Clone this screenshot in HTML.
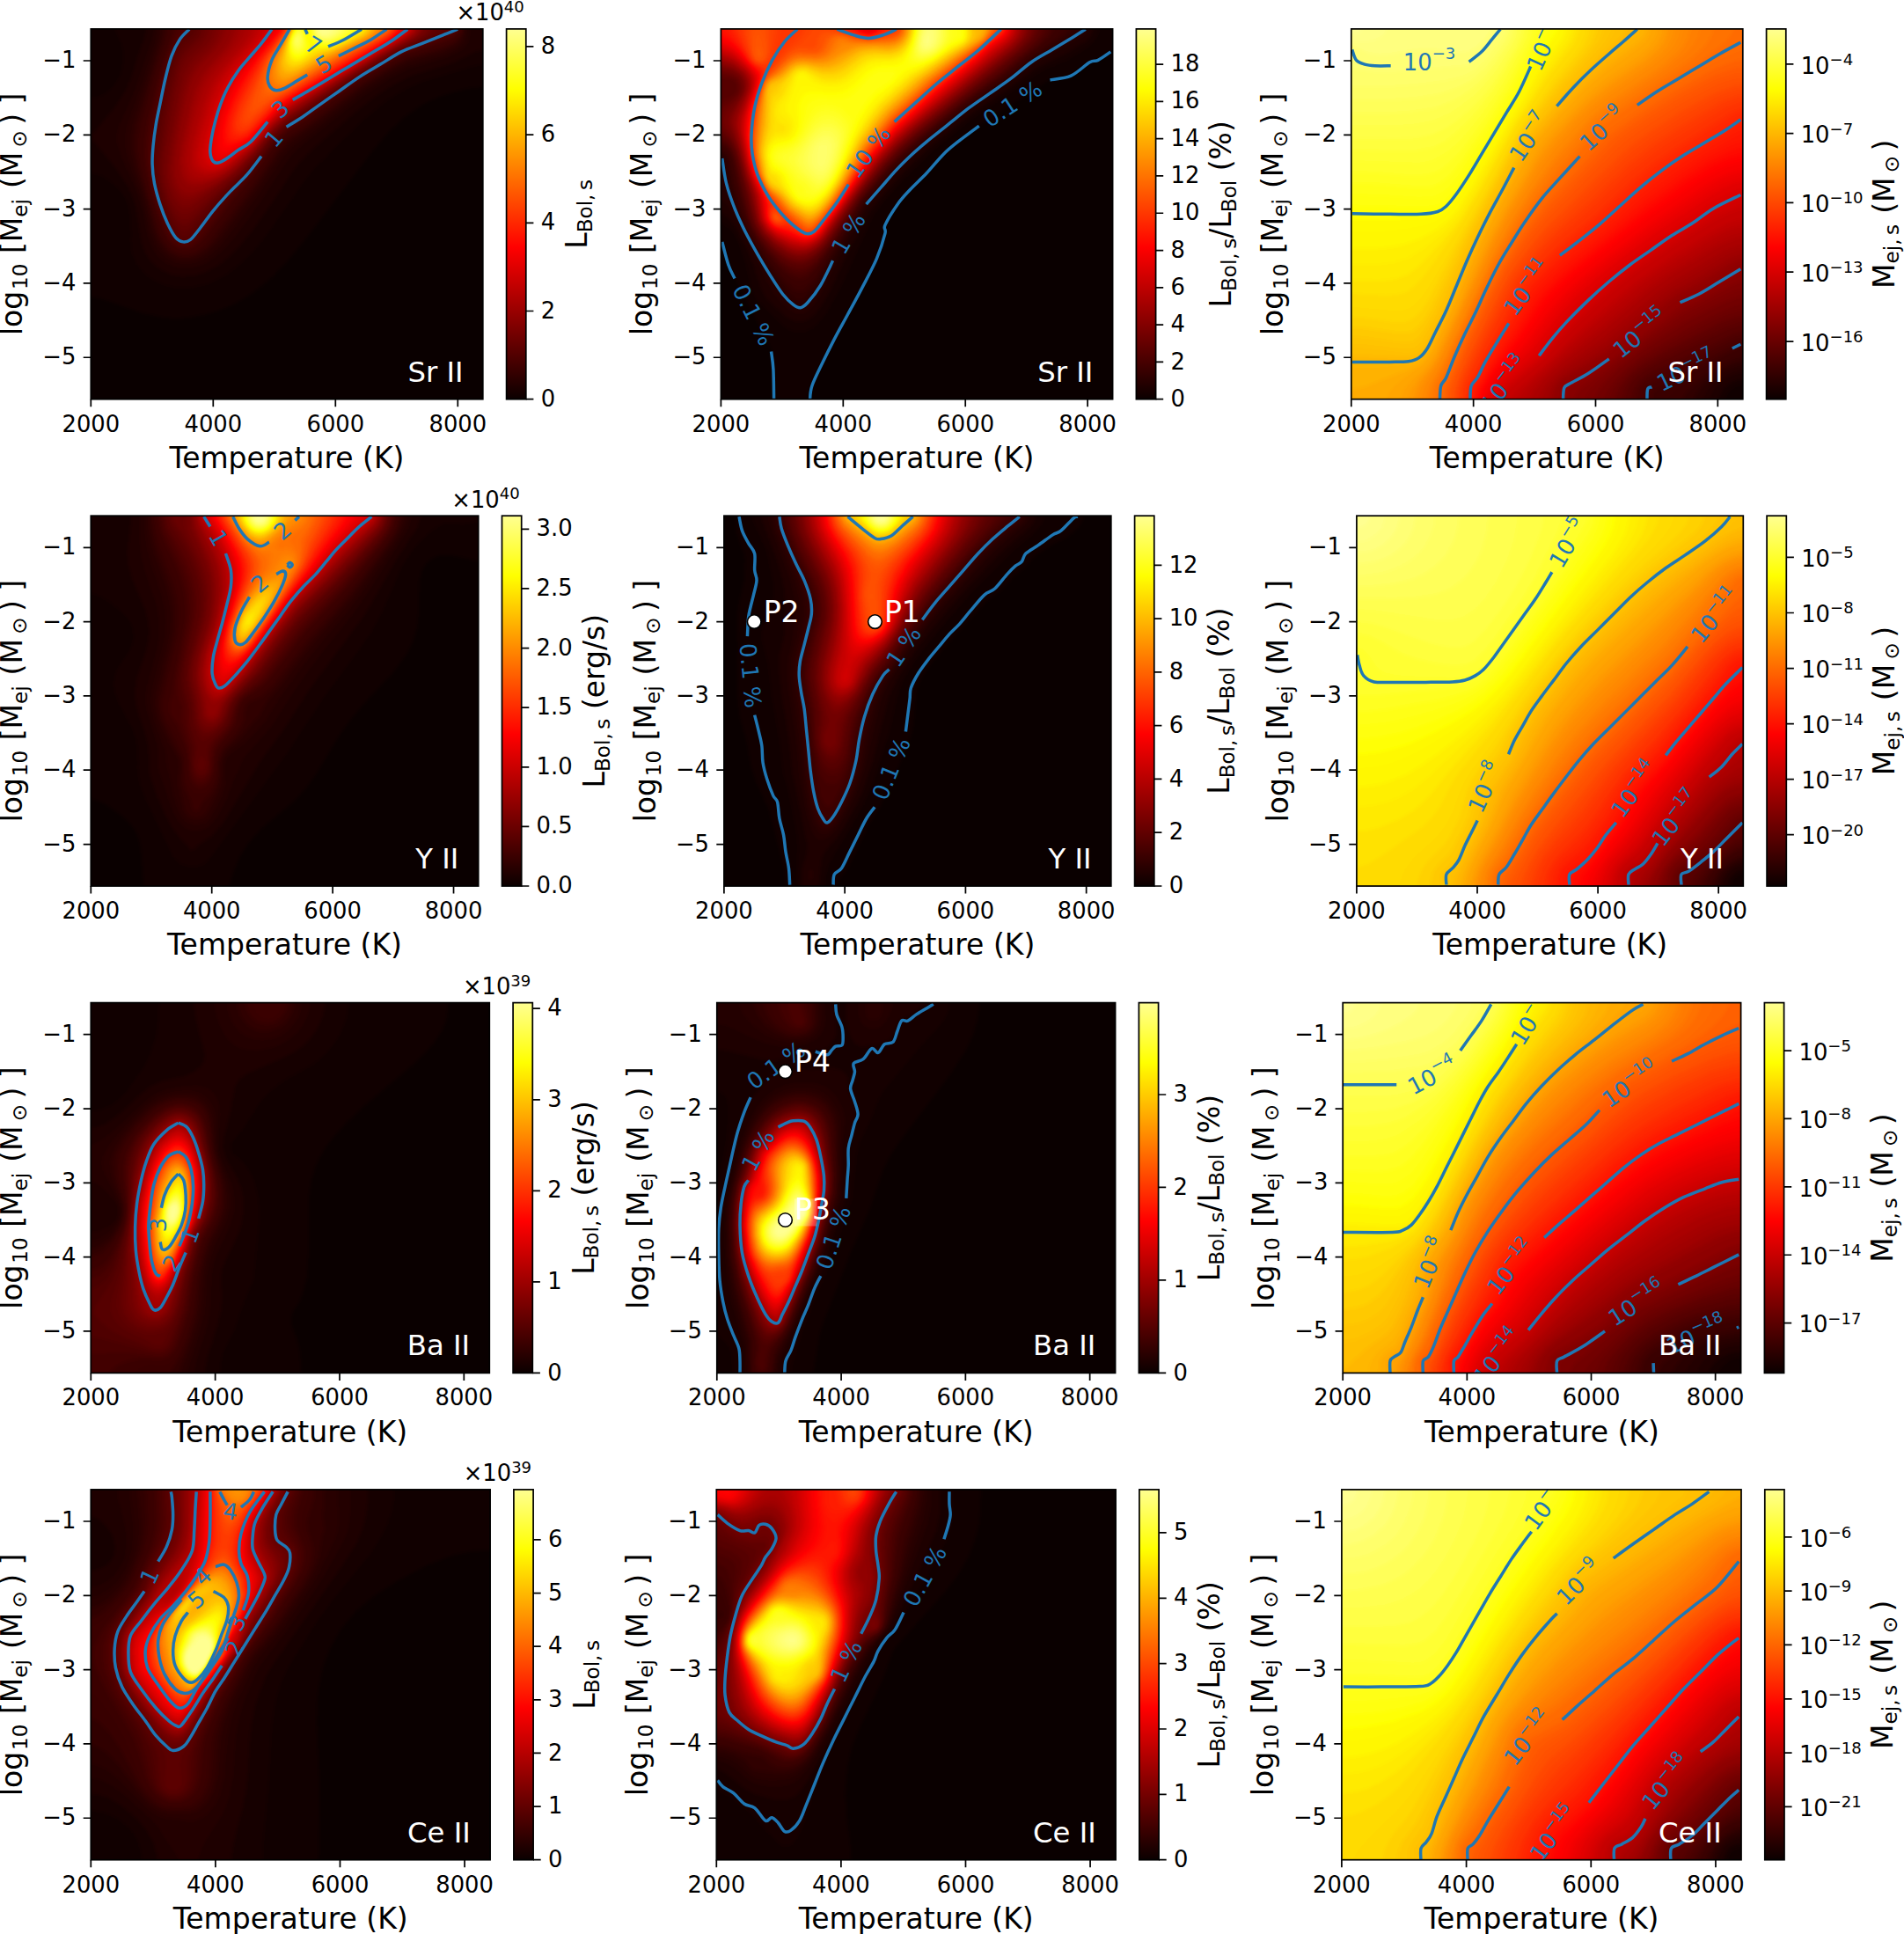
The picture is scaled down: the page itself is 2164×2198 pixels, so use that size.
<!DOCTYPE html>
<html><head><meta charset="utf-8"><title>figure</title>
<style>html,body{margin:0;padding:0;background:#fff;overflow:hidden}svg{display:block}text{font-family:'DejaVu Sans', 'Liberation Sans', sans-serif}</style></head>
<body><svg xmlns="http://www.w3.org/2000/svg" width="2164" height="2198" viewBox="0 0 2164 2198" font-family="DejaVu Sans, Liberation Sans, sans-serif"><defs><filter id="cm" x="-5%" y="-5%" width="110%" height="110%" color-interpolation-filters="sRGB"><feGaussianBlur stdDeviation="2"/><feComponentTransfer><feFuncR type="table" tableValues="0.04 0.05 0.06 0.07 0.08 0.09 0.1 0.11 0.12 0.12 0.13 0.14 0.15 0.16 0.17 0.18 0.19 0.2 0.21 0.22 0.23 0.23 0.24 0.25 0.26 0.27 0.28 0.29 0.3 0.31 0.32 0.33 0.34 0.34 0.35 0.36 0.37 0.38 0.39 0.4 0.41 0.42 0.43 0.44 0.45 0.45 0.46 0.47 0.48 0.49 0.5 0.51 0.52 0.53 0.54 0.55 0.56 0.56 0.57 0.58 0.59 0.6 0.61 0.62 0.63 0.64 0.65 0.66 0.67 0.67 0.68 0.69 0.7 0.71 0.72 0.73 0.74 0.75 0.76 0.77 0.78 0.78 0.79 0.8 0.81 0.82 0.83 0.84 0.85 0.86 0.87 0.88 0.89 0.89 0.9 0.91 0.92 0.93 0.94 0.95 0.96 0.97 0.98 0.98 0.99 1 1 1 1 1 1 1 1 1 1 1 1 1 1 1 1 1 1 1 1 1 1 1 1 1 1 1 1 1 1 1 1 1 1 1 1 1 1 1 1 1 1 1 1 1 1 1 1 1 1 1 1 1 1 1 1 1 1 1 1 1 1 1 1 1 1 1 1 1 1 1 1 1 1 1 1 1 1 1 1 1 1 1 1 1 1 1 1 1 1 1 1 1 1 1 1 1 1 1 1 1 1 1 1 1 1 1 1 1 1 1 1 1 1 1 1 1 1 1 1 1 1 1 1 1 1 1 1 1 1 1 1 1 1 1 1 1 1 1 1 1 1 1 1 1 1 1 1 1 1 1"/><feFuncG type="table" tableValues="0 0 0 0 0 0 0 0 0 0 0 0 0 0 0 0 0 0 0 0 0 0 0 0 0 0 0 0 0 0 0 0 0 0 0 0 0 0 0 0 0 0 0 0 0 0 0 0 0 0 0 0 0 0 0 0 0 0 0 0 0 0 0 0 0 0 0 0 0 0 0 0 0 0 0 0 0 0 0 0 0 0 0 0 0 0 0 0 0 0 0 0 0 0 0 0 0 0 0 0 0 0 0 0 0 0 0.01 0.02 0.03 0.04 0.05 0.06 0.07 0.08 0.09 0.1 0.1 0.11 0.12 0.13 0.14 0.15 0.16 0.17 0.18 0.19 0.2 0.2 0.21 0.22 0.23 0.24 0.25 0.26 0.27 0.28 0.29 0.3 0.31 0.32 0.32 0.33 0.34 0.35 0.36 0.37 0.38 0.39 0.4 0.41 0.42 0.42 0.43 0.44 0.45 0.46 0.47 0.48 0.49 0.5 0.51 0.52 0.53 0.54 0.54 0.55 0.56 0.57 0.58 0.59 0.6 0.61 0.62 0.63 0.64 0.65 0.65 0.66 0.67 0.68 0.69 0.7 0.71 0.72 0.73 0.74 0.75 0.76 0.76 0.77 0.78 0.79 0.8 0.81 0.82 0.83 0.84 0.85 0.86 0.86 0.87 0.88 0.89 0.9 0.91 0.92 0.93 0.94 0.95 0.96 0.97 0.97 0.98 0.99 1 1 1 1 1 1 1 1 1 1 1 1 1 1 1 1 1 1 1 1 1 1 1 1 1 1 1 1 1 1 1 1 1 1 1 1 1 1 1 1 1 1"/><feFuncB type="table" tableValues="0 0 0 0 0 0 0 0 0 0 0 0 0 0 0 0 0 0 0 0 0 0 0 0 0 0 0 0 0 0 0 0 0 0 0 0 0 0 0 0 0 0 0 0 0 0 0 0 0 0 0 0 0 0 0 0 0 0 0 0 0 0 0 0 0 0 0 0 0 0 0 0 0 0 0 0 0 0 0 0 0 0 0 0 0 0 0 0 0 0 0 0 0 0 0 0 0 0 0 0 0 0 0 0 0 0 0 0 0 0 0 0 0 0 0 0 0 0 0 0 0 0 0 0 0 0 0 0 0 0 0 0 0 0 0 0 0 0 0 0 0 0 0 0 0 0 0 0 0 0 0 0 0 0 0 0 0 0 0 0 0 0 0 0 0 0 0 0 0 0 0 0 0 0 0 0 0 0 0 0 0 0 0 0 0 0 0 0 0 0 0 0 0 0 0 0 0 0 0 0 0 0 0 0 0 0 0 0 0 0 0 0 0 0 0 0.02 0.03 0.04 0.06 0.07 0.09 0.1 0.11 0.13 0.14 0.15 0.17 0.18 0.2 0.21 0.22 0.24 0.25 0.27 0.28 0.29 0.31 0.32 0.33 0.35 0.36 0.37 0.39 0.4 0.42 0.43 0.44 0.46 0.47 0.48 0.5 0.51 0.53 0.54 0.55 0.57"/></feComponentTransfer></filter><linearGradient id="cbg" x1="0" y1="1" x2="0" y2="0"><stop offset="0" stop-color="#0b0000"/><stop offset=".41" stop-color="#ff0000"/><stop offset=".838" stop-color="#ffff00"/><stop offset="1" stop-color="#ffff91"/></linearGradient><clipPath id="c00"><rect x="103.3" y="32.9" width="445.5" height="420.8"/></clipPath><clipPath id="c01"><rect x="819.4" y="32.9" width="445.2" height="420.8"/></clipPath><clipPath id="c02"><rect x="1535.8" y="32.9" width="445" height="420.8"/></clipPath><clipPath id="c10"><rect x="103.3" y="586.2" width="440.4" height="420.8"/></clipPath><clipPath id="c11"><rect x="822.9" y="586.2" width="439.9" height="420.8"/></clipPath><clipPath id="c12"><rect x="1541.9" y="586.2" width="439.4" height="420.8"/></clipPath><clipPath id="c20"><rect x="103.3" y="1139.6" width="453" height="420.8"/></clipPath><clipPath id="c21"><rect x="814.8" y="1139.6" width="452.8" height="420.8"/></clipPath><clipPath id="c22"><rect x="1526.2" y="1139.6" width="452.4" height="420.8"/></clipPath><clipPath id="c30"><rect x="103.3" y="1692.9" width="453.8" height="420.8"/></clipPath><clipPath id="c31"><rect x="814.3" y="1692.9" width="453.8" height="420.8"/></clipPath><clipPath id="c32"><rect x="1524.9" y="1692.9" width="454.1" height="420.8"/></clipPath></defs><rect width="2164" height="2198" fill="#fff"/><g clip-path="url(#c00)"><g filter="url(#cm)"><rect x="93.3" y="22.9" width="465" height="440" fill="#000000"/><g transform="scale(.5)" fill-rule="evenodd"><path fill="#030303" d="M187 46l930 0 0 152-26 1-26 3-28 6-32 10-24 10-24 12-42 30-31 30-36 42-149 196-39 48-43 46-42 34-24 15-26 14-30 12-28 8-28 6-26 3-24 0-26-3-42-10-88-31-22-4-24 0z"/><path fill="#050505" d="M261 46l856 0 0 101-20 0-22 4-110 33-42 18-42 26-28 22-30 26-103 102-29 36-85 122-30 36-29 28-34 26-38 19-38 9-36 1-28-7-26-12-21-16-16-20-8-18-5-20-1-64-3-23-8-22-14-21-20-19-22-14-18-5-24-1 0-169 30-2 14-5 12-8 12-11 10-14 8-15 5-17 2-20-1-18-3-12-14-30z"/><path fill="#080808" d="M332 46l785 0 0 68-20 0-12 2-56 27-94 29-40 20-43 28-36 28-102 88-29 28-22 29-49 75-37 52-29 36-25 26-26 21-28 15-30 9-28 1-22-4-20-9-16-11-15-16-8-14-7-18-14-84-8-24-10-23-30-45-54-66-20 0 0-6 20 0 52-62 26-40 14-32 15-50 14-38 4-18z"/><path fill="#0b0b0b" d="M347 46l722 0 1 32-1 12-4 10-8 10-12 9-30 14-84 25-50 26-54 36-137 110-18 16-15 18-91 136-30 40-23 26-23 20-23 15-24 8-26 3-22-4-20-9-18-15-12-18-11-28-11-56-9-30-11-31-30-65-9-32 0-20 5-20 38-85 35-105 5-22z"/><path fill="#0d0d0d" d="M359 46l702 0 0 22-3 16-3 10-6 8-10 9-28 13-82 24-51 26-52 34-97 77-56 41-15 14-13 15-57 87-58 80-27 34-22 20-20 13-20 8-22 2-20-3-20-10-16-14-11-18-10-26-19-78-31-86-7-32 0-24 4-24 32-87 32-101 5-24z"/><path fill="#101010" d="M368 46l688 0 0 20-2 12-5 12-7 8-9 7-26 12-78 22-45 23-60 38-105 81-56 39-25 26-50 76-75 102-22 28-18 17-18 12-18 7-18 2-18-3-18-10-14-13-11-18-10-26-17-67-23-73-8-42-1-26 5-28 59-192 5-22z"/><path fill="#131313" d="M376 46l677 0 0 20-2 10-6 10-14 13-26 11-75 22-37 18-68 42-112 84-54 37-15 13-11 14-50 74-102 134-16 16-14 9-16 7-16 2-18-4-15-8-13-14-11-18-10-30-30-106-7-30-4-28 0-30 5-32 34-122 23-72 3-18z"/><path fill="#151515" d="M384 46l666 0 0 20-2 8-5 8-16 13-22 9-85 26-80 46-30 20-105 78-50 34-24 23-51 75-41 51-68 89-12 13-14 9-12 5-14 1-16-3-14-8-12-13-10-18-11-30-24-84-9-40-3-28 0-34 6-36 30-116 26-82 2-14z"/><path fill="#181818" d="M392 46l656 0 0 20-7 13-16 11-20 8-86 28-56 32-43 26-119 87-46 30-27 25-53 77-44 51-68 90-21 18-11 4-12 2-14-3-14-9-11-12-10-20-18-52-13-48-8-40-3-24 0-38 6-44 28-112 29-90z"/><path fill="#1b1b1b" d="M401 46l644 0 0 20-6 10-18 10-82 28-32 14-87 52-123 88-42 27-29 27-56 78-45 50-72 94-16 13-10 4-10 1-12-4-12-8-9-12-13-26-16-46-12-44-8-56 1-40 7-52 21-94 12-44 25-66z"/><path fill="#1d1d1d" d="M413 46l630 0 0 20-6 7-20 9-108 41-92 55-124 88-40 26-29 26-58 80-40 42-32 38-51 66-10 8-16 4-10-3-12-9-21-38-14-40-12-44-7-52 1-40 6-44 22-104 16-58 16-36 11-20z"/><path fill="#202020" d="M431 46l609 0 0 20-5 4-14 4-112 46-94 56-124 87-40 26-28 26-60 80-41 41-35 40-52 66-6 4-12 3-6-2-12-9-20-36-15-38-12-44-5-50 2-40 6-46 22-108 16-54 16-32 22-23z"/><path fill="#232323" d="M442 46l579 0 0 20-114 52-93 56-125 87-40 26-28 26-30 41-32 40-75 76-51 62-8 6-8 1-12-6-16-24-20-45-13-46-4-48 3-38 7-50 19-100 12-42 5-14 15-26 22-21 5-7 2-6z"/><path fill="#252525" d="M451 46l546 0 0 20-8 8-16 10-64 30-93 56-169 115-29 27-29 40-34 41-74 71-48 55-8 6-8 1-10-5-12-15-22-44-12-46-3-50 10-84 18-94 11-40 6-18 12-19 8-9 18-16 7-10 3-10z"/><path fill="#282828" d="M460 46l525 0 0 20-8 10-14 10-54 26-96 58-166 112-30 28-30 41-36 41-74 68-40 42-10 7-8 3-10-4-10-10-12-20-10-22-12-44-2-32 1-20 11-80 16-86 10-38 7-20 9-14 10-12 21-20 8-10 4-12z"/><path fill="#2a2a2a" d="M469 46l508 0 0 20-7 10-13 10-50 25-92 55-168 113-30 29-32 41-40 45-106 94-10 7-10 3-10-4-10-10-12-19-8-20-7-23-3-20-1-26 3-28 22-134 13-54 7-18 9-14 32-32 9-12 6-16z"/><path fill="#2d2d2d" d="M478 46l492 0 0 20-6 10-12 10-47 24-92 56-164 109-32 30-34 43-44 47-98 80-12 7-10 2-10-3-12-13-10-16-7-22-5-20-1-22 3-48 23-128 11-46 8-18 8-14 34-34 10-14 6-16z"/><path fill="#303030" d="M487 46l479 0 0 20-6 10-12 10-43 22-93 56-163 109-32 29-36 45-46 48-88 66-14 8-12 3-10-3-11-9-9-16-7-20-4-18-1-22 5-50 22-122 11-42 8-17 8-13 35-36 12-16 6-18z"/><path fill="#323232" d="M495 46l466 0 0 20-5 10-12 10-39 20-92 56-162 107-32 29-40 49-48 48-32 24-46 30-18 9-12 2-10-2-10-9-8-14-7-19-3-18 0-22 6-52 21-110 12-40 15-28 36-38 13-18 7-20z"/><path fill="#353535" d="M504 46l454 0 0 20-6 10-12 10-37 20-93 56-155 102-34 29-42 51-34 35-18 16-28 20-38 22-22 10-14 3-10-3-10-10-8-15-5-18-2-20 1-20 10-62 18-88 11-36 16-28 37-40 13-18 8-20z"/><path fill="#383838" d="M514 46l441 0 0 20-6 10-10 9-36 19-92 56-162 106-32 29-34 42-32 33-36 31-24 15-28 14-20 8-14 2-12-4-11-12-7-18-3-22 4-46 19-96 12-45 12-29 14-20 36-38 14-22 6-18z"/><path fill="#3a3a3a" d="M523 46l429 0 0 20-6 10-9 8-33 18-96 58-157 102-34 31-44 52-34 33-22 18-20 13-26 12-20 7-16 3-12-4-11-9-7-16-3-22 1-20 3-26 20-92 11-42 13-28 14-20 38-42 14-22 6-18z"/><path fill="#3d3d3d" d="M532 46l417 0 0 20-5 10-10 8-29 16-96 58-126 80-32 22-34 31-42 50-38 36-20 16-18 11-22 10-20 7-16 1-14-3-10-9-6-15-3-19 1-20 3-24 20-88 11-40 14-29 15-21 39-44 15-24 6-18z"/><path fill="#404040" d="M542 46l405 0 0 20-4 8-10 9-127 75-127 80-28 20-34 31-42 49-38 36-20 16-18 11-18 8-18 5-16 1-14-3-10-8-6-14-3-18 0-18 4-24 20-86 13-40 13-28 15-20 42-48 14-22 6-18z"/><path fill="#424242" d="M551 46l394 0 0 20-5 8-9 8-124 74-128 80-28 20-34 31-42 49-40 37-18 15-16 9-16 7-18 4-14 1-14-3-10-8-6-13-3-17 4-40 20-82 13-40 14-28 16-22 43-50 14-20 7-18z"/><path fill="#454545" d="M560 46l382 0 0 20-4 8-9 8-124 74-129 80-25 18-34 31-42 49-58 51-28 14-16 4-14 0-12-2-11-7-7-12-3-16 1-18 3-20 20-80 13-38 15-30 19-26 45-52 12-18 6-16z"/><path fill="#484848" d="M568 46l372 0 0 20-4 8-7 6-249 152-29 20-35 32-41 48-58 50-26 13-26 4-14-4-10-7-6-11-3-15 4-36 20-76 14-40 15-30 18-24 45-52 14-20 6-16z"/><path fill="#4a4a4a" d="M576 46l363 0-1 22-4 6-7 6-250 152-23 16-38 34-41 48-60 51-14 7-14 5-14 1-14-2-10-6-7-8-3-12-1-16 7-38 23-80 13-32 15-26 22-28 40-46 11-16 7-16z"/><path fill="#4d4d4d" d="M584 46l353 0-1 22-9 10-266 163-20 15-24 23-42 49-60 50-12 7-14 4-12 1-12-2-10-5-7-9-4-12 0-14 7-38 22-76 14-34 16-26 19-26 41-46 13-18 7-16z"/><path fill="#505050" d="M590 46l345 0-1 22-7 8-38 24-226 138-22 16-24 23-42 50-60 48-12 7-12 4-12 1-10-2-9-5-6-8-4-12 0-14 8-40 22-74 14-34 16-26 18-24 41-46 14-18 7-16z"/><path fill="#525252" d="M597 46l336 0 0 22-6 6-38 25-226 137-22 16-25 24-42 50-61 48-20 8-10 1-10-2-9-5-5-8-3-10 0-14 8-40 21-72 16-36 19-30 15-20 43-48 11-16 8-16z"/><path fill="#555555" d="M603 46l329 0 0 20-5 7-40 26-224 135-24 18-24 24-42 49-60 46-18 8-10 1-8-2-7-4-5-8-3-10 0-14 8-40 20-70 17-38 21-32 55-64 13-18 7-14z"/><path fill="#585858" d="M609 46l321 0 0 20-5 6-38 25-221 133-27 20-22 22-48 54-62 46-14 4-12-1-7-5-3-6-3-12 0-12 4-28 9-34 14-46 16-36 22-34 56-65 17-25 3-6z"/><path fill="#5a5a5a" d="M614 46l314 0 0 20-3 4-38 26-222 133-32 25-24 24-40 47-64 45-10 3-10-2-5-3-3-6-3-14 0-8 3-28 8-34 14-44 17-38 22-34 54-64 21-30z"/><path fill="#5d5d5d" d="M619 46l307 0 0 20-41 30-221 132-31 24-26 26-38 45-64 43-8 2-8-1-5-5-5-16 3-30 8-40 14-42 15-34 23-38 52-62 24-32z"/><path fill="#606060" d="M623 46l301 0 0 20-39 29-222 132-32 25-24 24-39 46-49 32-16 8-8 0-5-4-5-12 1-30 8-40 13-40 15-34 23-38 76-94 2-4z"/><path fill="#626262" d="M627 46l294 0 0 20-36 28-223 132-31 24-24 25-40 46-48 29-14 5-6 0-5-5-3-8 0-28 7-38 14-42 14-32 22-36 77-96 2-4z"/><path fill="#656565" d="M630 46l287 0 0 20-32 27-224 132-32 25-64 70-46 25-10 3-6-1-4-4-3-7 0-28 7-34 13-40 14-32 22-36 76-96 2-4z"/><path fill="#686868" d="M633 46l281 0 0 20-30 26-227 134-28 22-66 71-40 20-8 2-6 0-4-3-4-8 0-24 5-32 13-40 14-30 23-38 32-44 43-52 2-4z"/><path fill="#6a6a6a" d="M636 46l276 0 0 20-12 12-17 13-226 134-30 23-64 69-34 16-10 2-6-1-5-4-2-8-1-24 6-30 13-36 14-30 23-38 30-42 43-52 2-4z"/><path fill="#6d6d6d" d="M638 46l271 0 0 20-11 12-15 12-230 136-28 22-52 57-12 11-26 11-16 1-5-2-3-7-2-21 6-30 12-34 15-32 24-40 28-40 42-52 2-4z"/><path fill="#707070" d="M640 46l267 0 0 20-10 12-14 11-218 127-23 16-19 16-50 55-12 10-22 9-10 2-6-1-5-3-3-6-2-20 6-28 11-32 18-36 26-44 24-34 40-50 2-4z"/><path fill="#727272" d="M642 46l263 0 0 20-8 10-15 12-217 127-26 17-19 16-45 50-14 13-18 7-10 1-6-1-6-4-2-6-1-18 4-24 11-30 22-44 29-48 18-26 38-48 2-4z"/><path fill="#757575" d="M644 46l259 0 0 20-8 10-14 11-216 126-28 19-19 16-43 47-14 13-16 6-14 0-5-4-3-6-1-16 4-24 10-28 25-50 29-48 52-68 2-4z"/><path fill="#787878" d="M645 46l256 0-1 22-9 10-10 8-216 126-28 18-20 16-42 46-14 13-14 5-12-1-7-7-2-16 4-22 9-26 26-52 29-50 51-68z"/><path fill="#7a7a7a" d="M647 46l252 0-1 22-8 10-11 8-106 61-133 79-25 20-50 52-14 8-12-1-7-7-2-14 3-20 9-24 29-60 25-44 50-68z"/><path fill="#7d7d7d" d="M649 46l248 0-1 22-6 8-11 9-106 60-136 81-23 18-47 49-12 7-12 1-7-7-2-14 4-18 7-22 35-70 19-36 49-66z"/><path fill="#808080" d="M650 46l245 0 0 22-7 8-10 8-105 59-142 85-20 16-44 45-10 6-10 0-6-6-2-11 3-16 7-20 52-108 48-66z"/><path fill="#828282" d="M651 46l243 0-1 22-6 8-10 7-104 58-145 87-20 16-39 39-10 6-8 0-6-5-1-10 3-15 6-19 50-106 47-66z"/><path fill="#858585" d="M652 46l240 0-1 22-6 8-8 6-104 57-149 89-18 14-35 34-10 6-6 0-4-6-1-8 9-30 46-104 46-66z"/><path fill="#878787" d="M653 46l237 0 0 22-5 6-10 8-102 56-153 90-16 12-31 28-6 4-6 0-4-8 3-16 32-80 17-38 43-62z"/><path fill="#8a8a8a" d="M654 46l235 0 0 20-4 7-8 6-104 57-120 72-36 19-36 27-10 4-3-4 1-12 26-76 16-36 42-62z"/><path fill="#8d8d8d" d="M655 46l232 0 0 20-8 10-34 20-72 38-122 73-66 33-4-3 0-9 16-60 15-36 42-64z"/><path fill="#8f8f8f" d="M656 46l230 0 0 20-9 10-36 21-71 37-119 72-22 10-32 10-4-2-2-8 9-48 14-36 41-64z"/><path fill="#929292" d="M656 46l228 0 0 20-5 7-35 21-74 38-119 72-22 9-22 4-6-3-3-6 4-38 12-36 42-66z"/><path fill="#959595" d="M657 46l225 0 0 20-5 6-34 21-76 39-116 70-20 8-14 1-8-3-4-6-2-22 2-10 11-36 40-66z"/><path fill="#979797" d="M657 46l223 0 0 20-3 4-35 22-75 38-116 70-24 7-10-3-6-6-4-18 0-8 10-36 40-68z"/><path fill="#9a9a9a" d="M658 46l220 0 0 20-37 25-77 39-113 68-22 6-8-4-6-6-5-14 0-10 9-34 38-68z"/><path fill="#9d9d9d" d="M659 46l216 0 0 20-36 25-74 37-114 68-8 3-12 1-8-4-5-6-4-12 0-10 7-32 37-68z"/><path fill="#9f9f9f" d="M659 46l213 0 0 20-35 25-75 37-109 64-8 4-10 1-10-5-7-12-1-10 2-16 4-18 35-68z"/><path fill="#a2a2a2" d="M660 46l208 0 0 20-31 23-98 50-78 46-14 7-10 1-8-3-8-12-1-10 2-22 4-12 33-66z"/><path fill="#a5a5a5" d="M660 46l204 0 0 20-16 14-13 9-98 49-74 44-14 6-10 2-8-4-7-10-1-12 2-20 4-14 31-62z"/><path fill="#a7a7a7" d="M661 46l199 0 0 20-12 12-14 10-97 48-70 42-16 7-10 1-8-4-6-8-2-12 2-18 10-28 23-48z"/><path fill="#aaaaaa" d="M661 46l196 0 0 20-11 12-14 10-97 47-64 39-18 7-10 1-8-4-5-8-2-12 1-14 10-30 22-48z"/><path fill="#adadad" d="M662 46l192 0 0 20-10 12-13 9-98 47-58 35-16 7-12 3-8-3-5-6-3-12 0-14 11-34 20-44z"/><path fill="#afafaf" d="M662 46l190 0 0 20-9 11-14 10-98 47-54 32-16 7-12 2-8-3-5-6-3-10 0-14 13-38 16-38z"/><path fill="#b2b2b2" d="M663 46l186 0 0 20-7 10-14 10-98 46-53 32-16 6-10 1-8-3-4-5-3-9 0-12 10-36 17-40z"/><path fill="#b5b5b5" d="M663 46l184 0 0 20-7 10-15 10-96 45-50 30-14 5-12 2-6-2-6-6-2-8-1-12 9-36 16-38z"/><path fill="#b7b7b7" d="M664 46l181 0 0 20-7 10-13 9-68 32-30 13-46 28-14 5-12 1-7-2-5-6-3-18 10-38 14-34z"/><path fill="#bababa" d="M664 46l179 0 0 20-7 10-13 8-68 33-29 11-45 27-14 5-10 1-6-2-5-5-3-8 0-10 7-36 14-34z"/><path fill="#bdbdbd" d="M665 46l176 0 0 20-8 10-12 8-66 31-30 11-42 26-14 5-10 1-6-3-5-5-3-8 0-10 7-34 13-32z"/><path fill="#bfbfbf" d="M666 46l173 0 0 20-6 9-12 8-66 31-32 11-40 25-12 4-10 1-6-3-5-4-3-8 0-10 6-34 13-30z"/><path fill="#c2c2c2" d="M666 46l171 0 0 20-4 6-7 6-41 21-32 15-30 9-40 25-10 3-10 1-6-3-5-5-3-8 0-10 5-30 12-30z"/><path fill="#c5c5c5" d="M667 46l168 0 0 20-4 6-6 5-42 22-32 14-30 9-38 23-10 4-8 0-6-2-5-5-3-8-1-10 5-30 12-28z"/><path fill="#c7c7c7" d="M667 46l166 0 0 20-4 6-6 5-42 21-30 14-30 7-34 22-10 4-10 1-6-2-5-4-3-8-1-10 4-28 11-28z"/><path fill="#cacaca" d="M668 46l163 0 0 20-8 9-44 23-28 12-30 7-34 22-10 4-8 0-6-1-6-6-4-18 4-26 11-26z"/><path fill="#cdcdcd" d="M669 46l160 0 0 20-6 8-46 24-28 12-30 5-32 22-10 3-8 0-6-2-5-6-3-18 3-24 11-24z"/><path fill="#cfcfcf" d="M670 46l158 0 0 20-7 7-44 23-28 12-32 4-28 21-10 4-8 1-6-2-6-6-3-18 3-22 4-12 7-12z"/><path fill="#d2d2d2" d="M670 46l156 0 0 20-6 6-45 24-28 11-33 3-25 20-10 5-8 0-6-3-4-5-4-19 4-22 9-20z"/><path fill="#d4d4d4" d="M671 46l152 0 0 20-4 5-38 21-30 13-8 2-32-1-20 21-10 5-8 0-6-2-5-4-3-8-1-12 1-10 4-14 8-16z"/><path fill="#d7d7d7" d="M672 46l21 0 0 22 10 36-2 8-6 8-8 6-10 4-6-1-6-4-4-8-2-11 0-10 4-13 9-17zM702 46l119 0 0 20-40 24-30 13-10 2-20-2-8-5-8-16-3-16z"/><path fill="#dadada" d="M673 46l18 0 0 20 9 38-2 8-5 7-8 6-8 2-6-1-6-5-4-7-1-12 5-22 8-14zM704 46l113 0 0 20-38 24-28 12-8 1-16-1-10-5-9-13-4-18z"/><path fill="#dcdcdc" d="M674 46l15 0 0 20 8 36-1 8-5 7-6 5-8 2-6-1-6-5-4-18 4-18 9-16zM706 46l106 0 0 20-33 22-26 12-10 2-14-2-10-4-9-12-4-18z"/><path fill="#dfdfdf" d="M676 46l11 0 0 20 8 34-1 8-4 6-5 5-8 3-6-2-4-3-6-17 5-20 10-14zM707 46l100 0 0 20-18 14-18 10-24 10-16-1-10-4-9-11-5-18z"/><path fill="#e2e2e2" d="M678 46l7 0 0 20 4 10 4 24-4 12-6 5-6 2-6-2-4-4-5-15 5-18 11-14zM709 46l94 0 0 20-14 12-18 11-24 9-14-1-12-4-8-9-4-16z"/><path fill="#e4e4e4" d="M710 46l88 0 0 20-12 12-17 10-22 8-14 0-12-5-7-9-4-16zM680 68l5 2 2 4 4 26-5 12-5 3-6 1-8-7-3-7 0-8 6-16z"/><path fill="#e7e7e7" d="M711 46l83 0 0 20-12 12-17 10-18 7-14-1-12-5-6-7-4-16zM677 72l4-2 4 4 4 22-3 12-9 5-8-4-5-13 5-14z"/><path fill="#eaeaea" d="M712 46l79 0 0 20-12 12-18 10-14 5-14 0-10-4-7-7-4-16zM677 74l5 0 3 4 2 18-2 9-8 5-4-1-4-4-3-9 3-12z"/><path fill="#ececec" d="M714 46l73 0 0 20-12 12-18 10-12 4-14-2-10-4-4-6-3-14zM675 78l4-2 3 2 3 14-2 10-6 5-6-3-4-8 2-8z"/><path fill="#efefef" d="M715 46l68 0 0 20-9 10-19 11-12 3-12-1-10-5-4-6-2-12zM675 82l4-2 2 1 2 9-1 8-5 5-4-1-4-6 2-8z"/><path fill="#f2f2f2" d="M716 46l63 0 0 20-9 10-17 10-10 3-12-2-8-4-4-6-3-11zM676 86l3 0 1 6-3 5-5-3 1-4z"/><path fill="#f4f4f4" d="M717 46l58 0 0 20-7 8-16 10-11 3-10-2-8-4-4-9z"/><path fill="#f7f7f7" d="M719 46l51 0 0 20-7 8-12 8-10 3-10-2-7-3-4-8z"/><path fill="#fafafa" d="M720 46l45 0 0 20-7 8-11 7-8 2-8-2-6-4-4-9z"/><path fill="#fcfcfc" d="M723 46l35 0-1 22-6 6-8 5-6 1-7-2-4-4-3-8z"/><path fill="#ffffff" d="M726 46l21 0 0 20-7 8-7 0-6-6z"/></g></g><g fill="none" stroke="#1f77b4" stroke-width="3.5" stroke-linejoin="round"><path d="M215.14,33.22C213.36,35.12 207.82,39.55 204.45,44.62C201.09,49.68 197.73,56.09 194.96,63.61C192.19,71.13 190.01,80.62 187.84,89.72C185.66,98.82 183.68,109.51 181.9,118.21C180.12,126.91 178.46,134.04 177.15,141.95C175.85,149.86 174.74,158.17 174.07,165.69C173.39,173.21 172.88,179.93 173.12,187.05C173.35,194.18 174.03,200.9 175.49,208.42C176.96,215.94 179.45,224.64 181.9,232.16C184.35,239.68 187.24,247.19 190.21,253.52C193.18,259.86 196.74,266.58 199.71,270.14C202.67,273.7 205.24,274.49 208.01,274.89C210.78,275.29 212.96,275.29 216.32,272.52C219.69,269.75 223.84,263.81 228.19,258.27C232.55,252.73 236.9,246.01 242.44,239.28C247.98,232.55 255.1,224.64 261.43,217.92C267.76,211.19 274.48,205.65 280.42,198.92C286.35,192.2 294.27,181.12 297.04,177.56"/><path d="M325.52,144.32C328.69,142.34 338.58,136.41 344.52,132.45C350.45,128.5 354.41,125.33 361.13,120.58C367.86,115.84 376.96,109.51 384.87,103.97C392.79,98.43 400.7,92.49 408.61,87.35C416.53,82.21 424.44,77.85 432.35,73.1C440.27,68.36 448.18,62.82 456.09,58.86C464,54.9 471.92,52.53 479.83,49.37C487.74,46.2 496.84,42.56 503.57,39.87C510.3,37.18 517.42,34.33 520.19,33.22"/><path d="M308.91,33.22C306.93,35.91 301.39,43.91 297.04,49.37C292.69,54.83 287.15,60.84 282.79,65.98C278.44,71.13 274.88,74.69 270.92,80.23C266.97,85.77 262.42,92.89 259.05,99.22C255.69,105.55 253.12,111.88 250.75,118.21C248.37,124.54 246.51,130.87 244.81,137.2C243.11,143.53 241.53,150.26 240.54,156.19C239.55,162.13 238.56,168.26 238.88,172.81C239.19,177.36 240.66,181.52 242.44,183.49C244.22,185.47 246.39,185.67 249.56,184.68C252.72,183.69 257.87,179.93 261.43,177.56C264.99,175.18 266.97,173.21 270.92,170.44C274.88,167.67 279.63,166.28 285.17,160.94C290.71,155.6 300.99,142.15 304.16,138.39"/><path d="M332.65,113.46C335.42,111.88 342.54,107.92 349.26,103.97C355.99,100.01 365.09,94.47 373,89.72C380.92,84.97 388.83,80.23 396.74,75.48C404.66,70.73 412.57,65.98 420.48,61.24C428.4,56.49 437.1,51.66 444.22,46.99C451.34,42.32 460.05,35.52 463.21,33.22"/><path d="M329.09,33.22C327.31,36.31 321.77,45.88 318.4,51.74C315.04,57.6 311.28,62.42 308.91,68.36C306.53,74.29 304.55,82.4 304.16,87.35C303.76,92.29 304.95,95.46 306.53,98.03C308.12,100.6 310.89,102.38 313.65,102.78C316.42,103.17 319.19,102.19 323.15,100.41C327.11,98.62 333.04,94.67 337.39,92.1C341.75,89.52 347.29,86.16 349.26,84.97"/><path d="M384.87,63.61C388.04,62.03 397.93,57.08 403.86,54.11C409.8,51.15 414.55,49.29 420.48,45.8C426.42,42.32 436.31,35.32 439.47,33.22"/><path d="M346.89,33.22L349.26,38.68"/><path d="M373,52.93C375.77,51.74 383.29,49.09 389.62,45.8C395.95,42.52 407.43,35.32 410.99,33.22"/></g><g fill="#1f77b4" font-size="25.8" text-anchor="middle" dominant-baseline="central"><text transform="translate(311.28,157.38) rotate(-49.4)">1</text><text transform="translate(318.4,124.14) rotate(-41.19)">3</text><text transform="translate(368.26,73.1) rotate(-30.96)">5</text><text transform="translate(356.39,51.74) rotate(30.96)">7</text></g><text x="526.5" y="433.6" fill="#fff" font-size="32.3" text-anchor="end">Sr II</text></g><rect x="103.3" y="32.9" width="445.5" height="420.8" fill="none" stroke="#000" stroke-width="1.72"/><rect x="575.6" y="32.9" width="22.2" height="420.8" fill="url(#cbg)" stroke="#000" stroke-width="1.72"/><path d="M103.3,453.7v8.6M242.3,453.7v8.6M381.3,453.7v8.6M520.3,453.7v8.6M103.3,69.01h-8.6M103.3,153.32h-8.6M103.3,237.62h-8.6M103.3,321.93h-8.6M103.3,406.24h-8.6M597.8,453.7h8.6M597.8,353.51h8.6M597.8,253.32h8.6M597.8,153.13h8.6M597.8,52.94h8.6" stroke="#000" stroke-width="1.72" fill="none"/><g font-size="25.8"><text x="103.3" y="490.5" text-anchor="middle">2000</text><text x="242.3" y="490.5" text-anchor="middle">4000</text><text x="381.3" y="490.5" text-anchor="middle">6000</text><text x="520.3" y="490.5" text-anchor="middle">8000</text><text x="86.4" y="77.11" text-anchor="end">−1</text><text x="86.4" y="161.42" text-anchor="end">−2</text><text x="86.4" y="245.72" text-anchor="end">−3</text><text x="86.4" y="330.03" text-anchor="end">−4</text><text x="86.4" y="414.34" text-anchor="end">−5</text><text x="614.7" y="461.8">0</text><text x="614.7" y="361.61">2</text><text x="614.7" y="261.42">4</text><text x="614.7" y="161.23">6</text><text x="614.7" y="61.04">8</text></g><text x="595.8" y="23.2" font-size="25.8" text-anchor="end">×10<tspan font-size="18.06" dy="-9.3">40</tspan></text><text transform="translate(667.2,243.3) rotate(-90)" font-size="33" text-anchor="middle"><tspan dy="0">L</tspan><tspan font-size="23.1" dy="5.4">Bol,</tspan><tspan font-size="23.1" dy="0" dx="4.6">s</tspan></text><text x="326.05" y="531.9" font-size="33" text-anchor="middle">Temperature (K)</text><text transform="translate(25.3,243.3) rotate(-90)" font-size="33" text-anchor="middle"><tspan dy="0">log</tspan><tspan font-size="23.1" dy="6" dx="1.8">10</tspan><tspan dy="-6" dx="1"> [M</tspan><tspan font-size="23.1" dy="5.4">ej</tspan><tspan dy="-5.4" dx="1.5"> (M</tspan><tspan font-size="23.1" dy="5" dx="5.3">⊙</tspan><tspan dy="-5" dx="6.3">) ]</tspan></text><g clip-path="url(#c01)"><g filter="url(#cm)"><rect x="809.4" y="22.9" width="465" height="440" fill="#000000"/><g transform="scale(.5)" fill-rule="evenodd"><path fill="#030303" d="M1619 46l930 0 0 69-24 1-28 19-22 7-42 29-42 9-8 3-158 103-48 36-34 29-36 41-38 38-26 30-30 47-3 7-1 20-19 56-32 64-63 116-52 102-7 34 0 20-73 0-2-84-6-44-42-84-21-38-22-46-13-30-12-49-6-6-20 0z"/><path fill="#050505" d="M1619 46l880 0 0 20-2 12-4 10-16 17-52 32-44 18-17 9-149 102-83 66-72 70-45 50-29 38-76 168-31 54-14 18-16 15-16 8-16 3-18-4-18-10-62-61-12-23-6-34-6-24-14-42-11-22-11-16-12-9-8-3-20 0z"/><path fill="#080808" d="M1619 46l867 0 0 20-6 16-13 13-44 26-68 34-54 40-94 65-86 68-64 60-52 58-28 35-52 99-37 80-22 38-11 14-12 10-12 7-14 2-14-2-17-9-17-16-28-28-14-28-14-44-16-39-26-50-14-18-12-10-6-2-20 0z"/><path fill="#0b0b0b" d="M1619 46l859 0 0 20-5 10-10 9-112 63-52 39-93 65-91 72-44 40-32 32-64 74-56 97-41 85-13 23-13 19-11 12-12 8-12 2-12-3-14-8-20-19-15-18-14-26-63-130-26-42-8-9-6-4-20 0z"/><path fill="#0d0d0d" d="M1619 46l852 0 0 20-8 8-120 71-47 37-97 68-90 72-40 36-34 34-65 74-73 124-30 62-28 39-12 10-8 2-8-1-12-8-21-20-8-12-48-80-32-60-23-50-19-50-9-34-20 0z"/><path fill="#101010" d="M1619 46l834 0 0 20-31 22-79 50-50 40-92 65-96 77-41 36-32 32-65 75-76 125-32 58-26 31-8 6-8 2-12-5-20-19-30-40-31-47-28-50-21-50-16-56-10-58-4-6-6-4-20 0z"/><path fill="#131313" d="M1619 46l809 0 0 20-7 10-17 14-64 44-49 40-95 68-95 76-41 36-32 32-65 76-110 176-20 20-8 5-8 1-14-5-18-16-32-38-31-43-23-40-17-46-16-60-9-50-3-10-6-8-7-5-22-1z"/><path fill="#151515" d="M1619 46l792 0 0 20-9 14-20 18-47 34-50 41-90 65-97 78-41 36-32 32-63 74-68 108-41 59-18 17-10 5-8 1-8-1-10-5-22-19-30-34-25-35-20-34-12-34-19-70-10-52-4-12-6-9-8-6-24-2z"/><path fill="#181818" d="M1619 46l778 0 0 20-9 16-23 22-82 66-93 68-97 78-41 36-29 30-62 73-68 105-34 47-22 22-10 5-10 2-18-6-24-18-30-33-23-31-16-28-12-32-20-78-9-47-5-13-7-12-10-7-24-1z"/><path fill="#1b1b1b" d="M1619 46l768 0 0 20-3 8-7 10-22 22-74 61-94 69-97 78-40 36-31 32-60 71-65 101-31 41-24 23-12 6-10 2-18-5-24-17-28-28-23-30-15-26-11-28-21-84-9-44-5-16-8-13-10-9-6-2-20 0z"/><path fill="#1d1d1d" d="M1619 46l759 0 0 20-4 10-6 10-22 22-67 56-94 70-99 80-38 34-31 32-58 70-67 102-25 33-14 14-14 12-12 5-12 2-20-6-22-16-26-26-24-30-12-22-9-24-31-130-7-20-9-15-10-8-6-2-20 0z"/><path fill="#202020" d="M1619 46l751 0 0 20-3 10-6 10-25 26-59 49-96 73-97 78-38 34-31 33-58 70-65 99-23 29-14 15-14 11-12 6-14 2-20-6-22-14-26-25-22-29-11-19-10-24-31-132-8-22-9-14-11-10-6-3-20 0z"/><path fill="#232323" d="M1619 46l745 0 0 20-4 12-8 12-28 28-51 42-94 72-99 80-35 32-32 33-56 69-65 98-21 27-16 16-14 11-12 5-14 2-20-5-22-14-26-24-22-28-10-18-8-20-32-135-8-24-10-16-12-11-6-2-20 0 0-84 22 0 18-6 11-8 3-12-2-10-8-5-12-2-32 0z"/><path fill="#252525" d="M1619 46l739 0 0 20-4 12-7 12-28 28-46 38-88 68-96 78-46 40-32 34-56 69-63 95-19 25-16 16-14 11-14 7-14 1-20-5-22-13-26-24-21-26-10-18-6-18-33-136-9-26-11-18-12-12-6-2-20 0 0-66 22 0 16-8 17-14 3-6 1-10-3-14-10-7-16-3-30-1z"/><path fill="#282828" d="M1619 46l734 0 0 20-4 12-7 12-28 28-229 184-43 38-33 36-54 67-64 95-18 24-16 16-14 10-14 6-14 2-20-5-22-13-26-24-20-24-9-16-6-18-11-50-24-92-8-23-12-21-12-12-6-4-20 0 0-47 20 0 16-9 22-22 4-8 1-10-3-14-12-10-20-6-28-1z"/><path fill="#2a2a2a" d="M1619 46l729 0 0 20-3 12-8 12-26 27-227 183-43 38-34 37-52 65-65 96-17 23-16 15-14 10-14 6-14 2-20-5-24-15-24-21-19-23-9-16-5-16-13-58-12-38-12-52-8-22-14-25-14-16-22-2 0-22 20 0 8-7 31-34 6-12 1-12-4-15-14-12-20-6-28 0z"/><path fill="#2d2d2d" d="M1619 46l725 0 0 20-4 12-7 12-24 26-228 184-40 36-34 36-52 65-65 97-17 22-16 15-14 10-14 6-14 1-12-2-14-5-30-21-26-28-15-28-14-60-13-44-14-59-8-21-18-34-3-10 1-8 4-10 24-31 7-13 4-12-1-12-7-14-15-11-20-6-26 0z"/><path fill="#303030" d="M1619 46l721 0 0 20-3 10-6 12-24 26-227 184-41 37-34 37-50 63-67 99-15 19-14 14-14 10-14 6-14 2-12-2-14-5-30-20-26-26-15-28-14-60-14-46-13-56-21-52-3-12 1-10 3-10 28-45 3-13 0-12-4-8-5-8-16-11-20-6-26 0z"/><path fill="#323232" d="M1619 46l717 0 0 20-2 10-7 12-22 24-228 186-40 36-34 37-48 62-68 99-14 19-14 14-14 9-14 6-14 2-12-2-14-5-30-20-24-24-9-13-7-14-13-60-14-46-13-54-17-48-4-16 0-10 4-12 26-46 2-12 0-12-3-9-6-8-18-13-20-6-26-1z"/><path fill="#353535" d="M1619 46l714 0 0 20-3 10-6 12-20 22-227 186-40 36-34 37-46 59-84 121-14 13-14 10-14 5-14 2-12-2-14-5-30-19-23-23-15-26-14-64-13-40-15-60-14-42-3-16 0-12 4-12 24-48 3-12-1-12-9-16-20-15-20-6-26-1z"/><path fill="#383838" d="M1619 46l710 0 0 20-2 10-5 10-19 22-227 186-39 36-36 39-44 57-86 122-12 12-14 9-14 6-14 1-12-1-14-6-30-19-23-22-13-24-14-62-15-46-29-112 0-12 3-12 24-50 3-12-1-12-3-8-6-9-20-16-22-7-26-1z"/><path fill="#3a3a3a" d="M1619 46l707 0 0 20-2 10-5 10-18 20-228 188-36 33-32 34-30 39-30 40-57 84-17 22-12 12-14 9-14 5-14 2-12-2-14-5-30-19-22-22-13-22-13-60-16-48-27-110 0-12 3-14 24-52 1-12 0-10-3-9-7-9-21-17-22-8-26-1z"/><path fill="#3d3d3d" d="M1619 46l705 0 0 20-3 10-5 10-17 19-226 187-38 35-30 32-24 30-36 49-74 106-12 12-14 9-14 5-12 1-12-1-14-5-30-18-22-20-14-23-12-60-17-52-25-104 0-14 3-14 23-54 1-12-1-10-4-10-6-9-22-17-22-8-26-1z"/><path fill="#404040" d="M1619 46l702 0 0 20-6 18-18 20-224 186-38 35-28 30-22 27-40 54-74 106-12 12-14 9-12 5-14 1-12-1-14-5-30-18-21-19-13-22-5-16-7-43-19-55-23-100 0-14 3-14 22-56 2-12-1-10-4-10-6-9-24-19-22-9-26 0z"/><path fill="#424242" d="M1619 46l699 0 0 20-6 18-16 18-225 187-36 34-28 29-22 27-40 55-74 107-12 11-14 9-12 5-14 1-24-6-32-18-20-18-13-21-4-14-9-48-20-60-20-92 0-14 3-14 22-56 2-12-1-12-5-10-7-10-24-19-22-8-26-1z"/><path fill="#454545" d="M1619 46l697 0 0 20-7 18-14 16-224 187-36 33-30 32-20 25-115 163-11 10-14 9-12 5-14 1-24-6-32-18-19-17-13-20-4-14-8-48-15-40-6-22-19-88 0-16 3-14 22-58 1-12-1-10-4-10-8-10-25-21-22-9-26-1z"/><path fill="#484848" d="M1619 46l695 0 0 20-7 18-14 16-223 186-35 32-30 32-20 25-115 163-11 11-12 8-12 4-14 2-12-2-14-4-32-18-20-17-11-20-11-58-17-44-6-24-17-82 2-28 21-58 3-14-1-12-4-10-7-10-14-13-14-11-22-9-26-1z"/><path fill="#4a4a4a" d="M1619 46l692 0 0 20-5 16-13 15-224 188-34 31-30 32-20 25-116 165-10 9-12 8-12 5-14 1-24-6-34-18-18-16-12-19-11-58-16-44-8-28-15-76 1-28 22-62 2-14-1-12-4-10-8-10-28-24-22-9-26-1z"/><path fill="#4d4d4d" d="M1619 46l690 0 0 20-6 16-12 14-30 24-41 36-151 127-34 31-30 32-20 25-116 165-10 10-12 7-12 5-12 1-24-5-34-17-18-15-13-20-11-58-16-44-8-26-14-78 2-30 20-60 3-14-1-12-4-10-8-10-30-27-22-9-26-1z"/><path fill="#505050" d="M1619 46l688 0 0 20-5 14-11 14-31 24-41 37-68 56-90 77-26 24-32 34-18 23-116 165-10 10-12 8-12 4-12 1-24-5-34-17-18-15-11-18-11-57-17-45-9-30-13-72 2-30 21-64 2-14-1-12-5-10-8-11-18-17-14-10-20-9-26-1z"/><path fill="#525252" d="M1619 46l686 0 0 20-5 14-11 13-32 25-38 34-156 132-26 24-32 34-20 25-117 167-11 10-10 6-12 5-12 1-22-5-36-18-18-15-10-16-11-56-17-46-9-32-12-68 2-34 20-62 3-14-1-12-5-10-8-10-20-20-14-11-20-8-26-1z"/><path fill="#555555" d="M1619 46l684 0 0 20-5 14-10 12-31 23-38 35-156 132-28 26-50 56-118 169-10 10-10 6-12 4-10 1-22-5-38-17-16-13-11-17-4-12-6-44-19-46-8-30-12-68 0-18 2-18 20-62 3-14-1-12-4-10-8-10-22-22-14-11-20-9-26-1z"/><path fill="#585858" d="M1619 46l683 0 0 20-5 12-10 12-31 24-35 32-75 62-109 96-52 58-118 170-10 9-10 7-12 4-10 0-22-5-38-17-16-13-10-15-4-12-2-26-4-18-19-46-8-32-11-64 0-20 2-18 20-64 2-14 0-12-4-8-8-10-24-25-14-11-20-9-26-1z"/><path fill="#5a5a5a" d="M1619 46l681 0 0 20-5 12-10 12-30 22-34 32-77 64-107 94-52 58-76 112-44 60-8 8-10 6-12 4-10 1-20-5-40-17-16-13-9-14-3-12-3-26-3-16-20-48-9-34-10-62 2-38 5-20 16-46 2-14-1-10-10-16-27-29-14-12-20-9-26-1z"/><path fill="#5d5d5d" d="M1619 46l679 0 0 20-5 12-8 10-30 22-34 32-78 65-106 93-53 60-75 110-43 60-17 14-12 4-10 1-20-4-42-18-14-11-10-14-3-12-3-26-3-14-6-18-14-32-9-32-10-62 0-20 3-20 4-20 16-48 2-14-1-10-9-14-29-31-14-12-20-10-26-1z"/><path fill="#606060" d="M1619 46l349 0 0 20 7 1 5-1 0-20 316 0 0 20-3 10-9 10-31 24-32 30-80 66-104 92-54 61-73 109-45 62-8 7-10 7-10 3-10 1-18-4-44-19-14-10-9-13-3-12-2-24-3-14-7-20-14-32-9-34-9-60 0-20 3-22 4-20 15-46 3-14-1-10-9-14-31-34-14-12-20-10-26-1z"/><path fill="#626262" d="M1619 46l342 0 0 20 6 4 8 1 6-1 5-4 0-20 309 0 0 20-4 10-8 9-30 22-32 31-80 66-104 93-54 60-74 110-44 61-16 13-10 4-10 1-18-3-46-19-14-10-8-13-3-11-2-24-2-12-7-20-15-34-9-32-9-60 0-22 3-24 20-66 2-22-7-12-35-39-14-12-20-10-26-1z"/><path fill="#656565" d="M1619 46l338 0 0 20 8 6 10 2 8-2 7-6 0-20 303 0 0 20-4 10-7 8-29 21-32 31-80 66-104 93-54 60-74 111-45 62-15 12-10 4-10 1-16-3-48-19-12-9-10-14-3-12-2-32-8-22-15-34-10-34-8-58 0-22 3-24 5-18 15-50 3-14-1-8-6-10-39-43-14-13-20-9-24-1z"/><path fill="#686868" d="M1619 46l334 0 0 20 2 2 8 5 12 3 12-4 6-6 0-20 298 0 0 20-3 8-7 9-29 21-29 28-84 70-102 91-55 61-74 112-46 62-7 7-8 5-18 4-14-4-50-19-12-9-9-12-2-12-3-30-8-24-16-34-9-36-8-56 1-24 3-26 19-62 3-16 0-8-6-10-18-18-23-28-14-13-20-10-24-1z"/><path fill="#6a6a6a" d="M1619 46l331 0 0 20 1 2 10 6 14 3 11-3 8-6 1-22 295 0 0 20-4 8-7 8-28 21-28 27-84 70-102 91-56 63-73 110-47 64-12 10-18 4-13-2-27-12-26-8-12-9-8-11-2-12-2-28-8-25-19-41-10-42-5-42 1-26 4-30 19-61 3-15-1-8-5-8-17-17-24-30-16-16-20-10-24-1z"/><path fill="#6d6d6d" d="M1619 46l327 0 0 20 2 2 13 7 14 4 14-5 8-6 1-22 290 0 0 20-3 8-6 6-28 21-32 30-80 67-102 91-56 63-74 112-45 62-13 10-18 5-10-2-28-12-28-9-12-8-7-10-2-12-1-26-9-26-19-42-10-42-5-42 1-26 5-32 18-58 3-16 0-8-4-8-20-18-26-35-16-16-20-10-22-1z"/><path fill="#707070" d="M1619 46l323 0 0 20 2 2 15 8 16 4 14-4 11-8 1-22 286 0 0 20-3 6-7 8-26 20-30 28-84 69-100 90-58 65-72 111-47 63-11 9-18 5-12-3-28-13-26-7-10-7-7-10-3-12 0-26-10-26-19-42-10-42-5-42 2-26 4-34 18-57 4-17-1-8-5-8-20-18-26-37-18-18-18-11-22-1z"/><path fill="#727272" d="M1646 46l291 0 0 20 2 2 20 10 16 3 17-5 11-8 1-22 281 0 0 20-3 6-5 6-26 20-30 28-85 70-99 89-58 66-72 111-48 64-12 9-16 3-10-2-30-15-28-6-9-7-6-10-2-12 0-24-29-68-11-42-4-42 6-60 22-72 0-10-4-8-21-18-28-41-30-33z"/><path fill="#757575" d="M1657 46l275 0 0 20 2 2 25 11 16 4 16-5 14-8 3-4 0-20 276 0 0 20-7 10-142 119-99 89-58 66-72 112-47 62-12 10-16 3-10-3-30-15-18-2-10-4-8-6-6-9-2-12 1-24-30-66-11-44-4-42 7-62 22-72 0-10-3-6-24-20-24-38-21-28-3-8z"/><path fill="#787878" d="M1664 46l263 0 0 20 2 2 12 6 34 10 19-6 15-8 3-4 0-20 270 0 0 20-7 10-26 20-26 25-89 73-99 89-58 66-71 111-47 63-10 9-18 4-8-3-32-17-18-1-10-3-8-6-5-8-2-12 2-22-31-68-11-44-4-40 7-64 22-72 1-12-4-6-17-12-8-8-35-58-6-14z"/><path fill="#7a7a7a" d="M1670 46l251 0 0 20 2 2 18 8 34 8 28-8 10-6 4-4 0-20 263 0 0 20-3 6-50 44-94 77-98 88-59 67-71 112-47 62-9 8-18 4-7-2-33-19-18 0-10-2-8-7-5-8-1-12 4-20-33-68-11-44-4-42 7-64 23-72 1-12-5-6-19-12-10-12-30-58-2-8z"/><path fill="#7d7d7d" d="M1676 46l237 0 0 20 26 11 34 8 32-8 18-11 0-20 256 0 0 20-4 6-50 44-94 76-97 88-59 68-69 110-31 41-22 27-8 5-12 2-8-2-34-23-16 4-12-3-7-5-5-8-1-12 5-20-12-20-23-48-11-44-3-42 7-64 17-56 7-18 2-12-2-4-23-12-10-12-26-58-2-8z"/><path fill="#808080" d="M1681 46l225 0 0 20 3 1 32 12 32 7 34-8 26-11 1-1 0-20 243 0 0 20-52 49-94 75-98 89-58 67-69 110-31 42-23 28-7 3-12 2-8-2-34-25-4-1-8 6-8 1-8-2-8-6-3-8-1-8 7-20-13-21-24-49-11-46-3-46 8-60 16-56 12-32-2-3-24-9-10-10-24-58-2-10z"/><path fill="#828282" d="M1687 46l87 0-1 26-3 18-14 38-11 18-8 2-12-2-10-5-6-7-20-56-2-12zM1817 46l84 0 0 20 2 2 38 12 34 7 33-7 27-10 4-4 0-20 236 0 0 20-3 4-49 45-94 75-98 89-57 67-69 110-31 42-23 27-6 3-12 2-6-2-23-16-23-24-1 2 4 8-3 6-4 3-12 0-10-8-3-9 3-12 4-5 8 3 0-2-22-30-23-46-11-46-3-40 7-66 18-60 14-27 33-49 35-40 2-4z"/><path fill="#858585" d="M1692 46l69 0 0 32-5 30-8 26-8 10-7 2-10-2-8-5-6-7-6-18-9-34zM1829 46l67 0 0 20 3 2 43 14 33 6 34-6 28-10 4-6 0-20 232 0 0 20-30 30-114 92-98 89-58 68-68 110-32 43-22 25-6 3-12 2-6-2-24-18-30-31-28-35-23-48-11-44-2-40 7-64 18-60 13-23 34-43 32-29 11-13 5-12zM1758 478l3-1 4 2 14 15 2 6-4 5-10 1-11-6-2-12z"/><path fill="#878787" d="M1698 46l54 0-3 70-6 20-6 6-8 1-10-3-5-4-4-8-11-48zM1846 46l43 0 0 20 6 4 30 7 18 6 30 6 36-6 28-9 6-8 0-20 227 0 0 20-29 30-114 92-96 87-59 69-68 110-31 42-22 26-6 3-12 1-24-16-34-34-26-31-11-17-15-32-9-38-4-50 7-62 19-62 11-18 38-44 14-12 22-13 19-21 6-10zM1757 482l2-2 4 1 12 11 3 6-1 4-8 3-10-4-4-9z"/><path fill="#8a8a8a" d="M1706 46l36 0 3 72-4 16-3 4-5 2-8 0-6-2-4-5-4-9-4-28zM2045 46l223 0 0 20-27 29-114 91-97 88-59 70-66 108-32 43-24 27-8 2-10 0-24-18-30-30-26-30-13-20-15-32-10-44-2-42 7-62 17-60 14-20 36-39 12-10 12-6 12-3 24 1 7-1 3-6 3-16 6-8 7-5 10-2 24 3 20 4 18 7 30 4 36-4 22-6 10-5 4-8zM1759 484l6 1 9 9 2 4-2 4-7 1-8-4-3-7z"/><path fill="#8d8d8d" d="M1722 46l1 20 12 25 5 23-3 18-3 4-5 2-6-1-5-3-4-8-2-10 2-28 8-22zM2047 46l218 0 0 20-24 28-116 92-96 87-60 71-65 108-31 41-24 27-8 3-10-1-19-14-28-26-33-38-12-18-15-32-10-44-2-42 8-62 16-60 13-18 44-44 12-7 10-3 32 2 10-2 6-6 8-22 9-8 11-2 16 0 18 3 18 7 30 4 40-4 20-5 10-7 4-8zM1759 488l4-1 6 4 4 5 0 4-6 1-6-2-3-5z"/><path fill="#8f8f8f" d="M2048 46l215 0 0 20-23 28-115 90-97 88-59 71-66 109-30 39-26 28-8 2-8-2-16-11-28-26-20-24-16-15-12-17-14-32-10-44-1-42 7-62 16-60 12-16 46-44 10-6 10-2 32 2 12-2 8-8 10-22 10-8 12-2 16 1 10 2 16 6 32 4 50-5 14-5 8-7 3-8zM1722 106l5 0 6 12 0 10-6 5-6-3-3-6 0-10zM1761 492l4 0 4 6-6 0z"/><path fill="#929292" d="M2050 46l211 0-1 22-21 26-114 88-97 88-60 72-63 105-32 43-26 27-8 2-8-2-43-35-21-25-16-16-11-15-14-32-10-44-1-42 7-62 10-44 6-16 9-12 38-36 16-13 16-4 34 2 14-5 7-8 10-20 10-8 9-3 14 1 10 2 16 7 32 3 52-5 14-5 8-8 3-8z"/><path fill="#959595" d="M2051 46l208 0-1 22-19 25-117 89-95 87-60 73-48 82-20 31-22 28-30 32-8 2-8-2-42-34-21-25-17-16-10-14-15-32-9-44-1-40 7-64 15-58 11-14 40-37 12-9 16-5 34 2 16-4 9-9 11-22 10-7 8-2 13 1 23 8 32 3 54-4 14-6 8-9 2-8z"/><path fill="#979797" d="M2053 46l204 0-1 22-17 24-118 89-95 87-59 72-49 84-20 30-19 25-30 33-8 3-10-2-40-32-22-26-18-17-10-13-14-31-10-44 0-40 7-64 9-40 5-18 9-11 21-17 21-21 12-8 18-5 38 1 14-5 10-10 10-20 10-8 18 0 20 7 34 3 44-2 18-4 10-7 6-9 2-6z"/><path fill="#9a9a9a" d="M2054 46l201 0 0 20-2 4-15 22-118 88-95 87-60 73-48 84-20 30-18 24-16 19-14 13-8 3-10-2-40-31-22-26-18-17-10-13-13-30-10-44 0-38 7-66 8-40 6-18 8-10 21-16 23-22 12-8 18-4 36 2 16-6 9-8 12-22 9-8 16 0 22 8 32 2 44-2 18-4 11-8 7-10z"/><path fill="#9d9d9d" d="M2056 46l197 0 0 20-1 4-15 22-62 44-56 43-94 86-60 73-47 82-35 51-18 22-16 15-8 3-10-2-40-31-20-24-24-23-6-9-12-28-10-44 0-36 8-70 7-38 6-18 5-7 25-19 21-20 14-8 16-4 38 2 17-6 13-12 12-22 6-4 12 0 20 7 34 2 46-1 18-5 10-7 6-10 3-8z"/><path fill="#9f9f9f" d="M2057 46l195 0 0 20-3 6-12 19-61 43-58 44-93 84-61 76-47 82-34 50-18 21-14 13-10 5-10-3-38-28-22-26-24-22-6-9-12-27-9-44 0-36 8-70 7-38 6-18 6-8 23-16 23-21 12-7 16-4 40 2 18-6 14-12 11-20 5-4 8 0 22 6 34 0 46-1 18-4 10-7 8-12 2-8z"/><path fill="#a2a2a2" d="M2058 46l192 0 0 20-2 6-11 18-64 44-58 44-92 84-60 75-46 81-32 48-20 24-14 12-10 5-10-3-38-28-22-26-24-21-6-9-10-24-10-46 0-32 8-74 6-38 6-18 6-7 22-14 24-22 10-6 18-5 36 2 16-2 17-10 25-25 20 1 54-2 26 1 22-4 10-7 8-12 3-10z"/><path fill="#a5a5a5" d="M2059 46l189 0 0 20-4 10-9 14-64 44-63 48-85 78-61 76-45 81-32 47-20 24-14 12-10 4-10-2-38-28-21-24-25-22-10-18-6-14-9-44 0-32 13-110 7-22 7-7 24-15 24-22 14-7 14-1 34 2 14-2 15-6 25-19 28-8 18-2 60 0 18-4 12-9 8-12 2-10z"/><path fill="#a7a7a7" d="M2061 46l186 0 0 20-5 12-9 12-61 42-64 48-85 77-61 77-46 82-31 47-20 23-14 12-10 4-10-2-37-26-22-26-25-21-10-17-5-14-9-44 0-26 13-116 7-22 6-6 24-14 24-22 14-7 14-2 32 3 14 0 16-6 30-19 28-11 42-3 32 2 18-5 12-8 8-12 4-12z"/><path fill="#aaaaaa" d="M2062 46l183 0 0 20-4 12-8 11-64 43-64 48-82 75-62 78-45 81-31 47-18 22-14 12-12 5-10-2-36-25-22-26-24-19-10-16-6-16-8-42-1-24 13-120 6-20 6-7 24-13 24-22 14-7 14-2 32 3 16 0 16-5 30-19 30-12 36-3 34 1 18-4 12-8 9-12 4-12z"/><path fill="#adadad" d="M2063 46l181 0 0 20-5 13-7 9-63 43-66 49-80 72-17 20-46 60-45 82-30 46-20 23-14 12-10 3-12-3-34-24-22-25-24-19-8-13-7-16-8-44-1-20 7-54 6-70 6-20 6-6 25-14 24-22 12-6 16-1 32 4 16-1 18-6 39-22 19-8 34-3 34 1 18-4 12-8 10-14 4-12z"/><path fill="#afafaf" d="M2064 46l178 0 0 20-5 14-7 8-63 42-67 50-79 72-17 20-45 59-44 82-30 45-20 23-14 12-10 3-12-3-32-22-24-27-24-18-8-13-6-15-8-43-1-19 8-56 5-70 6-19 6-6 22-12 24-21 14-8 16-2 34 5 18-1 18-6 42-25 16-6 30-3 34 2 18-4 12-8 11-14 4-14z"/><path fill="#b2b2b2" d="M2065 46l175 0 0 20-4 12-9 10-60 41-70 51-76 69-18 21-44 58-44 83-30 45-18 21-14 13-12 4-12-4-31-20-23-26-25-18-7-11-6-15-9-44-1-18 8-58 5-70 5-17 6-7 26-13 24-22 12-6 14-1 36 5 18 0 19-7 43-26 14-5 28-3 36 2 18-5 13-9 9-14 4-14z"/><path fill="#b5b5b5" d="M2066 46l171 0 0 20-2 10-8 10-62 42-72 53-72 66-20 22-44 59-44 84-30 45-18 21-14 11-12 3-12-5-28-18-24-27-25-18-7-11-6-15-8-42-1-18 9-58 4-70 6-18 6-6 22-10 24-22 14-7 16-2 36 7 18-1 21-7 41-26 14-5 26-3 36 2 18-5 14-10 9-15 4-14z"/><path fill="#b7b7b7" d="M2068 46l166 0 0 20-3 10-7 8-27 22-32 21-76 55-70 64-20 23-42 57-44 84-30 45-18 21-14 11-12 3-12-5-27-17-25-28-24-16-8-13-5-11-8-42-1-18 10-60 3-72 5-13 6-7 24-11 22-21 14-8 16-1 36 7 20 0 23-8 37-24 14-7 24-3 38 2 18-5 14-10 10-15 4-16z"/><path fill="#bababa" d="M2069 46l148 0 0 20 4 8-1 6-7 10-15 14-33 21-80 58-68 62-20 23-41 56-43 84-30 46-18 20-14 11-12 2-14-5-24-15-26-29-24-16-8-12-4-12-7-40-1-16 2-20 7-38 4-74 3-12 7-8 23-11 24-23 12-6 16-2 38 9 20 0 24-9 36-24 14-7 22-3 38 2 18-5 14-10 10-15 6-18z"/><path fill="#bdbdbd" d="M2070 46l142 0 2 32-3 10-16 16-30 19-80 57-66 60-22 25-40 55-46 89-18 29-14 19-16 17-14 10-12 1-16-7-22-15-24-27-22-14-8-11-4-11-8-42-1-16 2-20 9-38 3-74 3-11 6-6 24-12 22-23 12-7 16-1 38 10 22 0 24-9 36-25 14-7 20-3 38 2 18-4 14-10 12-18 5-18z"/><path fill="#bfbfbf" d="M2071 46l139 0 1 34-3 10-15 14-28 17-83 59-74 68-51 69-52 100-20 30-20 23-12 10-10 3-10-1-16-8-18-13-24-27-22-14-8-12-4-12-7-38-1-16 3-18 9-38 3-68 5-18 26-17 22-23 12-7 18-1 38 11 22 0 24-9 37-26 13-6 20-3 38 1 18-5 14-11 11-18 5-18z"/><path fill="#c2c2c2" d="M2072 46l136 0 0 34-3 10-12 13-28 16-86 60-72 67-20 24-30 43-12 21-40 81-20 30-20 23-12 10-12 3-12-3-16-8-14-11-22-25-24-17-6-8-5-13-7-38 0-16 3-18 9-36 2-50 4-22 14-18 18-17 16-19 12-7 18-2 38 13 24 0 24-9 36-26 14-7 18-3 38 1 18-5 14-11 11-18 6-18z"/><path fill="#c5c5c5" d="M2073 46l132 0 1 34-3 10-11 12-27 15-88 61-72 66-24 30-29 44-36 74-17 31-16 23-18 20-12 9-12 4-12-3-16-8-13-10-23-27-24-18-6-9-4-12-6-34-1-16 3-16 11-36 2-50 4-18 13-12 6-14 27-32 11-8 18-1 38 14 24 1 14-3 12-6 36-27 14-7 16-3 38 1 20-6 14-12 11-19 5-18z"/><path fill="#c7c7c7" d="M2074 46l130 0 0 34-4 12-9 9-26 15-36 26-54 34-72 66-22 28-29 44-37 78-16 29-16 23-18 20-12 9-12 4-12-3-16-8-12-9-20-25-26-22-8-12-3-10-6-28 0-18 4-18 11-32 2-50 4-16 14-13 8-17 21-30 11-8 18-1 38 16 12 2 14-1 14-4 12-6 36-27 13-7 17-3 38 0 18-6 14-12 11-19 6-20z"/><path fill="#cacaca" d="M2076 46l126 0 0 34-4 12-8 8-25 14-38 27-54 34-72 65-23 30-27 42-36 77-16 29-16 23-16 19-12 10-12 4-12-1-19-9-14-12-28-34-7-13-14-10-6-19-3-20 0-16 5-18 13-28 0-48 5-15 15-17 8-18 17-28 10-8 8-2 10 1 38 18 14 2 14-1 14-3 12-7 36-28 12-7 16-3 38 0 20-7 14-13 11-20 5-20z"/><path fill="#cdcdcd" d="M2077 46l123 0 0 34-4 12-7 7-26 14-38 27-54 32-72 66-23 30-25 39-36 79-16 30-16 23-16 18-12 10-12 5-12-2-18-8-12-10-25-32-9-19-14-7-4-4-5-16-3-22 3-20 9-18 12-11 16-1 5-6 1-6-2-6-14-6-3-4-4-14 0-14 3-10 17-22 21-44 8-8 14-2 10 3 18 12 12 6 16 3 16-1 14-4 12-6 36-29 12-7 16-4 36 0 16-4 16-13 12-21 7-23z"/><path fill="#cfcfcf" d="M2078 46l120 0 0 34-3 11-6 6-26 14-40 29-56 31-71 65-20 26-25 40-36 81-14 27-16 24-18 21-14 11-12 3-14-2-16-8-10-9-20-28-10-23-20-13-6-16-2-18 3-20 9-14 10-7 22-3 5-4 3-6 2-10-2-8-4-7-16-13-3-12 3-10 15-22 18-46 9-7 12 0 6 3 18 14 12 6 16 3 18 0 14-4 14-7 36-30 12-7 16-4 34-1 16-4 8-5 8-8 12-20 8-27z"/><path fill="#d2d2d2" d="M2079 46l117 0 0 34-2 10-7 6-24 12-42 31-56 29-72 65-18 23-23 38-15 30-22 55-14 28-16 25-18 20-14 11-12 4-14-3-16-8-12-12-15-24-10-22-5-5-12-6-5-5-5-14-2-16 4-18 8-12 8-5 25-5 7-6 4-8 3-10-1-10-4-10-11-16-2-8 13-32 12-40 8-6 8 0 7 4 13 14 14 7 20 5 20-1 14-4 14-7 36-31 12-8 14-4 38-2 14-4 8-5 8-9 12-23 7-26z"/><path fill="#d4d4d4" d="M2080 46l114 0 0 34-3 10-4 4-22 10-46 34-56 26-32 30-32 27-21 23-23 36-15 32-31 76-14 26-14 20-18 19-16 10-16 0-20-9-10-12-23-44-7-8-14-7-4-5-4-12-2-14 3-14 7-11 8-5 20-3 8-4 8-6 5-9 3-10 1-12-8-30 0-10 7-24 8-17 4-4 10-2 46 11 16 1 16-2 12-4 12-8 34-31 13-8 15-4 36-2 14-5 14-13 13-26 8-28z"/><path fill="#d7d7d7" d="M2082 46l109 0 1 34-2 8-5 4-20 9-31 25-17 11-18 9-42 15-28 29-36 28-19 22-21 34-44 110-12 24-14 21-20 21-16 10-16 0-18-8-10-10-21-46-27-21-4-11-1-12 3-12 6-9 8-4 27-7 9-7 7-9 5-12 2-12-1-42 7-17 8-8 12-4 50 3 24-3 20-12 34-33 12-8 16-5 38-3 12-4 12-15 14-34 6-25z"/><path fill="#dadada" d="M2083 46l105 0 0 38-5 5-18 9-31 26-19 12-26 10-14 2-9 0-3-2-1-6 19-64zM2006 158l27 1 4 3-1 8-11 16-34 23-15 15-12 16-17 32-36 104-20 38-20 25-20 15-16 3-21-7-8-10-20-44-9-10-16-10-5-6-3-16 4-14 10-8 28-8 15-12 6-10 5-14 9-44 5-9 6-6 8-4 12-3 48 2 16-3 16-11 40-42 12-7z"/><path fill="#dcdcdc" d="M2084 46l89 0 0 20 6 6 2 5-1 5-13 9-31 29-17 12-24 10-12 1-8-1-5-4-1-8 14-58zM1863 236l12-2 16 1 14 4 10 5 21 22 2 8-1 12-6 26-14 44-12 29-12 23-16 22-16 14-14 7-14 1-12-3-8-5-20-46-10-13-21-15-4-8 0-10 3-8 4-4 30-11 15-11 13-20 18-46 10-11z"/><path fill="#dfdfdf" d="M2085 46l77 0 1 38-6 12-17 18-17 14-18 8-16 4-12-4-4-10 12-56zM1868 248l13-2 12 2 10 4 10 7 15 17 3 10-1 12-5 24-11 34-10 26-11 22-12 18-14 14-14 8-12 1-13-5-2-12-13-9-24-35-22-17-4-7 0-6 3-6 5-4 24-9 16-11 13-18 23-43 10-10z"/><path fill="#e2e2e2" d="M2087 46l70 0 0 38-5 14-12 14-15 12-16 8-14 4-13-2-4-4-1-6 1-16 8-38zM1880 258l19 4 10 6 9 8 6 14 0 22-15 52-18 40-10 14-12 12-10 6-10 1-5-3-11-14-20-14-19-24-18-18-3-8 5-6 23-12 14-12 11-14 19-32 10-12 12-8z"/><path fill="#e4e4e4" d="M2088 46l65 0 0 38-5 14-10 12-13 12-14 7-12 4-8 0-6-3-4-4-2-6 1-16 8-36zM1870 270l11-2 10 1 18 10 9 13 1 20-10 44-16 40-10 15-10 11-10 7-8 1-6-3-12-12-22-18-21-27-4-10 3-6 28-28 30-42 10-9z"/><path fill="#e7e7e7" d="M2090 46l59 0 0 36-5 16-9 12-10 9-12 7-12 4-8-1-6-2-5-11 0-14 8-34zM1876 278l17 1 14 9 7 14 0 20-9 40-14 32-16 22-8 6-8 2-8-4-32-29-13-19-2-12 5-10 42-57 12-10z"/><path fill="#eaeaea" d="M2091 46l54 0 0 36-4 16-7 10-9 9-10 6-12 3-12-1-4-4-3-7 1-14 6-32zM1872 288l15-1 14 7 8 13 1 19-7 32-12 31-16 22-8 5-6 1-10-4-24-23-11-16-2-12 6-16 25-37 14-14z"/><path fill="#ececec" d="M2093 46l49 0 0 36-4 16-13 16-10 6-10 3-12-1-4-4-3-8 1-14 6-28zM1873 296l14 0 12 7 5 13 1 17-7 29-11 27-14 18-6 3-6 0-12-7-17-17-7-14-2-12 6-16 16-27 14-14z"/><path fill="#efefef" d="M2095 46l43 0 0 36-4 16-11 14-8 5-10 3-6 0-6-2-5-10 1-14 6-28zM1876 304l11 1 8 7 5 12-1 16-6 26-8 19-10 13-6 4-6 1-11-5-12-14-7-14-1-12 6-18 11-19 14-12z"/><path fill="#f2f2f2" d="M2097 46l37 0 0 36-3 14-4 8-6 7-16 6-10-2-5-9 2-20 5-20zM1871 314l10 0 8 4 4 10 1 12-5 22-6 17-8 11-10 4-8-3-9-9-6-12-1-12 4-16 6-14 10-9z"/><path fill="#f4f4f4" d="M2100 46l30 0 0 36-3 14-8 13-14 5-8-2-3-4-1-6 2-18 5-16zM1868 326l9-1 4 3 3 6 1 8-6 28-6 9-6 3-6-2-4-4-4-16 4-24 4-6z"/><path fill="#f7f7f7" d="M2104 46l20 0 1 38-2 12-6 10-12 4-6-2-3-8 1-14 7-18z"/><path fill="#fafafa" d="M2113 70l2 1 2 7 0 16-4 8-8 1-4-3 0-10 4-9z"/></g></g><g fill="none" stroke="#1f77b4" stroke-width="3.5" stroke-linejoin="round"><path d="M906.21,33.22C903.84,35.52 896.71,41.14 891.97,46.99C887.22,52.85 882.07,60.44 877.72,68.36C873.37,76.27 869.22,85.37 865.85,94.47C862.49,103.57 859.52,113.07 857.54,122.96C855.57,132.85 854.38,145.11 853.98,153.82C853.59,162.52 853.98,167.67 855.17,175.18C856.36,182.7 858.14,191.01 861.1,198.92C864.07,206.84 868.62,215.54 872.97,222.66C877.33,229.79 882.47,236.12 887.22,241.65C891.97,247.19 896.71,251.94 901.46,255.9C906.21,259.86 911.75,264.21 915.71,265.39C919.66,266.58 921.64,265.79 925.2,263.02C928.76,260.25 932.72,254.32 937.07,248.78C941.42,243.24 946.76,236.31 951.31,229.79C955.86,223.26 962.2,212.97 964.37,209.61"/><path d="M1016.6,138.39C1020.75,134.63 1033.41,123.16 1041.52,115.84C1049.64,108.52 1057.35,101.2 1065.26,94.47C1073.18,87.74 1081.09,81.81 1089,75.48C1096.92,69.15 1104.63,63.53 1112.74,56.49C1120.85,49.44 1133.51,37.1 1137.67,33.22"/><path d="M951.31,33.22C954.48,34.33 964.37,38.17 970.31,39.87C976.24,41.57 981.38,43.43 986.92,43.43C992.46,43.43 998.2,41.57 1003.54,39.87C1008.88,38.17 1016.4,34.33 1018.97,33.22"/><path d="M820.75,179.93C821.54,184.68 823.12,198.92 825.5,208.42C827.87,217.92 831.43,227.81 834.99,236.91C838.55,246.01 842.51,254.32 846.86,263.02C851.21,271.72 856.36,280.82 861.1,289.13C865.85,297.44 870.6,305.36 875.35,312.87C880.1,320.39 885.24,328.7 889.59,334.24C893.94,339.78 898.1,343.54 901.46,346.11C904.83,348.68 907,350.07 909.77,349.67C912.54,349.27 914.32,347.89 918.08,343.73C921.84,339.58 927.58,332.66 932.32,324.74C937.07,316.83 944.19,301 946.57,296.26"/><path d="M984.55,232.16C987.32,228.99 995.63,219.5 1001.17,213.17C1006.71,206.84 1012.25,200.11 1017.79,194.18C1023.32,188.24 1028.47,183.1 1034.4,177.56C1040.34,172.02 1046.27,166.88 1053.39,160.94C1060.52,155.01 1069.22,148.28 1077.13,141.95C1085.05,135.62 1092.96,128.89 1100.87,122.96C1108.79,117.02 1116.7,111.88 1124.61,106.34C1132.53,100.8 1140.44,95.66 1148.35,89.72C1156.27,83.79 1164.18,76.27 1172.09,70.73C1180,65.19 1187.92,61.24 1195.83,56.49C1203.74,51.74 1213.24,46.12 1219.57,42.24C1225.9,38.37 1231.44,34.73 1233.81,33.22"/><path d="M820.75,274.89C821.93,279.24 825.5,294.08 827.87,301C830.24,307.93 833.8,313.86 834.99,316.43"/><path d="M876.54,399.52C876.93,402.89 878.4,410.4 878.91,419.7C879.42,429 879.5,449.37 879.62,455.31"/><path d="M920.45,455.31C920.85,452.54 920.45,445.81 922.83,438.69C925.2,431.57 930.34,421.68 934.7,412.58C939.05,403.48 944.19,393.19 948.94,384.09C953.69,374.99 958.04,367.47 963.18,357.98C968.33,348.48 974.26,337.8 979.8,327.12C985.34,316.43 992.07,304.17 996.42,293.88C1000.77,283.59 1004.33,271.72 1005.92,265.39C1007.5,259.06 1003.54,261.44 1005.92,255.9C1008.29,250.36 1015.41,238.89 1020.16,232.16C1024.91,225.43 1028.86,221.48 1034.4,215.54C1039.94,209.61 1047.06,203.28 1053.39,196.55C1059.72,189.82 1066.45,181.12 1072.39,175.18C1078.32,169.25 1082.28,166.28 1089,160.94C1095.73,155.6 1108.79,146.1 1112.74,143.14"/><path d="M1193.46,90.91C1197.41,90.12 1209.68,89.52 1217.2,86.16C1224.71,82.8 1233.42,73.7 1238.56,70.73C1243.71,67.76 1244.1,70.34 1248.06,68.36C1252.01,66.38 1259.93,60.44 1262.3,58.86"/></g><g fill="#1f77b4" font-size="25.8" text-anchor="middle" dominant-baseline="central"><text transform="translate(986.92,172.81) rotate(-53.75)">10 %</text><text transform="translate(964.37,265.39) rotate(-59.35)">1 %</text><text transform="translate(856.36,357.98) rotate(63.43)">0.1 %</text><text transform="translate(1150.73,118.21) rotate(-32.91)">0.1 %</text></g><text x="1242.3" y="433.6" fill="#fff" font-size="32.3" text-anchor="end">Sr II</text></g><rect x="819.4" y="32.9" width="445.2" height="420.8" fill="none" stroke="#000" stroke-width="1.72"/><rect x="1291.4" y="32.9" width="22.2" height="420.8" fill="url(#cbg)" stroke="#000" stroke-width="1.72"/><path d="M819.4,453.7v8.6M958.31,453.7v8.6M1097.22,453.7v8.6M1236.12,453.7v8.6M819.4,69.01h-8.6M819.4,153.32h-8.6M819.4,237.62h-8.6M819.4,321.93h-8.6M819.4,406.24h-8.6M1313.6,453.7h8.6M1313.6,411.41h8.6M1313.6,369.12h8.6M1313.6,326.83h8.6M1313.6,284.53h8.6M1313.6,242.24h8.6M1313.6,199.95h8.6M1313.6,157.66h8.6M1313.6,115.37h8.6M1313.6,73.08h8.6" stroke="#000" stroke-width="1.72" fill="none"/><g font-size="25.8"><text x="819.4" y="490.5" text-anchor="middle">2000</text><text x="958.31" y="490.5" text-anchor="middle">4000</text><text x="1097.22" y="490.5" text-anchor="middle">6000</text><text x="1236.12" y="490.5" text-anchor="middle">8000</text><text x="802.5" y="77.11" text-anchor="end">−1</text><text x="802.5" y="161.42" text-anchor="end">−2</text><text x="802.5" y="245.72" text-anchor="end">−3</text><text x="802.5" y="330.03" text-anchor="end">−4</text><text x="802.5" y="414.34" text-anchor="end">−5</text><text x="1330.5" y="461.8">0</text><text x="1330.5" y="419.51">2</text><text x="1330.5" y="377.22">4</text><text x="1330.5" y="334.93">6</text><text x="1330.5" y="292.63">8</text><text x="1330.5" y="250.34">10</text><text x="1330.5" y="208.05">12</text><text x="1330.5" y="165.76">14</text><text x="1330.5" y="123.47">16</text><text x="1330.5" y="81.18">18</text></g><text transform="translate(1399.1,243.3) rotate(-90)" font-size="33" text-anchor="middle"><tspan dy="0">L</tspan><tspan font-size="23.1" dy="5.4">Bol,</tspan><tspan font-size="23.1" dy="0" dx="4.6">s</tspan><tspan dy="-5.4">/L</tspan><tspan font-size="23.1" dy="5.4">Bol</tspan><tspan dy="-5.4"> (%)</tspan></text><text x="1042" y="531.9" font-size="33" text-anchor="middle">Temperature (K)</text><text transform="translate(741.4,243.3) rotate(-90)" font-size="33" text-anchor="middle"><tspan dy="0">log</tspan><tspan font-size="23.1" dy="6" dx="1.8">10</tspan><tspan dy="-6" dx="1"> [M</tspan><tspan font-size="23.1" dy="5.4">ej</tspan><tspan dy="-5.4" dx="1.5"> (M</tspan><tspan font-size="23.1" dy="5" dx="5.3">⊙</tspan><tspan dy="-5" dx="6.3">) ]</tspan></text><g clip-path="url(#c02)"><g filter="url(#cm)"><rect x="1525.8" y="22.9" width="465" height="440" fill="#030303"/><g transform="scale(.5)" fill-rule="evenodd"><path fill="#050505" d="M3052 46l930 0 0 828-26 1-12 4-8 6-8 9-5 10-1 22-870 0z"/><path fill="#080808" d="M3052 46l930 0 0 815-20 0-12 2-14 6-12 8-10 11-7 14-2 24-853 0z"/><path fill="#0b0b0b" d="M3052 46l930 0 0 803-20 0-14 3-18 7-16 11-14 14-8 14-3 8 0 20-837 0z"/><path fill="#0d0d0d" d="M3052 46l930 0 0 791-20 0-18 5-22 10-20 13-15 15-11 16-4 10 0 20-820 0z"/><path fill="#101010" d="M3052 46l930 0 0 780-20 0-20 5-26 12-26 17-20 18-14 18-4 10 0 20-800 0z"/><path fill="#131313" d="M3052 46l930 0 0 768-20 0-22 7-34 16-33 21-25 20-17 18-5 10 0 20-774 0z"/><path fill="#151515" d="M3052 46l930 0 0 755-20 0-30 12-49 25-52 32-26 18-12 12-4 6 0 20-737 0z"/><path fill="#181818" d="M3052 46l930 0 0 741-20 0-8 3-189 96-5 4-4 6-1 30-703 0z"/><path fill="#1b1b1b" d="M3052 46l930 0 0 729-20 0-10 3-116 58-90 39-6 5-4 10-1 36-683 0z"/><path fill="#1d1d1d" d="M3052 46l930 0 0 718-20 0-16 4-84 42-118 53-12 11-8 12-4 20 0 20-668 0z"/><path fill="#202020" d="M3052 46l930 0 0 706-22 1-22 6-72 36-100 45-24 13-16 13-12 18-6 22 0 20-656 0z"/><path fill="#232323" d="M3052 46l930 0 0 695-26 1-26 8-164 79-28 16-20 16-14 19-8 24 0 22-644 0z"/><path fill="#252525" d="M3052 46l930 0 0 683-28 1-32 11-148 73-38 22-24 19-18 23-9 24-1 24-632 0z"/><path fill="#282828" d="M3052 46l930 0 0 671-32 2-36 12-128 66-54 31-27 22-21 26-12 26 0 24-620 0z"/><path fill="#2a2a2a" d="M3052 46l930 0 0 658-20 0-14 2-40 14-78 40-100 59-33 27-24 28-8 14-6 14-1 24-606 0z"/><path fill="#2d2d2d" d="M3052 46l930 0 0 644-20 0-16 2-46 19-70 36-102 63-38 31-30 33-9 14-7 14-1 24-591 0z"/><path fill="#303030" d="M3052 46l930 0 0 628-20 0-14 3-22 8-28 13-68 35-100 65-48 38-39 40-10 14-7 14 0 22-574 0z"/><path fill="#323232" d="M3052 46l930 0 0 611-20 0-20 6-96 47-28 16-76 53-59 45-63 58-10 12-5 10-1 22-552 0z"/><path fill="#353535" d="M3052 46l930 0 0 593-20 0-16 5-112 58-20 12-100 74-121 96-7 8-4 8-2 26-528 0z"/><path fill="#383838" d="M3052 46l930 0 0 572-20 0-4 2-92 53-48 23-160 125-44 32-47 29-5 10-1 34-509 0z"/><path fill="#3a3a3a" d="M3052 46l930 0 0 556-20 0-11 4-89 55-46 21-162 130-46 31-48 27-9 8-3 8-3 40-493 0z"/><path fill="#3d3d3d" d="M3052 46l930 0 0 543-20 0-20 7-82 51-50 26-158 128-44 29-52 31-12 11-8 14-5 20 0 20-479 0z"/><path fill="#404040" d="M3052 46l930 0 0 531-24 1-26 9-76 47-46 25-20 14-139 115-39 27-52 33-16 12-12 14-9 16-4 16 0 20-467 0z"/><path fill="#424242" d="M3052 46l930 0 0 519-28 1-30 11-118 71-26 18-132 110-90 63-21 17-16 18-10 18-5 14 0 20-454 0z"/><path fill="#454545" d="M3052 46l930 0 0 507-20 0-12 2-32 12-114 68-36 25-123 104-89 66-26 22-18 20-14 22-4 12 0 20-442 0z"/><path fill="#484848" d="M3052 46l930 0 0 494-20 0-14 2-36 14-112 68-44 31-116 99-86 67-35 31-21 24-14 20-4 10 0 20-428 0z"/><path fill="#4a4a4a" d="M3052 46l930 0 0 480-20 0-14 3-18 5-20 10-110 66-56 40-188 159-51 47-23 24-12 18-4 8 0 20-414 0z"/><path fill="#4d4d4d" d="M3052 46l930 0 0 467-20 0-14 2-20 7-20 9-106 64-70 49-41 34-125 110-89 84-15 16-9 14-2 4 0 20-399 0z"/><path fill="#505050" d="M3052 46l930 0 0 452-20 0-14 3-20 6-22 11-104 63-82 58-45 37-87 79-72 71-63 56-10 12-7 12 0 20-384 0z"/><path fill="#525252" d="M3052 46l930 0 0 436-20 0-10 2-22 8-24 12-104 64-94 66-46 38-76 71-78 81-68 58-9 10-8 14 0 20-371 0z"/><path fill="#555555" d="M3052 46l930 0 0 420-20 0-6 1-54 24-106 67-75 52-36 28-57 50-52 50-34 36-36 42-76 63-18 27 0 20-360 0z"/><path fill="#585858" d="M3052 46l930 0 0 403-24 1-60 29-48 33-52 31-88 62-47 37-49 44-47 46-34 38-33 42-76 62-21 32 0 20-351 0z"/><path fill="#5a5a5a" d="M3052 46l930 0 0 389-20 0-10 3-60 30-48 34-55 34-87 62-46 36-50 45-46 47-33 38-33 43-76 64-23 35 0 20-343 0z"/><path fill="#5d5d5d" d="M3052 46l930 0 0 377-20 0-14 3-60 31-111 75-79 56-52 42-47 42-43 43-30 36-39 51-73 64-24 39-1 21-337 0z"/><path fill="#606060" d="M3052 46l930 0 0 365-20 0-20 5-24 11-34 20-120 81-76 56-60 48-40 36-39 40-69 89-70 66-25 39-1 24-332 0z"/><path fill="#626262" d="M3052 46l930 0 0 354-22 0-22 6-26 11-34 20-124 86-82 61-64 53-32 29-30 31-24 29-46 63-70 70-14 21-10 19-3 7 0 20-327 0z"/><path fill="#656565" d="M3052 46l930 0 0 342-24 1-24 6-28 12-36 22-120 84-100 77-58 48-32 30-26 28-20 25-44 61-68 74-16 24-8 16-3 10 0 20-323 0z"/><path fill="#686868" d="M3052 46l930 0 0 330-26 1-26 7-30 14-37 22-113 80-120 94-51 42-31 30-24 26-60 84-66 77-16 25-8 16-4 12 0 20-318 0z"/><path fill="#6a6a6a" d="M3052 46l930 0 0 317-26 1-28 8-34 16-40 24-104 75-143 113-40 34-31 30-22 25-56 81-62 77-26 43-4 16 0 20-314 0z"/><path fill="#6d6d6d" d="M3052 46l930 0 0 304-26 1-30 9-38 18-44 27-92 67-162 130-34 29-32 31-19 22-52 80-61 80-26 44-4 18 0 20-310 0z"/><path fill="#707070" d="M3052 46l930 0 0 289-26 1-30 10-44 22-48 30-84 62-95 78-79 63-30 26-33 33-17 20-48 76-58 81-28 49-4 20 0 20-306 0z"/><path fill="#727272" d="M3052 46l930 0 0 272-22 1-30 11-56 30-54 34-76 57-96 81-84 66-34 32-29 28-13 16-44 74-58 86-29 50-4 22 0 20-301 0z"/><path fill="#757575" d="M3052 46l930 0 0 253-20 0-18 8-94 53-57 38-55 43-98 85-84 66-57 54-20 24-39 70-52 80-34 58-5 20 0 28-297 0z"/><path fill="#787878" d="M3052 46l930 0 0 232-20 0-4 2-37 24-93 55-48 34-50 39-94 84-87 68-69 68-7 10-41 76-51 82-20 38-13 19-4 29 0 20-292 0z"/><path fill="#7a7a7a" d="M3052 46l930 0 0 217-20 0-13 5-41 28-88 54-48 33-48 39-95 86-86 68-69 70-8 11-41 77-49 83-20 39-13 18-2 10-2 42-287 0z"/><path fill="#7d7d7d" d="M3052 46l930 0 0 205-22 0-22 9-124 79-48 33-50 41-95 87-83 68-60 61-20 25-38 74-48 84-19 38-14 22-4 14-1 40-282 0z"/><path fill="#808080" d="M3052 46l930 0 0 193-26 1-26 10-118 75-42 28-56 45-92 86-82 69-26 25-44 48-16 20-84 156-37 72-3 16-1 36-277 0z"/><path fill="#828282" d="M3052 46l930 0 0 182-30 2-32 12-104 64-50 34-60 48-89 84-79 69-26 26-46 51-18 24-76 144-44 86-3 20-1 34-272 0z"/><path fill="#858585" d="M3052 46l930 0 0 171-20 0-14 2-36 14-90 54-62 41-62 50-81 78-79 71-28 28-44 51-23 30-74 142-46 94-4 22-1 32-266 0z"/><path fill="#878787" d="M3052 46l930 0 0 160-20 0-16 2-20 6-20 8-78 45-72 48-36 27-30 25-178 172-60 72-16 23-14 26-64 126-37 78-7 26-1 36-261 0z"/><path fill="#8a8a8a" d="M3052 46l930 0 0 148-20 0-20 3-42 15-76 42-73 48-38 28-29 25-170 167-30 35-36 47-18 26-16 30-62 124-36 78-8 28-1 36-255 0z"/><path fill="#8d8d8d" d="M3052 46l930 0 0 135-20 0-20 3-22 6-24 10-76 41-72 47-44 32-28 24-160 161-30 36-40 53-19 28-19 36-60 121-36 81-9 30-2 36-249 0z"/><path fill="#8f8f8f" d="M3052 46l930 0 0 122-20 0-20 3-22 6-24 9-78 41-70 45-51 36-27 23-148 153-32 37-38 52-27 39-21 40-62 126-34 76-11 32-2 40-243 0z"/><path fill="#929292" d="M3052 46l930 0 0 107-20 0-20 3-46 16-82 43-68 43-60 42-24 20-65 70-75 78-36 44-36 51-30 46-24 45-62 128-39 92-5 18-1 34-237 0z"/><path fill="#959595" d="M3052 46l930 0 0 89-20 0-18 4-22 7-26 11-102 55-64 42-76 55-58 65-77 82-41 52-34 50-30 48-26 51-56 116-46 105-3 20 0 28-231 0z"/><path fill="#979797" d="M3052 46l930 0 0 65-20 0-12 4-34 14-30 16-116 67-119 82-140 156-40 54-33 51-30 49-26 52-72 152-20 51-11 19-3 48-224 0z"/><path fill="#9a9a9a" d="M3052 46l888 0 0 20-1 6-7 12-13 14-50 38-108 68-121 84-139 160-37 52-34 54-28 48-26 53-71 151-19 48-14 22-3 30 0 20-217 0z"/><path fill="#9d9d9d" d="M3052 46l842 0 0 22-3 12-9 16-15 18-20 18-27 20-105 70-81 58-92 105-50 61-34 50-32 53-28 49-26 53-52 111-37 84-17 28-4 22 0 30-210 0z"/><path fill="#9f9f9f" d="M3052 46l813 0 0 22-4 16-10 18-15 18-40 34-120 82-50 38-84 94-56 73-44 68-56 101-105 226-21 38-6 24 0 28-202 0z"/><path fill="#a2a2a2" d="M3052 46l790 0 0 22-4 18-10 18-14 18-34 30-114 78-48 38-79 88-57 77-42 66-48 87-112 241-26 45-8 26-1 28-193 0z"/><path fill="#a5a5a5" d="M3052 46l771 0 0 24-4 16-9 18-14 18-30 27-104 71-50 41-77 83-49 69-48 76-44 80-116 250-32 53-9 26-1 28-184 0z"/><path fill="#a7a7a7" d="M3052 46l755 0 0 24-4 16-9 18-13 16-27 24-92 64-50 40-28 27-46 51-38 50-66 107-50 94-108 235-42 68-8 24 0 22-174 0z"/><path fill="#aaaaaa" d="M3052 46l741 0 0 22-4 16-8 16-12 16-25 22-84 58-48 39-30 29-46 50-34 43-70 116-40 75-122 264-12 20-26 34-9 16-8 24 0 20-163 0z"/><path fill="#adadad" d="M3052 46l728 0-1 22-3 14-8 16-11 14-25 22-82 57-40 33-30 29-46 49-20 23-14 19-76 130-36 68-28 58-48 112-46 96-14 23-31 35-13 20-7 20 0 20-149 0z"/><path fill="#afafaf" d="M3052 46l715 0 0 20-2 12-7 14-10 13-22 19-76 54-40 33-62 63-37 40-15 20-82 145-32 61-28 60-47 110-43 90-20 31-37 35-15 18-9 22 0 20-131 0z"/><path fill="#b2b2b2" d="M3052 46l703 0-2 28-5 12-9 12-19 16-72 52-38 32-54 55-64 72-88 159-28 54-27 60-48 112-43 90-12 18-12 13-49 35-19 18-7 10-5 12 0 20-102 0z"/><path fill="#b5b5b5" d="M3052 46l691 0-1 24-4 10-6 8-14 12-70 52-38 33-56 57-69 78-89 166-25 50-28 60-49 117-39 81-13 18-14 14-24 13-104 41-28 6-20 0z"/><path fill="#b7b7b7" d="M3052 46l677 0 0 20-6 10-109 91-38 38-96 109-118 226-25 54-47 114-42 84-20 24-28 11-78 7-70 1z"/><path fill="#bababa" d="M3052 46l646 0 0 20-11 16-113 112-101 118-118 226-24 54-47 113-38 74-8 13-14 14-18 6-12 1-90-4-52-1z"/><path fill="#bdbdbd" d="M3052 46l615 0-1 26-6 12-9 14-21 24-68 72-95 116-119 228-25 54-45 107-16 31-30 52-12 10-12 5-22 0-86-10-48-1z"/><path fill="#bfbfbf" d="M3052 46l594 0 0 20-2 10-6 14-9 14-17 22-62 69-89 113-124 236-77 170-18 31-14 19-12 11-12 4-22 0-82-12-48-2z"/><path fill="#c2c2c2" d="M3052 46l577 0-1 28-11 26-19 26-58 67-82 109-141 264-65 138-14 22-14 17-12 10-12 4-24 0-78-12-46-1z"/><path fill="#c5c5c5" d="M3052 46l562 0-1 28-10 26-17 24-53 64-81 113-68 128-84 149-56 110-12 17-12 13-12 9-14 5-22 1-70-10-50-2z"/><path fill="#c7c7c7" d="M3052 46l550 0-2 30-11 26-14 20-47 58-79 114-103 189-102 171-14 20-14 14-14 10-14 5-24 1-68-7-44-1z"/><path fill="#cacaca" d="M3052 46l538 0-1 28-10 26-57 73-76 115-78 143-46 77-74 105-20 25-24 22-12 6-14 4-26 2-100-4z"/><path fill="#cdcdcd" d="M3052 46l527 0-1 26-9 24-53 70-38 62-37 56-79 144-42 69-36 45-58 62-28 21-28 10-32 3-86-1z"/><path fill="#cfcfcf" d="M3052 46l517 0-1 26-8 20-56 76-30 54-48 76-76 136-34 54-32 37-46 38-36 23-34 11-38 5-78 0z"/><path fill="#d2d2d2" d="M3052 46l507 0-1 24-6 17-53 73-32 60-46 74-69 122-38 60-22 26-26 20-38 21-36 13-24 5-28 4-88 1z"/><path fill="#d4d4d4" d="M3052 46l497 0 0 20-5 14-52 74-31 62-117 198-24 38-20 27-16 15-20 12-36 12-44 8-50 4-82 0z"/><path fill="#d7d7d7" d="M3052 46l487 0 0 20-2 6-54 80-28 60-111 186-29 44-20 26-7 7-16 11-26 6-24 4-66 2-104 0z"/><path fill="#dadada" d="M3052 46l472 0 0 20-1 4-47 78-30 64-112 184-30 42-18 20-12 8-14 5-30 2-178-4z"/><path fill="#dcdcdc" d="M3052 46l457 0 0 20-9 24-32 57-31 63-53 88-64 97-26 32-20 16-20 7-28 1-96-6-78-2z"/><path fill="#dfdfdf" d="M3052 46l445 0 0 20-3 14-7 16-27 50-31 62-49 78-58 83-26 31-22 17-22 9-30 1-96-8-74-1z"/><path fill="#e2e2e2" d="M3052 46l435 0 0 20-4 16-7 18-55 104-47 72-50 66-28 30-26 19-26 8-34 2-90-7-68-1z"/><path fill="#e4e4e4" d="M3052 46l425 0 0 20-3 18-10 22-42 78-22 35-30 42-32 40-28 30-24 20-28 15-32 7-174-6z"/><path fill="#e7e7e7" d="M3052 46l416 0 0 20-3 18-10 22-37 66-22 34-28 37-28 32-28 27-24 19-32 16-36 7-32 1-136-3z"/><path fill="#eaeaea" d="M3052 46l408 0 0 20-5 20-9 22-34 56-22 32-24 29-26 26-26 23-24 16-36 17-38 8-40 1-124-1z"/><path fill="#ececec" d="M3052 46l399 0 0 20-3 18-10 21-30 48-22 30-20 22-22 21-24 18-24 16-40 17-42 8-46 3-116-1z"/><path fill="#efefef" d="M3052 46l391 0 0 20-3 16-10 20-26 39-22 29-18 19-18 15-22 15-22 12-42 16-46 8-54 4-108 0z"/><path fill="#f2f2f2" d="M3052 46l383 0 0 20-4 14-8 16-25 36-20 25-28 25-36 19-46 15-52 9-60 4-104 0z"/><path fill="#f4f4f4" d="M3052 46l374 0 0 20-3 10-7 13-40 51-24 22-24 12-50 12-66 8-66 4-94-1z"/><path fill="#f7f7f7" d="M3052 46l364 0 0 20-6 11-37 45-23 21-10 6-20 3-146 11-54 0-46-5-22 0z"/><path fill="#fafafa" d="M3052 46l341 0 0 20-12 16-19 22-14 10-12 5-18 1-56-7-22-1-26 3-54 10-28 1-22-4-32-16-26-2z"/><path fill="#fcfcfc" d="M3052 46l101 0 0 22-4 8-8 8-19 9-20 3-50-3z"/><path fill="#ffffff" d="M3052 46l45 0 0 22-5 6-6 3-34 2z"/></g></g><g fill="none" stroke="#1f77b4" stroke-width="3.5" stroke-linejoin="round"><path d="M1536.75,56.49C1537.54,58.47 1539.12,65.59 1541.5,68.36C1543.87,71.13 1547.43,72.04 1550.99,73.1C1554.55,74.17 1557.92,74.49 1562.86,74.77C1567.81,75.04 1577.7,74.77 1580.67,74.77"/><path d="M1669.69,70.26C1672.06,68.36 1679.58,63.13 1683.93,58.86C1688.28,54.59 1692.24,48.89 1695.8,44.62C1699.36,40.34 1703.72,35.12 1705.3,33.22"/><path d="M1536.75,242.84C1543.87,242.92 1566.42,243.24 1579.48,243.32C1592.54,243.4 1605.99,243.79 1615.09,243.32C1624.19,242.84 1629.33,241.93 1634.08,240.47C1638.83,239 1640.01,237.9 1643.58,234.53C1647.14,231.17 1651.09,226.22 1655.45,220.29C1659.8,214.35 1664.94,206.44 1669.69,198.92C1674.44,191.41 1679.18,183.1 1683.93,175.18C1688.68,167.27 1693.43,159.36 1698.18,151.45C1702.92,143.53 1707.67,135.62 1712.42,127.71C1717.17,119.79 1722.11,112.67 1726.66,103.97C1731.21,95.26 1737.54,80.23 1739.72,75.48"/><path d="M1536.75,411.39C1543.87,411.39 1568.8,411.51 1579.48,411.39C1590.16,411.27 1595.31,411.47 1600.84,410.68C1606.38,409.89 1609.15,409.1 1612.71,406.64C1616.27,404.19 1619.04,400.91 1622.21,395.96C1625.38,391.02 1628.14,384.09 1631.71,376.97C1635.27,369.85 1639.62,361.93 1643.58,353.23C1647.53,344.53 1651.49,334.24 1655.45,324.74C1659.4,315.25 1663.36,305.36 1667.31,296.26C1671.27,287.16 1674.83,279.24 1679.18,270.14C1683.54,261.04 1688.68,250.76 1693.43,241.65C1698.18,232.55 1703.12,224.05 1707.67,215.54C1712.22,207.03 1718.55,194.77 1720.73,190.62"/><path d="M1769.39,120.58C1772.56,117.02 1782.06,105.94 1788.39,99.22C1794.72,92.49 1800.65,86.56 1807.38,80.23C1814.1,73.9 1822.41,66.77 1828.74,61.24C1835.07,55.7 1840.02,51.66 1845.36,46.99C1850.7,42.32 1858.22,35.52 1860.79,33.22"/><path d="M1636.45,455.31C1636.65,452.54 1636.45,443.04 1637.64,438.69C1638.83,434.34 1641,434.74 1643.58,429.2C1646.15,423.66 1649.51,413.77 1653.07,405.46C1656.63,397.15 1660.98,387.65 1664.94,379.34C1668.9,371.03 1672.85,363.91 1676.81,355.6C1680.77,347.3 1684.33,338.59 1688.68,329.49C1693.03,320.39 1698.18,309.71 1702.92,301C1707.67,292.3 1712.02,285.57 1717.17,277.26C1722.31,268.96 1727.85,259.86 1733.79,251.15C1739.72,242.45 1746.45,232.95 1752.78,225.04C1759.11,217.12 1764.65,211.58 1771.77,203.67C1778.89,195.76 1791.55,181.91 1795.51,177.56"/><path d="M1860.79,119.4C1864.55,116.83 1875.63,108.91 1883.34,103.97C1891.06,99.02 1899.17,94.47 1907.08,89.72C1915,84.97 1922.91,80.23 1930.82,75.48C1938.74,70.73 1946.65,65.79 1954.56,61.24C1962.48,56.69 1974.34,50.35 1978.3,48.18"/><path d="M1670.88,455.31C1671.07,452.54 1670.68,443.04 1672.06,438.69C1673.45,434.34 1676.41,433.94 1679.18,429.2C1681.95,424.45 1684.72,417.33 1688.68,410.2C1692.64,403.08 1698.57,393.59 1702.92,386.47C1707.28,379.34 1712.82,370.64 1714.79,367.47"/><path d="M1772.96,290.32C1776.32,287.75 1785.81,280.63 1793.13,274.89C1800.45,269.15 1808.96,262.62 1816.87,255.9C1824.79,249.17 1832.7,241.65 1840.61,234.53C1848.53,227.41 1856.44,219.89 1864.35,213.17C1872.27,206.44 1880.18,200.11 1888.09,194.18C1896,188.24 1903.92,182.7 1911.83,177.56C1919.74,172.41 1927.66,168.06 1935.57,163.31C1943.48,158.57 1952.19,153.62 1959.31,149.07C1966.43,144.52 1975.14,138.19 1978.3,136.01"/><path d="M1749.22,404.27C1751.79,400.91 1759.31,390.62 1764.65,384.09C1769.99,377.56 1774.54,372.22 1781.26,365.1C1787.99,357.98 1797.09,348.88 1805,341.36C1812.92,333.84 1820.83,326.72 1828.74,320C1836.66,313.27 1844.57,306.94 1852.48,301C1860.4,295.07 1868.31,289.93 1876.22,284.39C1884.13,278.85 1892.05,272.91 1899.96,267.77C1907.87,262.62 1915.79,258.67 1923.7,253.52C1931.61,248.38 1938.34,242.25 1947.44,236.91C1956.54,231.57 1973.16,224.05 1978.3,221.48"/><path d="M1776.52,455.31C1776.71,452.94 1776.52,444.23 1777.7,441.07C1778.89,437.9 1779.09,439.09 1783.64,436.32C1788.19,433.55 1797.49,429.2 1805,424.45C1812.52,419.7 1824.79,410.6 1828.74,407.83"/><path d="M1909.46,343.73C1913.02,342.15 1923.31,338.2 1930.82,334.24C1938.34,330.28 1946.65,324.74 1954.56,320C1962.48,315.25 1974.34,308.13 1978.3,305.75"/><path d="M1871.95,455.31C1872.07,453.13 1871.75,444.82 1872.66,442.25C1873.57,439.68 1876.62,440.27 1877.41,439.88"/><path d="M1968.81,395.96L1978.3,391.21"/></g><g fill="#1f77b4" font-size="25.8" text-anchor="middle" dominant-baseline="central"><text transform="translate(1624.58,70.73) rotate(0)">10<tspan font-size="18.06" dy="-10.4">−3</tspan></text><text transform="translate(1755.15,51.74) rotate(-65.38)">10<tspan font-size="18.06" dy="-10.4">−5</tspan></text><text transform="translate(1738.53,156.19) rotate(-55.2)">10<tspan font-size="18.06" dy="-10.4">−7</tspan></text><text transform="translate(1821.62,146.7) rotate(-41.7)">10<tspan font-size="18.06" dy="-10.4">−9</tspan></text><text transform="translate(1736.16,327.12) rotate(-52.99)">10<tspan font-size="18.06" dy="-10.4">−11</tspan></text><text transform="translate(1710.05,436.32) rotate(-52.59)">10<tspan font-size="18.06" dy="-10.4">−13</tspan></text><text transform="translate(1864.35,379.34) rotate(-38.45)">10<tspan font-size="18.06" dy="-10.4">−15</tspan></text><text transform="translate(1916.58,422.07) rotate(-25.67)">10<tspan font-size="18.06" dy="-10.4">−17</tspan></text></g><text x="1958.5" y="433.6" fill="#fff" font-size="32.3" text-anchor="end">Sr II</text></g><rect x="1535.8" y="32.9" width="445" height="420.8" fill="none" stroke="#000" stroke-width="1.72"/><rect x="2007.6" y="32.9" width="22.2" height="420.8" fill="url(#cbg)" stroke="#000" stroke-width="1.72"/><path d="M1535.8,453.7v8.6M1674.65,453.7v8.6M1813.49,453.7v8.6M1952.34,453.7v8.6M1535.8,69.01h-8.6M1535.8,153.32h-8.6M1535.8,237.62h-8.6M1535.8,321.93h-8.6M1535.8,406.24h-8.6M2029.8,388.03h8.6M2029.8,309.23h8.6M2029.8,230.43h8.6M2029.8,151.63h8.6M2029.8,72.83h8.6" stroke="#000" stroke-width="1.72" fill="none"/><g font-size="25.8"><text x="1535.8" y="490.5" text-anchor="middle">2000</text><text x="1674.65" y="490.5" text-anchor="middle">4000</text><text x="1813.49" y="490.5" text-anchor="middle">6000</text><text x="1952.34" y="490.5" text-anchor="middle">8000</text><text x="1518.9" y="77.11" text-anchor="end">−1</text><text x="1518.9" y="161.42" text-anchor="end">−2</text><text x="1518.9" y="245.72" text-anchor="end">−3</text><text x="1518.9" y="330.03" text-anchor="end">−4</text><text x="1518.9" y="414.34" text-anchor="end">−5</text><text x="2046.7" y="398.73">10<tspan font-size="18.06" dy="-9.7">−16</tspan></text><text x="2046.7" y="319.93">10<tspan font-size="18.06" dy="-9.7">−13</tspan></text><text x="2046.7" y="241.13">10<tspan font-size="18.06" dy="-9.7">−10</tspan></text><text x="2046.7" y="162.33">10<tspan font-size="18.06" dy="-9.7">−7</tspan></text><text x="2046.7" y="83.53">10<tspan font-size="18.06" dy="-9.7">−4</tspan></text></g><text transform="translate(2152.8,243.3) rotate(-90)" font-size="33" text-anchor="middle"><tspan dy="0">M</tspan><tspan font-size="23.1" dy="5.4">ej,</tspan><tspan font-size="23.1" dy="0" dx="4.6">s</tspan><tspan dy="-5.4" dx="1.5"> (M</tspan><tspan font-size="23.1" dy="5" dx="5.3">⊙</tspan><tspan dy="-5" dx="5.3">)</tspan></text><text x="1758.3" y="531.9" font-size="33" text-anchor="middle">Temperature (K)</text><text transform="translate(1457.8,243.3) rotate(-90)" font-size="33" text-anchor="middle"><tspan dy="0">log</tspan><tspan font-size="23.1" dy="6" dx="1.8">10</tspan><tspan dy="-6" dx="1"> [M</tspan><tspan font-size="23.1" dy="5.4">ej</tspan><tspan dy="-5.4" dx="1.5"> (M</tspan><tspan font-size="23.1" dy="5" dx="5.3">⊙</tspan><tspan dy="-5" dx="6.3">) ]</tspan></text><g clip-path="url(#c10)"><g filter="url(#cm)"><rect x="93.3" y="576.2" width="460" height="440" fill="#000000"/><g transform="scale(.5)" fill-rule="evenodd"><path fill="#030303" d="M187 1152l920 0 0 123-26 0-52-12-20-1-12 1-12 5-17 14-9 17-5 21-2 76-4 32-9 30-14 28-29 40-69 74-30 36-27 38-50 84-26 36-33 34-68 57-28 31-18 29-16 37-8 28 0 22-197 0-1-32-5-70-5-24-10-21-10-13-14-14-40-29-26-11-28-1z"/><path fill="#050505" d="M187 1152l920 0 0 34-20 0-34 6-32-3-14 3-14 7-14 10-32 31-18 24-16 27-43 99-26 48-26 38-81 109-85 129-173 236-10 10-10 7-12 3-12 1-14-3-12-5-9-7-8-10-63-132-11-30-5-26-1-52-3-25-10-26-32-61-7-20-2-16 1-18 6-18 28-43 7-15 3-16-1-16-5-14-10-15-16-16-24-19-16-10-14-6-10-3-20 0z"/><path fill="#080808" d="M297 1152l660 0-1 26-8 22-51 79-48 85-23 38-123 166-59 92-53 72-83 138-27 31-32 21-12 12-5-2-8-12-17-17-17-23-16-30-21-50-8-24-5-20-2-52-4-22-20-62-5-22-2-24 2-22 5-20 20-60 4-20 1-20-2-20-5-20-32-76-9-34-1-30 7-64z"/><path fill="#0b0b0b" d="M315 1152l623 0-1 28-10 28-93 146-33 47-66 82-34 45-38 55-45 71-64 72-9 25-9 15-18 50-22 42-10 12-11 11-10 6-12 3-20 0-16-8-14-15-12-21-31-90-3-14 0-32-2-18-24-80-2-24 2-24 25-94 4-26 0-24-2-22-5-24-26-76-8-34-4-38z"/><path fill="#0d0d0d" d="M328 1152l598 0-2 32-11 28-17 28-75 110-28 37-62 73-32 40-64 88-34 56-42 43-36 27-8 8-5 18 2 42-8 28-14 30-10 16-13 13-14 5-14 0-14-5-12-11-8-16-11-36-9-44-6-18-1-24-3-14-24-68-5-22-2-20 1-22 27-108 4-30 1-28-2-24-6-26-27-82-8-34-5-40z"/><path fill="#101010" d="M337 1152l580 0 0 24-6 22-12 24-22 32-76 104-77 88-29 36-52 70-37 46-16 30-17 18-25 30-29 27-8 10-7 17-2 44-7 24-25 50-9 9-10 4-10 0-10-4-8-7-5-10-12-54-1-14 4-30-2-16-20-34-18-38-8-20-4-18-2-18 2-18 28-120 5-32 1-30-3-26-6-28-30-86-9-32-5-34z"/><path fill="#131313" d="M345 1152l565 0-1 30-4 14-7 16-20 30-62 82-33 41-80 89-83 108-25 23-27 11-7 6-3 10-2 26-7 16-12 18-27 28-9 16-4 16-2 36-6 20-10 17-19 21-6 14-5 4-6 0-6-4-3-16-13-28-5-20 0-40-3-18-39-78-8-24-1-16 2-16 32-140 3-30 0-26-3-28-7-28-33-88-8-28-5-30z"/><path fill="#151515" d="M353 1152l552 0-1 26-6 20-12 24-22 30-75 94-92 100-79 104-23 22-32 17-8 7-5 12-5 28-5 16-11 16-24 28-8 14-4 16-4 36-5 16-11 17-8 5-8 3-8 0-8-3-6-6-7-10-4-16-3-42-4-20-16-37-21-37-5-16 1-24 33-158 4-28 0-24-4-30-8-32-35-86-8-24-5-26z"/><path fill="#181818" d="M359 1152l541 0-1 24-5 20-10 20-19 26-80 98-92 98-81 106-18 18-33 22-11 10-6 12-6 30-6 16-10 14-22 26-8 14-3 14-3 34-5 16-10 14-12 6-8 0-8-4-6-6-5-8-3-14-3-40-5-22-18-46-15-24-4-10 1-16 6-24 9-60 19-92 3-26 0-24-4-32-9-32-12-30-25-52-8-22-4-24z"/><path fill="#1b1b1b" d="M365 1152l530 0 0 22-4 18-9 20-16 22-85 101-90 95-84 110-18 18-32 23-11 11-7 14-7 30-6 14-9 14-22 24-8 14-3 14-2 34-4 12-7 12-12 6-8-1-8-5-5-6-4-10-4-56-17-58-2-12 2-24-8-20-2-14 0-26 3-28 24-114 1-28-2-28-6-28-10-28-43-90-5-24z"/><path fill="#1d1d1d" d="M370 1152l522 0-1 22-3 16-8 18-14 20-88 102-89 93-26 32-61 83-17 17-30 23-12 12-7 14-8 30-7 14-8 13-24 25-6 10-4 14 0 30-3 14-7 12-10 5-8-1-6-4-7-14-1-54-14-48-1-46-9-30-3-16 1-22 3-26 23-106 2-28-2-28-6-29-11-31-45-88-4-22z"/><path fill="#202020" d="M375 1152l513 0 0 22-3 14-8 18-13 18-91 104-86 88-30 38-60 82-16 16-29 24-11 13-8 14-10 31-6 14-10 13-24 23-8 12-3 12 2 26-1 14-4 10-10 6-11-4-6-12-1-16 4-36-14-46-2-46-10-36-2-18 0-22 4-24 23-102 2-28-2-28-6-32-12-32-13-28-26-43-7-15-4-18z"/><path fill="#232323" d="M381 1152l504 0 0 22-3 14-8 16-11 16-93 104-63 63-24 27-32 40-55 76-57 56-11 18-10 32-9 16-20 19-26 17-6-2-6-7-12-27-3-16-3-36-8-34-3-20 1-20 3-24 25-102 2-32-3-30-7-32-12-32-16-32-24-37-6-12-4-17zM456 1716l3-1 4 3 4 7 2 10-2 14-8 6-8-3-4-10 2-15z"/><path fill="#252525" d="M386 1152l496 0 0 22-3 12-6 14-11 16-94 104-65 65-28 31-28 36-54 76-58 58-9 16-12 34-9 14-18 16-18 7-8-1-6-4-11-20-3-14-3-36-8-34-3-20 1-22 4-24 19-72 6-28 2-32-3-32-7-32-14-36-20-38-25-38-4-16z"/><path fill="#282828" d="M392 1152l487 0 0 20-2 12-6 14-9 14-99 109-82 82-34 43-59 82-56 58-9 14-10 30-8 14-14 13-16 7-8 0-8-4-6-7-4-9-4-14-3-34-8-34-2-20 0-22 4-24 21-73 5-27 3-34-3-32-8-32-14-36-25-49-19-25-3-14z"/><path fill="#2a2a2a" d="M420 1152l457 0-2 30-6 14-9 14-101 109-57 55-23 25-36 46-57 81-57 60-10 16-9 26-7 12-12 12-14 5-8 0-6-3-6-6-5-10-6-44-9-44-1-20 2-22 6-26 21-76 4-28 1-28-3-28-8-30-10-26-24-50-6-18-2-12 3-14z"/><path fill="#2d2d2d" d="M428 1152l446 0 0 20-1 10-5 12-9 14-104 110-76 76-38 49-59 83-43 45-15 17-8 14-8 24-6 10-11 11-12 4-8 0-6-3-10-14-5-40-10-46 0-20 2-22 6-26 22-74 4-30 1-28-3-28-7-28-36-86-1-12z"/><path fill="#303030" d="M433 1152l439 0-1 28-5 12-8 12-107 114-51 48-23 26-38 49-59 83-59 64-8 14-9 24-5 8-8 8-12 4-12-4-8-12-5-36-9-38-2-22 2-22 4-22 20-64 6-28 4-34 0-32-4-24-8-26-32-76-2-18z"/><path fill="#323232" d="M436 1152l434 0-1 26-5 12-7 12-109 114-71 71-40 52-61 85-61 68-7 12-10 26-7 7-10 4-6-1-6-3-7-11-4-30-10-42-1-22 5-42 21-64 6-28 4-36 0-32-4-24-7-26-32-76-4-22z"/><path fill="#353535" d="M439 1152l429 0-1 26-4 11-8 11-59 60-52 56-67 67-40 51-64 90-63 70-6 10-9 24-6 5-8 2-10-3-5-8-3-26-11-44-2-24 6-40 20-66 7-26 5-38-1-32-3-24-8-26-33-76-3-22z"/><path fill="#383838" d="M442 1152l424 0-1 24-3 10-7 11-63 63-52 56-65 65-40 52-62 87-70 78-5 8-6 18-9 5-8-2-4-6-3-21-12-44-3-28 6-40 20-62 7-30 5-38 1-32-5-26-8-28-33-74-4-20z"/><path fill="#3a3a3a" d="M444 1152l420 0-1 24-4 10-6 10-57 56-58 62-61 61-38 49-75 104-49 54-30 27-4-3-6-8-12-26-5-22-2-24 6-38 21-64 6-26 6-42 0-32-4-26-8-28-35-76-3-18z"/><path fill="#3d3d3d" d="M447 1152l415 0-1 24-10 18-59 58-56 60-58 58-39 51-79 109-47 51-14 11-10 3-6-1-6-4-10-16-6-22-2-26 6-38 20-62 8-31 6-45 0-30-4-26-10-30-35-74-3-16z"/><path fill="#404040" d="M449 1152l411 0-1 24-8 16-63 60-55 60-56 56-30 38-92 126-42 46-12 8-10 4-6-1-6-4-9-13-6-22-2-24 6-38 21-65 7-35 7-44-1-26-3-24-10-32-37-74-3-14z"/><path fill="#424242" d="M451 1152l407 0 0 22-7 15-67 63-53 58-56 57-30 39-90 124-40 43-12 9-10 3-6-1-6-3-8-11-6-20-2-24 5-36 23-73 8-37 5-42 0-24-5-24-10-33-10-22-20-33-7-16-3-14z"/><path fill="#454545" d="M453 1152l403 0 0 22-7 14-68 64-53 58-53 54-28 36-95 130-37 41-10 7-10 3-6-1-6-3-8-11-6-20-1-22 5-36 22-70 8-40 7-42-1-26-4-22-12-35-10-21-20-32-7-16-3-12z"/><path fill="#484848" d="M455 1152l400 0 0 20-6 13-72 67-50 56-54 56-122 164-34 38-10 8-10 3-6 0-6-3-8-10-5-20-1-20 4-34 23-76 9-40 6-40-2-30-8-32-10-28-36-62-2-10z"/><path fill="#4a4a4a" d="M457 1152l396 0 0 20-5 10-31 28-42 40-51 58-37 38-24 27-95 131-21 26-32 35-10 7-8 2-10-3-7-9-6-22-1-16 5-34 22-78 10-44 6-36-1-30-10-37-12-28-34-57-2-8z"/><path fill="#4d4d4d" d="M458 1152l393 0 0 20-4 9-30 25-44 43-52 59-32 33-26 29-112 153-36 39-8 6-8 3-10-2-6-9-7-24 0-12 4-34 23-79 14-67 2-14-1-30-11-38-13-30-34-54z"/><path fill="#505050" d="M460 1152l389 0 0 20-3 6-29 24-47 46-50 58-31 32-28 32-102 141-43 47-7 7-10 3-8-2-6-8-6-24 0-10 3-34 23-80 15-72 1-39-11-39-15-32-33-50-2-6z"/><path fill="#525252" d="M462 1152l385 0 0 20-3 4-27 22-48 48-50 58-30 31-28 33-100 138-46 51-8 6-8 2-6-2-4-5-7-24 2-38 39-158 1-40-11-38-15-32-34-52z"/><path fill="#555555" d="M465 1152l379 0-1 22-28 22-52 53-45 53-29 31-27 31-101 139-46 51-6 4-8 3-4-1-4-4-8-24 1-36 39-158 2-40-12-40-15-32-35-52z"/><path fill="#585858" d="M467 1152l372 0 0 20-26 22-52 53-44 54-30 31-26 32-100 137-32 36-18 16-6 3-4-1-5-3-8-20 1-38 39-158 1-40-11-38-15-32-35-52z"/><path fill="#5a5a5a" d="M470 1152l363 0 0 20-22 20-52 54-44 54-29 30-26 32-70 98-29 39-32 34-22 17-4 0-4-3-7-15-1-38 8-42 31-116 2-40-11-37-15-31-35-54z"/><path fill="#5d5d5d" d="M474 1152l351 0 0 20-2 2-65 68-44 56-51 59-76 105-28 37-34 34-12 9-6 2-6-3-6-11-1-38 7-42 31-114 2-40-5-22-12-30-14-26-29-44z"/><path fill="#606060" d="M477 1152l340 0 0 20-2 4-60 66-43 56-51 59-74 103-22 29-36 37-18 12-4-1-4-2-4-8-3-37 8-44 30-110 3-40-5-20-12-30-14-28-29-44z"/><path fill="#626262" d="M480 1152l331 0 0 20-5 8-54 62-41 54-52 62-82 115-20 24-18 17-16 13-10 4-6-1-6-10-3-20 1-18 10-52 27-96 3-40-5-20-11-28-15-28-27-42z"/><path fill="#656565" d="M483 1152l321 0 0 20-6 12-49 58-41 54-49 60-82 114-32 36-18 14-12 5-7-3-5-12-2-18 1-20 9-46 27-92 3-24 1-16-5-20-11-26-15-29-27-43z"/><path fill="#686868" d="M485 1152l314 0 0 20-9 16-43 52-39 54-51 63-78 109-30 34-18 14-12 5-8-2-6-11-2-16 1-22 9-44 27-90 4-24 0-16-4-18-10-26-17-32-26-40-2-6z"/><path fill="#6a6a6a" d="M488 1152l305 0 0 22-9 16-39 49-40 55-48 61-77 109-15 18-16 16-16 12-12 4-8-3-6-11-2-14 1-22 8-40 28-92 4-24 0-16-4-18-10-24-16-30-26-42-2-6z"/><path fill="#6d6d6d" d="M491 1152l297 0-1 22-9 18-39 50-37 54-47 60-74 104-14 19-16 15-16 11-12 5-8-3-6-11-2-16 1-20 8-38 29-92 3-22 1-16-4-18-9-22-44-74-1-6z"/><path fill="#707070" d="M493 1152l289 0 0 22-6 14-41 55-34 51-46 60-82 116-24 24-12 8-10 3-6 0-4-2-6-9-2-14 0-20 8-40 30-92 4-22 0-16-4-18-9-20-42-72-3-8z"/><path fill="#727272" d="M496 1152l281 0 0 22-6 14-39 54-33 52-44 58-82 117-22 22-12 7-10 4-10-3-6-9-3-14 1-20 8-38 30-92 4-20 1-16-4-16-9-20-43-74-2-8z"/><path fill="#757575" d="M498 1152l274 0 0 22-5 14-38 54-32 52-42 56-82 117-22 22-10 6-10 4-10-3-6-8-3-14 1-20 7-36 32-94 3-18 1-16-3-16-8-18-45-76-2-8z"/><path fill="#787878" d="M500 1152l267 0 0 22-5 14-37 54-30 52-40 55-42 61-41 56-21 21-10 6-10 3-8-2-7-10-3-14 1-18 7-34 33-96 4-18 0-16-3-14-8-18-44-74-3-10z"/><path fill="#7a7a7a" d="M502 1152l260 0 0 22-5 14-34 53-30 53-38 53-43 63-39 55-22 21-10 5-8 2-10-3-6-8-2-14 1-18 7-34 34-96 4-18 0-14-3-14-7-16-46-76-3-10z"/><path fill="#7d7d7d" d="M504 1152l253 0 0 22-4 14-33 52-29 54-118 169-20 20-10 6-8 2-10-3-6-8-3-14 1-18 7-32 35-98 4-16 1-14-3-14-7-14-47-78-3-10z"/><path fill="#808080" d="M506 1152l247 0-1 22-4 14-31 50-28 56-117 168-17 18-10 6-8 3-10-2-7-9-3-14 1-18 7-32 37-98 4-16 0-14-3-12-6-14-48-78-3-10z"/><path fill="#828282" d="M508 1152l240 0 0 22-5 14-29 50-27 56-77 114-39 54-16 17-10 5-8 3-10-3-7-10-2-16 3-22 3-16 12-32 29-74 4-16 0-12-3-12-6-14-49-78-3-10z"/><path fill="#858585" d="M510 1152l233 0 0 22-4 14-28 48-24 56-76 114-39 54-17 17-16 7-10-2-7-10-2-16 3-24 15-48 29-70 4-16 1-12-3-12-5-12-51-80-3-10z"/><path fill="#878787" d="M512 1152l226 0 0 20-3 14-28 50-14 40-8 16-75 114-39 54-16 16-16 7-10-3-6-10-2-16 3-24 16-48 30-70 4-14 1-12-3-12-5-12-36-52-16-28-3-10z"/><path fill="#8a8a8a" d="M513 1152l220 0 0 20-3 14-26 48-13 42-8 16-73 112-39 55-16 16-16 6-10-4-6-11-1-14 3-24 17-48 31-70 4-12 1-12-3-12-5-12-25-34-28-44-4-12z"/><path fill="#8d8d8d" d="M515 1152l214 0 0 20-3 12-25 48-13 44-7 16-72 112-39 54-13 14-16 7-10-2-7-11-1-14 3-24 18-50 34-72 3-12 0-10-2-10-6-12-26-34-28-44-4-12z"/><path fill="#8f8f8f" d="M517 1152l207 0 0 20-2 10-25 48-10 44-8 18-71 112-37 52-14 15-16 7-10-4-6-10-1-14 3-24 19-50 35-72 3-10 1-10-2-10-5-10-29-36-28-44-4-12z"/><path fill="#929292" d="M518 1152l201 0-2 28-5 14-20 34-7 44-6 18-54 86-44 64-20 26-10 7-8 3-10-3-6-9-2-12 3-26 21-53 36-71 4-18-2-10-5-10-31-36-29-44-4-12z"/><path fill="#959595" d="M520 1152l194 0 0 20-3 12-26 44-2 42-6 20-51 84-44 64-21 27-10 7-8 3-10-4-5-9-1-12 3-26 13-36 12-25 35-63 4-10 0-8-2-8-4-8-34-36-29-44-5-14z"/><path fill="#979797" d="M521 1152l188 0 0 20-3 12-7 13-18 21-4 8-1 8 4 34-2 12-3 10-50 84-43 62-21 28-10 7-8 2-9-3-5-10-1-10 3-26 13-36 15-30 37-60 3-10 1-8-6-14-37-35-19-27-16-28z"/><path fill="#9a9a9a" d="M523 1152l181 0 0 22-5 14-10 12-23 18-6 8 1 6 12 17 3 11 1 16-4 14-46 80-28 42-36 49-10 7-10 4-9-4-5-10 1-26 2-10 13-33 14-28 24-39 18-24 5-10 1-10-2-8-4-6-16-11-26-23-19-24-16-30z"/><path fill="#9d9d9d" d="M524 1152l175 0 0 22-7 14-11 11-38 23-10 10-5 10 0 4 3 2 24-2 12 7 5 7 2 10 0 10-3 8-13 22-32 58-27 42-37 50-9 7-10 3-8-4-5-10 1-26 2-10 13-32 19-35 20-30 18-19 7-10 5-14 2-18-2-5-20-3-8-3-30-25-16-22-15-26-2-6z"/><path fill="#9f9f9f" d="M526 1152l168 0 0 20-4 10-9 9-37 23-33 30-8 4-10 1-8-3-24-18-18-23-17-31zM650 1256l11 1 7 7 3 14-2 11-12 17-32 63-46 67-20 26-12 6-8-1-5-5-3-8 1-26 19-47 14-26 21-31 29-26 20-34 8-5z"/><path fill="#a2a2a2" d="M527 1152l161 0 0 20-7 12-38 26-28 25-16 9-8 1-28-18-19-23-16-30zM648 1266l9-1 6 2 4 7 1 10-13 20-10 25-19 35-26 42-39 52-10 7-10 1-5-4-3-8 0-26 18-45 16-28 20-28 38-29 14-24z"/><path fill="#a5a5a5" d="M529 1152l153 0 0 20-4 6-63 52-18 10-6 1-28-16-18-22-16-29zM656 1274l7 2 2 9-13 15-9 28-20 41-24 38-38 51-10 6-10 0-4-4-3-8 0-26 13-34 18-32 26-34 46-28 13-20z"/><path fill="#a7a7a7" d="M530 1152l144 0 0 20-19 20-38 33-12 8-14 5-26-13-20-23-14-28zM632 1308l7-1 4 1 0 14-22 48-23 36-37 50-10 6-10 0-6-10 0-26 13-34 17-29 28-35z"/><path fill="#aaaaaa" d="M532 1152l133 0 0 20-15 20-31 29-16 10-14 4-24-12-18-21-15-28zM630 1314l5 0 3 2 1 10-20 44-22 36-36 49-8 5-11 0-5-8-1-24 15-39 18-31 22-25 16-10z"/><path fill="#adadad" d="M533 1152l127 0 0 20-11 18-24 24-18 13-12 5-6 0-23-10-19-22-13-26zM623 1320l10 0 2 6-4 16-12 27-22 36-36 48-8 6-10-1-5-8-1-22 12-36 22-33 20-23 12-8z"/><path fill="#afafaf" d="M535 1152l121 0 0 20-10 18-23 23-20 14-10 3-6-1-20-8-18-21-14-26zM615 1326l12-1 2 1 2 4-2 12-10 24-22 36-24 35-16 18-6 2-6 0-5-7-2-20 11-36 22-32 18-21 10-8z"/><path fill="#b2b2b2" d="M537 1152l115 0 0 20-9 18-20 21-20 14-8 2-8 0-20-8-18-21-12-24zM613 1330l10 0 4 4-3 14-7 19-20 34-24 34-16 18-6 2-6-1-4-6-2-20 11-34 23-33 14-15 12-10z"/><path fill="#b5b5b5" d="M538 1152l111 0 0 20-8 18-20 20-18 13-16 3-20-9-17-19-11-24zM610 1334l9 0 4 6-3 14-6 14-17 31-24 34-16 18-4 2-6-1-5-6-2-18 11-33 32-42 14-13z"/><path fill="#b7b7b7" d="M540 1152l107 0-1 22-9 18-18 19-18 11-8 2-8 0-18-9-17-19-10-22zM609 1338l8 1 2 5-1 12-7 16-16 28-20 29-16 18-6 3-4 0-5-6-2-16 9-32 32-41 14-12z"/><path fill="#bababa" d="M541 1152l103 0 0 22-9 18-18 19-18 10-16 1-16-8-17-20-9-20zM601 1344l10-1 4 3 0 10-6 16-14 26-20 30-16 17-6 3-4-1-4-6-2-13 9-32 29-36z"/><path fill="#bdbdbd" d="M542 1152l100 0 0 22-9 18-16 17-18 10-16 1-16-8-15-18-9-20zM600 1348l9 0 3 4-1 10-6 14-30 50-16 17-8 2-4-5-3-12 9-30 28-35 10-9z"/><path fill="#bfbfbf" d="M544 1152l96 0 0 22-9 18-16 17-16 9-16 1-16-8-14-17-9-20zM602 1352l5 2 1 8-15 34-16 26-8 9-10 9-4 2-4-1-4-7-1-8 9-29 28-33 10-8z"/><path fill="#c2c2c2" d="M545 1152l93 0 0 24-10 18-15 15-16 8-16 0-14-8-14-17-8-18zM598 1358l5 2 0 6-12 30-18 29-12 11-8 3-4-5-2-10 8-25 28-31z"/><path fill="#c5c5c5" d="M546 1152l91 0-1 24-8 16-15 16-16 8-16-1-14-7-14-18-6-16zM590 1366l7-1 1 5-9 25-16 28-12 11-4 2-4-1-3-5-1-8 7-22 23-25z"/><path fill="#c7c7c7" d="M548 1152l87 0-1 24-8 16-15 16-16 7-14-1-14-8-13-16-6-16zM586 1374l6 0-1 8-16 34-12 14-8 2-3-4-1-6 6-20 8-10z"/><path fill="#cacaca" d="M549 1152l84 0-1 26-9 16-13 12-15 7-14 0-14-8-12-16-6-17zM580 1384l5 0 0 4-12 28-10 11-7 1-3-4 0-6 6-15 6-8z"/><path fill="#cdcdcd" d="M550 1152l82 0-1 26-9 16-13 12-14 6-14-1-14-8-11-15-6-16zM568 1396l5-1 3 1-1 10-6 12-6 5-4 1-3-4 1-8 6-10z"/><path fill="#cfcfcf" d="M552 1152l78 0 0 20-2 8-8 14-13 12-14 5-14-2-14-9-9-14-4-14zM565 1406l4-1 0 3-2 5-4 2-1-5z"/><path fill="#d2d2d2" d="M553 1152l76 0 0 20-2 8-8 14-12 11-14 5-14-2-12-8-10-14-4-14z"/><path fill="#d4d4d4" d="M554 1152l74 0 0 20-3 10-8 13-12 10-14 4-12-2-12-8-9-13-4-14z"/><path fill="#d7d7d7" d="M555 1152l71 0 0 20-3 12-9 12-11 9-14 3-12-3-11-9-7-12-4-12z"/><path fill="#dadada" d="M557 1152l68 0-1 22-4 12-7 10-12 8-12 2-12-3-10-8-8-13-2-10z"/><path fill="#dcdcdc" d="M558 1152l65 0 0 22-4 12-8 10-10 7-12 2-12-3-10-8-7-12-2-10z"/><path fill="#dfdfdf" d="M559 1152l63 0 0 22-6 14-7 9-12 6-12 1-10-4-8-8-6-12-2-8z"/><path fill="#e2e2e2" d="M560 1152l61 0-1 22-5 14-8 9-10 5-12 1-10-5-8-8-5-10-2-8z"/><path fill="#e4e4e4" d="M561 1152l58 0 0 22-7 16-7 7-10 4-10 0-10-4-7-7-5-12z"/><path fill="#e7e7e7" d="M563 1152l55 0 0 22-7 16-8 7-10 3-10 0-8-4-7-8-4-10z"/><path fill="#eaeaea" d="M564 1152l53 0-1 22-7 16-6 6-10 3-10-1-8-4-6-7-4-11z"/><path fill="#ececec" d="M565 1152l50 0 0 24-7 14-7 6-10 2-8-1-8-4-5-7-4-10z"/><path fill="#efefef" d="M567 1152l47 0-1 24-6 14-8 5-8 2-8-1-8-5-8-15z"/><path fill="#f2f2f2" d="M568 1152l44 0 0 24-3 8-4 6-6 4-8 2-8-1-7-5-7-14z"/><path fill="#f4f4f4" d="M570 1152l41 0 0 22-6 15-6 4-8 1-8-1-6-3-7-14z"/><path fill="#f7f7f7" d="M571 1152l38 0 0 24-6 13-6 3-8 1-6-1-6-5-5-13z"/><path fill="#fafafa" d="M573 1152l35 0-1 24-7 12-11 3-6-1-5-4-5-12z"/><path fill="#fcfcfc" d="M575 1152l31 0-1 24-2 7-4 4-12 3-8-6-4-12z"/><path fill="#ffffff" d="M577 1152l26 0 0 24-6 10-10 1-7-5-3-10z"/></g></g><g fill="none" stroke="#1f77b4" stroke-width="3.5" stroke-linejoin="round"><path d="M231.76,587.18L238.82,598.47"/><path d="M256.47,629.06C257.45,632.2 261.37,641.61 262.35,647.88C263.33,654.16 263.14,660.04 262.35,666.71C261.57,673.37 259.22,681.22 257.65,687.88C256.08,694.55 254.71,700.04 252.94,706.71C251.18,713.37 248.82,721.22 247.06,727.88C245.29,734.55 243.33,740.43 242.35,746.71C241.37,752.98 240.78,760.43 241.18,765.53C241.57,770.63 243.53,774.55 244.71,777.29C245.88,780.04 246.47,781.61 248.24,782C250,782.39 252.16,782 255.29,779.65C258.43,777.29 262.75,772.59 267.06,767.88C271.37,763.18 276.47,757.29 281.18,751.41C285.88,745.53 290.98,738.47 295.29,732.59C299.61,726.71 303.14,721.61 307.06,716.12C310.98,710.63 314.9,705.14 318.82,699.65C322.75,694.16 326.27,688.67 330.59,683.18C334.9,677.69 340,671.8 344.71,666.71C349.41,661.61 354.51,657.29 358.82,652.59C363.14,647.88 366.67,643.18 370.59,638.47C374.51,633.76 378.04,629.06 382.35,624.35C386.67,619.65 392.16,614.55 396.47,610.24C400.78,605.92 403.92,602.31 408.24,598.47C412.55,594.63 420,589.06 422.35,587.18"/><path d="M264.71,587.18C265.88,589.45 269.02,596.59 271.76,600.82C274.51,605.06 277.25,609.25 281.18,612.59C285.1,615.92 291.18,620.24 295.29,620.82C299.41,621.41 304.12,616.9 305.88,616.12"/><path d="M335.29,591.41L340,587.18"/><path d="M326.59,642C327.06,641.53 328.47,639.18 329.41,639.18C330.35,639.18 332.24,641.06 332.24,642C332.24,642.94 330.35,644.82 329.41,644.82C328.47,644.82 327.06,642.47 326.59,642"/><path d="M283.53,678.47C281.96,681.22 276.86,689.06 274.12,694.94C271.37,700.82 268.24,708.27 267.06,713.76C265.88,719.25 266.27,724.75 267.06,727.88C267.84,731.02 269.8,732.2 271.76,732.59C273.73,732.98 276.08,732.59 278.82,730.24C281.57,727.88 284.71,723.18 288.24,718.47C291.76,713.76 296.08,707.88 300,702C303.92,696.12 308.24,689.45 311.76,683.18C315.29,676.9 319.02,669.45 321.18,664.35C323.33,659.25 324.71,655.14 324.71,652.59C324.71,650.04 322.94,649.06 321.18,649.06C319.41,649.06 315.29,652 314.12,652.59"/></g><g fill="#1f77b4" font-size="25.8" text-anchor="middle" dominant-baseline="central"><text transform="translate(248.24,611.41) rotate(60.02)">1</text><text transform="translate(321.18,603.18) rotate(-40.03)">2</text><text transform="translate(295.29,663.18) rotate(-40.24)">2</text></g><text x="521.4" y="986.9" fill="#fff" font-size="32.3" text-anchor="end">Y II</text></g><rect x="103.3" y="586.2" width="440.4" height="420.8" fill="none" stroke="#000" stroke-width="1.72"/><rect x="570.5" y="586.2" width="22.2" height="420.8" fill="url(#cbg)" stroke="#000" stroke-width="1.72"/><path d="M103.3,1007v8.6M240.71,1007v8.6M378.12,1007v8.6M515.53,1007v8.6M103.3,622.31h-8.6M103.3,706.62h-8.6M103.3,790.92h-8.6M103.3,875.23h-8.6M103.3,959.54h-8.6M592.7,1007h8.6M592.7,939.39h8.6M592.7,871.78h8.6M592.7,804.17h8.6M592.7,736.56h8.6M592.7,668.95h8.6M592.7,601.34h8.6" stroke="#000" stroke-width="1.72" fill="none"/><g font-size="25.8"><text x="103.3" y="1043.8" text-anchor="middle">2000</text><text x="240.71" y="1043.8" text-anchor="middle">4000</text><text x="378.12" y="1043.8" text-anchor="middle">6000</text><text x="515.53" y="1043.8" text-anchor="middle">8000</text><text x="86.4" y="630.41" text-anchor="end">−1</text><text x="86.4" y="714.72" text-anchor="end">−2</text><text x="86.4" y="799.02" text-anchor="end">−3</text><text x="86.4" y="883.33" text-anchor="end">−4</text><text x="86.4" y="967.64" text-anchor="end">−5</text><text x="609.6" y="1015.1">0.0</text><text x="609.6" y="947.49">0.5</text><text x="609.6" y="879.88">1.0</text><text x="609.6" y="812.27">1.5</text><text x="609.6" y="744.66">2.0</text><text x="609.6" y="677.05">2.5</text><text x="609.6" y="609.44">3.0</text></g><text x="590.7" y="576.5" font-size="25.8" text-anchor="end">×10<tspan font-size="18.06" dy="-9.3">40</tspan></text><text transform="translate(687.2,796.6) rotate(-90)" font-size="33" text-anchor="middle"><tspan dy="0">L</tspan><tspan font-size="23.1" dy="5.4">Bol,</tspan><tspan font-size="23.1" dy="0" dx="4.6">s</tspan><tspan dy="-5.4"> (erg/s)</tspan></text><text x="323.5" y="1085.2" font-size="33" text-anchor="middle">Temperature (K)</text><text transform="translate(25.3,796.6) rotate(-90)" font-size="33" text-anchor="middle"><tspan dy="0">log</tspan><tspan font-size="23.1" dy="6" dx="1.8">10</tspan><tspan dy="-6" dx="1"> [M</tspan><tspan font-size="23.1" dy="5.4">ej</tspan><tspan dy="-5.4" dx="1.5"> (M</tspan><tspan font-size="23.1" dy="5" dx="5.3">⊙</tspan><tspan dy="-5" dx="6.3">) ]</tspan></text><g clip-path="url(#c11)"><g filter="url(#cm)"><rect x="812.9" y="576.2" width="459" height="440" fill="#000000"/><g transform="scale(.5)" fill-rule="evenodd"><path fill="#030303" d="M1671 1152l794 0-2 26-5 12-8 11-24 20-38 19-34 23-22 25-26 22-32 34-32 24-84 91-36 43-22 31-10 19-6 16-9 88-8 28-28 68-38 82-27 43-45 95-19 24-4 16 0 20-120 0 0-26-3-30-35-134-29-64-12-34-9-54-17-62-5-44-1-44 2-70-2-72 4-26 12-52 2-48-2-14-12-30-5-16z"/><path fill="#050505" d="M1710 1152l666 0-1 26-4 10-9 12-14 15-37 29-101 102-72 83-32 39-26 35-20 32-10 19-7 18-21 92-37 116-20 46-37 66-32 52-12 23-7 23-2 42-63 0-1-52 2-54-2-26-14-78-18-70-8-72-16-90-10-84-14-56 2-22 16-34 6-22 3-24-1-26-15-70-23-50-7-18-2-12z"/><path fill="#080808" d="M1731 1152l624 0-1 24-3 10-7 10-69 60-89 94-58 68-38 48-24 35-30 49-10 20-8 23-35 141-22 66-12 26-31 56-14 21-26 29-8 14-3 14-6 52 0 20-36 0-3-54 12-40 1-18-33-160-9-82-17-104-4-44 0-42 11-46 2-66-1-26-5-32-13-45-32-85-3-14z"/><path fill="#0b0b0b" d="M1745 1152l598 0 0 24-9 16-48 40-30 28-58 62-50 57-36 43-34 46-53 80-13 26-9 24-34 144-11 36-10 26-28 56-14 24-18 18-10 6-10 4-8-1-6-4-6-8-7-15-9-32-16-82-9-92-17-110-3-38 2-34 10-42 4-24 3-38-2-26-4-25-7-25-45-122-3-18zM1841 1972l7 1 3 9-1 16-6 8-6-4-4-12 2-12z"/><path fill="#0d0d0d" d="M1754 1152l581 0 0 22-7 13-53 43-29 29-106 117-64 83-60 89-16 32-10 29-16 64-13 65-18 58-16 36-23 40-14 16-14 7-8-1-8-4-11-16-10-34-12-64-9-98-17-114-3-32 2-34 12-48 6-38 2-22-1-20-11-46-48-122-5-26z"/><path fill="#101010" d="M1762 1152l566 0 0 20-5 10-56 46-31 30-102 114-50 67-26 37-30 47-17 21-20 38-15 46-13 54-8 50-16 56-16 36-22 40-11 14-12 6-6-1-6-3-9-12-9-28-9-40-7-44-5-70-8-68-12-76 2-42 15-62 7-40-1-32-12-42-50-120-6-28z"/><path fill="#131313" d="M1769 1152l552 0 0 20-3 6-56 46-33 32-101 114-68 95-36 56-17 19-22 40-17 50-12 52-8 48-14 54-17 38-18 32-11 16-8 4-9-4-7-12-9-22-9-38-7-46-13-138-12-76 2-38 25-104-2-32-14-44-34-74-16-42-6-30z"/><path fill="#151515" d="M1775 1152l537 0 0 21-56 48-32 32-98 113-34 45-70 106-18 19-23 42-19 50-12 52-8 48-15 52-25 54-11 16-9 6-4-1-4-3-10-16-11-38-12-92-9-94-12-74 3-38 25-102-2-36-14-44-36-74-15-40-6-30z"/><path fill="#181818" d="M1781 1152l516 0 0 20-3 4-76 76-96 111-32 44-70 105-21 24-21 39-22 53-11 46-9 52-14 46-26 50-6 8-6 4-6-1-6-7-8-14-2-9-4-29-13-74-7-86-11-76 2-38 25-100-1-38-15-46-35-70-16-40-6-30z"/><path fill="#1b1b1b" d="M1786 1152l497 0 0 20-6 10-63 67-96 112-28 39-70 106-25 30-21 38-23 54-10 36-10 58-9 28-12 23-6 6-8 3-14 0-8-5-8-14-8-24-10-45-4-78-12-72 0-18 3-24 24-102 1-18-2-22-15-44-35-70-15-38-6-30z"/><path fill="#1d1d1d" d="M1791 1152l480 0 0 20-7 14-56 63-94 111-92 138-30 37-22 39-25 54-8 30-10 56-6 20-13 23-6 5-8 2-12-2-10-10-8-16-8-26-5-30-2-64-12-72 0-20 3-22 24-100 1-20-2-22-5-19-10-27-35-68-14-36-7-28z"/><path fill="#202020" d="M1796 1152l465 0-1 22-8 16-140 167-84 127-39 50-21 38-28 58-8 26-8 50-6 19-12 18-12 7-10-2-10-9-9-17-7-20-4-24 0-58-12-76 0-20 3-22 23-98 1-20-2-24-5-22-9-24-35-68-14-34-7-28z"/><path fill="#232323" d="M1801 1152l450 0 0 22-9 18-134 164-75 116-47 61-52 97-7 24-7 46-6 18-10 14-10 5-10-2-8-6-10-16-6-17-2-22 1-52-13-80 0-20 3-20 23-96 1-22-2-24-5-22-8-24-36-70-13-32-7-28z"/><path fill="#252525" d="M1805 1152l438 0-1 24-11 22-125 155-69 109-54 70-55 100-6 22-6 40-6 16-6 10-10 6-10-1-8-6-8-12-5-13-2-20 3-50-11-58-3-24 3-38 23-98 1-24-2-24-5-22-10-26-34-66-13-32-7-28z"/><path fill="#282828" d="M1809 1152l426 0-1 26-13 24-117 148-66 106-57 74-26 48-32 52-6 20-8 48-7 13-10 6-8-1-8-6-6-9-4-11-1-18 5-30 0-16-13-60-3-26 3-36 22-96 1-24-2-26-5-24-9-26-35-68-13-30-6-28z"/><path fill="#2a2a2a" d="M1813 1152l415 0-1 26-13 26-37 50-77 96-59 98-23 33-36 43-30 55-33 47-9 22-6 46-6 10-8 4-6-1-6-4-8-13-1-20 7-26 1-14-16-62-4-30 4-34 21-92 2-28-2-26-5-24-9-25-35-69-13-30-6-28z"/><path fill="#2d2d2d" d="M1817 1152l404 0-1 28-6 14-10 16-34 46-70 89-18 28-45 77-21 30-34 40-34 61-45 55-5 12 0 40-4 7-6 3-8-3-5-9 1-16 9-20 2-12-21-66-5-36 3-32 21-90 2-26-2-28-5-26-9-26-36-72-12-28-5-26z"/><path fill="#303030" d="M1820 1152l395 0 0 20-2 10-7 16-11 18-27 38-72 92-57 98-21 30-39 46-34 60-25 29-12 9-8 3-6-1-4-4-12-20-10-28-4-26 3-34 16-66 5-32 2-30-3-30-5-22-9-24-34-68-12-28-6-26z"/><path fill="#323232" d="M1824 1152l385 0 0 20-2 12-7 16-12 20-94 123-16 26-40 73-20 29-40 47-32 57-22 24-12 9-8 2-6 0-6-3-10-14-10-23-4-26 2-34 16-66 5-34 2-32-4-30-5-24-8-22-35-68-10-26-6-26z"/><path fill="#353535" d="M1827 1152l377 0 0 20-3 14-7 16-12 20-88 116-18 30-40 74-20 28-40 46-30 56-20 21-18 10-12-2-12-13-9-20-4-24 2-32 15-64 6-36 1-34-3-33-6-25-8-22-33-64-11-26-6-26z"/><path fill="#383838" d="M1830 1152l369 0 0 20-3 14-8 18-12 20-84 112-18 30-38 74-20 28-42 46-28 54-18 19-18 10-12-2-11-11-9-18-4-22 2-30 15-64 6-38 1-34-4-34-5-24-9-24-32-62-11-26-6-26z"/><path fill="#3a3a3a" d="M1834 1152l360 0-2 30-11 28-24 36-70 92-15 27-27 55-12 22-19 25-41 45-9 14-13 30-9 14-14 13-16 8-12-1-10-8-9-18-4-20 2-28 14-62 6-40 2-36-4-36-6-24-8-22-32-64-11-26-6-26z"/><path fill="#3d3d3d" d="M1837 1152l352 0-1 30-11 28-22 34-51 66-19 26-15 28-26 54-12 22-18 25-43 45-29 57-14 13-14 6-12 0-10-8-8-16-4-20 2-24 14-62 6-41 1-37-4-38-5-24-8-22-33-64-10-24-6-26z"/><path fill="#404040" d="M1839 1152l346 0-1 30-11 28-21 32-50 66-19 26-15 28-26 56-10 20-18 24-46 48-8 14-13 30-7 12-12 11-14 5-12-1-10-9-6-14-3-16 2-24 13-56 6-44 1-40-3-38-6-25-8-23-32-62-10-24-6-26z"/><path fill="#424242" d="M1842 1152l339 0-2 30-10 28-20 32-49 64-20 28-14 27-23 53-12 22-19 26-45 46-8 12-12 30-7 13-12 10-12 5-10 0-10-7-7-13-3-16 1-22 13-56 7-46 1-40-4-40-6-26-8-22-32-62-10-24-5-24z"/><path fill="#454545" d="M1845 1152l332 0-1 30-11 28-19 30-48 64-20 28-14 28-23 54-12 22-19 26-45 44-8 14-12 30-7 12-10 8-12 5-10-1-9-8-6-12-2-14 2-20 13-58 5-42 1-42-4-42-5-24-8-22-32-62-10-24-5-24z"/><path fill="#484848" d="M1848 1152l325 0-1 30-10 28-19 30-47 62-19 28-15 29-23 55-10 20-19 26-38 34-10 12-8 14-10 28-6 11-10 8-10 4-10-1-8-5-6-11-2-14 2-19 12-53 5-46 1-44-4-44-5-24-8-22-32-62-9-22-6-24z"/><path fill="#4a4a4a" d="M1850 1152l320 0-2 30-10 28-17 28-47 62-19 28-15 30-22 54-11 22-19 26-47 42-9 16-14 37-8 8-12 5-8-1-8-6-5-9-2-12 2-18 11-48 5-48 1-48-4-46-5-24-8-22-31-60-9-22-6-24z"/><path fill="#4d4d4d" d="M1853 1152l313 0-1 30-10 28-16 26-46 60-20 30-15 30-21 56-11 22-20 25-37 31-11 12-10 16-11 34-7 8-10 4-8 0-8-6-4-8-1-10 1-16 11-44 4-46 2-54-5-50-5-24-8-22-31-60-10-22-5-24z"/><path fill="#505050" d="M1855 1152l308 0-1 30-9 26-16 26-47 62-20 30-14 30-21 56-9 20-20 25-51 43-10 16-10 34-5 7-10 4-6-1-7-4-3-6-2-10 2-14 9-36 4-32 2-72-5-58-5-24-8-22-31-58-9-22-5-24z"/><path fill="#525252" d="M1858 1152l302 0-2 30-9 26-15 26-46 60-20 30-14 30-20 56-10 22-20 25-44 33-12 12-8 14-7 32-5 6-8 2-6 0-4-3-3-13 1-12 9-30 2-22 2-90-5-60-5-22-7-22-32-60-9-20-5-22z"/><path fill="#555555" d="M1860 1152l297 0-1 28-9 26-15 26-46 60-19 30-14 30-20 58-10 22-11 14-12 13-45 31-16 14-6 12-3 27-4 5-4 2-7-2-2-6 1-10 9-24 1-12-1-114-5-58-5-22-7-22-31-58-10-22-5-22z"/><path fill="#585858" d="M1862 1152l292 0-1 28-9 26-15 26-45 58-19 30-13 28-21 64-11 22-12 15-16 14-32 20-20 9-4 0-4-4-5-22-3-98-7-60-11-34-29-52-9-20-5-24z"/><path fill="#5a5a5a" d="M1864 1152l287 0-1 28-9 26-14 24-45 58-20 32-13 30-19 60-10 22-12 16-16 13-22 13-20 9-8 0-5-3-4-8-3-12-4-106-4-32-4-22-11-30-27-48-9-20-6-24z"/><path fill="#5d5d5d" d="M1867 1152l281 0-1 28-8 24-14 24-45 58-20 32-13 30-19 62-8 20-10 14-14 12-18 11-20 9-10 1-6-2-4-5-4-9-4-25-3-90-5-40-12-34-29-52-9-20-5-22z"/><path fill="#606060" d="M1869 1152l276 0-1 28-7 24-15 24-44 57-20 32-14 31-16 60-9 20-9 14-12 11-16 10-18 7-10 2-8-2-6-6-4-9-4-23-4-94-4-34-12-34-28-50-10-20-5-22z"/><path fill="#626262" d="M1871 1152l272 0-1 26-7 24-14 24-46 58-20 32-13 32-16 60-8 20-8 12-10 9-14 10-16 7-12 2-8-1-7-7-5-10-3-22-5-98-5-30-11-32-28-48-9-20-6-22z"/><path fill="#656565" d="M1873 1152l267 0-1 26-7 24-13 22-46 58-19 32-14 34-15 58-7 20-8 12-10 10-12 8-14 6-12 2-10-1-7-7-5-10-3-22-5-98-4-28-12-32-28-47-9-19-6-22z"/><path fill="#686868" d="M1875 1152l262 0-1 30-9 26-15 22-45 56-20 36-10 28-13 56-8 20-6 10-10 10-24 13-12 2-10-2-6-5-5-10-4-20-5-98-4-30-12-32-28-46-10-20-5-20z"/><path fill="#6a6a6a" d="M1877 1152l258 0-1 28-9 26-14 22-46 56-20 36-10 28-13 58-7 20-13 16-22 13-12 3-11-2-7-5-6-11-3-18-5-100-4-26-12-32-29-48-9-18-5-20z"/><path fill="#6d6d6d" d="M1878 1152l255 0-2 30-9 24-14 22-44 54-21 36-11 30-11 58-6 18-13 17-20 11-12 3-10-1-8-6-5-10-4-18-5-102-4-24-12-32-29-46-9-18-5-20z"/><path fill="#707070" d="M1880 1152l250 0-1 28-9 26-14 20-46 56-20 36-10 30-10 56-7 20-11 15-20 11-12 2-10-2-7-6-5-10-3-20-5-100-3-22-13-32-28-44-10-18-5-20z"/><path fill="#727272" d="M1882 1152l246 0-1 28-9 24-13 20-47 56-21 36-9 30-10 60-6 18-10 13-18 10-12 3-10-3-6-5-5-10-4-20-5-100-3-22-12-30-29-44-10-18-5-20z"/><path fill="#757575" d="M1884 1152l242 0-1 26-6 20-12 20-46 54-20 30-8 18-7 22-10 62-4 16-9 14-17 11-10 2-10-1-8-6-5-10-3-17-4-59-1-42-3-22-13-32-30-44-9-18-6-20z"/><path fill="#787878" d="M1886 1152l238 0-1 28-10 24-13 20-46 52-20 32-11 36-8 58-4 16-9 16-16 9-10 1-10-2-6-4-5-10-7-66 0-50-3-22-5-16-8-16-31-44-9-18-6-20z"/><path fill="#7a7a7a" d="M1887 1152l235 0-1 28-9 23-14 19-47 54-20 32-7 18-5 20-6 56-3 16-8 14-14 8-10 2-8-1-7-5-5-8-3-12-5-54 1-52-4-22-5-16-8-16-32-44-9-16-5-20z"/><path fill="#7d7d7d" d="M1889 1152l231 0-2 28-8 22-13 18-48 54-13 18-9 16-10 36-8 72-7 14-14 8-10 2-8-2-6-5-4-8-7-65 1-50-3-22-6-16-8-16-32-44-10-16-6-20z"/><path fill="#808080" d="M1891 1152l227 0-2 28-9 22-11 16-51 56-13 18-9 16-6 18-4 20-5 69-6 12-12 8-8 2-8-1-6-4-5-8-8-66 2-48-3-22-6-16-9-18-32-42-10-16-6-20z"/><path fill="#828282" d="M1892 1152l224 0-1 26-9 23-12 16-53 57-13 18-9 16-6 18-3 20-4 68-5 12-11 7-8 2-8-2-6-5-3-6-8-64 3-48-2-22-6-16-10-18-34-44-10-16-5-18z"/><path fill="#858585" d="M1894 1152l220 0-1 26-9 22-12 16-57 60-12 16-9 16-5 18-4 22 0 64-5 12-9 6-9 2-6-2-5-4-3-8-8-60 0-16 4-34-4-24-16-32-34-42-10-16-6-18z"/><path fill="#878787" d="M1896 1152l216 0-1 26-10 22-11 15-61 63-13 16-7 14-6 18-2 22 1 64-4 10-6 5-8 2-6-2-4-3-3-8-2-24-6-34 0-18 6-30-4-24-7-16-10-18-36-43-10-15-6-18z"/><path fill="#8a8a8a" d="M1897 1152l213 0-1 26-10 22-11 14-68 68-13 16-7 12-4 14-1 28 4 58-3 10-6 4-8 0-5-6-2-26-7-30 0-20 8-30-3-20-8-18-14-22-37-43-10-15-6-18z"/><path fill="#8d8d8d" d="M1899 1152l209 0 0 22-6 18-14 19-84 81-8 6-6 2-8-6-33-50-42-48-8-20zM1978 1350l2-1 2 3 0 9-2 1-2-6z"/><path fill="#8f8f8f" d="M1900 1152l206 0 0 22-6 18-16 20-66 61-16 11-10 2-6-2-6-5-33-41-37-41-9-19z"/><path fill="#929292" d="M1902 1152l202 0 0 20-7 20-15 19-60 53-16 11-12 3-8-3-10-8-29-33-34-36-10-20z"/><path fill="#959595" d="M1903 1152l199 0 0 20-2 10-5 10-17 20-56 48-16 9-12 2-8-3-10-7-62-64-9-19z"/><path fill="#979797" d="M1905 1152l196 0 0 20-5 14-8 12-46 43-28 19-10 4-10 1-8-3-10-6-60-59-6-9-4-11z"/><path fill="#9a9a9a" d="M1907 1152l192 0 0 20-4 12-8 12-45 41-26 18-10 4-10 1-10-3-10-6-58-54-7-11-4-10z"/><path fill="#9d9d9d" d="M1908 1152l189 0 0 20-4 12-7 11-46 41-24 15-10 4-10 0-10-2-10-7-58-52-9-18z"/><path fill="#9f9f9f" d="M1910 1152l185 0 0 20-4 12-7 11-46 39-22 14-10 3-10 0-10-2-10-7-56-49-10-17z"/><path fill="#a2a2a2" d="M1911 1152l182 0 0 20-3 11-8 11-46 39-22 12-18 3-8-2-10-6-57-48-9-16z"/><path fill="#a5a5a5" d="M1913 1152l179 0 0 20-4 10-6 9-46 39-22 12-18 2-10-2-8-5-56-47-9-16z"/><path fill="#a7a7a7" d="M1914 1152l176 0 0 20-4 10-6 8-46 38-22 11-16 2-8-2-10-6-56-45-7-14z"/><path fill="#aaaaaa" d="M1916 1152l172 0 0 20-3 8-6 8-47 39-20 9-16 2-16-6-56-45-8-13z"/><path fill="#adadad" d="M1917 1152l169 0 0 20-2 7-6 8-46 38-22 9-14 2-16-7-56-44-7-13z"/><path fill="#afafaf" d="M1919 1152l165 0 0 20-7 12-47 40-20 8-14 1-14-5-56-44-7-12z"/><path fill="#b2b2b2" d="M1921 1152l162 0 0 20-7 11-46 38-22 9-12 1-14-6-56-43-5-10z"/><path fill="#b5b5b5" d="M1922 1152l159 0 0 20-5 8-48 40-20 8-12 0-12-4-58-45-4-7z"/><path fill="#b7b7b7" d="M1924 1152l154 0 0 20-4 7-46 39-20 7-12 1-12-5-56-43-4-6z"/><path fill="#bababa" d="M1927 1152l149 0 0 20-50 45-20 7-10 0-12-5-55-43-2-4z"/><path fill="#bdbdbd" d="M1930 1152l143 0 0 20-47 43-18 6-12 1-12-5-53-43-1-2z"/><path fill="#bfbfbf" d="M1934 1152l135 0 0 20-43 41-18 7-12 0-8-2-18-13-35-31-1-2z"/><path fill="#c2c2c2" d="M1938 1152l126 0 0 20-16 18-22 21-16 6-14 1-8-2-18-13-31-29-1-2z"/><path fill="#c5c5c5" d="M1942 1152l118 0 0 20-12 16-22 21-16 7-14 1-8-3-17-12-26-26-3-4z"/><path fill="#c7c7c7" d="M1946 1152l111 0 0 20-13 18-19 18-15 6-14 1-8-3-14-9-23-23-5-8z"/><path fill="#cacaca" d="M1949 1152l105 0 0 20-12 18-18 17-14 6-14 0-8-2-12-8-21-21-6-10z"/><path fill="#cdcdcd" d="M1952 1152l100 0 0 20-10 16-18 18-14 6-14 0-8-3-12-8-19-19-5-10z"/><path fill="#cfcfcf" d="M1954 1152l95 0 0 20-9 16-16 16-14 6-14 1-18-10-19-19-5-10z"/><path fill="#d2d2d2" d="M1957 1152l90 0 0 20-9 16-14 15-14 6-14 0-18-9-17-18-4-10z"/><path fill="#d4d4d4" d="M1959 1152l86 0-1 22-9 16-13 13-14 5-14-1-16-9-15-16-4-10z"/><path fill="#d7d7d7" d="M1961 1152l82 0-1 22-7 14-13 13-14 6-14-1-16-9-13-15-4-10z"/><path fill="#dadada" d="M1963 1152l78 0 0 22-8 14-12 12-13 5-14 0-15-9-12-14-4-10z"/><path fill="#dcdcdc" d="M1965 1152l74 0-1 24-8 14-10 9-12 5-14-1-15-9-11-14-3-8z"/><path fill="#dfdfdf" d="M1967 1152l70 0-1 24-8 14-10 9-12 4-14-2-13-9-9-12-3-8z"/><path fill="#e2e2e2" d="M1968 1152l68 0 0 20-2 6-7 12-11 9-12 3-12-2-12-8-9-12-3-8z"/><path fill="#e4e4e4" d="M1970 1152l64 0 0 20-3 8-7 12-10 7-12 2-12-3-10-8-8-12-2-6z"/><path fill="#e7e7e7" d="M1972 1152l60 0 0 20-3 10-8 10-9 6-12 1-10-2-10-9-6-10-2-6z"/><path fill="#eaeaea" d="M1974 1152l57 0 0 20-6 14-7 8-10 4-10 0-10-4-8-8-5-10z"/><path fill="#ececec" d="M1975 1152l54 0 0 20-6 14-7 8-8 2-10 1-11-5-5-6-6-10z"/><path fill="#efefef" d="M1977 1152l50 0 0 22-7 14-6 5-10 3-10-2-7-4-5-6-5-10z"/><path fill="#f2f2f2" d="M1979 1152l47 0-1 22-7 14-6 5-8 1-10-1-6-3-6-8-3-8z"/><path fill="#f4f4f4" d="M1981 1152l43 0-1 22-7 14-6 4-8 1-8-2-6-3-7-14z"/><path fill="#f7f7f7" d="M1983 1152l39 0 0 22-6 13-6 3-8 1-8-1-5-4-6-12z"/><path fill="#fafafa" d="M1985 1152l35 0 0 22-6 12-12 4-7-2-5-3-5-13z"/><path fill="#fcfcfc" d="M1987 1152l31 0-1 22-5 11-12 3-6-2-4-4-3-10z"/><path fill="#ffffff" d="M1990 1152l25 0 0 22-5 9-10 2-8-5-2-8z"/></g></g><g fill="none" stroke="#1f77b4" stroke-width="3.5" stroke-linejoin="round"><path d="M963.53,587.18C966.27,589.45 974.9,596.78 980,600.82C985.1,604.86 990.59,609.45 994.12,611.41C997.65,613.37 998.04,612.98 1001.18,612.59C1004.31,612.2 1009.02,611.41 1012.94,609.06C1016.86,606.71 1020.59,602.12 1024.71,598.47C1028.82,594.82 1035.49,589.06 1037.65,587.18"/><path d="M885.88,587.18C886.27,589.45 886.67,595.41 888.24,600.82C889.8,606.24 892.55,612.98 895.29,619.65C898.04,626.31 901.57,634.16 904.71,640.82C907.84,647.49 911.37,652.98 914.12,659.65C916.86,666.31 919.8,674.55 921.18,680.82C922.55,687.1 922.75,691.8 922.35,697.29C921.96,702.78 920.2,707.88 918.82,713.76C917.45,719.65 915.69,726.31 914.12,732.59C912.55,738.86 910.39,745.53 909.41,751.41C908.43,757.29 908.04,762 908.24,767.88C908.43,773.76 909.61,780.43 910.59,786.71C911.57,792.98 913.14,798.47 914.12,805.53C915.1,812.59 915.69,821.22 916.47,829.06C917.25,836.9 918.04,844.75 918.82,852.59C919.61,860.43 920.2,868.27 921.18,876.12C922.16,883.96 923.33,892.59 924.71,899.65C926.08,906.71 927.65,913.37 929.41,918.47C931.18,923.57 933.53,927.49 935.29,930.24C937.06,932.98 938.04,935.33 940,934.94C941.96,934.55 944.31,931.8 947.06,927.88C949.8,923.96 953.33,917.69 956.47,911.41C959.61,905.14 963.14,898.08 965.88,890.24C968.63,882.39 971.18,872.59 972.94,864.35C974.71,856.12 974.9,849.06 976.47,840.82C978.04,832.59 979.8,823.57 982.35,814.94C984.9,806.31 988.24,796.9 991.76,789.06C995.29,781.22 1000.39,772.59 1003.53,767.88C1006.67,763.18 1009.41,762 1010.59,760.82"/><path d="M1048.24,704.35C1050.59,701.22 1057.25,691.8 1062.35,685.53C1067.45,679.25 1073.33,672.98 1078.82,666.71C1084.31,660.43 1089.8,654.16 1095.29,647.88C1100.78,641.61 1106.27,634.94 1111.76,629.06C1117.25,623.18 1122.75,617.69 1128.24,612.59C1133.73,607.49 1139.61,602.71 1144.71,598.47C1149.8,594.24 1156.47,589.06 1158.82,587.18"/><path d="M840,587.18C840.59,589.84 841.76,598.16 843.53,603.18C845.29,608.2 848.24,612.98 850.59,617.29C852.94,621.61 856.47,623.96 857.65,629.06C858.82,634.16 857.25,642.78 857.65,647.88C858.04,652.98 860.2,654.94 860,659.65C859.8,664.35 857.65,671.02 856.47,676.12C855.29,681.22 853.92,685.92 852.94,690.24C851.96,694.55 851.18,696.51 850.59,702C850,707.49 849.61,719.65 849.41,723.18"/><path d="M857.65,812.59C858.43,815.73 860.98,825.53 862.35,831.41C863.73,837.29 865.1,842 865.88,847.88C866.67,853.76 866.08,860.43 867.06,866.71C868.04,872.98 869.8,879.25 871.76,885.53C873.73,891.8 876.86,900.04 878.82,904.35C880.78,908.67 882.35,907.1 883.53,911.41C884.71,915.73 884.71,923.96 885.88,930.24C887.06,936.51 889.41,942.78 890.59,949.06C891.76,955.33 891.96,961.61 892.94,967.88C893.92,974.16 895.69,980.43 896.47,986.71C897.25,992.98 897.45,1002.39 897.65,1005.53"/><path d="M947.06,1005.53C947.25,1003.57 946.67,996.9 948.24,993.76C949.8,990.63 953.53,991.02 956.47,986.71C959.41,982.39 962.75,974.16 965.88,967.88C969.02,961.61 972.16,955.33 975.29,949.06C978.43,942.78 981.57,935.53 984.71,930.24C987.84,924.94 992.55,919.45 994.12,917.29"/><path d="M1029.41,831.41C1029.8,828.27 1030.98,818.86 1031.76,812.59C1032.55,806.31 1033.53,798.86 1034.12,793.76C1034.71,788.67 1033.73,786.71 1035.29,782C1036.86,777.29 1040.2,771.02 1043.53,765.53C1046.86,760.04 1051.37,754.16 1055.29,749.06C1059.22,743.96 1063.14,739.65 1067.06,734.94C1070.98,730.24 1074.9,725.14 1078.82,720.82C1082.75,716.51 1086.67,713.37 1090.59,709.06C1094.51,704.75 1097.65,700.43 1102.35,694.94C1107.06,689.45 1114.12,680.43 1118.82,676.12C1123.53,671.8 1126.27,672.98 1130.59,669.06C1134.9,665.14 1140.78,656.9 1144.71,652.59C1148.63,648.27 1151.37,645.53 1154.12,643.18C1156.86,640.82 1159.22,640.82 1161.18,638.47C1163.14,636.12 1162.75,632.2 1165.88,629.06C1169.02,625.92 1174.9,623.18 1180,619.65C1185.1,616.12 1192.16,610.63 1196.47,607.88C1200.78,605.14 1201.96,606.31 1205.88,603.18C1209.8,600.04 1216.86,591.73 1220,589.06C1223.14,586.39 1223.92,587.49 1224.71,587.18"/></g><g fill="#1f77b4" font-size="25.8" text-anchor="middle" dominant-baseline="central"><text transform="translate(1027.06,734.94) rotate(-56.31)">1 %</text><text transform="translate(852.94,767.88) rotate(84.74)">0.1 %</text><text transform="translate(1012.94,873.76) rotate(-67.66)">0.1 %</text></g><circle cx="994.47" cy="706.62" r="7.8" fill="#fff" stroke="#000" stroke-width="1.6"/><text x="1004.97" y="706.62" fill="#fff" font-size="33">P1</text><circle cx="857.21" cy="706.62" r="7.8" fill="#fff" stroke="#000" stroke-width="1.6"/><text x="867.71" y="706.62" fill="#fff" font-size="33">P2</text><text x="1240.5" y="986.9" fill="#fff" font-size="32.3" text-anchor="end">Y II</text></g><rect x="822.9" y="586.2" width="439.9" height="420.8" fill="none" stroke="#000" stroke-width="1.72"/><rect x="1289.6" y="586.2" width="22.2" height="420.8" fill="url(#cbg)" stroke="#000" stroke-width="1.72"/><path d="M822.9,1007v8.6M960.15,1007v8.6M1097.41,1007v8.6M1234.66,1007v8.6M822.9,622.31h-8.6M822.9,706.62h-8.6M822.9,790.92h-8.6M822.9,875.23h-8.6M822.9,959.54h-8.6M1311.8,1007h8.6M1311.8,946.23h8.6M1311.8,885.47h8.6M1311.8,824.7h8.6M1311.8,763.94h8.6M1311.8,703.17h8.6M1311.8,642.41h8.6" stroke="#000" stroke-width="1.72" fill="none"/><g font-size="25.8"><text x="822.9" y="1043.8" text-anchor="middle">2000</text><text x="960.15" y="1043.8" text-anchor="middle">4000</text><text x="1097.41" y="1043.8" text-anchor="middle">6000</text><text x="1234.66" y="1043.8" text-anchor="middle">8000</text><text x="806" y="630.41" text-anchor="end">−1</text><text x="806" y="714.72" text-anchor="end">−2</text><text x="806" y="799.02" text-anchor="end">−3</text><text x="806" y="883.33" text-anchor="end">−4</text><text x="806" y="967.64" text-anchor="end">−5</text><text x="1328.7" y="1015.1">0</text><text x="1328.7" y="954.33">2</text><text x="1328.7" y="893.57">4</text><text x="1328.7" y="832.8">6</text><text x="1328.7" y="772.04">8</text><text x="1328.7" y="711.27">10</text><text x="1328.7" y="650.51">12</text></g><text transform="translate(1397.3,796.6) rotate(-90)" font-size="33" text-anchor="middle"><tspan dy="0">L</tspan><tspan font-size="23.1" dy="5.4">Bol,</tspan><tspan font-size="23.1" dy="0" dx="4.6">s</tspan><tspan dy="-5.4">/L</tspan><tspan font-size="23.1" dy="5.4">Bol</tspan><tspan dy="-5.4"> (%)</tspan></text><text x="1042.85" y="1085.2" font-size="33" text-anchor="middle">Temperature (K)</text><text transform="translate(744.9,796.6) rotate(-90)" font-size="33" text-anchor="middle"><tspan dy="0">log</tspan><tspan font-size="23.1" dy="6" dx="1.8">10</tspan><tspan dy="-6" dx="1"> [M</tspan><tspan font-size="23.1" dy="5.4">ej</tspan><tspan dy="-5.4" dx="1.5"> (M</tspan><tspan font-size="23.1" dy="5" dx="5.3">⊙</tspan><tspan dy="-5" dx="6.3">) ]</tspan></text><g clip-path="url(#c12)"><g filter="url(#cm)"><rect x="1531.9" y="576.2" width="459" height="440" fill="#030303"/><g transform="scale(.5)" fill-rule="evenodd"><path fill="#050505" d="M3064 1152l918 0 0 833-22 1-14 7-5 7-3 10 0 22-874 0z"/><path fill="#080808" d="M3064 1152l918 0 0 824-24 1-10 3-8 7-8 9-4 12-1 24-863 0z"/><path fill="#0b0b0b" d="M3064 1152l918 0 0 816-26 1-12 5-10 8-8 10-7 14-1 26-854 0z"/><path fill="#0d0d0d" d="M3064 1152l918 0 0 809-20 0-10 2-12 6-12 9-9 12-7 14-2 8 0 20-846 0z"/><path fill="#101010" d="M3064 1152l918 0 0 802-20 0-10 2-14 7-14 11-12 14-7 14-3 10 0 20-838 0z"/><path fill="#131313" d="M3064 1152l918 0 0 795-20 0-12 3-16 8-14 11-15 17-8 16-4 10 0 20-829 0z"/><path fill="#151515" d="M3064 1152l918 0 0 787-20 0-14 4-16 9-18 14-15 18-10 16-4 12 0 20-821 0z"/><path fill="#181818" d="M3064 1152l918 0 0 779-20 0-14 4-18 11-20 16-18 20-12 18-4 12 0 20-812 0z"/><path fill="#1b1b1b" d="M3064 1152l918 0 0 771-20 0-16 5-20 13-22 19-21 22-12 18-5 12 0 20-802 0z"/><path fill="#1d1d1d" d="M3064 1152l918 0 0 761-20 0-16 6-22 15-30 26-21 22-13 18-5 12 0 20-791 0z"/><path fill="#202020" d="M3064 1152l918 0 0 749-20 0-16 8-24 18-46 41-20 20-9 12-4 12 0 20-779 0z"/><path fill="#232323" d="M3064 1152l918 0 0 733-20 0-8 6-118 101-4 12-1 28-767 0z"/><path fill="#252525" d="M3064 1152l918 0 0 715-20 0-4 2-66 68-50 39-20 10-3 6 1 40-756 0z"/><path fill="#282828" d="M3064 1152l918 0 0 705-20 0-12 5-62 68-30 24-40 25-4 5-3 8-1 40-746 0z"/><path fill="#2a2a2a" d="M3064 1152l918 0 0 695-22 1-16 8-62 69-24 19-44 30-7 10-4 10-1 38-738 0z"/><path fill="#2d2d2d" d="M3064 1152l918 0 0 687-24 0-20 10-13 13-31 38-17 18-19 17-47 33-9 12-5 12-3 20 0 20-730 0z"/><path fill="#303030" d="M3064 1152l918 0 0 678-26 1-12 5-11 6-15 14-47 56-63 51-10 13-7 16-4 20 0 20-723 0z"/><path fill="#323232" d="M3064 1152l918 0 0 669-28 2-14 5-12 8-16 15-47 55-59 51-14 17-8 18-4 20 0 20-716 0z"/><path fill="#353535" d="M3064 1152l918 0 0 660-20 0-10 2-14 5-14 9-19 18-45 54-56 51-15 19-11 20-6 22 0 20-708 0z"/><path fill="#383838" d="M3064 1152l918 0 0 650-22 1-18 5-19 10-19 18-46 54-52 50-18 22-11 18-9 20-3 12 0 20-701 0z"/><path fill="#3a3a3a" d="M3064 1152l918 0 0 640-22 1-20 5-22 14-20 18-46 54-50 52-18 22-14 22-9 20-3 12 0 20-694 0z"/><path fill="#3d3d3d" d="M3064 1152l918 0 0 630-24 0-20 7-22 13-22 20-51 60-47 52-17 22-17 26-9 18-3 12 0 20-686 0z"/><path fill="#404040" d="M3064 1152l918 0 0 618-22 0-22 7-26 17-22 21-96 112-18 24-31 49-4 12 0 20-677 0z"/><path fill="#424242" d="M3064 1152l918 0 0 604-22 0-18 7-30 19-24 23-100 119-47 66-8 20-1 22-668 0z"/><path fill="#454545" d="M3064 1152l918 0 0 588-20 0-14 5-42 30-20 20-100 121-35 50-22 26-6 16 0 24-659 0z"/><path fill="#484848" d="M3064 1152l918 0 0 567-20 0-8 4-58 49-12 12-105 130-35 52-27 24-3 12-1 30-649 0z"/><path fill="#4a4a4a" d="M3064 1152l918 0 0 542-20 0-2 2-22 22-22 25-30 26-76 94-39 51-16 26-15 20-34 26-3 6 1 40-640 0z"/><path fill="#4d4d4d" d="M3064 1152l918 0 0 529-20 0-8 4-9 7-37 45-31 29-73 93-64 90-10 11-20 12-12 10-3 10 0 40-631 0z"/><path fill="#505050" d="M3064 1152l918 0 0 520-22 0-16 9-14 14-30 37-30 30-72 93-59 83-11 13-26 18-9 9-6 16-1 38-622 0z"/><path fill="#525252" d="M3064 1152l918 0 0 511-24 1-20 11-14 13-30 36-30 34-70 90-59 84-13 13-25 19-9 11-5 9-4 12-1 36-614 0z"/><path fill="#555555" d="M3064 1152l918 0 0 503-26 1-12 5-12 7-16 17-56 66-70 89-59 84-13 14-26 23-10 11-6 12-4 12-2 36-606 0z"/><path fill="#585858" d="M3064 1152l918 0 0 494-28 2-12 5-12 7-21 20-52 62-70 90-59 85-12 13-28 26-10 12-8 14-5 14-2 16 0 20-599 0z"/><path fill="#5a5a5a" d="M3064 1152l918 0 0 486-24 0-20 8-20 14-24 26-108 134-63 90-50 54-9 16-6 16-3 16 0 20-591 0z"/><path fill="#5d5d5d" d="M3064 1152l918 0 0 476-24 1-22 8-24 19-26 28-108 134-60 88-51 56-9 16-7 18-3 16 0 20-584 0z"/><path fill="#606060" d="M3064 1152l918 0 0 467-26 1-24 10-24 19-30 33-107 132-58 86-52 60-10 18-8 20-3 14 0 20-576 0z"/><path fill="#626262" d="M3064 1152l918 0 0 456-26 1-12 4-14 8-28 23-34 38-102 126-56 84-55 66-12 20-8 20-4 14 0 20-567 0z"/><path fill="#656565" d="M3064 1152l918 0 0 445-28 2-12 4-14 9-32 28-41 46-99 122-51 78-58 72-13 22-8 18-4 14 0 20-558 0z"/><path fill="#686868" d="M3064 1152l918 0 0 432-20 0-14 4-18 11-22 18-41 43-110 134-20 26-38 62-43 54-28 40-9 16-5 14-1 26-549 0z"/><path fill="#6a6a6a" d="M3064 1152l918 0 0 417-20 0-12 4-18 11-22 20-45 48-121 144-14 20-38 62-34 44-46 64-9 22-1 24-538 0z"/><path fill="#6d6d6d" d="M3064 1152l918 0 0 399-20 0-6 3-18 11-20 18-51 55-74 90-60 68-11 16-38 64-87 114-7 18-1 24-525 0z"/><path fill="#707070" d="M3064 1152l918 0 0 377-20 0-36 32-107 121-31 41-66 73-46 78-21 26-20 28-21 28-35 34-3 12 0 30-512 0z"/><path fill="#727272" d="M3064 1152l918 0 0 359-20 0-11 7-33 36-109 128-26 34-68 74-44 76-24 30-19 29-24 28-40 32-3 7 1 40-498 0z"/><path fill="#757575" d="M3064 1152l918 0 0 350-24 1-10 5-10 8-161 194-67 73-47 79-43 58-22 24-33 24-9 10-4 8-3 10-1 36-484 0z"/><path fill="#787878" d="M3064 1152l918 0 0 341-20 0-8 2-12 6-12 11-74 91-84 100-68 73-14 20-35 60-41 55-18 20-36 29-13 14-9 22-2 36-472 0z"/><path fill="#7a7a7a" d="M3064 1152l918 0 0 332-20 0-10 3-14 7-14 12-92 113-70 82-63 67-17 24-37 60-35 47-20 22-38 32-13 15-7 14-4 14-3 16 0 20-461 0z"/><path fill="#7d7d7d" d="M3064 1152l918 0 0 324-20 0-14 3-14 8-16 13-94 116-68 78-64 68-19 26-39 60-28 38-22 24-38 36-14 17-9 15-6 18-2 16 0 20-451 0z"/><path fill="#808080" d="M3064 1152l918 0 0 315-20 0-16 4-16 9-16 13-19 21-77 96-66 75-67 71-83 117-22 25-40 40-16 20-10 18-7 18-3 18 0 20-440 0z"/><path fill="#828282" d="M3064 1152l918 0 0 306-20 0-16 4-18 9-18 15-21 22-79 99-132 144-82 111-22 26-40 42-18 22-11 20-8 22-4 18 0 20-429 0z"/><path fill="#858585" d="M3064 1152l918 0 0 296-22 1-16 4-18 10-20 16-22 23-78 96-137 148-79 106-61 68-20 26-12 22-10 24-4 20 0 20-419 0z"/><path fill="#878787" d="M3064 1152l918 0 0 286-20 0-18 5-20 11-21 16-23 25-80 97-141 150-76 100-59 69-22 29-14 26-11 26-5 20 0 20-408 0z"/><path fill="#8a8a8a" d="M3064 1152l918 0 0 275-22 0-18 6-20 11-22 18-25 26-77 93-150 159-77 98-53 65-21 29-19 32-13 30-5 18 0 20-396 0z"/><path fill="#8d8d8d" d="M3064 1152l918 0 0 262-20 0-18 6-20 11-24 20-30 31-74 88-159 166-121 153-24 34-22 37-17 36-5 16 0 20-384 0z"/><path fill="#8f8f8f" d="M3064 1152l918 0 0 247-20 0-16 5-20 13-26 23-34 34-68 81-173 179-113 144-22 32-49 86-5 16 0 20-372 0z"/><path fill="#929292" d="M3064 1152l918 0 0 228-20 0-12 5-18 13-26 23-44 46-58 68-162 165-30 34-68 86-56 76-59 100-4 16 0 20-361 0z"/><path fill="#959595" d="M3064 1152l918 0 0 201-20 0-24 20-80 85-54 64-171 172-35 40-108 142-56 95-16 19-3 18-1 24-350 0z"/><path fill="#979797" d="M3064 1152l918 0 0 171-20 0-5 3-57 72-100 114-176 176-36 41-58 76-47 65-56 96-19 20-2 8-1 38-341 0z"/><path fill="#9a9a9a" d="M3064 1152l918 0 0 161-22 0-15 9-57 74-94 108-172 171-40 45-58 77-42 60-54 92-26 34-4 13-1 36-333 0z"/><path fill="#9d9d9d" d="M3064 1152l918 0 0 152-26 2-10 4-12 10-63 80-81 92-158 157-54 60-44 58-46 66-22 34-41 71-28 40-6 20-2 34-325 0z"/><path fill="#9f9f9f" d="M3064 1152l918 0 0 144-20 0-10 3-14 7-13 10-69 85-71 79-139 138-40 42-28 32-40 53-52 75-25 40-38 68-31 46-8 24-2 34-318 0z"/><path fill="#a2a2a2" d="M3064 1152l918 0 0 137-20 0-14 3-16 8-15 12-75 89-60 66-134 131-71 78-37 49-60 89-24 39-37 67-31 49-7 13-3 14-3 36-311 0z"/><path fill="#a5a5a5" d="M3064 1152l918 0 0 129-22 0-16 5-17 8-17 14-130 144-132 129-72 79-38 50-64 97-24 39-36 68-31 50-7 16-5 16-2 16 0 20-305 0z"/><path fill="#a7a7a7" d="M3064 1152l918 0 0 122-22 0-18 4-20 10-20 16-136 144-128 125-64 71-40 54-69 106-21 36-33 66-33 54-8 18-5 18-3 16 0 20-298 0z"/><path fill="#aaaaaa" d="M3064 1152l918 0 0 114-24 0-20 6-21 10-23 18-140 142-110 106-70 78-48 66-84 136-34 68-42 76-9 30-1 30-292 0z"/><path fill="#adadad" d="M3064 1152l918 0 0 106-26 0-22 7-25 13-27 22-246 238-50 55-42 53-28 42-72 118-43 88-34 60-9 22-7 20-2 16 0 20-285 0z"/><path fill="#afafaf" d="M3064 1152l918 0 0 97-26 1-24 7-25 13-29 22-77 70-152 144-37 38-38 45-30 38-24 35-90 150-33 74-33 60-12 26-9 32-1 28-278 0z"/><path fill="#b2b2b2" d="M3064 1152l918 0 0 88-28 1-24 7-28 16-33 24-97 84-117 110-42 42-37 43-36 45-24 36-93 158-32 74-32 62-15 34-9 30-1 26-270 0z"/><path fill="#b5b5b5" d="M3064 1152l918 0 0 77-28 1-26 9-30 17-44 32-64 52-59 52-105 101-48 53-42 54-26 37-54 97-41 66-31 78-32 62-19 44-7 24 0 24-262 0z"/><path fill="#b7b7b7" d="M3064 1152l918 0 0 65-20 0-12 2-30 12-42 28-72 53-47 38-41 37-100 97-42 46-47 60-27 38-29 50-25 50-42 68-29 78-29 58-26 58-5 20-1 22-252 0z"/><path fill="#bababa" d="M3064 1152l918 0 0 50-28 1-28 12-24 15-113 80-38 30-39 35-104 101-37 42-78 104-33 58-20 43-45 69-6 16-20 64-59 120-4 18 0 22-242 0z"/><path fill="#bdbdbd" d="M3064 1152l887 0 0 20-5 6-69 56-91 63-38 30-41 35-113 113-31 35-53 70-29 42-34 60-16 36-49 72-21 78-42 88-25 34-1 42-229 0z"/><path fill="#bfbfbf" d="M3064 1152l843 0 0 20-2 8-7 12-12 14-24 22-92 65-34 27-38 34-116 118-30 36-72 98-41 68-18 38-51 74-22 82-38 81-10 12-18 17-5 8-2 10 0 36-211 0z"/><path fill="#c2c2c2" d="M3064 1152l811 0-2 28-5 12-10 14-25 22-89 69-60 55-118 124-25 30-68 92-40 64-24 46-51 72-6 18-14 58-14 32-26 49-30 30-10 15-5 20-1 30-188 0z"/><path fill="#c5c5c5" d="M3064 1152l775 0-1 28-5 12-10 14-19 20-62 54-46 43-110 116-47 55-76 102-66 106-39 52-12 18-10 24-18 62-22 45-14 19-33 32-15 20-11 28-1 30-158 0z"/><path fill="#c7c7c7" d="M3064 1152l739 0 0 20-3 12-6 14-11 16-23 26-96 99-114 127-88 116-76 112-44 56-19 32-25 66-16 30-20 25-50 45-21 28-11 28-2 28-114 0z"/><path fill="#cacaca" d="M3064 1152l707 0 0 22-4 16-8 18-13 20-28 34-146 164-44 52-144 195-65 79-17 26-28 54-18 25-14 15-18 15-86 60-30 18-24 7-20 0z"/><path fill="#cdcdcd" d="M3064 1152l681 0-1 26-5 20-11 24-18 26-170 201-150 196-86 95-56 70-32 30-40 24-48 19-22 5-20 1-22 1z"/><path fill="#cfcfcf" d="M3064 1152l659 0 0 26-5 22-11 24-17 26-160 197-104 137-48 56-32 32-96 91-40 32-28 16-30 12-32 8-32 4-24 0z"/><path fill="#d2d2d2" d="M3064 1152l640 0 0 20-3 20-7 22-12 22-17 26-145 183-88 117-30 35-30 31-40 36-64 50-38 27-32 19-32 14-32 10-34 5-36 1z"/><path fill="#d4d4d4" d="M3064 1152l623 0 0 20-3 20-7 22-11 22-18 26-141 184-75 100-26 32-28 28-34 29-42 29-56 35-44 23-34 14-34 9-34 4-36 1z"/><path fill="#d7d7d7" d="M3064 1152l607 0 0 20-3 20-7 22-12 22-18 28-199 268-26 31-26 26-30 24-38 24-54 29-50 23-36 12-36 9-34 4-38 1z"/><path fill="#dadada" d="M3064 1152l592 0 0 20-3 20-8 22-13 24-20 30-67 94-116 158-27 32-24 24-28 21-34 19-48 22-54 20-40 12-36 7-36 4-38 1z"/><path fill="#dcdcdc" d="M3064 1152l577 0 0 20-4 22-11 26-63 96-141 197-24 29-22 21-26 19-28 14-38 14-54 16-48 12-40 8-38 4-40 0z"/><path fill="#dfdfdf" d="M3064 1152l563 0 0 20-4 20-12 24-83 130-116 162-22 26-18 18-18 12-22 11-24 8-32 8-126 23-40 4-46 0z"/><path fill="#e2e2e2" d="M3064 1152l548 0 0 20-4 14-14 26-56 94-37 58-99 138-21 24-17 16-30 16-36 8-160 16-74 0z"/><path fill="#e4e4e4" d="M3064 1152l527 0 0 20-66 122-37 63-92 129-24 30-20 15-24 9-28 3-60-1-64-4-32-7-15-11-20-30-11-11-12-5-22-1z"/><path fill="#e7e7e7" d="M3064 1152l490 0 0 20-4 18-11 26-49 99-28 46-62 88-28 35-20 19-22 10-26 2-44-6-45-11-33-13-46-27-21-10-23-5-28-1z"/><path fill="#eaeaea" d="M3064 1152l446 0-1 22-2 18-5 20-22 56-28 56-30 48-40 54-28 30-12 8-12 6-12 3-14 0-24-3-32-8-92-33-28-9-30-5-34-1z"/><path fill="#ececec" d="M3064 1152l389 0-1 32-8 44-17 48-22 44-27 41-26 27-24 16-26 7-34 1-136-21-32-3-36 0z"/><path fill="#efefef" d="M3064 1152l321 0-1 30-2 24-12 44-10 22-11 18-12 16-13 14-16 12-16 10-34 12-42 6-46 2-106-1z"/><path fill="#f2f2f2" d="M3064 1152l254 0 0 26-3 22-10 32-16 30-23 24-28 20-32 13-40 10-46 5-56 1z"/><path fill="#f4f4f4" d="M3064 1152l199 0 0 24-3 20-9 26-14 24-19 20-23 16-27 13-32 9-34 5-38 0z"/><path fill="#f7f7f7" d="M3064 1152l156 0-1 26-4 20-8 20-11 17-15 15-19 14-20 9-24 7-24 3-30 1z"/><path fill="#fafafa" d="M3064 1152l119 0 0 28-7 22-8 14-10 12-12 11-14 8-16 7-16 3-36 2z"/><path fill="#fcfcfc" d="M3064 1152l87 0-1 26-8 22-14 16-18 12-20 5-26 0z"/><path fill="#ffffff" d="M3064 1152l52 0-1 24-3 10-5 6-7 6-10 3-26 1z"/></g></g><g fill="none" stroke="#1f77b4" stroke-width="3.5" stroke-linejoin="round"><path d="M1542.71,744.35C1543.1,746.31 1543.88,752.2 1545.06,756.12C1546.24,760.04 1547.02,764.75 1549.76,767.88C1552.51,771.02 1555.65,773.69 1561.53,774.94C1567.41,776.2 1575.25,775.33 1585.06,775.41C1594.86,775.49 1609.37,775.49 1620.35,775.41C1631.33,775.33 1643.49,775.33 1650.94,774.94C1658.39,774.55 1660.75,774.24 1665.06,773.06C1669.37,771.88 1673.29,769.92 1676.82,767.88C1680.35,765.84 1682.71,764.35 1686.24,760.82C1689.76,757.29 1694.08,751.8 1698,746.71C1701.92,741.61 1705.84,735.73 1709.76,730.24C1713.69,724.75 1717.61,719.25 1721.53,713.76C1725.45,708.27 1729.37,702.78 1733.29,697.29C1737.22,691.8 1741.14,686.71 1745.06,680.82C1748.98,674.94 1753.69,667.1 1756.82,662C1759.96,656.9 1762.71,652.2 1763.88,650.24"/><path d="M1643.88,1005.53C1643.88,1003.57 1642.71,996.9 1643.88,993.76C1645.06,990.63 1648.59,989.45 1650.94,986.71C1653.29,983.96 1655.65,981.61 1658,977.29C1660.35,972.98 1662.71,965.92 1665.06,960.82C1667.41,955.73 1669.76,951.41 1672.12,946.71C1674.47,942 1678,934.94 1679.18,932.59"/><path d="M1714.47,857.29C1715.65,854.55 1718.78,846.31 1721.53,840.82C1724.27,835.33 1727.8,829.84 1730.94,824.35C1734.08,818.86 1736.82,813.37 1740.35,807.88C1743.88,802.39 1747.8,797.29 1752.12,791.41C1756.43,785.53 1761.53,778.86 1766.24,772.59C1770.94,766.31 1775.25,760.04 1780.35,753.76C1785.45,747.49 1790.94,741.22 1796.82,734.94C1802.71,728.67 1809.37,722.39 1815.65,716.12C1821.92,709.84 1828.2,703.57 1834.47,697.29C1840.75,691.02 1847.02,684.35 1853.29,678.47C1859.57,672.59 1865.45,667.49 1872.12,662C1878.78,656.51 1886.24,650.63 1893.29,645.53C1900.35,640.43 1907.02,636.51 1914.47,631.41C1921.92,626.31 1930.94,620.43 1938,614.94C1945.06,609.45 1952.12,603.1 1956.82,598.47C1961.53,593.84 1964.67,589.06 1966.24,587.18"/><path d="M1702.71,1005.53C1702.9,1003.57 1702.31,997.1 1703.88,993.76C1705.45,990.43 1709.18,989.45 1712.12,985.53C1715.06,981.61 1718.39,975.53 1721.53,970.24C1724.67,964.94 1727.8,959.25 1730.94,953.76C1734.08,948.27 1736.82,942.78 1740.35,937.29C1743.88,931.8 1748.2,926.31 1752.12,920.82C1756.04,915.33 1759.57,910.24 1763.88,904.35C1768.2,898.47 1772.9,892.2 1778,885.53C1783.1,878.86 1788.98,871.02 1794.47,864.35C1799.96,857.69 1805.06,851.8 1810.94,845.53C1816.82,839.25 1823.49,832.98 1829.76,826.71C1836.04,820.43 1842.31,814.16 1848.59,807.88C1854.86,801.61 1861.53,794.94 1867.41,789.06C1873.29,783.18 1878.39,778.08 1883.88,772.59C1889.37,767.1 1894.67,762.39 1900.35,756.12C1906.04,749.84 1915.06,738.47 1918,734.94"/><path d="M1783.88,1005.53C1783.88,1003.57 1782.51,996.71 1783.88,993.76C1785.25,990.82 1788.78,990.63 1792.12,987.88C1795.45,985.14 1799.96,981.41 1803.88,977.29C1807.8,973.18 1812.12,967.88 1815.65,963.18C1819.18,958.47 1821.53,953.76 1825.06,949.06C1828.59,944.35 1834.86,937.29 1836.82,934.94"/><path d="M1893.29,858.47C1895.25,855.92 1900.75,848.47 1905.06,843.18C1909.37,837.88 1914.47,832.2 1919.18,826.71C1923.88,821.22 1928.59,815.73 1933.29,810.24C1938,804.75 1942.71,799.25 1947.41,793.76C1952.12,788.27 1956.04,783.18 1961.53,777.29C1967.02,771.41 1977.22,761.61 1980.35,758.47"/><path d="M1850.94,1005.53C1850.94,1003.57 1849.76,996.71 1850.94,993.76C1852.12,990.82 1855.25,989.84 1858,987.88C1860.75,985.92 1864.27,984.94 1867.41,982C1870.55,979.06 1874.08,974.16 1876.82,970.24C1879.57,966.31 1882.71,960.43 1883.88,958.47"/><path d="M1942.71,883.18C1945.06,881.22 1952.51,875.73 1956.82,871.41C1961.14,867.1 1964.67,861.61 1968.59,857.29C1972.51,852.98 1978.39,847.49 1980.35,845.53"/><path d="M1910.94,1005.53C1910.94,1003.57 1909.57,996.31 1910.94,993.76C1912.31,991.22 1915.45,992.59 1919.18,990.24C1922.9,987.88 1928.59,983.37 1933.29,979.65C1938,975.92 1942.71,972.2 1947.41,967.88C1952.12,963.57 1957.22,958.08 1961.53,953.76C1965.84,949.45 1970.16,945.14 1973.29,942C1976.43,938.86 1979.18,936.12 1980.35,934.94"/></g><g fill="#1f77b4" font-size="25.8" text-anchor="middle" dominant-baseline="central"><text transform="translate(1782.71,617.29) rotate(-59.04)">10<tspan font-size="18.06" dy="-10.4">−5</tspan></text><text transform="translate(1688.59,894.94) rotate(-64.89)">10<tspan font-size="18.06" dy="-10.4">−8</tspan></text><text transform="translate(1949.76,699.65) rotate(-50.19)">10<tspan font-size="18.06" dy="-10.4">−11</tspan></text><text transform="translate(1858,897.29) rotate(-53.56)">10<tspan font-size="18.06" dy="-10.4">−14</tspan></text><text transform="translate(1905.06,930.24) rotate(-52)">10<tspan font-size="18.06" dy="-10.4">−17</tspan></text></g><text x="1959" y="986.9" fill="#fff" font-size="32.3" text-anchor="end">Y II</text></g><rect x="1541.9" y="586.2" width="439.4" height="420.8" fill="none" stroke="#000" stroke-width="1.72"/><rect x="2008.1" y="586.2" width="22.2" height="420.8" fill="url(#cbg)" stroke="#000" stroke-width="1.72"/><path d="M1541.9,1007v8.6M1679,1007v8.6M1816.1,1007v8.6M1953.19,1007v8.6M1541.9,622.31h-8.6M1541.9,706.62h-8.6M1541.9,790.92h-8.6M1541.9,875.23h-8.6M1541.9,959.54h-8.6M2030.3,948.6h8.6M2030.3,885.57h8.6M2030.3,822.55h8.6M2030.3,759.52h8.6M2030.3,696.49h8.6M2030.3,633.47h8.6" stroke="#000" stroke-width="1.72" fill="none"/><g font-size="25.8"><text x="1541.9" y="1043.8" text-anchor="middle">2000</text><text x="1679" y="1043.8" text-anchor="middle">4000</text><text x="1816.1" y="1043.8" text-anchor="middle">6000</text><text x="1953.19" y="1043.8" text-anchor="middle">8000</text><text x="1525" y="630.41" text-anchor="end">−1</text><text x="1525" y="714.72" text-anchor="end">−2</text><text x="1525" y="799.02" text-anchor="end">−3</text><text x="1525" y="883.33" text-anchor="end">−4</text><text x="1525" y="967.64" text-anchor="end">−5</text><text x="2047.2" y="959.3">10<tspan font-size="18.06" dy="-9.7">−20</tspan></text><text x="2047.2" y="896.27">10<tspan font-size="18.06" dy="-9.7">−17</tspan></text><text x="2047.2" y="833.25">10<tspan font-size="18.06" dy="-9.7">−14</tspan></text><text x="2047.2" y="770.22">10<tspan font-size="18.06" dy="-9.7">−11</tspan></text><text x="2047.2" y="707.19">10<tspan font-size="18.06" dy="-9.7">−8</tspan></text><text x="2047.2" y="644.17">10<tspan font-size="18.06" dy="-9.7">−5</tspan></text></g><text transform="translate(2153.3,796.6) rotate(-90)" font-size="33" text-anchor="middle"><tspan dy="0">M</tspan><tspan font-size="23.1" dy="5.4">ej,</tspan><tspan font-size="23.1" dy="0" dx="4.6">s</tspan><tspan dy="-5.4" dx="1.5"> (M</tspan><tspan font-size="23.1" dy="5" dx="5.3">⊙</tspan><tspan dy="-5" dx="5.3">)</tspan></text><text x="1761.6" y="1085.2" font-size="33" text-anchor="middle">Temperature (K)</text><text transform="translate(1463.9,796.6) rotate(-90)" font-size="33" text-anchor="middle"><tspan dy="0">log</tspan><tspan font-size="23.1" dy="6" dx="1.8">10</tspan><tspan dy="-6" dx="1"> [M</tspan><tspan font-size="23.1" dy="5.4">ej</tspan><tspan dy="-5.4" dx="1.5"> (M</tspan><tspan font-size="23.1" dy="5" dx="5.3">⊙</tspan><tspan dy="-5" dx="6.3">) ]</tspan></text><g clip-path="url(#c20)"><g filter="url(#cm)"><rect x="93.3" y="1129.6" width="473" height="440" fill="#000000"/><g transform="scale(.5)" fill-rule="evenodd"><path fill="#030303" d="M187 2259l833 0-1 34-5 28-9 22-16 24-22 26-31 30-109 92-40 38-26 28-20 26-14 24-10 22-9 30-5 36-1 132-4 52-11 42-7 16-14 20-4 16 1 14 12 32 6 24 4 36 1 36-499 0z"/><path fill="#050505" d="M361 2259l432 0-1 26-2 20-6 22-9 22-12 20-16 20-16 16-18 14-68 38-30 23-21 23-40 62-27 34-1 12 3 11 20 15 10 11 11 17 9 20 10 40 2 44-14 140-22 52-22 64-27 54-4 24-1 36-314 0 0-614 22 0 18-3 19-7 17-10 24-24 39-56 15-30 14-44 5-38z"/><path fill="#080808" d="M442 2259l296 0 0 28-4 22-8 20-10 18-13 17-16 15-18 12-20 11-90 40-16 13-9 16-12 64-13 50-2 22 6 24 24 42 11 26 5 28 0 30-4 24-7 24-31 64-6 17-3 19 3 46-3 28-7 32-24 76-5 28 0 24-279 0 0-574 28-1 24-9 34-24 50-47 22-16 24-11 39-8 17-5 17-9 15-12 7-12 1-16-20-78-3-26z"/><path fill="#0b0b0b" d="M486 2259l222 0-1 30-6 22-10 20-14 18-18 15-22 13-24 8-26 5-24-1-18-4-14-8-14-12-11-16-10-20-7-22-3-22zM419 2467l30-1 20 4 15 9 11 16 5 16 2 18-4 62 1 24 6 20 23 54 5 20 2 20-1 24-7 26-7 20-23 47-11 33-4 26-1 52-2 28-7 32-25 82-3 20 0 20-257 0 0-339 30-2 26-10 12-8 7-9 3-6 1-12-1-11-6-11-30-32-18-11-24-1 0-87 24-1 22-11 32-27 60-56 26-20 28-11z"/><path fill="#0d0d0d" d="M516 2259l171 0-2 32-4 16-9 16-11 14-14 11-16 9-18 5-18 2-16-2-14-4-14-7-12-11-10-13-6-14-5-16zM404 2481l27-1 22 5 17 10 12 16 5 14 3 16 1 54 2 22 6 20 18 52 6 34-1 24-6 24-8 20-22 44-11 36-6 30-2 58-4 30-10 40-24 78-3 12 0 20-239 0 0-318 28-1 12-4 12-7 14-12 10-12 7-14 3-12 0-14-4-15-27-53-8-18-2-16 2-14 10-20 18-24 35-38 32-31 18-14 18-10 20-7z"/><path fill="#101010" d="M538 2259l132 0 0 22-3 14-5 12-7 12-10 10-10 7-24 8-14 1-12-2-12-5-10-7-15-18-9-24zM397 2491l26-1 22 4 17 11 12 16 8 26 7 70 20 70 5 34-1 24-6 22-8 20-21 40-11 36-7 36-5 64-5 34-17 58-23 60-1 24-222 0 0-300 26-1 12-5 10-6 12-10 12-14 10-16 5-14 3-18-1-18-19-58-4-20-1-18 4-16 8-20 15-22 23-28 25-26 18-15 16-10 18-8z"/><path fill="#131313" d="M558 2259l97 0-1 24-4 16-11 16-14 10-18 4-20-4-14-10-10-14-5-18zM407 2497l22 2 18 6 14 11 9 15 7 24 8 62 18 66 4 32-1 24-5 24-8 20-22 42-10 34-9 40-8 84-18 64-14 34-24 38 0 20-201 0 0-285 26-1 12-4 10-7 22-24 18-35 5-20 1-22-15-66-2-26 5-28 14-28 29-38 35-34 14-9 16-8 14-4z"/><path fill="#151515" d="M577 2259l63 0-1 26-3 10-5 8-8 7-12 4-12-2-9-5-7-8-5-10zM408 2503l19 2 16 6 14 11 9 15 7 22 10 65 15 59 4 32-2 24-5 24-9 20-19 36-8 25-12 52-11 87-17 60-13 30-15 19-8 6-10 4-36-1-16 4-9 6-7 8 0 20-118 0 0-269 28-1 12-6 10-7 20-26 20-40 6-22 1-23-10-68-1-28 6-28 14-30 27-36 31-29 28-17 14-4z"/><path fill="#181818" d="M398 2509l21 0 18 5 14 10 10 15 8 24 10 56 15 62 3 28-1 26-6 26-8 20-19 34-7 20-15 62-11 82-12 42-17 44-9 12-11 9-16 4-50-1-33 8-19 10-11 10-1 2 0 20-64 0 0-252 26-1 12-5 10-7 10-11 10-15 20-43 8-28 4-24-1-22-6-54 0-28 6-26 12-28 22-32 29-29 24-16z"/><path fill="#1b1b1b" d="M403 2513l18 1 16 6 13 11 9 14 7 20 10 56 13 52 4 40-1 24-6 24-9 20-18 32-6 16-16 67-13 85-23 66-6 14-8 10-8 7-12 4-16 0-60-7-104 1 0-170 26-1 12-5 10-8 18-24 18-41 12-36 5-28 1-24-4-74 2-24 7-24 9-20 11-18 31-35 28-21 16-7z"/><path fill="#1d1d1d" d="M403 2517l18 1 16 7 12 11 9 15 6 20 21 98 4 24 1 22-3 24-6 24-8 18-16 28-6 16-18 71-15 85-25 68-6 12-8 8-10 5-12 1-18-3-116-31-36-2 0-110 20 0 10-3 14-9 12-13 10-16 8-17 22-70 6-26 2-22-2-68 1-26 4-24 7-22 19-34 29-34 28-20 14-5z"/><path fill="#202020" d="M400 2521l19 1 16 6 12 11 9 16 6 20 21 96 3 26 0 28-3 20-7 22-23 42-5 12-18 72-13 72-9 32-27 61-10 8-16 2-14-4-54-22-30-15-19-14-15-14-9-12-1-8 4-10 36-56 10-24 8-27 20-91 2-24 1-82 4-26 8-26 17-32 28-32 24-18 12-6z"/><path fill="#232323" d="M397 2525l18 0 16 5 13 11 9 15 7 21 19 86 4 30 0 30-3 20-7 24-22 40-5 12-7 32-12 41-14 69-8 28-8 20-16 26-7 18-7 6-10 1-10-3-18-11-34-15-22-14-11-12-8-12-4-12-1-14 4-18 18-58 21-114 3-26 1-78 4-26 6-22 15-34 23-30 27-24 12-7z"/><path fill="#252525" d="M405 2527l16 2 14 8 11 12 7 16 25 102 3 32-1 32-11 38-24 47-9 37-13 42-15 72-10 28-13 21-14 12-20 4-20 0-24-8-22-15-13-18-6-22 1-20 10-50 6-58 12-74 3-78 3-26 5-24 7-22 10-22 12-18 20-22 18-15 16-9z"/><path fill="#282828" d="M397 2531l16-1 16 6 12 11 9 16 7 24 18 76 4 32-2 34-10 40-24 47-9 35-13 42-17 74-9 24-11 16-13 11-16 4-22 1-20-7-18-13-12-18-5-20 0-18 5-44 4-60 10-82 5-86 11-48 9-22 10-18 16-20 18-18 16-12z"/><path fill="#2a2a2a" d="M401 2533l16 1 14 7 11 12 8 16 23 92 4 34-2 34-11 42-23 44-8 34-15 44-17 70-8 22-10 16-12 10-14 4-20 1-18-6-16-12-11-17-5-20 3-118 9-80 6-84 10-48 10-26 9-16 18-22 18-18 17-11z"/><path fill="#2d2d2d" d="M396 2537l15-1 16 6 12 11 8 15 13 45 11 46 4 34-2 34-11 44-22 42-9 36-13 38-19 72-8 22-9 14-11 10-14 5-16 0-18-6-14-11-9-16-5-18-2-118 13-154 10-50 18-42 11-16 20-22 16-12z"/><path fill="#303030" d="M398 2539l15 0 14 6 12 12 8 18 12 40 11 44 3 34-2 34-11 44-21 40-9 38-14 36-27 92-8 13-10 9-12 5-14 1-16-5-13-9-9-14-5-20-7-116 11-136 4-28 8-36 18-44 11-15 20-23 18-13z"/><path fill="#323232" d="M400 2541l15 1 14 7 9 12 9 20 11 36 10 42 3 34-2 36-10 40-22 42-9 38-13 35-29 91-7 12-10 8-10 5-12 0-14-4-12-10-8-13-5-20-10-112 2-50 6-68 5-42 9-36 18-46 9-14 22-24 18-14z"/><path fill="#353535" d="M402 2543l13 1 14 9 8 10 10 22 10 34 10 40 2 34-2 36-9 38-22 42-9 40-14 34-29 88-7 12-8 8-10 4-12 1-14-6-10-11-6-14-5-26-12-98 1-50 6-62 6-48 9-34 17-46 8-12 24-26 18-14z"/><path fill="#383838" d="M403 2545l12 2 14 9 7 11 10 22 10 30 9 40 3 34-2 36-10 40-21 40-10 40-44 120-6 10-6 7-10 5-10 1-14-7-10-14-9-34-8-46-6-54 1-48 5-58 7-50 10-38 17-42 7-10 24-26 20-15z"/><path fill="#3a3a3a" d="M404 2547l7 1 7 3 12 10 13 24 10 30 11 48 2 30-2 36-10 40-19 38-11 42-41 107-13 23-9 7-10 1-12-5-9-13-11-36-8-42-7-54 0-48 5-56 8-52 10-38 17-42 31-35 20-15z"/><path fill="#3d3d3d" d="M400 2551l9-1 16 9 6 8 12 24 10 30 9 38 3 34-2 36-10 40-19 38-11 40-29 76-25 52-8 6-10 2-10-6-8-14-11-34-9-40-7-52 0-48 4-54 9-52 10-40 17-40 5-7 24-27z"/><path fill="#404040" d="M402 2553l8 0 17 11 13 23 11 30 11 46 1 30-2 36-10 40-18 38-11 40-28 72-27 52-6 4-10 3-7-7-17-38-12-46-6-46-2-46 4-60 10-52 10-40 17-40 29-32z"/><path fill="#424242" d="M401 2557l8-1 16 10 13 21 11 30 11 46 2 30-2 36-10 40-18 38-11 40-28 70-14 26-12 18-6 7-8 2-9-11-15-28-12-44-7-46-2-48 4-58 10-52 11-38 17-40 29-33z"/><path fill="#454545" d="M401 2561l8-1 10 4 5 5 13 20 11 30 11 44 2 30-3 36-9 40-18 38-11 40-28 68-21 34-8 8-8 2-10-9-13-21-13-42-7-46-2-48 3-56 13-60 10-36 15-34 5-8 23-24z"/><path fill="#484848" d="M407 2563l14 6 10 13 6 11 11 30 10 40 1 30-2 36-9 40-17 37-12 41-28 66-18 29-8 7-8 2-10-5-12-17-7-18-7-24-7-46-3-48 4-56 12-60 11-36 15-32 6-10 24-24 16-9z"/><path fill="#4a4a4a" d="M403 2567l10 1 10 7 12 18 11 28 10 42 2 30-2 36-9 40-17 36-12 42-27 63-8 14-10 13-8 6-8 2-10-5-10-13-8-18-6-22-7-46-4-48 4-56 13-60 11-36 14-30 7-10 20-21z"/><path fill="#4d4d4d" d="M400 2571l11-1 12 9 10 14 12 28 10 42 2 30-2 34-10 42-16 38-12 40-26 60-8 14-10 12-8 6-8 1-10-5-10-12-8-18-5-20-7-44-3-50 3-52 13-60 11-36 13-28 7-12 18-18 10-8z"/><path fill="#505050" d="M404 2573l13 4 10 10 8 13 10 24 9 39 2 32-3 34-9 42-15 35-13 41-25 57-8 13-8 11-10 7-8 1-10-5-9-10-7-16-5-22-7-42-4-50 4-54 13-60 11-34 13-28 9-14 18-17 12-8z"/><path fill="#525252" d="M400 2577l11 0 12 8 10 15 10 23 10 40 2 32-3 34-9 40-15 36-13 42-15 34-13 28-8 12-12 10-10 2-10-5-8-10-7-17-5-18-6-42-4-50 3-52 12-58 12-36 10-22 8-14 11-13 14-12z"/><path fill="#555555" d="M405 2579l10 3 10 9 9 14 9 22 9 38 2 30-3 34-9 42-14 34-13 40-13 30-23 43-12 11-10 1-10-5-8-11-7-17-5-20-5-38-4-50 3-52 13-58 11-34 12-24 10-15 14-15 12-8z"/><path fill="#585858" d="M398 2583l13 0 10 6 10 14 10 21 10 39 1 32-2 34-9 42-14 34-13 40-12 28-23 43-10 9-10 3-10-5-8-9-7-15-4-18-7-40-4-50 3-50 12-56 16-48 11-20 8-12 16-14z"/><path fill="#5a5a5a" d="M401 2585l12 2 10 7 10 16 7 17 10 38 1 30-2 34-10 44-26 72-11 26-23 43-10 9-10 2-10-4-8-10-6-14-5-22-6-38-3-48 3-48 11-56 18-49 10-19 10-13 16-13z"/><path fill="#5d5d5d" d="M396 2589l13-1 10 5 10 12 9 20 10 38 2 32-2 34-10 46-37 96-24 42-8 7-10 3-10-5-8-9-5-14-5-20-5-38-4-48 3-46 11-56 15-44 20-34 14-13z"/><path fill="#606060" d="M398 2591l11 0 10 5 10 12 9 19 9 38 2 32-2 32-10 46-36 94-24 43-8 6-10 3-9-4-8-10-5-12-5-24-9-82 3-46 11-56 16-44 20-33 12-11z"/><path fill="#626262" d="M400 2593l11 1 10 7 10 14 7 16 8 34 2 32-2 34-10 44-37 96-22 39-8 7-10 2-8-4-8-10-5-12-5-24-8-80 3-48 10-54 16-44 11-20 10-13 12-10z"/><path fill="#656565" d="M402 2595l11 2 10 9 9 15 7 17 6 21 2 32-2 42-9 42-36 94-25 40-8 7-8 1-8-4-8-10-9-36-8-80 3-48 11-52 16-44 11-20 10-12 14-12z"/><path fill="#686868" d="M396 2599l11-1 10 4 10 12 8 17 9 34 2 32-2 36-10 44-35 92-24 39-8 6-8 1-8-4-7-10-9-34-8-80 3-44 10-52 14-42 21-33 10-10z"/><path fill="#6a6a6a" d="M397 2601l10-1 10 5 10 11 8 17 8 32 3 32-3 36-9 44-36 92-23 37-8 6-8 1-8-4-6-9-9-35-8-78 4-46 9-50 15-42 19-32 12-10z"/><path fill="#6d6d6d" d="M398 2603l9-1 10 5 10 12 7 16 7 24 3 32-2 42-9 44-36 92-23 36-7 5-6 2-8-4-6-7-10-34-7-80 3-46 9-50 14-40 21-33 10-9z"/><path fill="#707070" d="M399 2605l12 1 11 9 8 14 9 23 5 43-3 40-9 44-35 90-24 35-6 5-6 1-8-4-6-7-9-34-7-78 4-48 8-48 15-40 20-32 11-9z"/><path fill="#727272" d="M400 2607l11 1 12 11 6 10 9 24 5 42-3 40-9 44-34 88-25 36-5 4-6 1-8-4-6-7-8-34-7-78 4-48 9-46 14-39 20-31 12-9z"/><path fill="#757575" d="M401 2609l10 1 12 11 6 10 8 24 5 40-2 40-10 44-34 88-25 36-4 3-6 1-7-4-5-7-9-33-7-78 5-50 8-44 13-38 22-32 12-8z"/><path fill="#787878" d="M403 2611l8 2 13 12 12 30 5 40-2 40-9 44-35 88-24 34-4 3-6 1-6-3-5-7-9-32-6-78 4-50 8-44 14-38 20-29 12-9z"/><path fill="#7a7a7a" d="M398 2615l7-2 4 1 14 12 12 29 5 40-2 40-9 44-9 28-25 60-25 32-5 4-4 0-6-3-4-5-9-34-6-76 4-48 8-44 13-38 20-29z"/><path fill="#7d7d7d" d="M400 2617l9 0 14 12 12 28 5 40-3 38-9 46-9 26-25 58-5 10-20 23-8 3-8-7-8-23-5-40-3-48 5-48 7-42 14-38 19-28z"/><path fill="#808080" d="M402 2619l7 1 12 9 13 28 5 40-3 40-9 44-9 26-25 60-24 29-4 3-4 0-7-6-8-24-5-40-3-46 5-50 7-40 14-38 19-26z"/><path fill="#828282" d="M399 2623l8-1 14 9 11 26 6 40-2 40-7 38-8 25-28 66-5 7-19 20-4 3-4 1-6-6-8-22-5-40-3-46 5-48 7-42 14-36 18-26z"/><path fill="#858585" d="M400 2625l7-1 12 8 13 27 5 38-2 40-7 38-8 24-27 65-8 11-18 17-4 2-6-5-8-20-6-38-3-48 6-48 7-42 13-36 19-25z"/><path fill="#878787" d="M401 2627l8 1 10 6 12 25 5 38-2 40-7 38-8 26-27 62-7 11-16 14-6 3-6-6-8-18-5-38-3-46 6-50 6-38 14-38 18-22 6-4z"/><path fill="#8a8a8a" d="M401 2629l8 1 8 5 13 26 6 36-3 42-6 36-8 26-28 63-5 7-9 9-10 7-4 0-6-6-7-16-6-42-2-40 9-66 4-24 14-36 18-22z"/><path fill="#8d8d8d" d="M402 2631l7 1 8 5 12 24 6 36-2 42-7 36-7 24-28 64-10 12-10 7-6 2-6-4-8-15-6-40-2-42 9-64 5-26 14-36 16-19 7-5z"/><path fill="#8f8f8f" d="M394 2635l11-2 8 3 8 9 7 14 6 36-2 42-6 38-8 24-27 62-10 13-10 6-6 1-8-7-6-17-5-32-1-46 9-66 5-24 14-32 12-15z"/><path fill="#929292" d="M395 2637l10-2 8 4 6 6 8 14 6 36-1 42-7 38-10 32-28 59-10 9-10 4-4-1-4-4-7-17-5-32-1-46 9-66 6-24 13-32 11-13z"/><path fill="#959595" d="M395 2639l10-2 8 4 8 9 5 11 6 34-1 42-7 38-10 32-27 57-10 10-10 3-8-6-6-16-5-30-1-46 10-67 5-23 14-32 10-12z"/><path fill="#979797" d="M395 2641l8-2 8 3 8 7 6 12 7 34-2 44-7 38-10 30-27 56-9 9-10 3-4-2-5-6-5-17-4-27-1-44 10-66 5-22 14-32 9-12z"/><path fill="#9a9a9a" d="M395 2643l8-2 8 3 8 8 6 11 6 32-1 44-7 38-10 30-27 54-7 8-10 4-4-1-5-5-6-16-4-28-2-42 11-68 5-22 14-32 9-10z"/><path fill="#9d9d9d" d="M395 2645l8-2 8 3 8 8 5 11 6 32-1 44-7 36-9 29-28 55-8 8-8 2-8-6-7-18-3-26-2-42 11-66 6-22 13-30 8-10z"/><path fill="#9f9f9f" d="M395 2647l8-2 8 3 8 8 5 11 6 32-2 48-8 34-9 26-26 52-8 8-8 2-8-7-6-17-3-24-2-40 11-66 6-22 13-32 7-8z"/><path fill="#a2a2a2" d="M402 2647l9 3 6 5 5 10 4 14 3 32-3 40-7 35-16 37-20 37-6 5-8 1-8-7-6-18-4-50 1-14 11-64 8-27 14-28 8-8z"/><path fill="#a5a5a5" d="M401 2649l8 1 7 7 9 22 3 32-2 40-7 32-9 24-25 48-6 7-8 3-8-6-6-16-3-24-2-40 11-64 8-25 14-29 8-8z"/><path fill="#a7a7a7" d="M400 2651l9 1 6 5 5 8 5 14 3 34-3 38-7 32-9 24-24 46-6 7-8 2-8-6-6-15-2-22-2-40 12-64 7-24 14-30 7-6z"/><path fill="#aaaaaa" d="M400 2653l7 0 8 6 9 22 3 34-2 36-7 32-10 24-23 44-6 7-8 2-7-5-6-14-3-22-1-40 11-62 8-23 14-30 6-7z"/><path fill="#adadad" d="M400 2655l7 0 6 4 6 9 4 13 3 34-2 36-7 33-10 25-24 42-6 6-6 1-6-5-6-14-5-58 13-64 6-19 15-33 5-6z"/><path fill="#afafaf" d="M400 2657l7 0 6 4 10 21 3 33-2 36-8 34-13 30-20 34-6 5-6 1-6-5-5-11-5-58 16-73 18-41 4-6z"/><path fill="#b2b2b2" d="M400 2659l7 0 6 4 9 20 3 32-2 36-8 34-10 24-20 35-6 7-6 2-6-3-6-11-5-58 15-72 19-40z"/><path fill="#b5b5b5" d="M400 2661l7 0 4 2 11 22 3 32-2 34-8 34-10 22-20 34-6 7-6 2-6-3-4-8-6-58 15-70 19-40z"/><path fill="#b7b7b7" d="M401 2663l6 0 4 2 10 20 3 32-2 34-8 34-11 25-16 27-8 8-6 3-6-4-3-7-6-56 15-68 12-27 10-17z"/><path fill="#bababa" d="M402 2665l5 0 4 3 9 19 3 30-1 34-9 34-14 30-16 24-6 5-6 0-5-5-4-16-3-44 14-64 13-28 12-18z"/><path fill="#bdbdbd" d="M401 2669l4-2 4 2 10 18 3 30-1 36-8 32-14 28-14 22-8 5-6 1-4-4-4-16-3-42 14-64 13-26z"/><path fill="#bfbfbf" d="M404 2671l3 0 4 3 7 15 4 30-2 34-8 32-13 26-14 21-6 5-6 1-4-4-4-13-5-32 1-10 7-36 7-28 14-26z"/><path fill="#c2c2c2" d="M403 2677l4-2 2 1 8 11 4 30-1 34-8 32-13 27-14 20-4 3-6 1-4-2-5-11-5-32 1-10 6-36 8-26 15-27z"/><path fill="#c5c5c5" d="M402 2681l5-2 4 2 5 8 4 28 0 34-9 32-10 21-16 23-8 4-6-4-4-8-5-30 0-10 7-36 8-25 14-25z"/><path fill="#c7c7c7" d="M404 2683l7 1 4 7 4 28 0 34-8 30-12 23-14 19-4 3-4 0-5-3-3-6-6-32 6-40 11-34 14-22z"/><path fill="#cacaca" d="M402 2687l7-1 5 7 5 26-1 34-8 30-11 21-14 18-4 3-4 0-4-3-3-5-6-30 5-38 11-32 13-21z"/><path fill="#cdcdcd" d="M405 2689l6 2 6 20 1 42-11 35-16 25-6 6-6 3-4-2-4-7-6-26 6-40 11-32 13-18z"/><path fill="#cfcfcf" d="M403 2693l4 0 2 2 6 16 2 14 0 28-10 34-16 24-6 6-6 2-4-3-3-5-6-24 5-40 12-31 12-16z"/><path fill="#d2d2d2" d="M402 2697l3-1 4 2 6 14 2 25 0 16-12 34-16 24-6 4-4 1-6-7-6-22 5-40 11-28 10-14z"/><path fill="#d4d4d4" d="M400 2701l7 0 6 9 3 15 0 26-10 34-15 22-10 6-7-6-6-20 4-36 3-12 8-18 8-12z"/><path fill="#d7d7d7" d="M402 2703l7 3 4 9 3 22-1 16-10 33-14 19-6 4-4 1-7-7-5-18 4-38 12-27 10-12z"/><path fill="#dadada" d="M398 2707l5-1 4 1 4 8 4 20 0 18-11 32-13 17-6 5-4 0-6-7-5-15 4-36 10-26 7-9z"/><path fill="#dcdcdc" d="M400 2709l7 2 4 8 4 20-1 14-10 30-11 15-10 6-6-4-6-15 3-36 3-10 8-15 8-10z"/><path fill="#dfdfdf" d="M396 2713l7-2 6 6 4 16 1 18-5 18-6 14-12 15-8 3-6-4-5-12 2-32 3-12 6-12 6-9z"/><path fill="#e2e2e2" d="M397 2715l6-1 6 6 4 17 0 16-4 16-6 14-12 13-8 3-6-6-4-10 2-32 3-10 7-13z"/><path fill="#e4e4e4" d="M397 2717l7 0 5 6 3 16 0 14-4 16-7 14-10 11-8 2-6-5-3-10 2-32 3-8 6-11 6-8z"/><path fill="#e7e7e7" d="M398 2719l7 1 4 7 3 14 0 12-4 14-6 14-9 10-8 3-6-4-4-9 0-14 2-18 8-18 6-7z"/><path fill="#eaeaea" d="M398 2721l7 2 4 7 2 13 0 12-4 14-6 12-8 8-8 3-6-5-3-8 0-14 2-18 9-17 6-6z"/><path fill="#ececec" d="M394 2725l7-2 6 6 3 12 1 11-4 15-6 12-8 8-8 2-4-2-4-8 0-24 5-16z"/><path fill="#efefef" d="M394 2727l7-1 4 2 4 11 1 12-3 15-4 8-8 10-8 4-5-3-3-6-1-22 4-16z"/><path fill="#f2f2f2" d="M394 2729l7-1 4 3 4 10 0 10-2 13-4 9-8 9-8 3-4-2-3-6-1-20 3-16z"/><path fill="#f4f4f4" d="M393 2731l6-1 6 4 3 7 0 10-3 14-4 9-8 8-6 1-4-3-3-7 0-18 3-12z"/><path fill="#f7f7f7" d="M393 2733l6-1 5 3 3 6 1 10-5 18-8 10-6 2-4-2-3-4-2-16 4-16z"/><path fill="#fafafa" d="M393 2735l6-1 4 2 3 7 1 8-5 18-7 8-6 2-6-6-2-14 4-16z"/><path fill="#fcfcfc" d="M393 2737l6-1 4 3 3 12-5 18-6 6-6 1-4-3-2-4-1-12 3-12z"/><path fill="#ffffff" d="M393 2739l4-1 4 1 2 4 2 8-4 15-5 5-5 3-6-4-1-11 2-14z"/></g></g><g fill="none" stroke="#1f77b4" stroke-width="3.5" stroke-linejoin="round"><path d="M202.68,1276.13C204.29,1276.94 209.53,1278.14 212.35,1280.96C215.16,1283.78 217.38,1288.21 219.59,1293.04C221.81,1297.87 223.82,1303.91 225.63,1309.96C227.45,1316 229.46,1323.24 230.47,1329.28C231.47,1335.32 231.67,1340.16 231.67,1346.2C231.67,1352.24 231.47,1359.08 230.47,1365.52C229.46,1371.97 226.44,1381.63 225.63,1384.85"/><path d="M211.14,1423.51C209.93,1426.33 206.31,1434.38 203.89,1440.42C201.47,1446.46 199.06,1454.11 196.64,1459.75C194.23,1465.39 191.81,1469.82 189.39,1474.25C186.98,1478.68 184.56,1483.91 182.15,1486.33C179.73,1488.74 176.91,1489.55 174.9,1488.74C172.88,1487.94 172.08,1485.52 170.07,1481.49C168.05,1477.47 164.83,1470.62 162.82,1464.58C160.8,1458.54 159.39,1452.5 157.99,1445.25C156.58,1438.01 155.09,1429.55 154.36,1421.09C153.64,1412.64 153.43,1403.38 153.64,1394.52C153.84,1385.66 154.44,1376.8 155.57,1367.94C156.7,1359.08 158.59,1349.42 160.4,1341.36C162.21,1333.31 164.03,1326.46 166.44,1319.62C168.86,1312.77 171.07,1306.13 174.9,1300.29C178.72,1294.45 184.76,1288.61 189.39,1284.59C194.02,1280.56 200.47,1277.54 202.68,1276.13"/><path d="M202.68,1308.75C204.09,1309.75 208.72,1311.36 211.14,1314.79C213.55,1318.21 215.77,1323.65 217.18,1329.28C218.59,1334.92 219.39,1342.17 219.59,1348.61C219.8,1355.05 219.19,1361.5 218.39,1367.94C217.58,1374.38 216.17,1381.63 214.76,1387.27C213.35,1392.91 211.74,1396.93 209.93,1401.76C208.12,1406.6 204.9,1413.84 203.89,1416.26"/><path d="M182.15,1450.09C181.34,1449.68 178.92,1450.49 177.31,1447.67C175.7,1444.85 173.69,1438.81 172.48,1433.17C171.27,1427.54 170.67,1420.69 170.07,1413.84C169.46,1407 168.66,1399.75 168.86,1392.1C169.06,1384.45 170.27,1375.59 171.27,1367.94C172.28,1360.29 173.09,1353.04 174.9,1346.2C176.71,1339.35 179.33,1332.3 182.15,1326.87C184.96,1321.43 188.39,1316.6 191.81,1313.58C195.23,1310.56 200.87,1309.55 202.68,1308.75"/><path d="M202.68,1334.12C203.69,1335.32 207.31,1337.34 208.72,1341.36C210.13,1345.39 210.82,1352.64 211.14,1358.28C211.46,1363.91 211.46,1369.55 210.65,1375.19C209.85,1380.83 208.24,1386.87 206.31,1392.1C204.37,1397.34 201.47,1402.37 199.06,1406.6C196.64,1410.82 194.23,1415.25 191.81,1417.47C189.39,1419.68 186.17,1420.89 184.56,1419.88C182.95,1418.88 182.55,1412.84 182.15,1411.43"/><path d="M183.35,1372.77C183.96,1370.36 185.17,1363.11 186.98,1358.28C188.79,1353.44 191.61,1347.81 194.23,1343.78C196.84,1339.75 201.27,1335.73 202.68,1334.12"/></g><g fill="#1f77b4" font-size="25.8" text-anchor="middle" dominant-baseline="central"><text transform="translate(215.97,1404.18) rotate(-69.44)">1</text><text transform="translate(195.43,1435.59) rotate(-57.26)">2</text><text transform="translate(179.73,1392.1) rotate(-88.21)">3</text></g><text x="534" y="1540.3" fill="#fff" font-size="32.3" text-anchor="end">Ba II</text></g><rect x="103.3" y="1139.6" width="453" height="420.8" fill="none" stroke="#000" stroke-width="1.72"/><rect x="583.1" y="1139.6" width="22.2" height="420.8" fill="url(#cbg)" stroke="#000" stroke-width="1.72"/><path d="M103.3,1560.4v8.6M244.64,1560.4v8.6M385.98,1560.4v8.6M527.32,1560.4v8.6M103.3,1175.71h-8.6M103.3,1260.02h-8.6M103.3,1344.32h-8.6M103.3,1428.63h-8.6M103.3,1512.94h-8.6M605.3,1560.4h8.6M605.3,1456.86h8.6M605.3,1353.31h8.6M605.3,1249.77h8.6M605.3,1146.23h8.6" stroke="#000" stroke-width="1.72" fill="none"/><g font-size="25.8"><text x="103.3" y="1597.2" text-anchor="middle">2000</text><text x="244.64" y="1597.2" text-anchor="middle">4000</text><text x="385.98" y="1597.2" text-anchor="middle">6000</text><text x="527.32" y="1597.2" text-anchor="middle">8000</text><text x="86.4" y="1183.81" text-anchor="end">−1</text><text x="86.4" y="1268.12" text-anchor="end">−2</text><text x="86.4" y="1352.42" text-anchor="end">−3</text><text x="86.4" y="1436.73" text-anchor="end">−4</text><text x="86.4" y="1521.04" text-anchor="end">−5</text><text x="622.2" y="1568.5">0</text><text x="622.2" y="1464.96">1</text><text x="622.2" y="1361.41">2</text><text x="622.2" y="1257.87">3</text><text x="622.2" y="1154.33">4</text></g><text x="603.3" y="1129.9" font-size="25.8" text-anchor="end">×10<tspan font-size="18.06" dy="-9.3">39</tspan></text><text transform="translate(674.7,1350) rotate(-90)" font-size="33" text-anchor="middle"><tspan dy="0">L</tspan><tspan font-size="23.1" dy="5.4">Bol,</tspan><tspan font-size="23.1" dy="0" dx="4.6">s</tspan><tspan dy="-5.4"> (erg/s)</tspan></text><text x="329.8" y="1638.6" font-size="33" text-anchor="middle">Temperature (K)</text><text transform="translate(25.3,1350) rotate(-90)" font-size="33" text-anchor="middle"><tspan dy="0">log</tspan><tspan font-size="23.1" dy="6" dx="1.8">10</tspan><tspan dy="-6" dx="1"> [M</tspan><tspan font-size="23.1" dy="5.4">ej</tspan><tspan dy="-5.4" dx="1.5"> (M</tspan><tspan font-size="23.1" dy="5" dx="5.3">⊙</tspan><tspan dy="-5" dx="6.3">) ]</tspan></text><g clip-path="url(#c21)"><g filter="url(#cm)"><rect x="804.8" y="1129.6" width="472" height="440" fill="#000000"/><g transform="scale(.5)" fill-rule="evenodd"><path fill="#030303" d="M1610 2259l617 0-1 34-5 30-10 32-15 32-35 54-119 158-20 31-14 28-31 91-41 93-64 163-9 30-7 43-5 35 0 26-241 0z"/><path fill="#050505" d="M1610 2259l550 0-1 30-4 14-7 14-14 18-43 46-80 96-13 22-17 44-25 52-8 28-10 94-3 16-58 166-17 37-34 87-24 76-3 20 0 20-133 0-2-48-3-16-5-12-12-16-10-9-4-2-20 0 0-350 20 0 4-9 16-76 7-70-3-26-8-16-6-5-8-3-22 0z"/><path fill="#080808" d="M1610 2259l285 0 1 30 6 44-1 14-2 12-9 14-14 12-24 3-48 15-44 8-26-2-78-20-20-3-26 0zM1922 2259l187 0 0 20-45 31-18 7-16 36-6 9-28 13-38 4-8-3-10-7-6-10-5-12-6-30zM1864 2429l20-2 14 1 14 5 10 7 5 11 2 28 10 24 7 26 0 6-19 74 0 42-6 76-55 168-16 36-53 138-12 24-2 46-100 0 0-44-2-28-25-68-9-38-8-48-3-62 0-56 3-46 31-146 18-60 19-44 21-26 22-24 14-9 16-5z"/><path fill="#0b0b0b" d="M1610 2259l266 0 2 60-3 20-6 12-9 10-14 9-20 7-20 3-22 1-22-2-20-5-26-10-64-30-18-4-24 0zM1948 2259l84 0-1 22-3 16-11 24-11 13-12 6-14 1-12-4-9-8-6-10-4-14zM1810 2459l40 1 16 4 12 5 12 8 9 10 10 14 8 16 4 16 2 16-6 60 0 52-3 60-27 92-27 80-16 36-52 126-15 32-3 20-1 32-81 0-2-78-28-96-8-44-4-32-3-44-1-56 2-40 6-38 30-122 17-42 15-28 18-23 24-20 24-11z"/><path fill="#0d0d0d" d="M1679 2259l186 0 1 56-4 22-6 10-8 9-12 6-14 5-16 2-16-1-18-3-16-6-18-9-16-11-16-14-13-14-7-12-5-12zM1967 2259l41 0-2 42-5 12-7 6-14 0-6-3-4-5-3-14zM1810 2473l32 1 14 4 14 6 20 17 14 24 5 16 2 22-2 48 2 64-3 44-25 92-26 78-54 130-31 64-5 20-1 36-68 0-1-82-30-112-7-36-6-46-2-84 1-30 5-36 29-112 14-34 17-34 19-24 23-19 24-11z"/><path fill="#101010" d="M1714 2259l142 0 2 58-2 12-5 10-6 8-9 7-22 6-26-2-26-11-23-18-16-22-9-22zM1808 2483l30 1 14 4 12 5 20 18 13 22 4 16 3 22 2 100-3 48-25 94-25 76-54 130-33 62-5 26-1 32-56 0-2-88-31-114-7-34-6-44-3-76 2-34 4-30 5-28 25-86 12-30 17-32 18-23 20-18 24-12z"/><path fill="#131313" d="M1736 2259l112 0 2 58-2 12-5 10-13 10-20 4-20-4-19-10-17-16-12-20-6-20zM1805 2491l27 0 24 8 20 15 13 21 6 18 3 24 4 92-2 46-25 100-25 72-53 128-30 50-5 13-6 35-1 26-46 0-2-90-32-116-13-74-4-76 5-60 6-30 24-84 10-24 17-32 18-24 20-19 22-12z"/><path fill="#151515" d="M1753 2259l87 0 4 58-3 12-5 9-12 7-16 1-16-5-14-10-12-14-8-18-4-16zM1807 2497l27 1 22 8 17 15 12 20 6 20 3 24 5 84-2 46-24 98-26 76-53 126-10 19-20 27-7 14-7 44 0 20-37 0-2-44 2-32-1-14-34-118-7-34-7-42-3-72 4-58 6-30 24-82 10-24 18-32 17-24 20-17 22-12z"/><path fill="#181818" d="M1770 2259l62 0 0 24 5 34-2 12-5 7-10 4-14-1-10-5-9-9-9-14-6-16-2-14zM1802 2503l26 0 22 7 18 13 12 20 7 20 3 24 6 82-1 42-24 102-27 76-51 124-11 19-24 29-6 12-8 46 0 20-25 0 0-20-4-22 4-34-1-14-37-122-14-72-4-70 3-54 7-36 23-78 8-20 12-22 20-30 18-19 22-14z"/><path fill="#1b1b1b" d="M1790 2259l28 0 1 26 10 32-1 9-6 5-8 1-6-2-8-9-9-30zM1806 2507l24 1 20 7 16 13 11 19 6 18 4 26 7 78-1 40-24 104-27 76-52 126-10 15-27 29-7 10-3 10-3 27-4 8-4 4-6-5-5-14 1-14 4-18-2-14-38-116-8-32-7-40-6-76 3-56 7-38 23-76 7-18 11-20 22-32 18-19 24-15z"/><path fill="#1d1d1d" d="M1807 2511l23 1 18 7 16 14 11 18 7 30 8 70 2 28-1 30-17 74-11 42-23 64-48 116-8 16-12 14-20 17-12 6-4-1-4-5-16-35-23-68-14-50-8-42-2-22-2-52 2-48 7-40 25-76 6-16 10-18 23-34 18-18 24-15z"/><path fill="#202020" d="M1805 2515l21 0 18 6 15 12 12 18 8 30 7 54 4 38-1 36-16 74-11 40-23 66-48 116-9 16-12 13-16 11-12 3-10-8-13-25-23-64-15-52-10-62-3-54 3-48 8-42 25-78 11-22 25-38 16-17 24-15z"/><path fill="#232323" d="M1801 2519l23-1 18 6 14 11 12 18 9 28 6 46 5 44-1 36-14 70-12 46-24 66-47 112-8 16-10 12-14 9-12 3-6-1-6-6-12-19-23-64-15-48-11-62-3-58 2-48 7-40 11-27 16-53 9-18 26-38 15-17 22-15z"/><path fill="#252525" d="M1810 2521l18 1 16 7 13 12 10 18 9 32 9 68 1 22-1 30-25 108-24 68-48 116-8 14-10 11-12 6-12 2-6-2-6-6-11-19-23-60-15-52-11-58-3-56 3-50 7-38 11-27 16-53 9-18 28-40 15-15 24-14z"/><path fill="#282828" d="M1802 2525l20-1 16 5 15 12 10 16 9 28 7 44 6 42-1 36-23 106-29 80-50 118-14 15-10 5-8 1-6-1-6-4-12-18-22-56-17-54-11-56-4-58 3-48 7-42 10-24 17-54 6-14 30-42 13-14 20-13z"/><path fill="#2a2a2a" d="M1807 2527l19 1 14 5 13 12 9 16 9 28 7 44 5 40-1 36-23 108-25 68-31 76-24 52-13 12-8 3-8 0-6-2-6-4-12-19-21-54-17-52-11-56-4-58 3-48 7-38 11-26 16-54 7-14 31-42 13-14 23-13z"/><path fill="#2d2d2d" d="M1799 2531l19-2 16 4 14 10 11 16 9 28 8 42 6 42-1 36-22 106-29 78-50 118-12 12-8 4-8 0-12-6-11-16-21-52-18-52-12-56-3-58 2-48 7-40 10-22 17-56 6-12 43-56 18-12z"/><path fill="#303030" d="M1801 2533l19-1 14 4 12 9 11 16 10 28 7 40 6 42 0 36-23 106-27 76-50 119-12 11-14 3-12-5-12-19-21-49-18-52-11-54-4-58 2-48 7-40 10-22 22-66 44-56 19-12z"/><path fill="#323232" d="M1803 2535l19 0 12 3 13 11 9 16 9 24 8 42 6 40 0 36-23 106-26 72-51 122-9 9-14 4-12-5-12-18-21-48-18-52-12-54-4-58 2-48 7-40 10-20 18-58 5-10 43-54 22-13z"/><path fill="#353535" d="M1806 2537l18 0 10 4 13 12 8 14 9 24 8 40 6 42 0 34-13 68-10 38-27 74-51 120-9 8-12 2-6-2-6-4-12-19-19-43-19-52-12-52-4-60 2-48 7-40 10-20 22-66 45-55 24-14z"/><path fill="#383838" d="M1797 2541l19-2 14 2 12 10 9 12 11 28 8 38 7 42-1 36-12 66-10 40-26 72-51 120-7 8-12 2-12-6-13-20-18-40-20-54-12-50-4-60 2-46 7-40 11-22 21-64 44-55 14-9z"/><path fill="#3a3a3a" d="M1798 2543l20-1 12 2 12 10 7 11 11 26 9 38 6 42 0 36-12 68-9 36-25 70-54 124-5 6-10 2-12-6-14-20-18-38-19-52-13-52-4-60 2-46 7-40 11-21 21-65 44-54 15-8z"/><path fill="#3d3d3d" d="M1798 2545l12-1 18 1 12 10 8 12 11 24 8 38 7 42 0 34-12 68-11 46-28 74-49 110-4 6-8 2-12-6-14-18-18-38-20-52-13-52-4-60 2-46 7-40 10-20 22-66 44-52 12-7z"/><path fill="#404040" d="M1799 2547l23-1 8 3 13 14 12 24 11 42 7 40 0 38-12 68-11 42-27 72-29 70-22 46-4 3-6 0-11-5-13-18-18-37-21-53-13-50-5-60 3-46 7-40 11-20 20-64 46-53z"/><path fill="#424242" d="M1800 2549l22 0 8 3 12 12 12 25 11 40 7 40 0 38-11 66-12 44-27 72-29 68-22 44-3 4-4 1-11-5-14-18-18-36-21-52-13-52-5-58 2-46 8-40 11-20 21-64 45-52z"/><path fill="#454545" d="M1801 2551l21 0 8 4 10 10 13 24 11 40 7 40 0 38-11 66-11 44-29 74-28 66-22 43-6 3-10-5-14-17-17-34-22-54-13-50-5-58 2-46 8-40 11-20 21-64 45-50 18-9z"/><path fill="#484848" d="M1802 2553l18 0 10 5 9 9 13 24 11 38 7 40 0 38-11 66-11 42-29 76-27 64-20 37-4 6-4 2-8-4-14-16-18-34-22-55-13-48-5-58 2-46 8-40 11-18 22-66 45-49 18-9z"/><path fill="#4a4a4a" d="M1803 2555l17 1 10 5 8 8 12 22 12 38 7 40 1 38-12 66-11 44-30 78-27 62-18 32-6 6-4 0-6-3-10-10-19-33-21-50-14-46-7-68 2-46 7-38 12-20 22-65 44-48 18-9z"/><path fill="#4d4d4d" d="M1803 2557l17 1 10 6 8 9 11 20 12 38 7 38 0 40-10 62-12 46-33 84-23 54-18 30-6 6-4 1-8-5-8-8-18-32-22-50-13-44-7-68 2-46 7-38 12-20 22-64 44-48 17-8z"/><path fill="#505050" d="M1805 2559l15 2 10 5 8 10 11 19 11 36 7 38 1 40-11 64-12 44-37 96-19 40-17 29-6 5-4 1-6-3-8-8-18-30-22-50-14-44-7-68 2-46 7-38 12-20 22-64 44-46 16-8z"/><path fill="#525252" d="M1795 2563l15-2 14 4 10 9 12 19 11 32 5 22 5 26 0 34-10 64-13 46-37 96-19 40-16 25-6 6-4 0-6-2-7-7-18-28-22-50-14-44-8-68 3-42 7-42 13-22 21-60 43-46z"/><path fill="#555555" d="M1795 2565l15-2 14 4 10 10 11 18 11 30 5 22 5 26 0 34-9 62-13 46-38 98-18 38-16 24-6 5-4 1-6-3-6-5-18-28-22-50-14-42-8-66 3-42 7-42 13-24 21-59 40-43 10-7z"/><path fill="#585858" d="M1794 2567l14-2 14 4 10 8 12 18 11 30 6 24 4 26 0 34-9 60-13 48-38 96-9 19-20 36-8 8-6 1-6-2-6-6-16-25-23-49-14-42-3-14-5-52 2-40 8-44 14-24 19-58 40-42 10-7z"/><path fill="#5a5a5a" d="M1794 2569l14-2 14 4 11 10 11 17 11 29 5 24 4 24 0 34-8 58-13 48-41 104-24 43-8 9-8 3-6-2-6-6-14-21-23-50-15-42-3-14-5-52 2-34 8-50 14-24 20-57 38-40 10-8z"/><path fill="#5d5d5d" d="M1794 2571l14-2 14 5 10 8 11 17 11 28 5 22 4 26 0 34-8 58-13 48-42 104-22 41-8 8-8 3-6-2-6-6-13-20-23-49-14-39-4-16-5-48 1-30 3-24 7-34 14-24 18-56 10-12 28-27 10-8z"/><path fill="#606060" d="M1793 2573l15-2 12 4 12 10 10 15 11 27 5 22 4 26 1 34-8 58-14 48-41 104-22 38-8 8-8 3-10-6-13-19-23-48-14-37-5-15-3-28-2-30 0-18 3-28 7-34 3-8 12-18 18-54 9-12 26-26 12-9z"/><path fill="#626262" d="M1793 2575l15-2 12 4 12 10 10 15 10 27 6 24 4 24 0 34-7 52-11 42-42 106-24 43-8 8-8 3-10-7-12-17-24-49-14-35-4-14-3-28-3-28 1-18 3-28 8-36 4-9 10-15 18-54 8-12 26-26 12-9z"/><path fill="#656565" d="M1792 2577l16-2 12 4 12 11 10 15 9 24 6 24 4 24 0 34-5 42-7 32-9 28-38 98-24 40-8 8-8 2-10-6-10-14-25-50-14-34-4-14-2-20-4-34 1-18 3-30 9-37 4-9 10-14 17-54 8-12 23-22 12-10z"/><path fill="#686868" d="M1792 2579l16-2 12 4 12 11 10 16 9 23 6 26 3 22 0 34-5 42-6 28-9 30-30 70-9 28-25 40-8 6-6 1-10-6-10-15-24-47-14-33-6-30-4-38 1-16 3-32 10-38 13-20 10-38 7-17 9-13 21-20 12-10z"/><path fill="#6a6a6a" d="M1801 2579l15 2 12 9 11 15 11 24 5 20 4 26 1 30-3 32-5 32-11 38-32 76-9 29-24 36-8 6-6 1-8-4-10-14-26-50-14-34-4-16-5-42 1-32 4-23 10-37 13-18 9-38 8-20 10-14 24-22 14-8z"/><path fill="#6d6d6d" d="M1799 2581l15 2 12 7 12 15 10 22 6 20 4 28 1 30-2 30-5 32-12 40-32 76-9 28-23 34-6 5-6 2-8-3-10-13-26-48-14-33-5-16-3-28-2-24 1-18 5-34 12-34 10-14 9-38 8-22 11-14 22-20 12-8z"/><path fill="#707070" d="M1798 2583l14 1 14 8 11 15 10 20 6 20 4 26 1 32-2 30-5 34-11 36-33 78-9 28-22 31-6 5-6 2-8-4-9-10-27-50-13-30-4-14-4-24-2-28 0-18 4-26 5-15 10-19 9-10 8-46 9-26 10-14 20-18 14-10z"/><path fill="#727272" d="M1797 2585l15 1 12 7 12 14 11 22 6 20 4 26 1 30-2 30-5 32-12 38-33 78-8 26-22 30-6 5-6 2-8-4-8-11-28-49-12-27-5-14-3-20-3-30 1-18 4-26 6-17 6-9 16-5 2-5 1-10-2-16 1-16 4-22 7-18 11-14 18-17 12-8z"/><path fill="#757575" d="M1795 2587l15 0 14 8 12 14 10 20 6 20 4 26 1 30-2 32-4 30-12 38-34 78-9 28-20 25-6 5-6 1-7-3-7-9-28-47-13-28-5-14-3-20-3-30 1-18 4-28 7-15 6-6 16-5 3-6 2-12-4-18 0-14 4-20 6-18 11-14 16-15 14-10z"/><path fill="#787878" d="M1794 2589l16 0 14 7 12 15 10 19 5 19 4 26 1 32-2 32-4 28-12 38-35 80-8 24-19 24-6 4-6 1-6-3-6-7-30-48-12-25-5-14-3-20-3-30 0-16 5-27 6-15 6-6 18-7 4-7 1-12-4-20 0-14 4-20 6-16 9-12 16-16 12-8z"/><path fill="#7a7a7a" d="M1793 2591l15-1 14 7 12 13 10 19 6 18 4 26 1 32-1 32-4 30-12 38-37 80-7 24-18 21-10 4-6-2-6-6-30-46-12-23-8-30-4-32 0-18 4-24 6-16 7-8 19-8 4-8 1-12-4-20 0-14 3-18 5-16 8-12 15-14 14-11z"/><path fill="#7d7d7d" d="M1792 2593l16-1 14 7 12 13 10 19 6 18 3 24 2 34-2 32-4 30-12 36-38 82-7 22-16 17-10 4-8-5-30-41-16-29-8-30-3-30 0-18 3-22 6-16 8-8 18-8 6-10 1-12-4-22 0-14 3-17 5-15 8-12 13-12 14-11z"/><path fill="#808080" d="M1791 2595l15-1 14 5 12 12 11 20 6 18 4 24 0 64-4 30-13 38-16 38-23 44-6 20-11 12-12 6-7-4-10-14-19-21-18-30-9-29-3-48 3-24 7-15 6-6 20-10 6-11 1-14-4-22-1-12 3-16 5-14 7-12 12-12 13-10z"/><path fill="#828282" d="M1799 2595l13 2 12 7 12 14 9 19 4 16 3 24 1 32-1 34-6 32-12 35-12 27-28 52-6 18-8 7-10 3-4-1-32-30-18-28-6-15-4-16-3-30 0-20 3-20 6-14 7-8 19-10 8-12 1-14-5-24 0-12 3-16 5-14 10-13 14-13 14-9z"/><path fill="#858585" d="M1797 2597l15 1 12 8 12 14 9 19 4 18 3 24 1 36-2 34-5 22-14 38-16 36-16 29-14 18-12 0-16 4-12-5-12-10-10-13-10-19-5-16-4-22-2-24 1-16 4-18 6-13 6-5 18-10 9-12 2-16-5-36 2-16 6-13 8-13 14-12 12-8z"/><path fill="#878787" d="M1795 2599l15 0 12 7 12 13 10 20 4 18 3 24 1 42-2 30-4 20-15 40-17 37-16 27-10 9-34 7-10-4-12-10-10-14-8-16-5-16-3-22-2-22 1-16 3-16 6-12 6-6 20-11 8-13 2-16-4-26-1-12 3-14 4-12 8-12 12-11 12-8z"/><path fill="#8a8a8a" d="M1793 2601l15 0 14 6 12 14 9 18 4 16 3 24 2 46-2 28-5 20-14 38-17 37-14 23-12 12-36 6-10-4-10-9-10-14-8-15-4-15-4-23-1-20 1-16 4-17 5-11 27-17 8-13 2-16-5-38 2-14 5-12 7-10 11-11 12-9z"/><path fill="#8d8d8d" d="M1792 2603l14-1 14 6 13 13 9 18 5 16 2 24 2 48-2 26-4 20-15 40-16 33-14 23-12 11-36 6-10-4-10-8-10-13-7-14-5-16-3-22-1-20 1-16 3-14 6-12 6-5 20-13 9-14 3-16-5-38 1-12 5-12 7-11 10-10 10-8z"/><path fill="#8f8f8f" d="M1791 2605l15-1 14 5 12 12 10 18 4 16 3 22 1 50-1 26-5 20-14 38-16 33-14 23-8 8-6 4-34 4-10-3-8-6-10-13-8-14-4-15-4-21-2-20 1-16 4-16 5-10 6-6 22-14 9-14 2-16-5-38 2-12 4-12 16-19z"/><path fill="#929292" d="M1798 2605l14 2 12 7 11 13 7 16 5 24 2 38 1 30-2 22-5 18-15 39-16 32-12 19-8 8-6 3-26 5-10-1-10-4-8-7-9-12-7-14-8-38 1-32 3-14 6-9 26-19 6-8 4-8 3-18-5-38 6-22 8-11 10-10 12-8z"/><path fill="#959595" d="M1796 2607l14 1 12 6 12 13 8 16 4 22 3 40 0 30-1 20-5 18-15 39-16 32-12 19-8 8-6 3-34 4-10-3-8-6-9-10-7-14-5-16-4-20 0-34 4-14 5-10 27-20 10-14 3-18-4-40 2-12 4-10 6-10 10-9 10-7z"/><path fill="#979797" d="M1794 2609l14 0 12 5 12 12 9 17 4 22 3 42 1 28-2 20-4 18-16 38-15 32-12 18-8 8-8 4-32 3-10-3-8-6-9-10-7-14-8-34 0-32 3-14 5-10 8-7 20-13 10-16 4-18-5-40 2-12 4-10 15-17z"/><path fill="#9a9a9a" d="M1793 2611l13-1 14 6 12 11 8 15 5 33 4 56-2 24-5 18-15 38-15 30-12 18-8 8-8 4-20 3-12 0-10-3-8-6-8-10-7-12-8-32 0-34 3-14 6-10 26-19 10-13 5-20-4-38 3-18 4-10 8-10 10-8z"/><path fill="#9d9d9d" d="M1792 2613l14-2 12 5 12 10 9 17 5 22 3 46 1 26-1 18-5 18-16 39-14 27-12 18-8 8-8 4-18 3-14 0-10-3-8-6-8-10-6-11-8-33 0-31 3-13 5-10 28-21 9-13 5-20-3-38 2-18 5-10 8-9z"/><path fill="#9f9f9f" d="M1798 2613l12 1 12 6 10 10 7 15 4 22 4 56-1 34-4 16-17 38-13 27-12 17-8 8-10 5-18 3-12 0-10-4-8-6-14-20-7-32 0-32 3-12 6-9 28-22 11-17 3-20-3-40 5-18 14-17 10-6z"/><path fill="#a2a2a2" d="M1796 2615l12 0 12 5 12 12 7 13 3 20 5 60-1 32-5 16-17 40-12 23-12 18-8 8-10 5-16 2-14 0-10-4-8-6-13-20-8-32 1-29 3-13 5-8 28-21 10-14 5-21-3-38 3-18 5-10 8-9 8-7z"/><path fill="#a5a5a5" d="M1795 2617l13-1 12 6 10 9 8 14 4 20 4 62-1 30-4 16-17 39-12 22-12 18-8 8-10 5-16 3-14-1-10-4-8-6-12-18-8-30 0-30 4-12 6-10 26-20 11-14 6-22-3-38 2-16 5-10 7-9 8-6z"/><path fill="#a7a7a7" d="M1794 2619l12-1 12 4 12 10 7 13 4 18 5 66-1 28-5 16-16 37-12 23-12 17-8 8-10 5-14 3-14 0-10-3-8-6-13-18-7-28-1-30 3-12 6-10 27-22 11-14 6-22-2-38 2-16 10-17 8-7z"/><path fill="#aaaaaa" d="M1804 2619l10 2 10 6 8 9 5 11 3 16 6 68-2 28-4 14-18 40-12 21-12 17-8 7-10 4-16 3-12-1-8-3-8-6-13-18-7-30 0-28 4-10 5-10 29-22 11-18 5-22-2-40 5-18 7-8 8-7 8-4z"/><path fill="#adadad" d="M1799 2621l13 1 10 5 9 10 5 10 9 84-1 26-4 15-18 39-22 36-8 8-10 5-14 3-14-1-16-7-8-8-6-10-7-28 0-28 4-12 5-8 28-23 11-15 6-22-2-40 3-14 5-10 7-8 8-5z"/><path fill="#afafaf" d="M1798 2623l12 0 10 4 10 9 6 11 9 84-1 26-4 14-18 38-22 36-8 8-10 6-14 2-14 0-16-8-8-8-5-10-7-28 0-26 4-11 5-9 27-22 12-16 6-22-1-40 3-14 10-15z"/><path fill="#b2b2b2" d="M1797 2625l11-1 10 4 10 8 7 11 9 84-1 26-4 14-17 37-22 36-8 8-10 5-14 3-14-1-16-8-12-17-7-27 0-26 3-10 6-8 28-24 11-16 7-24-1-38 2-12 9-15z"/><path fill="#b5b5b5" d="M1797 2627l11-1 10 3 10 8 6 10 10 86-1 24-4 14-19 39-20 32-8 8-10 6-12 2-14 0-16-7-13-16-7-26 0-26 4-12 5-8 28-24 12-16 6-24 0-38 2-12 8-14z"/><path fill="#b7b7b7" d="M1797 2629l11-1 10 3 10 7 5 9 11 86-1 24-5 16-18 36-20 32-8 8-10 5-12 3-14 0-16-8-12-16-7-24 0-26 3-10 6-9 28-23 12-17 7-25 0-38 2-12 7-12z"/><path fill="#bababa" d="M1806 2629l8 1 8 5 8 7 3 7 4 42 6 44-1 25-4 12-20 39-20 30-8 7-10 5-14 3-12-1-8-3-8-6-10-15-7-26 2-24 7-16 28-23 11-15 9-26 1-42 3-12 10-13z"/><path fill="#bdbdbd" d="M1804 2631l8 1 8 3 8 6 4 8 4 44 7 42-2 24-4 12-19 39-20 30-8 7-10 5-12 2-12-1-16-7-11-15-6-24 0-24 9-17 26-23 13-16 8-26 5-52 8-12z"/><path fill="#bfbfbf" d="M1803 2633l9 0 8 3 8 7 3 6 4 42 7 44-1 24-4 12-21 41-18 26-8 7-10 6-12 2-12-1-8-3-8-5-10-14-6-23 0-22 3-10 5-8 28-24 12-16 9-26 5-50 6-12z"/><path fill="#c2c2c2" d="M1804 2635l8 0 8 3 6 5 4 6 4 42 8 44-1 24-5 14-20 37-18 27-8 7-10 5-12 2-12-1-14-6-11-15-6-22 0-22 4-10 5-8 28-24 11-16 9-28 6-48 6-10z"/><path fill="#c5c5c5" d="M1805 2637l7 0 8 3 7 5 3 6 3 38 8 46-1 24-4 13-20 37-18 26-8 7-10 6-12 2-12-1-14-7-10-14-6-21 0-22 8-16 29-26 12-16 9-28 7-48 5-8z"/><path fill="#c7c7c7" d="M1806 2639l8 0 6 2 6 5 2 5 4 38 9 46-1 24-4 12-22 40-18 25-8 6-10 5-12 1-10-1-14-7-10-15-6-20 2-20 8-16 27-24 12-16 10-28 9-50 5-8z"/><path fill="#cacaca" d="M1809 2641l13 4 6 8 2 36 11 46-2 24-3 11-22 39-18 25-8 7-10 4-12 2-10-1-14-8-9-13-5-20 1-20 8-16 28-24 11-16 11-28 10-50 5-7z"/><path fill="#cdcdcd" d="M1806 2645l6-1 6 1 6 4 2 4 3 34 11 48-1 24-4 10-21 38-18 26-8 6-10 5-10 1-10 0-14-7-10-13-5-18 1-20 7-16 29-25 12-17 10-26 9-32 3-18z"/><path fill="#cfcfcf" d="M1810 2647l10 2 4 6 3 30 13 50 0 14-2 12-26 48-16 22-8 7-10 4-12 2-10-2-13-7-9-14-4-18 1-18 8-14 27-24 12-16 24-62 3-16z"/><path fill="#d2d2d2" d="M1812 2653l6 0 2 4 5 26 13 46 2 16-2 16-28 50-16 20-8 6-10 4-10 1-10-1-12-7-9-13-4-18 2-18 8-14 27-24 10-14 20-47 10-17z"/><path fill="#d4d4d4" d="M1811 2675l5-1 4 4 16 45 3 18-2 20-27 48-16 21-8 6-10 4-10 1-10-2-12-7-8-13-4-18 2-16 9-14 23-20 10-12 8-14 16-37 6-9z"/><path fill="#d7d7d7" d="M1811 2681l5 0 4 4 16 40 3 20-3 18-28 48-14 17-8 6-10 4-10 1-10-1-12-9-8-12-3-16 3-16 8-13 23-21 10-12 23-46 6-8z"/><path fill="#dadada" d="M1809 2687l5-1 6 4 14 31 4 20-2 22-28 46-14 18-8 6-10 4-10 1-10-2-11-7-7-12-3-16 2-16 8-12 33-32 22-44z"/><path fill="#dcdcdc" d="M1809 2691l7 0 4 4 14 28 4 18-2 21-28 45-14 18-8 6-10 4-10 1-8-1-10-6-9-12-3-16 2-14 8-14 24-21 9-11 21-39z"/><path fill="#dfdfdf" d="M1809 2695l5 0 6 3 12 22 5 21-2 20-27 45-14 17-8 7-10 4-10 1-8-2-10-6-8-12-3-14 2-14 9-13 31-31 21-37z"/><path fill="#e2e2e2" d="M1809 2699l5-1 6 4 12 21 5 18-2 20-29 46-14 16-16 9-10 1-8-2-10-6-6-10-3-14 2-14 9-13 30-29 20-36z"/><path fill="#e4e4e4" d="M1808 2703l6-1 6 3 12 20 5 18-3 20-30 45-12 14-16 9-10 0-8-2-9-6-6-10-3-14 3-12 7-12 31-30 19-32z"/><path fill="#e7e7e7" d="M1811 2705l5 0 6 5 12 21 2 16-2 15-30 44-12 14-16 9-10 0-8-2-9-6-5-10-2-12 2-12 9-12 29-28 20-34z"/><path fill="#eaeaea" d="M1809 2709l5-1 6 3 12 17 4 17-3 16-29 43-12 14-16 9-8 1-8-2-8-5-7-10-1-12 2-12 9-12 29-28 18-30z"/><path fill="#ececec" d="M1812 2711l4 0 6 4 11 18 2 16-3 14-30 42-12 13-14 7-8 1-8-2-8-6-5-9-2-12 3-10 9-12 27-26 20-32z"/><path fill="#efefef" d="M1809 2715l5-1 6 2 12 16 3 15-3 15-30 41-12 13-8 5-8 3-14-2-8-7-4-8-1-10 3-10 8-10 28-28 17-28z"/><path fill="#f2f2f2" d="M1811 2717l5 0 6 3 9 13 3 14-3 14-31 43-10 10-14 8-14-2-7-5-5-8-1-10 3-10 8-10 27-26 17-27z"/><path fill="#f4f4f4" d="M1809 2721l5-2 6 2 10 11 3 15-2 14-31 41-10 10-14 7-8 1-6-2-6-5-4-8-1-8 3-8 8-12 27-26z"/><path fill="#f7f7f7" d="M1811 2723l9 0 10 11 3 13-3 14-40 49-14 7-12-1-7-5-3-8 0-8 3-8 7-10 27-26 15-22z"/><path fill="#fafafa" d="M1813 2725l9 2 8 9 2 13-2 11-40 48-14 7-12-2-6-6-2-6 3-14 8-10 26-24 15-23z"/><path fill="#fcfcfc" d="M1812 2729l8-1 9 9 2 12-3 12-40 46-12 5-10-1-5-4-2-6 0-6 3-8 8-10 26-24z"/><path fill="#ffffff" d="M1815 2731l7 1 6 6 2 11-2 10-16 16-23 28-11 6-10-1-4-4-2-5 3-12 8-10 26-24 11-17z"/></g></g><g fill="none" stroke="#1f77b4" stroke-width="3.5" stroke-linejoin="round"><path d="M884.48,1280.96C886.09,1280.16 891.33,1277.34 894.15,1276.13C896.96,1274.92 898.17,1274.04 901.39,1273.71C904.61,1273.39 910.25,1272.99 913.47,1274.2C916.7,1275.41 918.31,1277.42 920.72,1280.96C923.14,1284.51 925.96,1289.82 927.97,1295.46C929.98,1301.1 931.39,1307.94 932.8,1314.79C934.21,1321.63 935.82,1330.09 936.43,1336.53C937.03,1342.97 936.83,1348.21 936.43,1353.44C936.02,1358.68 935.02,1362.3 934.01,1367.94C933,1373.58 931.8,1380.83 930.39,1387.27C928.98,1393.71 927.57,1400.15 925.55,1406.6C923.54,1413.04 920.72,1419.48 918.31,1425.93C915.89,1432.37 913.47,1439.21 911.06,1445.25C908.64,1451.29 906.23,1456.53 903.81,1462.17C901.39,1467.8 898.98,1473.84 896.56,1479.08C894.15,1484.31 891.33,1489.55 889.31,1493.57C887.3,1497.6 886.49,1501.83 884.48,1503.24C882.47,1504.65 879.65,1503.64 877.23,1502.03C874.82,1500.42 872.8,1498.21 869.99,1493.57C867.17,1488.94 863.54,1481.49 860.32,1474.25C857.1,1467 853.48,1458.54 850.66,1450.09C847.84,1441.63 845.02,1433.17 843.41,1423.51C841.8,1413.84 841.19,1401.36 840.99,1392.1C840.79,1382.84 841.4,1375.19 842.2,1367.94C843.01,1360.69 844.42,1353.04 845.82,1348.61C847.23,1344.18 849.85,1342.57 850.66,1341.36"/><path d="M949.71,1141.32C949.92,1143.25 949.71,1148.56 950.92,1152.91C952.13,1157.26 955.75,1162.98 956.96,1167.41C958.17,1171.84 958.17,1176.07 958.17,1179.49C958.17,1182.91 958.37,1186.33 956.96,1187.94C955.55,1189.56 951.73,1188.15 949.71,1189.15C947.7,1190.16 946.49,1192.37 944.88,1193.99C943.27,1195.6 943.07,1198.62 940.05,1198.82C937.03,1199.02 928.98,1195.8 926.76,1195.19"/><path d="M853.07,1247.14C851.86,1249.96 848.24,1257.61 845.82,1264.05C843.41,1270.49 840.59,1278.95 838.58,1285.79C836.56,1292.64 835.36,1298.28 833.74,1305.12C832.13,1311.97 830.52,1319.62 828.91,1326.87C827.3,1334.12 825.69,1340.96 824.08,1348.61C822.47,1356.26 820.46,1364.72 819.25,1372.77C818.04,1380.83 817.23,1388.07 816.83,1396.93C816.43,1405.79 816.63,1416.26 816.83,1425.93C817.03,1435.59 817.23,1446.06 818.04,1454.92C818.85,1463.78 820.25,1471.83 821.66,1479.08C823.07,1486.33 824.48,1491.96 826.5,1498.41C828.51,1504.85 831.53,1512.1 833.74,1517.73C835.96,1523.37 838.58,1527.4 839.78,1532.23C840.99,1537.06 840.79,1541.9 840.99,1546.73C841.19,1551.56 840.99,1558.81 840.99,1561.22"/><path d="M891.73,1561.22C891.93,1558.81 891.73,1551.16 892.94,1546.73C894.15,1542.3 897.17,1539.08 898.98,1534.65C900.79,1530.22 901.8,1525.79 903.81,1520.15C905.82,1514.51 908.64,1506.86 911.06,1500.82C913.47,1494.78 915.89,1489.95 918.31,1483.91C920.72,1477.87 923.14,1470.22 925.55,1464.58C927.97,1458.94 931.59,1452.5 932.8,1450.09"/><path d="M961.79,1361.9C962,1358.48 962.6,1347.61 963,1341.36C963.41,1335.12 964.01,1330.49 964.21,1324.45C964.41,1318.41 963.61,1310.76 964.21,1305.12C964.81,1299.49 966.63,1295.46 967.83,1290.63C969.04,1285.79 970.25,1280.16 971.46,1276.13C972.67,1272.1 975.08,1270.49 975.08,1266.47C975.08,1262.44 972.87,1256.8 971.46,1251.97C970.05,1247.14 967.03,1241.5 966.63,1237.47C966.22,1233.45 968.24,1231.03 969.04,1227.81C969.85,1224.59 971.26,1221.37 971.46,1218.15C971.66,1214.92 968.64,1210.9 970.25,1208.48C971.86,1206.07 977.7,1206.47 981.12,1203.65C984.55,1200.83 987.97,1192.78 990.79,1191.57C993.61,1190.36 995.62,1197.21 998.04,1196.4C1000.45,1195.6 1002.46,1188.75 1005.28,1186.74C1008.1,1184.72 1012.53,1186.74 1014.95,1184.32C1017.36,1181.9 1018.17,1176.27 1019.78,1172.24C1021.39,1168.21 1022.6,1162.17 1024.61,1160.16C1026.63,1158.15 1029.04,1161.37 1031.86,1160.16C1034.68,1158.95 1037.9,1155.33 1041.52,1152.91C1045.15,1150.5 1050.38,1147.6 1053.6,1145.66C1056.83,1143.73 1059.64,1142.04 1060.85,1141.32"/></g><g fill="#1f77b4" font-size="25.8" text-anchor="middle" dominant-baseline="central"><text transform="translate(861.53,1307.54) rotate(-60.75)">1 %</text><text transform="translate(882.07,1210.9) rotate(-35.18)">0.1 %</text><text transform="translate(947.3,1406.6) rotate(-71.8)">0.1 %</text></g><rect x="903" y="1362.48" width="25.5" height="31" fill="#ffffff" fill-opacity="0.25"/><circle cx="892.5" cy="1386.48" r="7.8" fill="#fff" stroke="#000" stroke-width="1.6"/><text x="903" y="1386.48" fill="#fff" font-size="33">P3</text><circle cx="892.5" cy="1217.86" r="7.8" fill="#fff" stroke="#000" stroke-width="1.6"/><text x="903" y="1217.86" fill="#fff" font-size="33">P4</text><text x="1245.3" y="1540.3" fill="#fff" font-size="32.3" text-anchor="end">Ba II</text></g><rect x="814.8" y="1139.6" width="452.8" height="420.8" fill="none" stroke="#000" stroke-width="1.72"/><rect x="1294.4" y="1139.6" width="22.2" height="420.8" fill="url(#cbg)" stroke="#000" stroke-width="1.72"/><path d="M814.8,1560.4v8.6M956.08,1560.4v8.6M1097.36,1560.4v8.6M1238.64,1560.4v8.6M814.8,1175.71h-8.6M814.8,1260.02h-8.6M814.8,1344.32h-8.6M814.8,1428.63h-8.6M814.8,1512.94h-8.6M1316.6,1560.4h8.6M1316.6,1454.94h8.6M1316.6,1349.47h8.6M1316.6,1244.01h8.6" stroke="#000" stroke-width="1.72" fill="none"/><g font-size="25.8"><text x="814.8" y="1597.2" text-anchor="middle">2000</text><text x="956.08" y="1597.2" text-anchor="middle">4000</text><text x="1097.36" y="1597.2" text-anchor="middle">6000</text><text x="1238.64" y="1597.2" text-anchor="middle">8000</text><text x="797.9" y="1183.81" text-anchor="end">−1</text><text x="797.9" y="1268.12" text-anchor="end">−2</text><text x="797.9" y="1352.42" text-anchor="end">−3</text><text x="797.9" y="1436.73" text-anchor="end">−4</text><text x="797.9" y="1521.04" text-anchor="end">−5</text><text x="1333.5" y="1568.5">0</text><text x="1333.5" y="1463.04">1</text><text x="1333.5" y="1357.57">2</text><text x="1333.5" y="1252.11">3</text></g><text transform="translate(1385.9,1350) rotate(-90)" font-size="33" text-anchor="middle"><tspan dy="0">L</tspan><tspan font-size="23.1" dy="5.4">Bol,</tspan><tspan font-size="23.1" dy="0" dx="4.6">s</tspan><tspan dy="-5.4">/L</tspan><tspan font-size="23.1" dy="5.4">Bol</tspan><tspan dy="-5.4"> (%)</tspan></text><text x="1041.2" y="1638.6" font-size="33" text-anchor="middle">Temperature (K)</text><text transform="translate(736.8,1350) rotate(-90)" font-size="33" text-anchor="middle"><tspan dy="0">log</tspan><tspan font-size="23.1" dy="6" dx="1.8">10</tspan><tspan dy="-6" dx="1"> [M</tspan><tspan font-size="23.1" dy="5.4">ej</tspan><tspan dy="-5.4" dx="1.5"> (M</tspan><tspan font-size="23.1" dy="5" dx="5.3">⊙</tspan><tspan dy="-5" dx="6.3">) ]</tspan></text><g clip-path="url(#c22)"><g filter="url(#cm)"><rect x="1516.2" y="1129.6" width="472" height="440" fill="#030303"/><g transform="scale(.5)" fill-rule="evenodd"><path fill="#050505" d="M3032 2259l944 0 0 826-30 2-12 4-10 6-9 10-6 10 0 22-877 0z"/><path fill="#080808" d="M3032 2259l944 0 0 812-20 0-18 3-18 7-13 8-13 12-7 12-3 6 0 20-852 0z"/><path fill="#0b0b0b" d="M3032 2259l944 0 0 800-20 0-26 4-22 8-20 11-15 13-9 14-4 10 0 20-828 0z"/><path fill="#0d0d0d" d="M3032 2259l944 0 0 788-20 0-34 6-30 10-21 10-19 16-14 18-5 12 0 20-801 0z"/><path fill="#101010" d="M3032 2259l944 0 0 776-20 0-42 8-38 10-18 8-26 20-21 22-8 16 0 20-771 0z"/><path fill="#131313" d="M3032 2259l944 0 0 764-20 0-91 18-11 4-51 36-24 20-6 12 0 26-741 0z"/><path fill="#151515" d="M3032 2259l944 0 0 751-20 0-96 19-11 4-95 58-5 12 0 36-717 0z"/><path fill="#181818" d="M3032 2259l944 0 0 740-24 1-98 19-18 8-63 36-23 15-12 15-5 18-1 28-700 0z"/><path fill="#1b1b1b" d="M3032 2259l944 0 0 729-30 1-92 19-26 11-59 32-25 17-16 19-8 24-2 28-686 0z"/><path fill="#1d1d1d" d="M3032 2259l944 0 0 717-20 0-18 2-84 19-34 14-56 30-28 20-18 22-7 14-5 14-1 28-673 0z"/><path fill="#202020" d="M3032 2259l944 0 0 705-20 0-22 3-78 19-42 17-54 28-32 24-22 26-7 14-6 16-1 28-660 0z"/><path fill="#232323" d="M3032 2259l944 0 0 693-20 0-24 3-74 20-50 19-54 29-34 26-26 30-9 16-5 16-2 8 0 20-646 0z"/><path fill="#252525" d="M3032 2259l944 0 0 680-20 0-24 3-70 20-58 23-56 30-36 28-30 34-10 16-7 16-2 10 0 20-631 0z"/><path fill="#282828" d="M3032 2259l944 0 0 666-20 0-20 3-64 20-72 28-58 30-20 15-21 18-35 40-11 16-7 16-2 8 0 20-614 0z"/><path fill="#2a2a2a" d="M3032 2259l944 0 0 651-20 0-12 2-50 16-92 36-40 19-25 14-44 36-47 50-11 16-7 14-2 6 0 20-594 0z"/><path fill="#2d2d2d" d="M3032 2259l944 0 0 635-24 1-40 13-114 47-44 20-22 13-45 37-47 44-23 24-10 12-6 12-1 22-568 0z"/><path fill="#303030" d="M3032 2259l944 0 0 617-20 0-24 8-146 65-58 28-147 122-6 8-5 10 0 22-538 0z"/><path fill="#323232" d="M3032 2259l944 0 0 598-20 0-6 2-228 108-76 65-44 31-53 32-3 6 0 38-514 0z"/><path fill="#353535" d="M3032 2259l944 0 0 581-20 0-12 4-98 51-130 62-76 65-44 29-60 34-4 6-3 8-1 40-496 0z"/><path fill="#383838" d="M3032 2259l944 0 0 567-22 1-24 8-98 52-122 61-78 64-40 27-50 29-12 9-8 10-5 14-4 18 0 20-481 0z"/><path fill="#3a3a3a" d="M3032 2259l944 0 0 553-28 2-32 11-212 113-78 64-84 54-18 15-11 14-8 16-4 18 0 20-469 0z"/><path fill="#3d3d3d" d="M3032 2259l944 0 0 540-20 0-14 2-38 13-178 97-28 17-77 63-81 56-22 18-14 18-10 18-5 18 0 20-457 0z"/><path fill="#404040" d="M3032 2259l944 0 0 526-20 0-20 3-22 6-24 11-156 87-42 26-82 66-76 57-23 20-16 20-13 22-5 16 0 20-445 0z"/><path fill="#424242" d="M3032 2259l944 0 0 511-22 0-24 5-24 7-28 12-70 38-86 52-34 22-152 122-32 29-20 24-13 22-6 16 0 20-433 0z"/><path fill="#454545" d="M3032 2259l944 0 0 497-24 0-26 5-28 8-32 14-74 41-108 70-142 118-48 45-22 26-15 22-5 14 0 20-420 0z"/><path fill="#484848" d="M3032 2259l944 0 0 482-26 0-28 5-32 11-34 14-70 39-102 69-46 37-84 73-78 76-21 24-12 18-5 12 0 20-406 0z"/><path fill="#4a4a4a" d="M3032 2259l944 0 0 467-26 0-30 6-34 11-40 17-33 17-37 22-94 66-56 46-62 55-113 113-16 18-8 14-4 8 0 20-391 0z"/><path fill="#4d4d4d" d="M3032 2259l944 0 0 452-26 0-32 6-38 13-42 18-36 19-35 22-87 62-42 35-60 52-50 50-44 47-56 54-11 14-8 16 0 20-377 0z"/><path fill="#505050" d="M3032 2259l944 0 0 437-24 0-36 7-86 33-38 21-38 24-80 60-94 81-40 39-60 68-66 60-18 30 0 20-364 0z"/><path fill="#525252" d="M3032 2259l944 0 0 422-22 1-40 7-82 32-48 26-48 32-83 64-77 68-40 40-62 73-68 59-21 36 0 20-353 0z"/><path fill="#555555" d="M3032 2259l944 0 0 409-26 1-38 7-82 32-53 29-55 38-75 60-78 68-41 42-61 74-65 56-8 12-17 30-1 22-344 0z"/><path fill="#585858" d="M3032 2259l944 0 0 396-28 1-36 8-30 10-52 21-26 13-34 20-63 45-69 56-79 70-41 42-58 72-62 56-12 16-15 26-2 8 0 20-337 0z"/><path fill="#5a5a5a" d="M3032 2259l944 0 0 384-30 1-34 7-34 12-52 21-30 15-34 21-34 23-36 29-67 55-81 72-36 38-54 69-62 59-14 20-13 24-3 10 0 20-330 0z"/><path fill="#5d5d5d" d="M3032 2259l944 0 0 371-30 1-34 7-38 13-54 24-34 17-34 21-35 26-43 34-76 64-70 64-31 34-49 64-60 60-16 22-13 24-4 14 0 20-323 0z"/><path fill="#606060" d="M3032 2259l944 0 0 358-32 1-36 9-46 17-54 24-36 20-34 22-88 70-86 74-52 49-26 29-45 61-56 60-18 24-13 24-5 18 0 20-317 0z"/><path fill="#626262" d="M3032 2259l944 0 0 344-32 2-38 9-52 21-58 27-36 21-34 23-98 80-99 87-27 26-20 22-46 64-50 55-22 30-12 21-7 16-3 12 0 20-310 0z"/><path fill="#656565" d="M3032 2259l944 0 0 330-32 2-40 11-64 26-58 29-34 21-36 25-115 96-89 80-37 40-41 60-50 58-24 34-11 20-6 16-3 12 0 20-304 0z"/><path fill="#686868" d="M3032 2259l944 0 0 315-30 2-40 12-76 32-60 31-32 20-34 25-135 115-69 62-28 28-16 20-36 56-48 59-22 33-16 30-4 18 0 22-298 0z"/><path fill="#6a6a6a" d="M3032 2259l944 0 0 299-26 1-40 13-90 40-58 31-32 21-32 24-146 125-75 68-23 26-38 62-46 58-32 52-13 26-2 14 0 20-291 0z"/><path fill="#6d6d6d" d="M3032 2259l944 0 0 282-24 1-42 16-118 55-50 29-32 23-28 23-126 108-79 71-29 30-41 70-33 42-32 50-22 40-3 14 0 26-285 0z"/><path fill="#707070" d="M3032 2259l944 0 0 264-20 0-22 9-154 74-46 28-50 38-136 118-98 89-12 14-39 72-25 31-54 89-8 10-1 44-279 0z"/><path fill="#727272" d="M3032 2259l944 0 0 247-20 0-9 3-177 89-40 25-42 32-147 128-103 93-6 9-40 76-22 28-52 88-13 16-1 46-272 0z"/><path fill="#757575" d="M3032 2259l944 0 0 234-20 0-23 8-165 85-44 28-50 39-140 123-98 90-13 17-39 74-20 28-46 80-19 26-1 8 0 40-266 0z"/><path fill="#787878" d="M3032 2259l944 0 0 222-26 1-30 11-148 77-46 28-62 49-134 119-90 84-14 15-10 13-38 73-22 34-40 72-20 30-4 14 0 38-260 0z"/><path fill="#7a7a7a" d="M3032 2259l944 0 0 210-30 2-35 12-125 65-56 33-34 25-38 32-130 116-74 70-28 29-16 20-37 72-80 138-7 20-1 36-253 0z"/><path fill="#7d7d7d" d="M3032 2259l944 0 0 198-20 0-14 3-38 12-98 50-68 39-36 26-38 31-114 102-58 54-66 66-14 17-12 18-33 64-80 144-6 22-1 34-248 0z"/><path fill="#808080" d="M3032 2259l944 0 0 186-20 0-16 3-42 13-84 42-72 41-36 25-36 29-110 98-64 60-72 74-18 22-13 21-110 208-8 26-1 32-242 0z"/><path fill="#828282" d="M3032 2259l944 0 0 174-20 0-18 3-44 13-78 37-72 41-36 25-36 29-116 103-60 57-76 81-18 23-15 24-65 123-44 89-9 28-1 30-236 0z"/><path fill="#858585" d="M3032 2259l944 0 0 161-20 0-18 3-46 13-76 35-74 42-34 24-36 29-120 107-56 54-78 85-21 27-17 27-64 124-42 89-10 30-2 30-230 0z"/><path fill="#878787" d="M3032 2259l944 0 0 147-20 0-20 3-46 14-78 36-74 41-32 22-36 30-124 111-50 49-40 42-40 47-22 29-20 32-66 131-46 102-5 18-1 26-224 0z"/><path fill="#8a8a8a" d="M3032 2259l944 0 0 132-20 0-18 3-48 15-82 37-76 42-26 19-42 34-48 46-74 65-44 42-36 39-42 50-26 34-26 41-64 129-50 112-3 16-1 24-218 0z"/><path fill="#8d8d8d" d="M3032 2259l944 0 0 116-20 0-16 2-50 17-86 39-81 46-69 55-40 39-74 65-44 43-36 39-36 44-32 42-29 47-65 134-40 93-11 19-2 14-1 26-212 0z"/><path fill="#8f8f8f" d="M3032 2259l944 0 0 95-20 0-8 2-56 21-90 43-90 51-70 57-34 36-75 65-41 41-38 42-34 42-33 47-30 48-24 48-39 85-41 97-14 18 0 42-207 0z"/><path fill="#929292" d="M3032 2259l944 0 0 66-20 0-12 4-108 61-42 21-90 51-69 57-35 36-75 66-41 42-37 42-34 44-33 48-29 50-27 53-51 117-17 44-10 19-12 13-1 46-201 0z"/><path fill="#959595" d="M3032 2259l898 0 0 20-4 14-12 18-19 20-25 20-35 24-127 71-24 17-55 46-40 40-73 66-39 40-37 43-34 46-31 47-30 52-21 42-55 128-17 44-9 18-11 11-4 7-1 46-195 0z"/><path fill="#979797" d="M3032 2259l860 0 0 22-5 18-12 20-18 20-18 16-23 16-124 73-56 44-133 125-37 39-34 41-32 45-28 44-33 59-21 42-70 171-7 13-17 25-2 13 0 34-190 0z"/><path fill="#9a9a9a" d="M3032 2259l834 0 0 24-5 18-11 20-17 20-19 16-20 14-111 66-59 46-128 121-37 41-33 41-30 43-26 42-58 110-67 168-25 42-3 18-1 30-184 0z"/><path fill="#9d9d9d" d="M3032 2259l814 0-1 24-4 18-11 20-15 18-17 15-22 15-102 62-60 46-122 116-38 42-32 41-54 83-62 120-64 164-26 48-5 20 0 28-179 0z"/><path fill="#9f9f9f" d="M3032 2259l796 0 0 24-4 18-10 18-15 18-34 26-101 62-62 48-62 57-50 51-40 44-32 41-54 85-65 126-29 82-31 78-28 54-5 22-1 26-173 0z"/><path fill="#a2a2a2" d="M3032 2259l781 0 0 24-4 16-10 18-13 15-30 24-102 62-66 52-50 46-46 47-46 52-32 42-54 87-68 133-27 80-28 72-32 66-5 22 0 22-168 0z"/><path fill="#a5a5a5" d="M3032 2259l767 0 0 22-3 14-8 16-13 16-27 21-66 39-36 24-36 26-33 28-45 42-40 41-50 58-32 42-54 88-34 71-36 68-31 92-27 70-29 60-5 20 0 22-162 0z"/><path fill="#a7a7a7" d="M3032 2259l754 0 0 22-3 12-7 14-12 14-22 17-62 37-42 28-38 28-34 28-40 38-36 38-52 61-32 43-54 90-36 76-38 70-27 88-28 72-31 66-4 18 0 20-156 0z"/><path fill="#aaaaaa" d="M3032 2259l741 0 0 20-2 10-6 12-9 11-18 14-60 36-46 31-38 29-38 32-37 35-35 38-54 66-30 41-53 91-18 34-19 44-39 70-25 87-30 76-32 67-3 16 0 20-149 0z"/><path fill="#adadad" d="M3032 2259l728 0-1 24-4 10-7 9-12 10-54 33-48 33-44 32-42 36-36 35-34 38-56 71-29 41-51 88-20 40-17 42-42 72-22 84-47 116-18 28-2 16 0 22-142 0z"/><path fill="#afafaf" d="M3032 2259l713 0 0 20-7 12-62 40-90 68-42 36-36 36-40 45-54 71-27 40-53 94-18 36-17 42-43 72-18 78-27 68-23 56-22 22-1 44-133 0z"/><path fill="#b2b2b2" d="M3032 2259l666 0 0 20-10 16-45 42-103 88-40 40-38 44-52 72-30 44-50 92-18 36-19 44-45 72-18 80-48 117-4 6-20 13-5 8 0 46-121 0z"/><path fill="#b5b5b5" d="M3032 2259l627 0 0 20-2 8-5 12-10 14-31 34-81 73-42 45-42 52-44 62-28 44-50 92-36 78-46 74-20 80-36 87-13 25-25 18-10 14-2 14-1 34-103 0z"/><path fill="#b7b7b7" d="M3032 2259l601 0 0 20-3 12-6 14-10 16-24 28-72 69-44 49-44 59-59 91-52 96-37 78-47 74-8 20-16 62-33 78-14 21-32 25-13 18-8 22-1 28-78 0z"/><path fill="#bababa" d="M3032 2259l580 0-1 22-2 12-5 14-10 16-20 24-68 70-46 54-40 56-52 82-53 100-39 80-50 76-9 22-19 63-18 41-14 26-16 18-40 28-44 40-14 9-20 0z"/><path fill="#bdbdbd" d="M3032 2259l562 0 0 22-2 12-6 14-9 16-17 22-60 64-44 54-34 47-44 70-59 109-48 96-55 82-10 22-22 58-24 46-16 19-22 15-42 19-28 6-20 0z"/><path fill="#bfbfbf" d="M3032 2259l546 0-1 30-4 14-7 14-16 22-42 46-32 39-40 52-24 35-60 103-86 167-16 26-45 60-35 69-16 27-18 21-22 15-30 11-32 4-20 0z"/><path fill="#c2c2c2" d="M3032 2259l533 0-2 30-9 24-14 19-66 80-66 92-54 93-86 168-21 34-49 60-46 66-20 22-16 12-18 9-20 6-24 3-22 0z"/><path fill="#c5c5c5" d="M3032 2259l520 0-1 28-10 24-61 78-78 110-56 100-82 160-22 36-26 30-68 69-20 17-16 11-18 8-20 5-20 3-22 0z"/><path fill="#c7c7c7" d="M3032 2259l508 0-1 26-7 20-48 62-87 126-51 93-80 156-31 51-15 17-20 18-34 26-32 21-20 10-20 8-20 4-20 2-22 0z"/><path fill="#cacaca" d="M3032 2259l497 0 0 22-7 18-38 52-92 136-24 42-102 200-20 35-17 25-13 14-16 13-40 22-52 19-24 4-26 3-26 0z"/><path fill="#cdcdcd" d="M3032 2259l486 0 0 22-5 12-29 40-99 150-19 34-93 186-33 56-20 28-15 14-19 11-28 9-62 10-64 2z"/><path fill="#cfcfcf" d="M3032 2259l475 0 0 20-3 6-75 120-48 70-18 32-95 189-18 33-20 30-18 24-10 8-16 9-26 4-128 2z"/><path fill="#d2d2d2" d="M3032 2259l459 0 0 20-8 18-43 76-63 94-17 30-104 204-16 27-24 33-16 16-16 8-24 2-70-4-58-1z"/><path fill="#d4d4d4" d="M3032 2259l445 0 0 20-1 8-19 40-30 52-56 84-17 28-104 201-20 31-18 23-16 14-14 7-22 2-74-7-54-1z"/><path fill="#d7d7d7" d="M3032 2259l434 0 0 20-2 12-19 42-31 53-50 73-18 30-102 190-18 27-16 19-16 13-14 7-26 2-72-7-50-2z"/><path fill="#dadada" d="M3032 2259l424 0 0 24-5 18-11 26-19 34-81 122-86 152-22 36-14 19-13 13-13 10-14 6-12 3-16 1-72-7-46-1z"/><path fill="#dcdcdc" d="M3032 2259l416 0-1 24-5 22-14 28-22 37-71 105-105 168-14 17-14 14-14 10-14 7-14 3-18 1-70-5-40 0z"/><path fill="#dfdfdf" d="M3032 2259l407 0 0 26-8 26-18 34-31 48-152 216-30 32-14 10-16 7-16 4-20 2-102-2z"/><path fill="#e2e2e2" d="M3032 2259l399 0 0 20-4 20-9 22-18 30-30 46-94 126-38 45-28 28-30 21-16 7-16 4-34 3-82 0z"/><path fill="#e4e4e4" d="M3032 2259l392 0 0 20-5 20-11 24-20 32-34 50-70 88-32 34-30 27-36 24-18 8-18 6-42 5-76 1z"/><path fill="#e7e7e7" d="M3032 2259l384 0 0 20-4 18-12 24-53 80-63 75-20 19-24 19-42 26-20 9-22 7-46 6-78 1z"/><path fill="#eaeaea" d="M3032 2259l376 0 0 20-4 16-12 23-52 77-56 63-28 24-48 26-42 14-48 5-86 1z"/><path fill="#ececec" d="M3032 2259l368 0 0 20-5 14-16 28-48 70-55 58-16 12-48 20-40 11-40 2-100 0z"/><path fill="#efefef" d="M3032 2259l358 0 0 20-3 8-20 34-47 65-64 59-84 19-140 0z"/><path fill="#f2f2f2" d="M3032 2259l341 0 0 20-5 12-14 24-44 59-30 26-30 21-24 7-56 8-138 2z"/><path fill="#f4f4f4" d="M3032 2259l317 0 0 20-3 12-8 16-34 44-24 22-32 19-28 8-50 7-78 6-60 1z"/><path fill="#f7f7f7" d="M3032 2259l281 0 0 20-2 10-6 12-18 24-23 19-26 14-39 11-75 15-46 5-46 1z"/><path fill="#fafafa" d="M3032 2259l198 0 0 20-7 16-13 14-23 16-32 16-31 12-30 8-30 4-32 1z"/><path fill="#fcfcfc" d="M3032 2259l109 0 0 24-5 12-8 12-12 11-14 9-16 7-16 4-38 2z"/><path fill="#ffffff" d="M3032 2259l52 0-1 22-6 14-7 6-10 4-28 1z"/></g></g><g fill="none" stroke="#1f77b4" stroke-width="3.5" stroke-linejoin="round"><path d="M1526.83,1232.64L1587.23,1232.64"/><path d="M1659.71,1193.99C1661.73,1191.17 1667.77,1182.71 1671.79,1177.07C1675.82,1171.44 1680.05,1166.12 1683.87,1160.16C1687.7,1154.2 1692.94,1144.46 1694.75,1141.32"/><path d="M1526.83,1400.56C1536.09,1400.56 1571.13,1400.96 1582.4,1400.56C1593.68,1400.15 1590.86,1399.55 1594.48,1398.14C1598.11,1396.73 1600.92,1395.12 1604.15,1392.1C1607.37,1389.08 1610.59,1384.45 1613.81,1380.02C1617.03,1375.59 1620.25,1370.76 1623.47,1365.52C1626.7,1360.29 1629.92,1354.65 1633.14,1348.61C1636.36,1342.57 1639.58,1335.73 1642.8,1329.28C1646.02,1322.84 1649.24,1316.4 1652.47,1309.96C1655.69,1303.51 1658.91,1297.07 1662.13,1290.63C1665.35,1284.18 1668.57,1277.74 1671.79,1271.3C1675.02,1264.86 1678.24,1258.01 1681.46,1251.97C1684.68,1245.93 1687.5,1240.7 1691.12,1235.06C1694.75,1229.42 1699.58,1223.38 1703.2,1218.15C1706.83,1212.91 1709.44,1208.88 1712.87,1203.65C1716.29,1198.41 1721.93,1189.56 1723.74,1186.74"/><path d="M1579.99,1561.22C1579.99,1558.81 1579.18,1549.95 1579.99,1546.73C1580.79,1543.51 1582.8,1543.51 1584.82,1541.9C1586.83,1540.28 1590.05,1539.88 1592.07,1537.06C1594.08,1534.24 1594.88,1529.81 1596.9,1524.98C1598.91,1520.15 1601.73,1514.11 1604.15,1508.07C1606.56,1502.03 1609.18,1494.38 1611.39,1488.74C1613.61,1483.1 1616.43,1476.66 1617.43,1474.25"/><path d="M1648.84,1398.14C1650.25,1394.72 1654.28,1384.25 1657.3,1377.6C1660.32,1370.96 1663.34,1365.12 1666.96,1358.28C1670.59,1351.43 1675.02,1343.78 1679.04,1336.53C1683.07,1329.28 1686.69,1322.04 1691.12,1314.79C1695.55,1307.54 1700.79,1299.89 1705.62,1293.04C1710.45,1286.2 1715.28,1280.16 1720.12,1273.71C1724.95,1267.27 1729.38,1260.83 1734.61,1254.39C1739.85,1247.94 1745.48,1241.5 1751.52,1235.06C1757.56,1228.61 1764.41,1221.77 1770.85,1215.73C1777.3,1209.69 1783.34,1204.45 1790.18,1198.82C1797.03,1193.18 1804.27,1187.94 1811.93,1181.9C1819.58,1175.86 1828.84,1168.21 1836.09,1162.58C1843.33,1156.94 1850.18,1151.62 1855.41,1148.08C1860.65,1144.54 1865.48,1142.44 1867.49,1141.32"/><path d="M1617.43,1561.22C1617.43,1558.81 1616.43,1549.95 1617.43,1546.73C1618.44,1543.51 1621.46,1544.71 1623.47,1541.9C1625.49,1539.08 1627.3,1535.05 1629.51,1529.81C1631.73,1524.58 1634.14,1516.93 1636.76,1510.49C1639.38,1504.04 1642.2,1498 1645.22,1491.16C1648.24,1484.31 1651.66,1476.66 1654.88,1469.41C1658.1,1462.17 1660.92,1455.32 1664.55,1447.67C1668.17,1440.02 1672.2,1431.56 1676.63,1423.51C1681.06,1415.46 1685.89,1407.4 1691.12,1399.35C1696.36,1391.3 1702.4,1382.84 1708.04,1375.19C1713.67,1367.54 1718.91,1360.69 1724.95,1353.44C1730.99,1346.2 1737.83,1338.54 1744.28,1331.7C1750.72,1324.85 1757.16,1318.41 1763.6,1312.37C1770.05,1306.33 1776.49,1301.1 1782.93,1295.46C1789.38,1289.82 1796.42,1284.18 1802.26,1278.55C1808.1,1272.91 1815.35,1264.45 1817.97,1261.63"/><path d="M1900.11,1206.07C1903.13,1204.66 1911.99,1200.83 1918.23,1197.61C1924.47,1194.39 1931.12,1190.16 1937.56,1186.74C1944,1183.31 1950.44,1180.09 1956.89,1177.07C1963.33,1174.05 1972.99,1170.03 1976.22,1168.62"/><path d="M1652.47,1561.22C1652.47,1558.81 1651.66,1549.95 1652.47,1546.73C1653.27,1543.51 1655.29,1544.71 1657.3,1541.9C1659.31,1539.08 1661.73,1534.65 1664.55,1529.81C1667.37,1524.98 1670.59,1518.94 1674.21,1512.9C1677.83,1506.86 1682.67,1498.81 1686.29,1493.57C1689.91,1488.34 1694.34,1483.51 1695.96,1481.49"/><path d="M1755.15,1406.6C1757.77,1404.18 1765.42,1396.93 1770.85,1392.1C1776.29,1387.27 1781.72,1382.84 1787.76,1377.6C1793.8,1372.37 1800.65,1366.33 1807.09,1360.69C1813.54,1355.05 1819.98,1349.42 1826.42,1343.78C1832.86,1338.14 1839.31,1332.1 1845.75,1326.87C1852.19,1321.63 1858.64,1316.8 1865.08,1312.37C1871.52,1307.94 1877.96,1303.91 1884.41,1300.29C1890.85,1296.67 1897.29,1293.85 1903.73,1290.63C1910.18,1287.41 1916.62,1284.18 1923.06,1280.96C1929.51,1277.74 1935.95,1274.52 1942.39,1271.3C1948.83,1268.08 1956.08,1264.45 1961.72,1261.63C1967.36,1258.82 1973.8,1255.59 1976.22,1254.39"/><path d="M1737.03,1511.69C1739.44,1508.67 1746.29,1499.82 1751.52,1493.57C1756.76,1487.33 1762.4,1480.69 1768.44,1474.25C1774.48,1467.8 1781.32,1460.96 1787.76,1454.92C1794.21,1448.88 1800.65,1443.64 1807.09,1438.01C1813.54,1432.37 1819.58,1426.73 1826.42,1421.09C1833.27,1415.46 1840.92,1409.82 1848.17,1404.18C1855.41,1398.54 1862.66,1392.5 1869.91,1387.27C1877.16,1382.03 1884.41,1377.2 1891.65,1372.77C1898.9,1368.34 1905.75,1364.32 1913.4,1360.69C1921.05,1357.07 1930.31,1353.85 1937.56,1351.03C1944.81,1348.21 1950.44,1345.59 1956.89,1343.78C1963.33,1341.97 1972.99,1340.76 1976.22,1340.16"/><path d="M1769.64,1561.22C1769.64,1558.81 1768.24,1549.95 1769.64,1546.73C1771.05,1543.51 1773.07,1544.71 1778.1,1541.9C1783.13,1539.08 1792.19,1534.65 1799.84,1529.81C1807.5,1524.98 1819.98,1515.72 1824.01,1512.9"/><path d="M1907.36,1459.75C1910.78,1458.14 1921.25,1453.31 1927.9,1450.09C1934.54,1446.86 1939.17,1444.45 1947.22,1440.42C1955.28,1436.39 1971.38,1428.34 1976.22,1425.93"/><path d="M1879.57,1561.22L1879.09,1549.14"/><path d="M1973.8,1509.28L1976.22,1508.07"/></g><g fill="#1f77b4" font-size="25.8" text-anchor="middle" dominant-baseline="central"><text transform="translate(1628.31,1222.98) rotate(-28.07)">10<tspan font-size="18.06" dy="-10.4">−4</tspan></text><text transform="translate(1739.44,1160.16) rotate(-57.26)">10<tspan font-size="18.06" dy="-10.4">−6</tspan></text><text transform="translate(1625.89,1435.59) rotate(-67.57)">10<tspan font-size="18.06" dy="-10.4">−8</tspan></text><text transform="translate(1853,1232.64) rotate(-34.08)">10<tspan font-size="18.06" dy="-10.4">−10</tspan></text><text transform="translate(1717.7,1440.42) rotate(-51.68)">10<tspan font-size="18.06" dy="-10.4">−12</tspan></text><text transform="translate(1702,1541.9) rotate(-51.34)">10<tspan font-size="18.06" dy="-10.4">−14</tspan></text><text transform="translate(1860.25,1481.49) rotate(-32.52)">10<tspan font-size="18.06" dy="-10.4">−16</tspan></text><text transform="translate(1927.9,1517.73) rotate(-22.83)">10<tspan font-size="18.06" dy="-10.4">−18</tspan></text></g><text x="1956.3" y="1540.3" fill="#fff" font-size="32.3" text-anchor="end">Ba II</text></g><rect x="1526.2" y="1139.6" width="452.4" height="420.8" fill="none" stroke="#000" stroke-width="1.72"/><rect x="2005.4" y="1139.6" width="22.2" height="420.8" fill="url(#cbg)" stroke="#000" stroke-width="1.72"/><path d="M1526.2,1560.4v8.6M1667.35,1560.4v8.6M1808.51,1560.4v8.6M1949.66,1560.4v8.6M1526.2,1175.71h-8.6M1526.2,1260.02h-8.6M1526.2,1344.32h-8.6M1526.2,1428.63h-8.6M1526.2,1512.94h-8.6M2027.6,1503.64h8.6M2027.6,1426.24h8.6M2027.6,1348.84h8.6M2027.6,1271.44h8.6M2027.6,1194.04h8.6" stroke="#000" stroke-width="1.72" fill="none"/><g font-size="25.8"><text x="1526.2" y="1597.2" text-anchor="middle">2000</text><text x="1667.35" y="1597.2" text-anchor="middle">4000</text><text x="1808.51" y="1597.2" text-anchor="middle">6000</text><text x="1949.66" y="1597.2" text-anchor="middle">8000</text><text x="1509.3" y="1183.81" text-anchor="end">−1</text><text x="1509.3" y="1268.12" text-anchor="end">−2</text><text x="1509.3" y="1352.42" text-anchor="end">−3</text><text x="1509.3" y="1436.73" text-anchor="end">−4</text><text x="1509.3" y="1521.04" text-anchor="end">−5</text><text x="2044.5" y="1514.34">10<tspan font-size="18.06" dy="-9.7">−17</tspan></text><text x="2044.5" y="1436.94">10<tspan font-size="18.06" dy="-9.7">−14</tspan></text><text x="2044.5" y="1359.54">10<tspan font-size="18.06" dy="-9.7">−11</tspan></text><text x="2044.5" y="1282.14">10<tspan font-size="18.06" dy="-9.7">−8</tspan></text><text x="2044.5" y="1204.74">10<tspan font-size="18.06" dy="-9.7">−5</tspan></text></g><text transform="translate(2150.6,1350) rotate(-90)" font-size="33" text-anchor="middle"><tspan dy="0">M</tspan><tspan font-size="23.1" dy="5.4">ej,</tspan><tspan font-size="23.1" dy="0" dx="4.6">s</tspan><tspan dy="-5.4" dx="1.5"> (M</tspan><tspan font-size="23.1" dy="5" dx="5.3">⊙</tspan><tspan dy="-5" dx="5.3">)</tspan></text><text x="1752.4" y="1638.6" font-size="33" text-anchor="middle">Temperature (K)</text><text transform="translate(1448.2,1350) rotate(-90)" font-size="33" text-anchor="middle"><tspan dy="0">log</tspan><tspan font-size="23.1" dy="6" dx="1.8">10</tspan><tspan dy="-6" dx="1"> [M</tspan><tspan font-size="23.1" dy="5.4">ej</tspan><tspan dy="-5.4" dx="1.5"> (M</tspan><tspan font-size="23.1" dy="5" dx="5.3">⊙</tspan><tspan dy="-5" dx="6.3">) ]</tspan></text><g clip-path="url(#c30)"><g filter="url(#cm)"><rect x="93.3" y="1682.9" width="473" height="440" fill="#000000"/><g transform="scale(.5)" fill-rule="evenodd"><path fill="#030303" d="M187 3366l946 0 0 157-58 3-50 11-56 22-68 36-52 34-41 35-32 38-25 44-12 30-8 28-6 32-3 32-1 48 6 148-2 182-538 0z"/><path fill="#050505" d="M187 3366l711 0-1 34-5 32-10 32-15 30-29 44-77 94-42 57-58 93-15 28-10 26-11 42-7 48-7 134-12 130-2 56-274 0-1-26-6-26-11-24-16-19-22-17-24-11-26-6-30 0z"/><path fill="#080808" d="M187 3366l651 0-1 42-5 36-8 32-12 30-33 52-158 225-16 28-14 35-12 36-7 34-4 34-4 78-4 38-8 42-22 86-4 28 0 24-167 0-1-26-11-34-16-28-22-26-32-27-30-18-28-9-32-1 0-506 30-2 12-4 12-6 8-7 6-10 5-12 1-12-2-14-4-14-8-13-12-15-12-9-10-5-26-1z"/><path fill="#0b0b0b" d="M263 3366l536 0 0 60-2 30-5 26-10 24-42 74-27 42-61 88-57 74-12 22-22 52-12 35-8 36-4 31-5 78-8 44-7 22-10 22-36 56-11 22-7 22 0 20-49 0 0-20-4-8-27-38-15-26-17-18-60-55-30-22-16-8-14-5-34-2 0-438 30-2 12-4 14-8 12-10 10-12 10-16 6-14 5-24 0-26-5-26-15-58z"/><path fill="#0d0d0d" d="M294 3366l473 0 4 96-3 18-5 16-37 78-21 36-61 90-53 65-16 25-36 78-15 44-8 44-7 86-10 40-11 22-13 17-16 12-18 7-14 0-22-4-26-2-18-6-16-10-16-13-58-59-24-20-14-9-14-5-12-2-20 0 0-379 20 0 12-2 14-6 14-9 14-13 12-14 10-16 9-19 9-32 3-32-1-28-8-58z"/><path fill="#101010" d="M314 3366l425 0-4 84 4 26-6 18-7 44-9 26-21 40-53 80-23 32-39 45-14 23-42 85-18 51-8 40-6 80-9 34-10 18-12 14-15 10-16 4-18 1-32-1-14-4-14-7-16-11-15-16-53-70-26-27-14-10-12-6-10-2-20 0 0-313 20 0 10-2 14-6 14-10 18-17 14-16 12-19 9-20 15-40 6-36 0-28-5-60z"/><path fill="#131313" d="M329 3366l387 0-1 38-13 44-3 14 2 16 10 32 2 14-2 22-7 24-18 34-55 84-63 78-53 102-17 42-10 34-4 28-6 68-4 20-7 16-9 14-13 11-14 7-16 3-22 0-18-2-16-7-14-10-14-14-13-18-47-88-26-37-14-15-14-10-10-3-20 0 0-230 26-2 12-5 14-11 20-19 19-22 13-18 10-19 20-51 10-42 2-34z"/><path fill="#151515" d="M341 3366l359 0-1 32-13 42-2 16 2 20 13 36 3 14-1 22-7 24-17 32-53 82-61 78-26 50-29 50-23 58-9 26-5 28-5 64-4 18-6 14-8 12-12 10-13 6-16 3-20 0-16-4-14-8-14-13-12-16-9-18-36-90-25-44-28-40-16-18-10-7-20 0 0-142 22-1 18-12 54-61 14-20 10-19 26-63 11-41 2-36z"/><path fill="#181818" d="M351 3366l338 0-2 30-13 40-3 18 3 20 15 36 4 16 0 22-7 24-14 28-55 86-58 76-25 48-31 52-28 64-9 24-6 32-5 60-8 26-8 12-10 8-14 7-14 2-18-1-16-7-14-11-12-16-10-24-16-56-10-29-15-27-48-80-25-54-7-26 1-10 3-12 20-40 59-79 12-19 38-90 7-28 4-28z"/><path fill="#1b1b1b" d="M359 3366l321 0-2 28-15 41-3 19 3 22 17 34 5 16 1 20-6 24-14 28-52 84-59 79-25 47-31 50-34 74-8 22-8 36-4 54-7 22-7 10-9 8-11 5-12 2-14-1-14-6-11-8-10-14-8-22-11-52-8-24-16-35-37-57-16-28-17-46-4-30 1-28 12-36 18-30 45-62 45-106 7-28 2-24z"/><path fill="#1d1d1d" d="M367 3366l305 0-1 26-18 44-3 22 4 20 20 36 5 20-4 30-13 30-57 92-54 76-26 46-28 44-39 80-9 24-9 30-2 18-2 40-6 20-5 8-8 7-10 5-10 1-13-1-11-5-10-9-6-10-5-18-7-48-6-22-21-42-37-56-19-34-16-46-3-32 1-24 9-34 21-34 41-58 14-36 33-72 7-28 2-24z"/><path fill="#202020" d="M374 3366l292 0-1 26-21 46-2 10 0 12 1 14 3 10 21 30 5 10 1 10-4 30-14 32-47 78-55 80-32 54-24 38-46 90-23 60-2 14 0 36-5 18-11 12-15 3-10-1-8-4-7-6-4-8-5-20-2-44-5-18-27-48-37-54-22-38-16-46-2-38 1-18 9-32 20-34 39-56 14-36 28-56 8-18 7-28 3-26z"/><path fill="#232323" d="M380 3366l281 0-1 26-25 52 0 26 5 22 21 23 5 11 1 8-3 30-15 32-43 74-53 80-59 94-66 128-13 20-4 18 4 34-1 14-7 11-12 4-13-3-4-4-4-8-2-16 4-38-3-12-6-14-70-102-25-40-14-44-3-40 1-12 9-36 18-32 40-56 13-36 38-72 9-32 2-28-5-60z"/><path fill="#252525" d="M386 3366l271 0-2 26-26 52-1 30 4 24 21 18 6 10 2 8-2 26-3 10-12 26-36 64-117 184-20 40-40 71-12 16-24 13-8-3-34-35-52-72-23-36-16-46-3-42 9-44 19-33 39-55 14-36 39-72 10-34 2-30-5-58z"/><path fill="#282828" d="M392 3366l260 0 0 22-27 54-4 34 3 20 3 7 21 19 6 8 0 6-1 26-9 26-39 70-61 100-55 84-20 40-38 64-16 19-18 5-8-2-8-4-24-22-52-68-24-38-15-44-3-42 9-44 18-32 39-54 14-38 41-70 10-34 3-30z"/><path fill="#2a2a2a" d="M398 3366l250 0-1 24-25 50-6 34 1 18 4 12 6 9 16 14 4 9 0 26-9 28-24 46-62 106-64 98-21 40-34 58-8 11-10 9-16 4-16-5-22-17-51-66-16-24-12-20-12-36-4-42 5-34 4-12 18-30 38-54 15-38 37-60 6-14 9-30 3-30z"/><path fill="#2d2d2d" d="M403 3366l242 0 0 20-5 14-22 40-7 36 1 18 3 12 7 10 14 16 5 12 1 20-8 28-24 44-31 52-31 58-61 93-54 93-8 12-8 7-8 4-10 2-16-5-20-17-48-59-19-28-12-20-10-30-3-14-2-32 5-32 4-14 17-28 39-56 15-36 38-60 8-18 8-28 3-28z"/><path fill="#303030" d="M408 3366l234 0 0 20-5 14-22 40-8 36 0 18 4 13 6 11 13 18 6 14 0 20-7 24-21 40-31 51-32 63-60 90-52 90-8 11-8 8-8 4-10 1-16-5-18-15-43-52-24-34-11-20-10-24-3-18-2-32 4-32 5-14 17-28 37-54 18-38 37-58 10-20 7-26 3-28z"/><path fill="#323232" d="M413 3366l226 0 0 20-5 14-22 40-7 22-3 16 1 16 3 14 20 32 5 14 0 20-6 22-20 38-30 49-31 65-29 40-30 47-53 91-15 17-8 4-8 1-16-4-18-15-37-43-29-40-13-22-8-22-4-20-2-30 4-30 5-16 54-80 19-40 38-56 10-20 7-26 2-26z"/><path fill="#353535" d="M417 3366l220 0 0 20-5 14-23 40-8 22-2 16 0 16 3 16 20 34 4 14 1 20-6 20-19 36-29 48-21 48-12 22-33 46-79 130-13 13-14 4-16-5-16-13-36-41-29-40-14-24-8-20-4-20-2-30 4-30 6-16 52-78 21-42 38-53 10-21 7-24 3-26z"/><path fill="#383838" d="M422 3366l212 0 0 20-4 12-24 42-8 24-3 16 0 16 3 16 20 36 4 14 1 18-5 18-19 36-28 47-21 49-11 22-32 43-80 131-12 12-14 4-16-6-16-13-33-37-30-42-15-24-7-18-4-20-2-30 4-30 6-16 51-74 23-44 37-52 12-22 6-22 3-28z"/><path fill="#3a3a3a" d="M426 3366l206 0 0 20-4 12-24 42-10 24-2 16 0 18 3 16 19 38 5 14 0 16-4 16-17 34-29 48-21 52-10 20-33 44-80 130-12 10-12 3-15-5-17-15-30-33-32-44-14-24-7-16-4-22-2-28 4-30 5-14 51-74 25-45 37-51 13-22 5-22 4-26z"/><path fill="#3d3d3d" d="M429 3366l201 0 0 20-3 10-26 45-9 23-3 18 0 18 3 16 19 38 4 14 1 16-4 16-17 32-29 48-19 50-9 20-33 44-81 130-11 10-12 2-14-5-16-14-29-31-33-44-21-40-6-50 4-30 5-14 52-74 26-46 36-47 13-23 5-20 4-28z"/><path fill="#404040" d="M433 3366l196 0 0 20-4 10-21 34-12 26-4 12-2 16 0 18 2 16 20 40 5 14 0 12-3 14-16 32-30 50-18 50-9 20-32 42-82 130-10 9-10 3-12-4-18-14-28-30-33-44-23-40-5-48 4-32 4-12 52-74 27-45 36-46 14-25 5-18 4-30z"/><path fill="#424242" d="M437 3366l190 0 0 20-4 10-22 36-13 26-3 10-2 18 0 18 2 16 25 54 0 12-3 12-15 32-30 50-17 50-10 20-30 40-85 132-7 7-10 2-12-4-16-13-28-30-33-42-23-40-5-48 4-32 5-12 50-72 28-45 35-43 17-28 8-48z"/><path fill="#454545" d="M440 3366l185 0 0 20-4 10-21 34-15 30-5 28 2 32 25 56 0 12-2 10-16 32-28 50-18 50-8 19-32 43-84 129-8 6-8 2-10-4-17-13-27-28-33-44-23-38-5-48 4-32 3-10 55-76 27-42 34-42 17-28 8-50z"/><path fill="#484848" d="M443 3366l181 0 0 20-3 8-23 36-15 30-6 30 2 32 25 56 0 12-2 8-14 30-29 53-25 67-31 42-86 130-4 4-8 2-9-2-17-13-28-29-33-42-23-38-5-48 4-32 3-8 82-116 32-38 21-36 6-50z"/><path fill="#4a4a4a" d="M446 3366l176 0 0 20-3 8-22 34-15 30-7 32 1 32 25 54 1 10-2 10-14 32-28 52-25 68-71 100-45 69-6 6-6 1-7-2-15-10-24-25-40-49-22-37-5-47 4-32 3-8 82-109 30-36 24-43 6-52zM397 3606l-10 10-3 8 1 3 6-2 8-9 3-8-1-3z"/><path fill="#4d4d4d" d="M449 3366l171 0 0 20-3 8-22 34-15 30-7 32 0 32 11 28 14 28 1 12-2 8-13 30-27 52-25 68-72 100-23 38-20 27-6 7-6 1-20-12-26-25-38-49-23-35-4-46 5-36 28-38 32-38 6-3 12 1 10-4 14-15 9-15 6-30 24-54 4-48z"/><path fill="#505050" d="M452 3366l167 0 0 20-40 70-8 32 0 36 25 60-1 10-10 28-30 60-26 68-50 71-22 27-24 41-20 25-8 4-20-12-23-22-39-50-22-34-5-46 5-34 26-36 28-31 8-4 14-3 12-8 18-20 8-14 13-44 12-28 3-10 8-128z"/><path fill="#525252" d="M454 3366l163 0 0 20-40 70-8 32-1 26 1 12 8 24 14 28 2 8-1 10-10 28-29 58-17 42-8 26-51 73-22 25-22 39-20 23-8 4-18-9-24-23-40-52-20-32-5-44 5-32 18-26 32-36 26-12 14-11 18-21 10-20 24-74 9-126z"/><path fill="#555555" d="M457 3366l159 0 0 20-40 68-4 12-5 24-2 26 2 12 23 58-1 10-10 30-46 98-3 8-1 12-3 8-49 69-23 25-21 38-18 21-10 5-8-2-10-6-24-24-33-42-22-32-4-12-4-38 5-30 7-12 38-44 9-7 22-11 14-13 21-27 13-26 19-62 8-126z"/><path fill="#585858" d="M459 3366l155 0 0 20-3 8-21 32-15 28-10 36-2 26 2 13 6 19 13 28 3 10-1 12-8 28-37 80-14 24 1 14-6 12-47 67-22 22-11 23-9 14-20 22-10 3-14-7-23-22-33-43-22-31-5-12-3-40 4-26 8-13 36-42 30-19 14-13 22-27 16-31 14-43 4-16 8-126z"/><path fill="#5a5a5a" d="M462 3366l151 0 0 20-3 8-22 32-13 24-6 14-6 26-2 26 1 14 6 20 14 28 2 10-2 14-7 26-34 75-18 28 3 15-6 12-45 63-24 24-9 21-9 15-18 18-6 4-6 1-14-8-19-18-56-74-5-14-3-38 4-26 7-12 36-41 30-21 14-14 22-27 17-33 13-36 4-22 8-122z"/><path fill="#5d5d5d" d="M464 3366l148 0 0 20-5 10-32 50-7 16-7 28-2 28 1 14 5 18 13 26 3 12-2 18-5 22-31 68-22 34 0 4 3 12-5 12-44 62-25 24-17 35-18 17-6 4-6 0-13-6-18-18-55-74-6-14-2-38 4-22 8-14 35-40 31-24 18-20 16-20 19-36 11-32 5-24 7-120z"/><path fill="#606060" d="M466 3366l144 0 0 20-4 10-32 48-7 18-8 28-2 28 1 14 5 18 12 26 3 12-3 28-4 14-28 64-23 36 0 6 3 12-6 12-42 59-26 25-17 34-17 16-6 3-6 0-12-6-16-15-55-74-6-16-2-36 5-22 9-16 31-36 32-26 24-28 14-20 16-29 11-31 5-30 7-114z"/><path fill="#626262" d="M468 3366l141 0 0 20-4 10-32 48-8 18-7 28-3 28 1 16 5 18 12 26 2 12-3 32-12 34-19 38-22 36-1 6 4 12-6 14-41 56-26 25-18 35-16 13-10 4-12-5-14-14-56-74-6-16-2-36 5-20 9-16 30-38 32-27 28-33 21-34 12-28 6-20 4-30z"/><path fill="#656565" d="M470 3366l138 0 0 20-5 10-31 46-16 44-3 42 5 24 14 32-1 34-16 46-15 30-21 35-2 7 4 12-2 6-8 14-36 49-27 25-17 34-16 13-10 3-12-6-14-14-53-72-6-16-2-34 5-18 10-20 29-36 29-26 30-35 22-35 13-30 9-48z"/><path fill="#686868" d="M472 3366l134 0 0 20-3 9-32 47-16 44-4 32 0 12 4 22 14 32 1 36-16 44-14 28-22 38-1 6 3 12-2 6-8 14-35 48-27 26-17 32-16 13-10 2-11-5-14-14-51-72-5-14-3-34 5-16 11-22 25-34 29-27 30-35 23-36 15-30 9-48z"/><path fill="#6a6a6a" d="M474 3366l131 0 0 20-4 10-31 44-17 46-4 44 4 24 14 30 1 36-14 42-37 68-1 6 3 12-1 6-7 12-28 39-17 19-11 9-8 9-18 32-14 10-8 3-8-3-16-16-51-70-4-12-3-34 8-28 6-12 24-34 28-26 32-38 22-32 16-32 9-48 3-52z"/><path fill="#6d6d6d" d="M476 3366l128 0 0 20-3 8-33 46-17 46-5 42 5 26 14 30 1 38-13 40-36 68-2 8 3 8-1 8-7 12-27 38-18 20-10 8-8 9-18 32-14 9-8 3-6-3-16-15-50-71-4-10-3-34 10-34 22-34 33-34 30-35 22-31 18-34 10-48 2-52z"/><path fill="#707070" d="M478 3366l125 0 0 20-4 8-31 44-20 50-4 42 4 24 14 30 3 38-13 40-36 68-2 8 3 10-1 6-6 12-27 37-36 37-19 32-9 6-12 4-22-18-25-34-22-34-4-10-3-34 10-34 21-34 61-68 24-33 19-35 9-46 3-52z"/><path fill="#727272" d="M479 3366l122 0 0 20-3 8-32 44-20 50-5 32 0 10 5 24 14 32 3 36-12 40-36 70-1 6 3 10-1 6-7 12-26 36-36 38-20 31-6 4-12 4-4-2-17-13-27-36-19-32-5-12-3-32 8-32 21-36 60-68 24-32 21-36 10-46 2-52z"/><path fill="#757575" d="M481 3366l119 0 0 20-4 8-32 44-20 50-5 32 0 10 5 24 14 32 3 36-10 38-37 72-1 6 3 10-1 6-6 12-18 25-18 21-20 20-26 36-8 6-10 2-13-8-7-7-25-33-15-24-9-20-3-34 7-30 20-36 60-68 24-32 22-36 11-46 2-52z"/><path fill="#787878" d="M482 3366l117 0 0 20-4 8-31 42-23 52-5 30 0 12 6 26 14 30 4 36-10 38-38 76 3 12 0 6-6 11-18 25-38 41-26 35-8 6-10 0-12-7-8-8-23-29-12-20-11-24-4-26 0-10 7-28 18-34 61-70 24-32 19-28 5-10 9-32 3-14 1-50z"/><path fill="#7a7a7a" d="M484 3366l113 0 0 20-4 8-31 42-24 54-5 28 0 12 7 26 14 30 4 38-9 36-37 76-1 4 4 8-1 6-5 10-18 25-12 13-4 2-4 7-6 4-38 48-6 6-10 1-10-5-10-8-23-29-12-20-12-28-3-22 1-14 5-24 18-34 60-70 44-58 7-14 10-30 2-16 0-50z"/><path fill="#7d7d7d" d="M485 3366l111 0 0 20-16 24-19 26-23 44-4 14-4 22 0 14 7 24 15 34 5 36-9 34-38 80 4 10-1 7-6 11-18 24-10 11-6 0-3 7-5 4-6 10-32 39-8 6-8 0-10-4-12-12-21-27-12-20-7-16-4-14-2-18 2-18 5-20 16-32 58-68 45-58 8-12 8-22 6-18 1-16zM497 3753l-4 7 2 4 4-10 0-2zM489 3769l-3 3 1 4 3-4z"/><path fill="#808080" d="M487 3366l107 0 0 20-15 24-21 28-24 44-6 20-3 16 2 12 9 26 14 32 5 36-8 34-38 82 4 8-1 6-4 10-19 25-4 3-3-8-3 1-1 7 2 4-1 2-7 2-12 20-21 27-16 15-6 3-6 0-12-7-11-10-19-26-12-20-7-18-3-16-1-16 2-20 3-14 16-32 58-68 48-60 19-38 4-14 1-14-5-66-5-36zM505 3743l-10 11-4 12-5 4-1 6 2 2 19-30 1-4z"/><path fill="#828282" d="M488 3366l104 0 0 20-15 24-21 28-26 44-9 22-1 10 2 12 26 62 5 36-7 32-26 60-9 18-16 19-4 11-6 8-1 8 5-1 5-11 15-22 2 0 1 2-1 8-4 9-18 23-4 1-2-8-4 3-3 10-5 5-14 23-18 24-16 14-10 3-10-4-13-11-19-26-11-18-7-18-4-18-1-16 1-22 5-14 14-30 107-128 26-46 2-16-9-74-5-30z"/><path fill="#858585" d="M490 3366l101 0 0 20-4 8-14 20-17 20-21 34-14 17-6 3-6-6-6-18-6-42-7-30zM507 3522l6 1 6 9 28 60 5 32-6 30-33 76-18 23-5 11-5 7-3 9-4 4-3 10-36 51-18 14-10 1-12-7-10-9-19-26-9-16-7-20-4-16 0-20 2-22 12-30 6-10 105-124 22-29zM508 3750l3-1 0 3-4 12-20 24-2-4 6-5 3-9 7-12z"/><path fill="#878787" d="M491 3366l98 0 0 20-4 8-12 18-21 24-15 23-8 9-8 6-4 0-4-2-8-16-5-34-8-30zM502 3534l9-1 8 7 14 24 12 26 5 34-5 29-32 76-18 23-20 41-22 33-16 20-16 11-10 0-12-6-8-8-20-27-8-14-11-36 0-22 2-20 13-33 18-25 74-87zM506 3754l3 0-2 8-13 16-1-2 2-6 8-14z"/><path fill="#8a8a8a" d="M493 3366l94 0 0 21-13 21-39 48-12 9-8-3-7-12-6-30-9-28zM503 3540l10 1 8 7 12 20 11 24 5 32-5 28-31 76-20 26-19 38-35 52-16 10-10 1-12-6-8-6-20-27-7-12-12-38 0-32 2-12 11-30 20-28 72-83 32-32zM502 3758l5-2 0 4-2 4-4 3z"/><path fill="#8d8d8d" d="M494 3366l91 0 0 21-12 21-38 42-8 6-6 1-4-3-6-10-6-24-10-28zM502 3546l9-1 8 6 11 17 12 24 5 32-5 28-29 75-20 27-19 38-35 52-16 8-10 1-19-11-26-38-12-38-1-32 2-12 11-30 20-28 71-82 28-26zM504 3758l2 2-3 5-2-3z"/><path fill="#8f8f8f" d="M496 3366l87 0 0 20-16 28-34 31-6 4-4 0-4-2-4-6-6-19-12-28zM504 3550l9 0 12 13 15 31 6 32-5 26-28 75-20 26-20 39-34 51-16 8-10 0-18-11-25-36-12-38-1-34 1-10 11-30 21-30 71-81 26-23z"/><path fill="#929292" d="M497 3366l84 0 0 20-15 26-17 16-20 13-4 1-4-2-4-4-4-14-14-28-2-8zM505 3554l8 1 12 12 14 29 5 30-5 26-26 74-20 27-20 39-34 50-14 7-10 0-18-10-25-35-12-38-2-34 2-12 11-30 17-24 26-32 49-54 26-20z"/><path fill="#959595" d="M499 3366l80 0 0 20-10 20-6 7-16 13-18 7-4 0-24-41zM506 3558l7 1 10 9 15 30 5 28-6 28-24 71-12 14-8 13-20 40-34 50-12 5-12 0-18-10-20-28-5-9-10-34-2-34 8-34 22-34 69-79 30-23z"/><path fill="#979797" d="M501 3366l75 0 0 20-8 18-6 8-17 12-16 2-10-9-16-25zM503 3562l8 0 10 8 15 28 5 28-5 28-23 70-12 14-8 13-20 39-34 51-10 4-13 1-17-10-25-36-10-34-3-34 8-33 4-9 17-26 69-77 30-22z"/><path fill="#9a9a9a" d="M504 3366l70 0-1 22-8 18-8 7-14 8-14 0-10-9-14-20-1-6zM495 3566l14 0 7 4 17 26 6 30-5 28-21 69-14 18-26 49-34 50-10 5-12-1-18-11-23-35-9-32-4-34 6-32 5-10 17-26 50-57 24-24 22-14z"/><path fill="#9d9d9d" d="M506 3366l65 0 0 20-7 18-9 8-10 6-10 1-8-3-8-8-12-18zM490 3570l13-2 10 3 7 7 10 18 7 30-4 28-20 68-14 18-26 50-34 50-8 3-12 0-18-12-18-26-5-9-9-30-4-34 6-32 19-34 33-39 40-42z"/><path fill="#9f9f9f" d="M509 3366l59 0 0 20-7 18-8 7-8 3-10 1-8-3-8-9-9-15zM493 3572l12-1 9 5 9 12 8 16 4 28-2 18-9 34-13 40-12 15-27 51-33 49-6 3-12 0-18-12-18-26-5-10-8-30-5-32 5-32 19-34 42-49 31-31z"/><path fill="#a2a2a2" d="M513 3366l52 0 0 22-8 16-6 5-8 2-8 0-8-4-13-19zM487 3576l14-2 10 3 10 11 7 16 5 28-2 18-7 30-13 44-10 11-29 55-33 48-6 4-10-1-8-4-11-9-17-26-5-10-8-28-5-32 4-32 18-34 32-38 40-40z"/><path fill="#a5a5a5" d="M519 3366l42 0-1 22-7 15-6 4-6 0-8-1-6-4-8-16zM489 3578l12-1 10 4 9 11 7 14 4 18 0 12-1 16-7 30-12 42-10 10-29 56-33 48-6 3-8-1-9-4-8-8-19-28-5-10-7-28-5-32 2-30 17-32 34-41 38-37z"/><path fill="#a7a7a7" d="M527 3366l25 0 0 24-2 6-3 4-8 1-8-5-4-10zM492 3580l11 1 8 5 8 10 6 14 4 16 0 18-7 38-11 41-10 10-30 57-32 47-4 2-8 0-8-3-8-8-20-30-5-10-7-30-5-28 2-32 17-32 40-47 32-29 14-7z"/><path fill="#aaaaaa" d="M483 3584l12-1 10 2 9 9 7 12 5 18 1 16 0 12-5 28-11 42-10 10-29 56-33 48-4 3-6-1-7-2-8-8-26-40-7-30-4-30 0-28 15-32 25-31 44-43 8-5z"/><path fill="#adadad" d="M485 3586l10 0 10 4 8 8 6 12 5 18 2 18-5 35-10 39-10 11-29 57-33 47-4 3-4 0-6-3-6-5-29-42-7-32-4-32 0-26 14-30 26-32 44-42 8-4z"/><path fill="#afafaf" d="M477 3590l12-2 10 2 8 6 7 12 7 18 3 20-4 32-11 44-8 8-29 58-33 46-6 3-8-4-12-14-21-33-6-32-5-56 12-28 24-31 42-40 8-5z"/><path fill="#b2b2b2" d="M479 3592l11 0 9 3 7 7 7 11 6 15 4 20-4 32-7 24-3 17-8 7-29 60-33 44-6 3-6-3-14-16-19-30-6-32-4-58 10-28 23-29 18-18 24-20 10-6z"/><path fill="#b5b5b5" d="M472 3596l13-1 9 3 7 6 8 12 7 16 5 16-2 30-8 26-2 14-8 9-14 32-16 29-34 44-4 1-18-18-19-29-6-32 1-28-4-32 8-25 22-29 36-33zM451 3645l-8 9-2 7 5-3 5-5 2-5z"/><path fill="#b7b7b7" d="M468 3600l11-2 10 4 22 27 9 21-2 28-9 26-2 14-6 7-14 34-16 29-16 23-20 18-19-15-19-28-5-34 6-44-7-11 0-10 6-19 20-27 28-26zM461 3634l-10 3-6 5-21 32-1 5 18-9 15-14 10-18-1-4z"/><path fill="#bababa" d="M467 3604l10 0 5 4-1 4-10 9-24 14-38 51-8 7-4 0-3-5 1-12 4-10 10-14 26-27 20-15zM488 3628l7-1 10 3 6 6 5 10 2 10-3 28-10 32-18 42-16 30-16 22-10 10-6 3-6-1-16-10-19-28-4-32 5-32 13-24 42-32 25-29z"/><path fill="#bdbdbd" d="M458 3612l9-1-1 5-21 17-18 27-14 17-8 7-6 1-3-5 1-8 14-22 20-20zM489 3636l8-2 6 1 12 13 1 10-2 26-21 60-22 44-16 22-10 9-6 2-8-1-14-10-17-26-4-32 6-30 9-18 8-9 35-27 25-25z"/><path fill="#bfbfbf" d="M440 3626l5-2 1 2-20 32-17 19-8 2-2-3 2-8 10-16 16-17zM495 3640l10 2 8 8 2 22-2 12-10 26-10 32-21 44-17 23-12 10-12-1-13-8-17-26-3-32 7-30 9-18 9-10 35-26 25-23z"/><path fill="#c2c2c2" d="M430 3634l5-2 2 2-10 20-14 16-6 4-4 0 0-8 7-12 11-12zM490 3646l11-1 8 5 3 6 1 14-1 12-10 26-9 34-22 44-16 23-12 9-12-1-13-9-16-26-2-30 6-28 8-16 11-13z"/><path fill="#c5c5c5" d="M426 3640l5-2 0 2-6 13-10 12-8 4-1-5 5-8zM491 3650l10-1 6 4 3 7 2 14-1 8-11 26-8 36-21 42-16 22-12 9-12-1-12-8-15-26-3-30 7-28 8-16 11-12z"/><path fill="#c7c7c7" d="M422 3646l2 0 0 2-3 6-8 7 2-7zM491 3654l8-1 6 3 4 8 1 10-1 9-9 23-9 38-20 42-16 22-12 8-12-1-13-9-10-16-4-10-1-28 7-28 8-16 11-12z"/><path fill="#cacaca" d="M492 3658l7-1 4 3 4 6 1 10-10 30-7 38-20 42-17 22-11 8-12-2-7-4-6-6-9-14-4-10-1-26 8-30 8-16 12-12z"/><path fill="#cdcdcd" d="M492 3662l7 0 4 4 3 12-8 24-4 30-7 22-16 32-18 23-10 6-12-2-6-3-7-8-9-14-3-10-1-26 9-28 8-16 12-12 49-30z"/><path fill="#cfcfcf" d="M486 3668l11-1 4 3 2 6-7 28-2 24-4 16-20 42-15 21-10 7-12-1-13-9-9-14-3-10-2-26 8-26 7-16 12-13z"/><path fill="#d2d2d2" d="M486 3672l9 0 4 3 1 5-5 22-2 26-4 18-19 40-17 22-8 5-12-1-8-4-6-8-8-12-3-10 0-24 8-28 8-16 11-11 16-10z"/><path fill="#d4d4d4" d="M480 3678l11-2 4 6-2 46-3 16-19 41-10 13-12 13-6 2-8-1-13-8-12-22-2-22 5-20 9-24 11-14 18-11z"/><path fill="#d7d7d7" d="M479 3682l9 0 3 6 1 40-3 18-18 38-10 14-12 13-6 2-8-2-7-3-6-6-11-20-2-20 4-20 11-26 9-12 18-12z"/><path fill="#dadada" d="M474 3686l11 0 4 7 2 33-3 20-17 38-10 14-12 12-6 2-8-1-12-9-11-18-2-18 3-20 11-28 9-12 16-11z"/><path fill="#dcdcdc" d="M468 3690l13-1 5 7 5 29-2 19-19 40-8 12-13 14-6 2-6-1-12-8-11-17-3-16 2-18 12-32 7-12 15-10z"/><path fill="#dfdfdf" d="M469 3692l10 0 6 7 5 27-2 18-18 40-8 12-13 13-6 2-6-1-12-8-10-16-3-16 2-18 12-32 7-11 14-10z"/><path fill="#e2e2e2" d="M460 3696l15-2 7 6 7 24 0 18-4 12-16 32-18 22-6 2-6 0-12-6-10-14-4-14 0-18 5-14 14-32 11-9z"/><path fill="#e4e4e4" d="M459 3698l14-1 8 5 7 22 0 18-3 12-16 32-18 21-6 3-6-1-12-7-9-12-4-14 0-18 4-12 15-34 10-8z"/><path fill="#e7e7e7" d="M458 3700l15-1 8 6 7 21 0 16-4 12-16 32-17 21-10 2-12-5-9-12-5-14 0-18 3-12 15-34 10-8z"/><path fill="#eaeaea" d="M457 3702l14-1 8 5 8 19 0 17-4 14-15 30-17 20-10 3-11-5-9-12-5-14-1-16 4-14 16-34 8-7z"/><path fill="#ececec" d="M456 3704l15-1 8 6 7 19 1 16-4 12-15 30-17 20-10 2-10-5-10-11-5-14 0-16 4-12 16-36 7-5z"/><path fill="#efefef" d="M455 3706l14-1 8 5 8 16 1 18-3 12-15 30-17 19-10 3-10-5-9-11-5-14 0-14 4-14 16-34 6-6z"/><path fill="#f2f2f2" d="M454 3708l13-1 10 6 8 14 1 17-3 11-16 31-16 19-10 2-10-5-8-10-5-14 0-14 3-12 17-36 5-4z"/><path fill="#f4f4f4" d="M453 3710l14-1 10 6 7 15 2 14-3 10-16 32-16 18-10 2-10-5-9-11-4-12 0-14 4-12 10-18 7-16 4-4z"/><path fill="#f7f7f7" d="M453 3712l14-1 10 7 7 12 1 14-2 10-16 32-16 18-8 2-10-4-9-10-5-12 0-14 4-14 11-18 7-15 4-4z"/><path fill="#fafafa" d="M454 3714l13 0 10 6 6 12 2 14-8 21-10 19-16 17-10 2-10-5-7-10-4-12 0-14 5-14 11-16 7-13z"/><path fill="#fcfcfc" d="M452 3718l11-2 12 5 8 11 1 12-1 8-14 30-18 21-10 2-9-5-8-10-4-12 0-12 7-18 18-25z"/><path fill="#ffffff" d="M459 3720l12 1 8 6 4 9 0 14-14 32-6 8-12 12-10 2-10-6-8-14-2-12 1-12 7-13 18-20 6-5z"/></g></g><g fill="none" stroke="#1f77b4" stroke-width="3.5" stroke-linejoin="round"><path d="M194.23,1695.32C194.43,1696.44 195.03,1697.73 195.43,1702.08C195.84,1706.43 196.64,1715.37 196.64,1721.41C196.64,1727.45 196.64,1732.28 195.43,1738.32C194.23,1744.36 192.01,1751.61 189.39,1757.65C186.78,1763.69 181.34,1771.74 179.73,1774.56"/><path d="M164.03,1808.39C162.62,1810.4 158.99,1815.63 155.57,1820.47C152.15,1825.3 147.11,1831.74 143.49,1837.38C139.86,1843.02 136.04,1848.25 133.82,1854.29C131.61,1860.33 130.6,1866.77 130.2,1873.62C129.8,1880.46 130,1888.12 131.41,1895.36C132.82,1902.61 135.44,1910.26 138.66,1917.11C141.88,1923.95 146.31,1929.99 150.74,1936.44C155.17,1942.88 160.8,1949.72 165.23,1955.76C169.66,1961.8 173.29,1967.84 177.31,1972.68C181.34,1977.51 186.17,1981.94 189.39,1984.76C192.61,1987.58 193.42,1989.59 196.64,1989.59C199.86,1989.59 205.5,1987.17 208.72,1984.76C211.94,1982.34 213.15,1979.52 215.97,1975.09C218.79,1970.66 222.41,1963.82 225.63,1958.18C228.86,1952.54 232.08,1947.31 235.3,1941.27C238.52,1935.23 241.74,1927.58 244.96,1921.94C248.18,1916.3 251,1913.08 254.63,1907.44C258.25,1901.81 262.68,1894.56 266.71,1888.12C270.73,1881.67 274.76,1875.23 278.79,1868.79C282.81,1862.34 286.84,1855.9 290.87,1849.46C294.89,1843.02 299.32,1836.17 302.95,1830.13C306.57,1824.09 309.39,1818.86 312.61,1813.22C315.83,1807.58 319.66,1801.54 322.28,1796.31C324.89,1791.07 327.11,1787.04 328.32,1781.81C329.52,1776.57 330.13,1768.92 329.52,1764.9C328.92,1760.87 327.11,1760.07 324.69,1757.65C322.28,1755.23 317.04,1753.62 315.03,1750.4C313.01,1747.18 312.81,1743.15 312.61,1738.32C312.41,1733.49 312.61,1726.24 313.82,1721.41C315.03,1716.58 317.65,1713.68 319.86,1709.33C322.07,1704.98 325.9,1697.65 327.11,1695.32"/><path d="M223.22,1695.32C223.02,1698.46 222.41,1706.99 222.01,1714.16C221.61,1721.33 221.41,1730.27 220.8,1738.32C220.2,1746.37 220.8,1754.83 218.39,1762.48C215.97,1770.13 210.74,1777.38 206.31,1784.23C201.88,1791.07 196.64,1797.51 191.81,1803.55C186.98,1809.59 182.55,1814.02 177.31,1820.47C172.08,1826.91 165.23,1835.77 160.4,1842.21C155.57,1848.65 150.74,1853.08 148.32,1859.12C145.9,1865.16 145.9,1871.61 145.9,1878.45C145.9,1885.3 145.9,1893.35 148.32,1900.2C150.74,1907.04 155.57,1912.68 160.4,1919.52C165.23,1926.37 172.08,1935.23 177.31,1941.27C182.55,1947.31 187.78,1952.34 191.81,1955.76C195.84,1959.19 199.06,1961 201.47,1961.8C203.89,1962.61 203.49,1963.62 206.31,1960.6C209.12,1957.58 214.36,1949.72 218.39,1943.68C222.41,1937.64 226.44,1930.4 230.47,1924.36C234.49,1918.32 238.92,1912.68 242.55,1907.44C246.17,1902.21 250.6,1895.36 252.21,1892.95"/><path d="M278.79,1839.79C281.2,1835.37 289.66,1820.47 293.28,1813.22C296.91,1805.97 299.32,1800.33 300.53,1796.31C301.74,1792.28 301.74,1792.68 300.53,1789.06C299.32,1785.43 295.5,1779.39 293.28,1774.56C291.07,1769.73 288.25,1764.9 287.24,1760.07C286.24,1755.23 286.84,1750.4 287.24,1745.57C287.65,1740.74 287.85,1736.31 289.66,1731.07C291.47,1725.84 294.69,1720.12 298.12,1714.16C301.54,1708.2 308.18,1698.46 310.2,1695.32"/><path d="M238.92,1695.32C238.92,1700.47 239.12,1716.66 238.92,1726.24C238.72,1735.82 238.72,1744.76 237.71,1752.82C236.71,1760.87 235.3,1768.12 232.88,1774.56C230.47,1781 226.84,1785.84 223.22,1791.47C219.59,1797.11 215.57,1802.75 211.14,1808.39C206.71,1814.02 201.47,1820.06 196.64,1825.3C191.81,1830.53 186.57,1834.16 182.15,1839.79C177.72,1845.43 172.88,1853.08 170.07,1859.12C167.25,1865.16 165.64,1870 165.23,1876.04C164.83,1882.08 165.23,1888.92 167.65,1895.36C170.07,1901.81 175.3,1908.25 179.73,1914.69C184.16,1921.13 190.2,1929.59 194.23,1934.02C198.25,1938.45 200.67,1940.87 203.89,1941.27C207.11,1941.67 210.33,1940.06 213.55,1936.44C216.78,1932.81 219.59,1925.56 223.22,1919.52C226.84,1913.48 231.27,1906.64 235.3,1900.2C239.33,1893.75 243.35,1887.31 247.38,1880.87C251.41,1874.42 257.45,1864.76 259.46,1861.54"/><path d="M276.37,1830.13C277.38,1826.91 281.61,1817.24 282.41,1810.8C283.22,1804.36 282.61,1797.11 281.2,1791.47C279.79,1785.84 275.57,1781.81 273.96,1776.98C272.34,1772.15 271.54,1768.12 271.54,1762.48C271.54,1756.84 271.94,1750.4 273.96,1743.15C275.97,1735.9 279.19,1726.97 283.62,1718.99C288.05,1711.02 297.71,1699.26 300.53,1695.32"/><path d="M249.79,1695.32C250.6,1696.85 253.22,1701.96 254.63,1704.5C256.04,1707.03 257.65,1709.53 258.25,1710.54"/><path d="M273.96,1712.95C275.57,1711.54 281.2,1707.44 283.62,1704.5C286.04,1701.56 287.65,1696.85 288.45,1695.32"/><path d="M244.96,1780.6C246.57,1780.2 251.81,1777.58 254.63,1778.19C257.45,1778.79 259.46,1780.8 261.87,1784.23C264.29,1787.65 267.51,1793.89 269.12,1798.72C270.73,1803.55 271.54,1808.79 271.54,1813.22C271.54,1817.65 270.33,1820.87 269.12,1825.3C267.91,1829.73 265.9,1834.96 264.29,1839.79C262.68,1844.63 261.47,1848.25 259.46,1854.29C257.45,1860.33 255.43,1869.19 252.21,1876.04C248.99,1882.88 244.16,1889.32 240.13,1895.36C236.1,1901.4 231.67,1907.85 228.05,1912.28C224.43,1916.71 221.61,1919.93 218.39,1921.94C215.16,1923.95 211.94,1924.76 208.72,1924.36C205.5,1923.95 202.68,1923.15 199.06,1919.52C195.43,1915.9 190,1908.65 186.98,1902.61C183.96,1896.57 182.15,1889.73 180.94,1883.28C179.73,1876.84 179.13,1870 179.73,1863.96C180.33,1857.91 182.15,1852.28 184.56,1847.04C186.98,1841.81 190.6,1837.38 194.23,1832.55C197.85,1827.71 204.29,1820.47 206.31,1818.05"/><path d="M242.55,1808.39C244.56,1809.59 251.81,1812.82 254.63,1815.63C257.45,1818.45 258.85,1821.27 259.46,1825.3C260.06,1829.33 259.46,1834.56 258.25,1839.79C257.04,1845.03 254.43,1850.67 252.21,1856.71C250,1862.75 247.78,1869.59 244.96,1876.04C242.14,1882.48 238.52,1890.13 235.3,1895.36C232.08,1900.6 228.65,1904.63 225.63,1907.44C222.61,1910.26 220,1912.28 217.18,1912.28C214.36,1912.28 211.74,1910.67 208.72,1907.44C205.7,1904.22 201.07,1898.18 199.06,1892.95C197.04,1887.71 196.64,1881.67 196.64,1876.04C196.64,1870.4 197.45,1864.76 199.06,1859.12C200.67,1853.49 203.89,1846.64 206.31,1842.21C208.72,1837.78 212.35,1834.16 213.55,1832.55"/></g><g fill="#1f77b4" font-size="25.8" text-anchor="middle" dominant-baseline="central"><text transform="translate(170.07,1791.47) rotate(-65.1)">1</text><text transform="translate(266.71,1873.62) rotate(-63.43)">2</text><text transform="translate(269.12,1844.63) rotate(-61.7)">3</text><text transform="translate(261.87,1717.78) rotate(8.75)">4</text><text transform="translate(230.47,1791.47) rotate(-44.09)">4</text><text transform="translate(223.22,1818.05) rotate(-39.81)">5</text></g><text x="534.8" y="2093.6" fill="#fff" font-size="32.3" text-anchor="end">Ce II</text></g><rect x="103.3" y="1692.9" width="453.8" height="420.8" fill="none" stroke="#000" stroke-width="1.72"/><rect x="583.9" y="1692.9" width="22.2" height="420.8" fill="url(#cbg)" stroke="#000" stroke-width="1.72"/><path d="M103.3,2113.7v8.6M244.89,2113.7v8.6M386.48,2113.7v8.6M528.07,2113.7v8.6M103.3,1729.01h-8.6M103.3,1813.32h-8.6M103.3,1897.62h-8.6M103.3,1981.93h-8.6M103.3,2066.24h-8.6M606.1,2113.7h8.6M606.1,2053.07h8.6M606.1,1992.43h8.6M606.1,1931.8h8.6M606.1,1871.16h8.6M606.1,1810.53h8.6M606.1,1749.9h8.6" stroke="#000" stroke-width="1.72" fill="none"/><g font-size="25.8"><text x="103.3" y="2150.5" text-anchor="middle">2000</text><text x="244.89" y="2150.5" text-anchor="middle">4000</text><text x="386.48" y="2150.5" text-anchor="middle">6000</text><text x="528.07" y="2150.5" text-anchor="middle">8000</text><text x="86.4" y="1737.11" text-anchor="end">−1</text><text x="86.4" y="1821.42" text-anchor="end">−2</text><text x="86.4" y="1905.72" text-anchor="end">−3</text><text x="86.4" y="1990.03" text-anchor="end">−4</text><text x="86.4" y="2074.34" text-anchor="end">−5</text><text x="623" y="2121.8">0</text><text x="623" y="2061.17">1</text><text x="623" y="2000.53">2</text><text x="623" y="1939.9">3</text><text x="623" y="1879.26">4</text><text x="623" y="1818.63">5</text><text x="623" y="1758">6</text></g><text x="604.1" y="1683.2" font-size="25.8" text-anchor="end">×10<tspan font-size="18.06" dy="-9.3">39</tspan></text><text transform="translate(675.5,1903.3) rotate(-90)" font-size="33" text-anchor="middle"><tspan dy="0">L</tspan><tspan font-size="23.1" dy="5.4">Bol,</tspan><tspan font-size="23.1" dy="0" dx="4.6">s</tspan></text><text x="330.2" y="2191.9" font-size="33" text-anchor="middle">Temperature (K)</text><text transform="translate(25.3,1903.3) rotate(-90)" font-size="33" text-anchor="middle"><tspan dy="0">log</tspan><tspan font-size="23.1" dy="6" dx="1.8">10</tspan><tspan dy="-6" dx="1"> [M</tspan><tspan font-size="23.1" dy="5.4">ej</tspan><tspan dy="-5.4" dx="1.5"> (M</tspan><tspan font-size="23.1" dy="5" dx="5.3">⊙</tspan><tspan dy="-5" dx="6.3">) ]</tspan></text><g clip-path="url(#c31)"><g filter="url(#cm)"><rect x="804.3" y="1682.9" width="473" height="440" fill="#000000"/><g transform="scale(.5)" fill-rule="evenodd"><path fill="#030303" d="M1609 3366l621 0-1 60-3 38-10 38-14 36-22 38-28 38-118 132-7 15-19 53-55 116-16 40-10 44-6 68 4 24 0 26 9 64 1 50-326 0z"/><path fill="#050505" d="M1609 3366l556 0 2 80-5 24-10 32-44 82-49 80-21 38-21 23-18 28-11 27-19 34-54 107-32 69-32 84-22 68-8 21-14 23-8 7-8 4-10 0-12-7-40-41-21-27-23-16-24-21-32-17-20 0z"/><path fill="#080808" d="M1609 3366l528 0-1 76-8 38-40 94-39 80-17 40-6 10-16 18-22 30-33 62-85 172-33 60-12 18-12 14-10 7-12 5-14 1-18-1-40-11-24-12-50-40-14-5-22-1z"/><path fill="#0b0b0b" d="M1609 3366l511 0-2 60-8 40-38 108-46 120-7 12-30 34-10 15-30 54-75 153-24 42-15 21-16 18-16 12-16 6-30 3-36-6-24-12-30-27-15-9-19-6-24 0z"/><path fill="#0d0d0d" d="M1609 3366l498 0-1 44-8 42-40 130-36 112-10 16-33 36-24 40-69 142-35 62-14 19-16 16-16 11-16 7-32 3-22-2-16-3-16-8-26-25-17-10-23-7-28-1z"/><path fill="#101010" d="M1609 3366l488 0-1 34-5 32-22 73-20 79-32 112-10 16-30 30-20 32-18 33-56 117-31 56-13 18-14 14-14 10-16 6-24 3-54-6-10-5-14-18-24-14-28-8-32-2z"/><path fill="#131313" d="M1609 3366l480 0-1 28-4 24-25 82-16 82-29 114-10 16-30 28-17 26-20 37-55 117-30 54-12 16-13 13-12 8-14 6-16 3-18-2-16-7-16-15-6-3-32-6-52-17-36-1zM1637 3662l-7 8 0 4 5 3 4-1 4-6-1-6z"/><path fill="#151515" d="M1609 3366l472 0 0 24-2 18-28 88-15 90-14 60-6 38-5 14-9 14-29 24-16 24-22 39-55 119-30 52-21 25-12 9-12 5-14 3-16-2-14-6-22-16-11-4-33-8-48-14-16-2-22 0 0-259 20 0 12-8 11-13 3-20-8-24-12-18-6-4-20 0z"/><path fill="#181818" d="M1609 3366l466 0 0 24-3 18-22 60-8 28-11 88-13 64-5 36-4 14-8 13-30 23-16 23-22 40-55 119-28 50-19 23-12 9-12 5-14 2-14-2-14-5-26-16-12-5-80-23-16-3-22 0 0-237 20 0 10-8 16-22 4-26-8-43-8-21-6-7-6-4-22 0z"/><path fill="#1b1b1b" d="M1609 3366l461 0-1 22-3 18-23 58-8 30-8 88-12 64-4 38-4 14-8 13-30 21-16 23-22 40-56 121-27 48-19 22-12 8-10 4-14 2-14-3-46-23-80-26-20-4-24-1 0-217 20 0 8-7 21-35 4-30-3-64-5-18-7-10-10-5-8-2-20 0z"/><path fill="#1d1d1d" d="M1609 3366l455 0 0 22-2 14-25 59-9 31-6 92-11 64-2 36-3 14-7 11-27 17-14 16-25 44-57 124-18 34-23 33-12 10-14 7-12 1-14-2-48-23-86-31-18-3-22 0 0-198 20 0 4-2 8-12 18-38 6-28 1-38 6-48-1-10-4-8-12-12-20-8-26-1z"/><path fill="#202020" d="M1609 3366l451 0 0 22-3 12-26 58-9 32-3 24-1 70-10 64-1 36-4 16-6 9-28 16-12 15-26 44-57 126-19 34-22 31-12 9-12 6-12 1-12-2-46-22-92-36-16-3-22 0 0-178 22-1 8-9 6-13 17-45 5-26 4-36 13-48 3-16-2-8-4-8-18-13-28-11-26-1z"/><path fill="#232323" d="M1609 3366l446 0 0 20-2 12-28 59-10 33-1 26 1 68-11 66 1 34-3 16-7 9-26 13-12 14-26 44-58 128-19 34-21 30-12 9-12 6-10 1-12-3-90-38-52-24-14-3-22 0 0-157 22-1 6-7 6-11 20-60 13-66 22-56 4-18-1-6-3-6-15-10-48-22-26-2z"/><path fill="#252525" d="M1609 3366l442 0 0 20-2 10-30 60-10 34-1 28 3 66-10 68 2 32-3 16-7 8-24 10-12 13-28 49-58 128-17 32-22 30-23 13-10 1-10-2-90-38-58-30-12-4-20 0 0-132 20 0 6-6 8-15 22-73 13-62 34-70 8-26-4-6-43-15-42-23-22-1z"/><path fill="#282828" d="M1609 3366l438 0-1 28-33 62-9 34-1 30 4 66-10 68 4 30-2 15-6 7-26 10-10 11-30 53-57 126-18 34-21 28-22 12-6 2-8-2-92-39-68-40-6-2-20 0 0-100 20 0 8-12 12-35 32-128 46-86 14-18 2-6-2-7-6-3-26 1-30-7-20-11-30-23-20 0z"/><path fill="#2a2a2a" d="M1609 3366l435 0 0 20-2 8-18 30-16 32-10 36 0 32 6 62-12 72 1 8 6 18-2 14-6 7-24 6-10 12-31 55-57 128-18 32-21 28-23 12-10-1-96-41-51-36-21-29-20 0 0-32 20 0 4-8 10-37 15-78 25-90 51-88 15-18 2-10-2-14-6-6-8-1-14 6-8 1-30-5-12-5-18-13-24-22-20 0z"/><path fill="#2d2d2d" d="M1609 3366l431 0-2 26-17 30-17 34-11 36 1 32 6 64-6 46-8 30 1 6 9 14-1 13-4 5-4 2-18 0-6 4-38 68-58 130-18 32-20 26-22 11-6 0-14-7-24-7-60-28-42-33-8-12-9-34 2-38 13-96 12-48 16-47 41-65 11-22 13-16 7-28-8-16-10-7-10 2-9 11-5 3-32-4-8-3-24-15-22-20-22-1z"/><path fill="#303030" d="M1609 3366l427 0-1 24-35 64-11 36 0 36 7 60-8 52-7 17-14 24-12 35-32 63-25 59-34 72-17 30-17 22-7 5-16 7-6-1-14-6-26-8-56-27-28-22-16-20-8-36-1-42 2-40 6-46 12-50 17-48 42-64 10-20 13-20 11-22 1-8-8-20-6-6-9-6-8 0-10 2-14 11-26 1-28-13-24-19-24-2zM1985 3684l6 1 1 7-3 6-6 1-4-3 0-4 3-6z"/><path fill="#323232" d="M1609 3366l422 0-1 24-34 64-11 36 0 37 7 59-7 48-22 40-13 46-29 56-25 60-32 70-21 35-16 19-8 4-12 4-6 0-38-13-38-17-20-12-15-12-15-16-8-14-9-38-2-32 1-40 5-54 11-44 19-50 41-62 25-44 9-20 2-14-3-12-5-10-8-8-8-3-16 0-24 11-20 2-24-9-28-18-24-1z"/><path fill="#353535" d="M1609 3366l418 0-2 24-32 64-11 36-2 40 8 56-8 46-21 41-13 51-25 50-26 62-32 69-21 35-15 17-8 5-16 3-38-12-34-16-28-17-19-18-11-16-8-26-4-28-2-34 1-40 4-40 10-44 19-46 43-64 31-57 5-19-2-20-9-14-8-6-8-3-14 1-30 11-16 3-22-7-30-17-24-1z"/><path fill="#383838" d="M1609 3366l413 0 0 20-2 6-30 62-11 33-3 47 7 50-4 32-5 18-19 39-10 47-85 186-19 32-14 16-10 6-14 2-40-13-37-17-25-18-16-18-9-16-8-28-5-36-2-44 2-34 3-22 9-42 19-44 44-64 26-48 11-30 1-12-2-12-5-10-6-7-8-6-8-2-16 1-32 12-16 2-18-4-32-16-24-1z"/><path fill="#3a3a3a" d="M1609 3366l409 0-1 26-32 64-10 32-4 50 5 46-4 34-3 14-17 40-10 50-25 54-24 58-34 72-20 32-12 13-10 6-16 2-42-14-36-18-22-18-15-19-9-18-7-30-5-42-2-36 2-38 12-54 18-40 46-66 16-34 9-14 13-32 1-14-3-14-5-10-7-8-8-5-8-2-16 1-34 13-16 2-18-3-32-14-24-1z"/><path fill="#3d3d3d" d="M1609 3366l405 0-1 26-36 78-6 22-7 54-13 24 1 14 12 16 2 18-3 14-14 41-9 49-24 52-24 60-34 70-20 32-11 12-10 6-16 2-46-16-34-18-22-20-14-20-8-24-7-38-5-44 2-54 11-50 19-40 45-64 26-48 15-36 1-16-3-14-5-10-7-9-8-6-10-3-16 1-36 15-16 3-18-3-32-12-24-1z"/><path fill="#404040" d="M1609 3366l402 0 0 20-2 8-35 74-6 22-8 48-15 30 0 16 11 22 3 16-13 50-9 52-45 108-35 72-20 31-10 11-10 6-10 2-8-1-44-15-32-18-22-20-13-20-9-26-7-40-6-46 2-48 12-48 19-40 49-70 34-66 6-22-1-12-3-12-5-13-8-10-8-6-10-3-16 2-36 17-18 4-18-2-32-11-24 0z"/><path fill="#424242" d="M1609 3366l399 0 0 20-3 10-34 72-6 20-8 46-16 34 0 18 11 26 1 14-18 98-44 106-36 74-19 30-9 9-10 6-8 2-10-1-42-14-32-18-21-20-13-20-9-26-8-40-6-48 1-44 11-46 20-40 50-70 36-70 4-12 2-12-1-14-3-12-7-14-8-11-8-6-10-3-16 3-38 20-18 5-18-1-34-11-22 0z"/><path fill="#454545" d="M1609 3366l396 0 0 20-3 12-35 72-5 18-8 42-14 30-3 10 0 16 10 28 1 16-11 80-4 16-42 102-36 74-20 30-10 10-8 5-8 1-10 0-42-14-30-18-21-20-12-20-10-28-10-48-5-42 1-40 7-30 7-20 18-34 49-68 25-44 16-34 4-24-5-26-6-14-10-15-10-9-8-3-12 3-39 26-21 8-18 0-36-10-22 0z"/><path fill="#484848" d="M1609 3366l131 0 0 20-4 8-8 10-25 19-18 8-20 1-32-9-24 0zM1774 3366l228 0 0 20-3 14-35 70-5 18-8 40-14 31-4 11 0 18 9 28 2 16-9 76-4 20-41 100-38 76-21 30-10 8-12 4-10-1-18-5-32-13-24-16-19-19-11-20-9-26-11-50-5-40 1-40 7-28 7-20 17-32 43-58 26-43 8-11 18-42 3-18-2-18-7-22-16-34z"/><path fill="#4a4a4a" d="M1609 3366l121 0 0 20-5 12-11 12-15 12-14 6-18 1-34-7-24-1zM1785 3366l214 0 0 20-3 14-35 70-13 58-18 42 0 18 9 32 2 16-7 72-5 20-39 98-39 78-12 18-10 12-10 7-12 3-30-7-30-13-22-16-18-20-12-22-9-28-12-58-4-32 3-36 7-28 6-16 18-32 37-49 30-47 11-14 19-44 3-16-1-18-4-18-13-38z"/><path fill="#4d4d4d" d="M1609 3366l113 0 0 22-4 10-10 12-13 10-12 5-18 2-34-7-22 0zM1794 3366l203 0 0 20-3 14-8 18-28 52-13 56-18 44 0 18 9 34 2 16-6 68-5 22-37 96-40 78-11 18-10 11-10 7-12 3-26-5-30-13-23-15-18-20-12-22-10-30-13-58-4-34 1-20 3-18 6-24 7-16 18-30 37-49 30-45 12-14 19-44 4-16 0-18-14-58z"/><path fill="#505050" d="M1609 3366l107 0 0 22-5 12-8 10-11 8-11 5-16 2-34-7-22 0zM1801 3366l193 0 0 22-3 14-8 18-28 50-13 56-18 44 0 20 9 34 2 18-4 62-6 26-36 92-40 80-12 18-10 10-10 7-12 2-26-6-30-13-22-16-17-20-11-22-10-30-14-60-3-32 4-36 7-23 6-15 19-30 33-43 32-47 14-16 21-44 4-16 0-18-10-58z"/><path fill="#525252" d="M1609 3366l102 0 0 22-4 10-8 10-9 8-11 5-16 2-32-6-22-1zM1807 3366l185 0 0 20-3 14-6 14-24 42-7 16-13 54-17 44-1 20 10 36 2 20-4 58-6 28-35 92-40 76-11 17-10 11-10 6-12 3-26-6-28-13-22-16-17-20-12-24-10-32-14-58-3-32 1-18 4-20 7-20 6-14 18-28 30-38 34-48 17-20 21-42 5-18 1-18-9-58z"/><path fill="#555555" d="M1609 3366l97 0-1 24-4 10-6 8-10 7-10 5-14 1-30-6-22 0zM1813 3366l177 0 0 20-3 14-6 14-25 42-7 16-13 54-17 44-1 20 10 38 2 22-2 54-6 28-35 90-40 78-10 15-11 11-9 6-12 2-26-5-28-13-21-16-16-20-13-24-11-36-14-54-2-32 1-18 5-20 6-18 7-14 16-25 62-83 22-26 22-42 5-18 1-18-8-58z"/><path fill="#585858" d="M1609 3366l93 0-1 24-5 10-6 8-8 6-9 4-14 1-28-6-22 0zM1818 3366l169 0 0 20-2 14-6 14-26 42-7 16-12 54-18 46 0 20 10 38 2 22-2 52-6 28-33 88-41 78-11 17-10 10-10 5-12 2-24-5-27-13-21-16-16-20-13-26-12-38-13-50-3-32 2-16 5-22 6-16 8-16 14-22 62-81 26-29 22-40 5-18 1-18-6-60z"/><path fill="#5a5a5a" d="M1609 3366l88 0-1 24-9 16-7 6-9 4-12 1-30-6-20 0zM1823 3366l162 0 0 20-2 14-6 14-27 42-8 16-11 54-18 46 0 20 11 40 2 22-1 48-6 30-33 88-40 76-11 16-10 10-10 6-12 2-24-6-26-12-21-16-16-20-15-32-18-60-6-28-2-26 2-18 6-20 6-16 8-15 14-21 58-75 32-35 21-38 6-18 2-20-6-58z"/><path fill="#5d5d5d" d="M1609 3366l84 0-1 24-3 8-6 8-14 8-12 1-28-5-20 0zM1828 3366l155 0 0 20-3 14-5 14-27 40-8 16-5 16-7 42-18 44 0 20 12 42 3 24-2 46-6 30-32 86-40 75-10 15-12 11-10 5-12 2-24-6-24-13-20-15-15-20-16-32-19-62-6-28-1-24 2-18 7-22 15-30 71-93 35-37 20-34 6-18 2-20-5-60z"/><path fill="#606060" d="M1609 3366l79 0-1 26-8 13-12 7-14 0-24-5-20 0zM1833 3366l148 0 0 20-3 14-5 14-28 40-9 16-4 16-7 42-18 44 1 20 12 42 3 26-1 44-7 30-30 84-40 75-11 15-11 11-10 5-12 1-22-5-25-12-20-16-15-20-15-32-21-64-5-26-1-22 2-18 6-22 6-14 12-18 68-89 39-39 20-32 6-18 2-20-4-62z"/><path fill="#626262" d="M1609 3366l75 0-1 26-8 12-10 6-14 0-22-5-20 0zM1838 3366l141 0 0 20-3 14-5 14-30 40-8 16-5 16-5 42-18 42 0 22 13 44 4 26-1 42-7 30-29 84-41 74-11 15-10 10-10 5-12 1-22-5-24-12-20-16-15-20-15-30-22-68-5-24-1-22 3-18 7-21 7-15 11-18 66-84 45-44 12-16 7-14 6-18 2-20-5-60z"/><path fill="#656565" d="M1609 3366l70 0 0 20-3 10-7 9-10 3-30-6-20 0zM1843 3366l134 0 0 20-3 16-7 14-28 36-9 16-5 16-5 44-18 42 0 22 14 46 4 26-1 40-6 30-29 84-41 73-11 15-11 10-10 4-12 1-22-6-22-12-19-15-15-20-14-30-23-68-5-22-1-22 3-18 7-22 19-33 62-78 12-13 38-34 13-16 8-14 6-18 2-20-5-60z"/><path fill="#686868" d="M1609 3366l64 0 0 20-2 10-5 6-9 3-28-7-20 0zM1848 3366l127 0 0 22-3 14-7 14-30 36-10 16-4 16-4 44-4 12-11 20-3 10 1 22 14 46 5 26-1 40-6 30-28 82-41 73-10 14-12 11-10 4-12 1-22-6-22-12-18-16-15-19-14-30-24-68-5-22 0-22 3-18 8-22 21-34 60-75 12-12 42-35 12-14 8-14 6-18 2-20-5-58z"/><path fill="#6a6a6a" d="M1609 3366l52 0 0 29-3 3-5 0-18-7-26 0zM1853 3366l120 0 0 22-3 14-7 14-31 34-11 16-4 18-1 30-2 14-3 10-10 16-5 12-1 12 2 14 19 60 2 38-5 34-25 78-11 26-42 70-8 9-10 7-8 2-10 1-20-5-23-12-18-16-15-20-14-28-25-70-4-22 0-22 4-20 7-20 24-36 58-71 14-13 44-34 11-12 9-14 6-18 2-20-6-56z"/><path fill="#6d6d6d" d="M1858 3366l113 0 0 22-3 14-7 14-34 34-11 16-5 18 2 30-2 14-2 9-11 15-5 12-1 12 1 12 20 60 3 18 1 22-5 36-25 78-12 28-42 68-16 13-10 3-10 0-20-5-22-13-18-16-13-18-14-28-25-70-5-22 0-20 7-28 12-24 17-24 51-62 20-20 53-38 10-10 8-12 6-18 2-18-7-56z"/><path fill="#707070" d="M1864 3366l105 0 0 24-4 14-6 11-10 11-31 26-9 12-5 12 0 12 5 24-1 12-3 12-14 18-3 20 4 22 20 56 3 22 0 22-5 30-24 76-11 26-42 67-16 14-10 3-10 0-20-5-20-12-18-16-15-19-12-26-27-72-5-22 1-20 7-26 12-24 17-24 53-64 21-19 59-37 9-8 8-10 6-18 3-18-11-56z"/><path fill="#727272" d="M1871 3366l96 0 0 22-3 14-7 13-12 11-46 31-8 1-10-13-9-23-2-16zM1888 3504l5-1 4 3 5 12-3 14-10 10-2 5-3 21 5 26 18 44 5 22 2 32-4 30-29 92-40 68-12 16-12 9-12 3-14-1-20-7-20-14-16-16-13-20-10-22-28-74-3-22 2-24 9-24 13-21 70-86 12-11 18-11 68-33 7-6z"/><path fill="#757575" d="M1880 3366l85 0 0 24-4 15-10 13-18 12-26 7-8 1-6-2-9-8-5-12zM1850 3542l17 0 6 3 3 7 9 40 19 44 6 20 3 26-2 28-26 92-12 26-34 54-10 13-16 11-18 2-18-6-20-11-16-15-15-20-12-24-28-72-4-20 0-22 8-26 12-22 71-87 14-12 16-10 26-12z"/><path fill="#787878" d="M1898 3366l65 0-1 26-2 10-5 9-10 9-14 6-12 1-8-3-6-8-7-28zM1840 3550l11-1 10 1 6 4 5 8 12 34 24 56 4 24-1 28-4 22-22 74-10 24-46 69-16 11-16 2-18-5-20-11-16-15-15-19-12-24-29-72-5-20 0-18 7-25 12-23 19-26 30-34 23-29 12-11 14-9 22-9z"/><path fill="#7a7a7a" d="M1907 3366l54 0-1 28-4 10-5 8-8 6-10 3-8 1-8-4-5-10-5-20zM1832 3556l13-2 10 2 8 4 7 10 35 80 5 24 0 28-4 22-22 76-9 22-46 68-16 12-16 2-18-5-18-10-17-15-14-18-12-22-30-74-5-18 0-20 6-24 12-24 20-26 31-34 21-27 10-9 14-9 18-8z"/><path fill="#7d7d7d" d="M1913 3366l46 0-2 30-4 10-6 6-8 4-8 1-6-1-5-4-4-8-3-14zM1832 3560l13 0 10 3 8 6 6 9 35 72 5 24 0 28-4 22-22 76-9 22-35 53-12 15-14 10-16 2-18-5-18-10-16-15-15-18-11-22-31-74-5-18 0-18 7-24 13-24 19-26 31-34 20-25 10-10 14-8 18-7z"/><path fill="#808080" d="M1918 3366l38 0-1 28-3 8-5 6-14 5-6-2-4-4-5-15zM1830 3564l15 1 10 4 8 8 8 12 24 44 8 19 5 24 0 26-4 20-21 76-9 22-35 53-12 15-14 10-16 2-16-4-18-10-17-14-14-18-11-22-32-74-5-16 0-18 6-24 13-25 20-26 32-35 18-24 10-9 14-8 16-6z"/><path fill="#828282" d="M1923 3366l30 0-2 28-2 7-6 5-10 2-8-6-2-14zM1824 3568l13 0 12 3 9 7 9 11 24 40 10 21 6 23 0 25-3 22-22 78-9 22-46 65-14 10-16 3-16-4-18-11-16-13-14-18-11-20-33-74-4-16-1-18 5-22 14-25 20-27 34-36 16-22 10-9 12-7 14-5z"/><path fill="#858585" d="M1930 3366l18 0-1 26-2 6-4 2-6 0-4-4zM1816 3572l17-1 12 3 10 7 10 12 24 36 10 21 6 22 1 24-4 28-12 38-9 38-8 18-46 65-14 10-14 3-16-4-18-9-16-14-14-17-12-20-33-74-5-16 0-16 2-16 9-20 11-18 20-25 29-31 23-28 18-11z"/><path fill="#878787" d="M1809 3576l16-2 14 3 12 6 10 10 24 34 12 21 7 22 1 22-4 28-12 42-9 38-6 16-47 65-14 10-14 3-16-4-16-8-16-13-15-17-11-20-34-74-5-16-1-14 2-16 8-19 10-16 16-21 37-40 21-26 14-9z"/><path fill="#8a8a8a" d="M1812 3578l17 0 14 5 12 9 12 14 20 27 10 19 6 20 1 22-4 26-12 42-9 38-6 16-46 62-14 11-14 2-16-3-16-8-16-14-14-16-11-18-35-74-5-16-1-14 3-18 8-18 11-17 20-25 33-34 21-26 14-8z"/><path fill="#8d8d8d" d="M1803 3582l16-2 14 3 13 7 13 11 22 27 12 20 8 20 2 22-3 28-13 42-9 40-5 15-46 61-14 10-14 3-16-3-16-9-15-11-13-16-11-18-17-38-19-36-5-14-1-14 2-16 5-14 8-15 14-19 20-24 27-26 17-22 10-7z"/><path fill="#8f8f8f" d="M1805 3584l16 0 16 5 14 9 16 16 18 22 10 17 6 19 1 20-3 26-13 42-9 40-5 14-45 60-14 10-14 3-16-3-16-9-16-13-12-15-10-15-17-38-20-38-5-14-1-14 3-16 6-16 10-16 19-24 15-16 25-24 17-22 12-7z"/><path fill="#929292" d="M1797 3588l16-2 16 4 14 7 18 15 20 22 11 18 7 18 2 20-3 26-13 44-8 40-6 14-46 59-12 9-14 3-14-3-16-8-16-12-12-14-10-17-18-37-20-38-5-14-1-12 1-14 4-12 19-30 26-31 29-27 13-18 8-6z"/><path fill="#959595" d="M1799 3590l16 0 16 5 16 10 20 17 16 17 10 16 5 17 2 18-3 24-13 46-8 40-5 14-46 57-12 9-14 3-14-3-16-8-16-12-12-15-48-91-5-12-1-12 2-14 4-12 8-15 12-16 26-31 29-26 13-18 8-5z"/><path fill="#979797" d="M1793 3594l14-2 16 4 20 10 20 15 16 16 12 17 6 16 2 18-2 24-13 44-8 40-5 16-8 12-38 45-12 8-14 4-14-3-14-7-15-11-13-15-11-17-18-38-20-34-4-12-2-12 1-12 3-12 17-29 30-35 30-26 13-18z"/><path fill="#9a9a9a" d="M1795 3596l14 0 16 6 24 12 20 16 14 15 8 13 6 16 1 16-2 22-13 44-8 40-5 16-45 54-12 9-14 3-14-2-14-7-15-11-13-15-10-16-18-37-21-36-4-12-2-12 1-12 4-12 20-30 28-33 33-27 9-14z"/><path fill="#9d9d9d" d="M1793 3600l10-1 8 2 34 15 22 15 14 14 8 13 6 14 2 16-2 22-13 46-8 40-5 16-44 52-12 9-14 3-14-2-14-7-14-11-12-13-10-15-20-40-20-34-4-10-2-12 0-12 4-12 18-28 32-38 32-24 10-13z"/><path fill="#9f9f9f" d="M1794 3606l7 0 8 4 30 7 14 7 14 10 12 11 10 14 5 15 2 14-2 22-13 44-7 42-5 15-8 11-38 41-12 8-12 3-14-2-14-7-14-11-12-13-10-15-17-36-23-37-4-11-2-12 2-16 6-14 34-44 20-19 30-19z"/><path fill="#a2a2a2" d="M1813 3620l14-1 16 4 16 8 14 11 10 10 8 14 4 14 0 16-3 16-14 48-6 38-5 14-46 51-12 7-14 1-12-2-14-8-14-11-11-12-9-14-16-34-24-39-4-11-1-14 3-15 8-15 32-40 14-15 14-10 14-7 12-3 16 1z"/><path fill="#a5a5a5" d="M1819 3624l14 0 14 4 16 8 14 12 8 10 6 12 3 14 0 14-16 58-6 40-5 15-46 49-12 7-14 2-12-3-14-7-14-11-11-12-25-48-24-38-4-12-1-14 4-14 9-16 32-40 16-15 12-8 12-5 12-1 18 2z"/><path fill="#a7a7a7" d="M1818 3628l15 0 14 3 14 7 14 10 8 10 7 12 3 14 0 14-16 58-6 40-5 14-45 48-12 7-14 2-12-3-14-7-14-11-10-12-24-46-26-38-4-12 0-14 3-14 9-15 34-41 14-14 12-7 12-5 30 1z"/><path fill="#aaaaaa" d="M1768 3632l11-2 26 2 24-1 22 5 16 8 12 11 9 13 4 14-1 22-15 52-6 38-4 14-5 8-38 38-10 7-10 3-12 0-14-5-14-8-12-12-11-15-19-38-24-35-6-15 2-22 12-20 39-46 11-9z"/><path fill="#adadad" d="M1776 3632l29 2 28 0 22 6 14 8 12 11 7 13 3 12-1 20-15 50-6 42-4 12-4 7-38 36-12 8-10 3-12-1-12-4-14-9-12-11-10-14-19-37-25-36-5-16 0-12 3-11 16-23 38-43 14-9z"/><path fill="#afafaf" d="M1773 3634l60 3 22 6 14 7 10 10 8 12 3 12-1 20-15 50-6 40-4 14-5 7-38 35-10 7-10 3-12-1-12-4-14-9-12-11-9-13-18-36-27-36-5-14 2-22 11-18 42-48 12-9z"/><path fill="#b2b2b2" d="M1770 3636l11-1 52 5 22 5 14 8 10 8 6 11 4 12-2 20-15 52-5 40-4 12-42 39-10 7-10 3-12 0-12-4-12-8-12-10-10-13-18-36-26-35-6-15 2-22 10-17 42-48 12-9z"/><path fill="#b5b5b5" d="M1768 3638l15-1 54 6 16 4 14 7 10 7 7 11 3 10 0 20-17 54-4 38-3 12-4 6-40 34-8 5-10 3-12 0-12-4-12-7-12-10-9-13-17-34-28-36-6-14 2-20 8-15 44-51 10-8z"/><path fill="#b7b7b7" d="M1765 3640l18-2 54 8 16 4 14 6 10 8 6 8 3 10-1 20-16 54-4 39-4 11-4 6-38 31-10 6-8 3-12 0-12-4-14-8-10-10-8-10-15-32-29-37-7-15 1-18 8-16 43-50 9-7z"/><path fill="#bababa" d="M1771 3640l12 0 54 9 22 6 12 6 7 7 5 6 2 10-1 20-18 58-3 32-2 10-4 5-16 12-24 21-10 5-8 2-10 0-12-4-12-6-11-9-7-10-15-32-31-38-7-14 2-20 9-15 44-50 10-7z"/><path fill="#bdbdbd" d="M1768 3642l17 0 74 15 18 11 4 6 3 10-1 19-11 31-8 30-2 30-3 10-20 15-24 21-16 6-10 0-12-3-12-7-10-8-8-10-15-32-31-37-6-13 1-18 7-13 46-53 8-6z"/><path fill="#bfbfbf" d="M1765 3644l18-1 76 17 18 10 6 14-1 16-19 60-6 42-18 12-24 22-16 7-10 1-12-4-12-6-10-8-6-8-15-32-33-38-6-12 1-16 5-12 47-54 9-7z"/><path fill="#c2c2c2" d="M1771 3644l14 1 78 19 14 9 4 13-1 16-10 26-13 49-6 11-8 6 2 4 2-3 2 1-6 3-14 19-11 12-11 7-10 3-10 0-12-3-10-5-10-8-19-38-11-14-24-24-5-14 1-16 6-11 27-29 21-25 10-6z"/><path fill="#c5c5c5" d="M1767 3646l18 0 78 21 12 7 5 12-1 15-24 71-4 5-12 7-5 4-6 22-9 14-12 9-12 4-10 0-10-3-18-11-5-5-14-32-13-16-22-22-5-6-2-8 1-16 6-10 27-28 21-26 8-5z"/><path fill="#c7c7c7" d="M1764 3648l19-1 30 10 50 13 11 6 4 10-1 16-24 66-4 6-12 6-6 6-10 26-7 10-9 8-10 3-10 1-10-3-18-10-17-35-13-16-24-23-6-13 0-14 6-11 29-29 19-24z"/><path fill="#cacaca" d="M1772 3648l13 1 28 10 54 15 7 6 2 8-1 12-6 14-10 36-6 14-5 6-13 8-8 8-13 26-5 8-10 7-10 3-16-3-14-7-17-34-15-18-24-22-4-7-2-7 2-14 4-8 29-28 21-27 8-5z"/><path fill="#cdcdcd" d="M1767 3650l18 1 66 24 14 3 6 4 2 6 0 7-6 15-8 33-8 19-29 24-20 32-7 5-8 2-14-1-13-6-3-6-6-16-6-10-16-18-26-24-5-10 1-14 4-9 30-29 21-26z"/><path fill="#cfcfcf" d="M1764 3652l9-1 10 1 54 22 12 8 12 13 1 7 0 14-3 18-4 15-6 11-29 24-26 30-5 4-8 2-10-1-8-4-13-27-21-22-24-21-5-5-2-8 1-10 4-9 32-31 18-24z"/><path fill="#d2d2d2" d="M1762 3654l11-2 10 2 54 24 8 8 12 22 2 8-4 27-5 11-5 7-42 33-10 5-12 2-8 8-4-2-10-13-23-24-31-26-4-5-2-7 1-10 3-8 31-28 21-28z"/><path fill="#d4d4d4" d="M1769 3654l14 1 50 25 10 10 13 26-2 22-9 19-34 26-16 7-26 0-10-3-31-27-21-15-5-5-2-6 1-14 4-7 33-29 19-26z"/><path fill="#d7d7d7" d="M1766 3656l9-1 8 2 16 10 31 15 11 12 12 24-1 20-9 18-28 20-18 9-26 1-12-4-32-25-20-14-6-9 0-10 4-10 35-30 17-24z"/><path fill="#dadada" d="M1766 3658l15 1 14 9 33 16 11 12 11 22 0 18-9 18-18 14-24 12-24 2-16-4-34-25-18-11-5-8 0-10 3-8 32-26 11-12 10-16z"/><path fill="#dcdcdc" d="M1762 3662l7-2 8 1 16 10 30 13 12 12 11 20 2 16-7 18-12 12-24 13-20 3-24-3-10-5-26-20-16-9-6-7 0-11 3-7 19-13 19-17z"/><path fill="#dfdfdf" d="M1765 3666l10-1 12 9 34 12 12 11 10 17 3 16-5 16-12 13-20 11-20 5-26-3-12-6-26-19-16-7-4-5-2-9 4-8 18-12 28-24z"/><path fill="#e2e2e2" d="M1763 3682l26-2 12 2 16 5 11 9 11 16 4 14-2 14-8 13-12 9-16 7-14 3-18-1-18-6-28-21-14-4-6-4-2-8 4-10 16-8 24-20z"/><path fill="#e4e4e4" d="M1783 3686l16-1 16 5 11 8 9 12 5 14 0 12-6 12-11 10-12 6-12 4-14 1-14-2-20-8-26-22-10 0-6-4-2-7 4-6 14-4 24-22 14-6z"/><path fill="#e7e7e7" d="M1782 3690l17-2 16 5 12 9 8 14 3 14-3 12-8 10-14 9-22 5-24-3-20-11-15-16-3-14 5-10 7-8 16-10zM1713 3726l2-2 2 2-2 3z"/><path fill="#eaeaea" d="M1791 3692l20 2 8 4 8 8 5 8 3 10-2 16-10 12-18 9-20 2-22-5-13-8-11-12-3-12 2-10 7-9 10-7z"/><path fill="#ececec" d="M1787 3696l16-1 12 4 10 8 6 11 2 12-3 10-7 9-12 7-20 4-20-3-17-9-10-14-1-14 8-12 12-7z"/><path fill="#efefef" d="M1784 3700l13-2 12 2 10 5 6 7 4 10 1 10-4 10-7 7-16 7-18 0-18-5-14-11-4-14 4-12 11-8z"/><path fill="#f2f2f2" d="M1792 3702l11 0 10 3 8 6 5 9 1 10-2 8-6 8-8 5-16 3-16-3-15-7-7-10-1-10 6-10 11-7z"/><path fill="#f4f4f4" d="M1790 3706l11-1 8 1 7 4 5 6 3 8 0 10-3 6-6 6-14 4-14 0-14-6-8-8-2-10 4-8 10-7z"/><path fill="#f7f7f7" d="M1790 3710l17-1 10 7 3 6 1 8-2 8-4 4-10 4-12 1-10-3-9-6-3-8 1-8 7-7z"/><path fill="#fafafa" d="M1792 3714l13-1 9 5 3 12-4 9-8 3-10 1-8-3-5-4-3-6 1-6 5-6z"/><path fill="#fcfcfc" d="M1796 3720l9-1 4 3 3 6-3 7-8 2-9-3-2-8z"/></g></g><g fill="none" stroke="#1f77b4" stroke-width="3.5" stroke-linejoin="round"><path d="M815.62,1721.41C817.44,1723.02 822.27,1728.05 826.5,1731.07C830.72,1734.09 836.97,1738.12 840.99,1739.53C845.02,1740.94 847.84,1739.13 850.66,1739.53C853.48,1739.93 855.89,1742.95 857.9,1741.94C859.92,1740.94 860.72,1735.1 862.74,1733.49C864.75,1731.88 867.57,1731.68 869.99,1732.28C872.4,1732.88 875.22,1734.5 877.23,1737.11C879.25,1739.73 882.07,1744.16 882.07,1747.99C882.07,1751.81 879.25,1756.44 877.23,1760.07C875.22,1763.69 872,1766.51 869.99,1769.73C867.97,1772.95 867.57,1775.37 865.15,1779.39C862.74,1783.42 859.11,1788.25 855.49,1793.89C851.86,1799.53 846.63,1806.37 843.41,1813.22C840.19,1820.06 838.38,1827.31 836.16,1834.96C833.95,1842.61 831.73,1851.07 830.12,1859.12C828.51,1867.18 827.5,1875.23 826.5,1883.28C825.49,1891.34 824.48,1900.2 824.08,1907.44C823.68,1914.69 823.27,1920.33 824.08,1926.77C824.89,1933.21 826.5,1941.27 828.91,1946.1C831.33,1950.93 834.95,1952.54 838.58,1955.76C842.2,1958.99 846.23,1962.61 850.66,1965.43C855.09,1968.25 859.92,1970.26 865.15,1972.68C870.39,1975.09 877.23,1978.11 882.07,1979.93C886.9,1981.74 890.92,1982.34 894.15,1983.55C897.37,1984.76 898.17,1987.37 901.39,1987.17C904.61,1986.97 909.85,1985.16 913.47,1982.34C917.1,1979.52 919.92,1975.09 923.14,1970.26C926.36,1965.43 929.98,1958.99 932.8,1953.35C935.62,1947.71 937.43,1942.07 940.05,1936.44C942.67,1930.8 947.1,1922.34 948.51,1919.52"/><path d="M978.71,1856.71C980.32,1853.49 985.55,1843.82 988.37,1837.38C991.19,1830.94 993.81,1825.3 995.62,1818.05C997.43,1810.8 998.84,1800.33 999.24,1793.89C999.65,1787.45 998.64,1784.63 998.04,1779.39C997.43,1774.16 996.02,1768.12 995.62,1762.48C995.22,1756.84 994.81,1751.21 995.62,1745.57C996.42,1739.93 998.04,1734.7 1000.45,1728.66C1002.87,1722.62 1007.1,1714.89 1010.12,1709.33C1013.14,1703.77 1017.16,1697.65 1018.57,1695.32"/><path d="M815.62,2023.41C816.63,2024.62 818.64,2028.25 821.66,2030.66C824.68,2033.08 829.72,2034.69 833.74,2037.91C837.77,2041.13 841.8,2047.17 845.82,2049.99C849.85,2052.81 853.88,2051.6 857.9,2054.82C861.93,2058.04 866.76,2067.51 869.99,2069.32C873.21,2071.13 874.82,2065.29 877.23,2065.69C879.65,2066.1 882.07,2069.12 884.48,2071.73C886.9,2074.35 889.31,2079.99 891.73,2081.4C894.15,2082.81 896.16,2082.2 898.98,2080.19C901.8,2078.18 905.82,2073.95 908.64,2069.32C911.46,2064.69 913.07,2059.25 915.89,2052.41C918.71,2045.56 922.33,2036.3 925.55,2028.25C928.78,2020.19 931.59,2012.54 935.22,2004.09C938.84,1995.63 943.27,1985.97 947.3,1977.51C951.33,1969.05 955.35,1961.4 959.38,1953.35C963.41,1945.3 967.43,1937.24 971.46,1929.19C975.49,1921.13 979.91,1911.87 983.54,1905.03C987.16,1898.18 990.79,1892.95 993.2,1888.12C995.62,1883.28 995.62,1880.46 998.04,1876.04C1000.45,1871.61 1004.48,1865.57 1007.7,1861.54C1010.92,1857.51 1014.14,1856.71 1017.36,1851.87C1020.59,1847.04 1025.42,1835.77 1027.03,1832.55"/><path d="M1072.93,1749.19C1073.74,1746.58 1076.56,1738.12 1077.76,1733.49C1078.97,1728.86 1079.98,1725.44 1080.18,1721.41C1080.38,1717.38 1079.17,1713.68 1078.97,1709.33C1078.77,1704.98 1078.97,1697.65 1078.97,1695.32"/></g><g fill="#1f77b4" font-size="25.8" text-anchor="middle" dominant-baseline="central"><text transform="translate(961.79,1888.12) rotate(-64.32)">1 %</text><text transform="translate(1051.19,1791.47) rotate(-61.16)">0.1 %</text></g><text x="1245.8" y="2093.6" fill="#fff" font-size="32.3" text-anchor="end">Ce II</text></g><rect x="814.3" y="1692.9" width="453.8" height="420.8" fill="none" stroke="#000" stroke-width="1.72"/><rect x="1294.9" y="1692.9" width="22.2" height="420.8" fill="url(#cbg)" stroke="#000" stroke-width="1.72"/><path d="M814.3,2113.7v8.6M955.89,2113.7v8.6M1097.48,2113.7v8.6M1239.07,2113.7v8.6M814.3,1729.01h-8.6M814.3,1813.32h-8.6M814.3,1897.62h-8.6M814.3,1981.93h-8.6M814.3,2066.24h-8.6M1317.1,2113.7h8.6M1317.1,2039.35h8.6M1317.1,1965.01h8.6M1317.1,1890.66h8.6M1317.1,1816.31h8.6M1317.1,1741.97h8.6" stroke="#000" stroke-width="1.72" fill="none"/><g font-size="25.8"><text x="814.3" y="2150.5" text-anchor="middle">2000</text><text x="955.89" y="2150.5" text-anchor="middle">4000</text><text x="1097.48" y="2150.5" text-anchor="middle">6000</text><text x="1239.07" y="2150.5" text-anchor="middle">8000</text><text x="797.4" y="1737.11" text-anchor="end">−1</text><text x="797.4" y="1821.42" text-anchor="end">−2</text><text x="797.4" y="1905.72" text-anchor="end">−3</text><text x="797.4" y="1990.03" text-anchor="end">−4</text><text x="797.4" y="2074.34" text-anchor="end">−5</text><text x="1334" y="2121.8">0</text><text x="1334" y="2047.45">1</text><text x="1334" y="1973.11">2</text><text x="1334" y="1898.76">3</text><text x="1334" y="1824.41">4</text><text x="1334" y="1750.07">5</text></g><text transform="translate(1386.4,1903.3) rotate(-90)" font-size="33" text-anchor="middle"><tspan dy="0">L</tspan><tspan font-size="23.1" dy="5.4">Bol,</tspan><tspan font-size="23.1" dy="0" dx="4.6">s</tspan><tspan dy="-5.4">/L</tspan><tspan font-size="23.1" dy="5.4">Bol</tspan><tspan dy="-5.4"> (%)</tspan></text><text x="1041.2" y="2191.9" font-size="33" text-anchor="middle">Temperature (K)</text><text transform="translate(736.3,1903.3) rotate(-90)" font-size="33" text-anchor="middle"><tspan dy="0">log</tspan><tspan font-size="23.1" dy="6" dx="1.8">10</tspan><tspan dy="-6" dx="1"> [M</tspan><tspan font-size="23.1" dy="5.4">ej</tspan><tspan dy="-5.4" dx="1.5"> (M</tspan><tspan font-size="23.1" dy="5" dx="5.3">⊙</tspan><tspan dy="-5" dx="6.3">) ]</tspan></text><g clip-path="url(#c32)"><g filter="url(#cm)"><rect x="1514.9" y="1682.9" width="474" height="440" fill="#030303"/><g transform="scale(.5)" fill-rule="evenodd"><path fill="#050505" d="M3030 3366l948 0 0 833-24 1-17 8-5 6-4 10-1 22-897 0z"/><path fill="#080808" d="M3030 3366l948 0 0 823-26 1-12 4-10 8-8 10-4 10-1 24-887 0z"/><path fill="#0b0b0b" d="M3030 3366l948 0 0 813-20 0-10 3-12 5-12 9-8 10-7 14-2 6 0 20-877 0z"/><path fill="#0d0d0d" d="M3030 3366l948 0 0 805-20 0-10 2-14 6-14 11-12 14-7 14-2 8 0 20-869 0z"/><path fill="#101010" d="M3030 3366l948 0 0 796-20 0-12 3-16 8-14 11-14 16-9 16-3 10 0 20-860 0z"/><path fill="#131313" d="M3030 3366l948 0 0 788-20 0-14 4-18 9-16 13-14 16-10 18-4 12 0 20-852 0z"/><path fill="#151515" d="M3030 3366l948 0 0 779-20 0-16 5-18 10-18 15-17 19-12 20-4 12 0 20-843 0z"/><path fill="#181818" d="M3030 3366l948 0 0 770-20 0-16 5-20 11-20 17-19 21-14 22-6 14 0 20-833 0z"/><path fill="#1b1b1b" d="M3030 3366l948 0 0 760-20 0-16 5-22 14-22 19-22 24-18 24-6 14 0 20-822 0z"/><path fill="#1d1d1d" d="M3030 3366l948 0 0 748-20 0-14 6-22 14-26 22-32 34-19 24-5 12 0 20-810 0z"/><path fill="#202020" d="M3030 3366l948 0 0 735-20 0-12 6-24 17-28 24-61 64-7 14 0 20-796 0z"/><path fill="#232323" d="M3030 3366l948 0 0 720-20 0-16 10-42 37-48 48-31 25-5 6-3 8 0 26-783 0z"/><path fill="#252525" d="M3030 3366l948 0 0 704-20 0-6 3-22 19-82 82-28 19-17 9-2 6 0 38-771 0z"/><path fill="#282828" d="M3030 3366l948 0 0 693-20 0-14 6-100 101-48 30-5 12-1 38-760 0z"/><path fill="#2a2a2a" d="M3030 3366l948 0 0 683-22 1-10 4-10 6-90 92-14 12-38 25-6 7-4 10-2 40-752 0z"/><path fill="#2d2d2d" d="M3030 3366l948 0 0 675-26 1-22 12-16 14-70 74-54 42-9 12-5 12-2 18 0 20-744 0z"/><path fill="#303030" d="M3030 3366l948 0 0 666-20 0-8 2-14 6-12 7-18 17-66 70-52 43-10 13-8 16-3 20 0 20-737 0z"/><path fill="#323232" d="M3030 3366l948 0 0 658-20 0-10 2-15 6-15 9-23 21-61 65-46 41-14 17-9 19-5 22 0 20-730 0z"/><path fill="#353535" d="M3030 3366l948 0 0 649-20 0-14 3-16 7-16 10-23 21-60 64-41 39-17 21-11 20-7 24 0 22-723 0z"/><path fill="#383838" d="M3030 3366l948 0 0 640-26 1-26 9-26 18-31 30-83 88-19 24-11 18-8 20-3 12 0 20-715 0z"/><path fill="#3a3a3a" d="M3030 3366l948 0 0 630-28 1-14 5-16 8-30 22-39 38-67 74-24 32-11 20-9 20-2 10 0 20-708 0z"/><path fill="#3d3d3d" d="M3030 3366l948 0 0 620-20 0-10 2-32 14-35 26-45 44-58 69-27 39-19 38-2 8 0 20-700 0z"/><path fill="#404040" d="M3030 3366l948 0 0 608-20 0-8 2-16 6-18 10-38 28-51 48-19 22-36 48-36 56-14 28-1 24-691 0z"/><path fill="#424242" d="M3030 3366l948 0 0 595-26 2-14 5-18 11-44 31-58 54-16 19-32 46-51 79-8 18 0 20-681 0z"/><path fill="#454545" d="M3030 3366l948 0 0 580-22 0-26 14-58 42-63 58-19 26-58 91-27 35-6 14 0 20-669 0z"/><path fill="#484848" d="M3030 3366l948 0 0 560-20 0-16 10-74 58-68 62-12 17-56 92-14 19-27 26-5 14 0 22-656 0z"/><path fill="#4a4a4a" d="M3030 3366l948 0 0 538-20 0-5 2-55 54-34 26-73 66-63 107-16 20-39 25 0 42-643 0z"/><path fill="#4d4d4d" d="M3030 3366l948 0 0 524-20 0-14 7-54 57-30 24-75 68-63 108-16 18-34 18-9 8-3 10-1 38-629 0z"/><path fill="#505050" d="M3030 3366l948 0 0 513-22 0-10 4-11 7-52 56-103 94-10 15-56 95-14 14-32 18-12 12-7 18-1 34-618 0z"/><path fill="#525252" d="M3030 3366l948 0 0 503-26 1-12 5-12 8-54 58-97 91-15 20-40 70-14 20-14 14-34 22-13 14-8 22-2 32-607 0z"/><path fill="#555555" d="M3030 3366l948 0 0 492-20 0-10 3-14 6-12 8-16 16-43 47-89 86-18 24-38 64-14 20-16 16-34 24-14 16-6 12-5 14-2 12 0 20-597 0z"/><path fill="#585858" d="M3030 3366l948 0 0 482-20 0-12 3-16 7-14 10-18 17-44 49-84 83-20 26-36 59-16 23-15 15-36 28-15 18-8 14-4 14-2 12 0 20-588 0z"/><path fill="#5a5a5a" d="M3030 3366l948 0 0 471-20 0-14 4-16 7-16 11-20 19-47 52-77 78-24 30-36 57-16 22-16 17-36 30-17 20-7 14-6 16-2 12 0 20-578 0z"/><path fill="#5d5d5d" d="M3030 3366l948 0 0 460-20 0-14 4-18 8-18 12-24 23-48 53-71 74-26 32-53 78-16 17-38 34-17 21-9 16-6 16-2 12 0 20-568 0z"/><path fill="#606060" d="M3030 3366l948 0 0 449-20 0-16 4-18 8-20 15-28 26-114 123-27 33-55 80-17 18-39 36-18 22-9 16-6 16-3 14 0 20-558 0z"/><path fill="#626262" d="M3030 3366l948 0 0 436-20 0-16 4-20 11-20 14-35 33-108 118-30 36-58 82-57 57-19 23-9 16-7 18-2 12 0 20-547 0z"/><path fill="#656565" d="M3030 3366l948 0 0 422-20 0-14 4-20 11-22 16-42 40-104 114-31 37-63 87-58 59-19 22-9 16-7 18-3 14 0 20-536 0z"/><path fill="#686868" d="M3030 3366l948 0 0 407-20 0-12 4-20 11-24 19-50 47-101 112-30 36-71 96-58 58-19 22-9 16-7 18-3 14 0 20-524 0z"/><path fill="#6a6a6a" d="M3030 3366l948 0 0 391-22 0-14 7-18 12-42 36-50 51-106 119-91 120-54 52-20 22-9 16-8 22-3 12 0 20-511 0z"/><path fill="#6d6d6d" d="M3030 3366l948 0 0 373-22 1-32 22-38 34-60 60-106 120-96 125-76 73-9 16-11 32-1 24-497 0z"/><path fill="#707070" d="M3030 3366l948 0 0 358-22 1-20 14-32 26-71 71-120 134-99 128-78 70-23 58 0 20-483 0z"/><path fill="#727272" d="M3030 3366l948 0 0 348-20 0-11 4-51 42-75 76-113 126-102 130-78 68-8 12-19 50-2 24-469 0z"/><path fill="#757575" d="M3030 3366l948 0 0 339-20 0-16 5-19 14-33 29-77 79-107 118-109 134-75 67-13 19-17 40-5 16 0 20-457 0z"/><path fill="#787878" d="M3030 3366l948 0 0 331-22 0-18 6-20 14-31 27-82 84-99 108-118 140-72 65-16 23-17 36-7 26 0 20-446 0z"/><path fill="#7a7a7a" d="M3030 3366l948 0 0 322-22 1-21 7-22 14-29 26-84 84-78 84-142 161-68 65-20 26-18 36-9 30 0 24-435 0z"/><path fill="#7d7d7d" d="M3030 3366l948 0 0 314-24 1-22 7-22 14-30 26-111 112-83 88-112 124-64 64-25 32-20 36-11 34-1 28-423 0z"/><path fill="#808080" d="M3030 3366l948 0 0 306-24 0-22 8-24 14-31 26-150 150-209 221-35 41-24 40-15 40-3 14 0 20-411 0z"/><path fill="#828282" d="M3030 3366l948 0 0 297-24 1-22 7-24 13-30 24-39 36-108 108-183 187-58 66-20 27-15 24-13 26-9 24-4 20 0 20-399 0z"/><path fill="#858585" d="M3030 3366l948 0 0 288-24 1-22 6-26 15-31 24-46 42-215 214-72 68-24 27-36 47-39 58-13 26-9 24-5 20 0 20-386 0z"/><path fill="#878787" d="M3030 3366l948 0 0 278-22 0-24 8-28 16-30 22-49 44-219 213-74 66-30 37-51 74-21 34-14 28-9 24-4 16 0 20-373 0z"/><path fill="#8a8a8a" d="M3030 3366l948 0 0 267-22 0-22 7-30 18-32 23-49 43-225 214-76 63-22 28-84 133-15 30-8 22-3 12 0 20-360 0z"/><path fill="#8d8d8d" d="M3030 3366l948 0 0 254-20 0-20 7-32 19-34 25-50 42-234 217-22 18-40 28-14 12-18 24-34 62-40 60-18 32-24 50-2 10 0 20-346 0z"/><path fill="#8f8f8f" d="M3030 3366l948 0 0 238-20 0-14 5-72 51-54 44-242 221-20 14-42 26-13 11-17 25-35 71-45 70-36 64-6 18 0 22-332 0z"/><path fill="#929292" d="M3030 3366l948 0 0 215-20 0-14 9-32 28-97 76-89 82-56 46-105 96-15 10-50 28-11 8-13 22-36 82-44 70-26 44-18 26-3 14 0 24-319 0z"/><path fill="#959595" d="M3030 3366l948 0 0 185-20 0-4 2-49 57-96 76-93 84-50 40-111 100-79 43-45 111-67 110-13 18-12 10-1 44-308 0z"/><path fill="#979797" d="M3030 3366l948 0 0 170-20 0-14 7-53 63-91 74-94 83-47 37-109 96-80 47-8 13-39 104-65 107-27 33-2 10 0 36-299 0z"/><path fill="#9a9a9a" d="M3030 3366l948 0 0 160-24 0-10 4-10 7-15 15-33 41-29 27-67 54-90 78-53 42-103 89-66 42-13 11-13 20-40 104-57 96-29 40-4 16-1 34-291 0z"/><path fill="#9d9d9d" d="M3030 3366l948 0 0 150-28 1-14 6-12 8-15 15-36 42-28 26-207 170-100 87-62 43-16 15-9 11-7 14-31 82-12 26-49 84-32 48-5 20-1 32-284 0z"/><path fill="#9f9f9f" d="M3030 3366l948 0 0 140-20 0-14 3-15 7-15 10-17 16-37 41-25 23-201 163-102 90-58 45-18 17-12 15-8 16-31 80-14 30-40 70-36 58-7 24-1 32-277 0z"/><path fill="#a2a2a2" d="M3030 3366l948 0 0 130-20 0-18 4-18 8-17 12-77 74-202 164-154 135-18 17-14 18-11 20-33 84-16 34-70 120-7 26-2 34-271 0z"/><path fill="#a5a5a5" d="M3030 3366l948 0 0 121-22 0-20 4-20 9-22 15-80 73-120 94-80 67-58 52-104 99-14 18-12 20-50 118-70 126-10 30-1 34-265 0z"/><path fill="#a7a7a7" d="M3030 3366l948 0 0 111-24 0-22 5-24 11-25 17-79 69-115 87-55 46-86 78-94 95-20 25-16 26-51 118-65 123-12 35-2 34-258 0z"/><path fill="#aaaaaa" d="M3030 3366l948 0 0 100-26 0-26 7-27 13-29 20-76 63-107 79-43 34-102 96-78 82-30 36-20 32-56 126-58 113-15 41-3 18 0 20-252 0z"/><path fill="#adadad" d="M3030 3366l948 0 0 88-28 1-26 7-30 14-34 23-76 59-103 74-35 27-100 96-52 55-60 73-17 25-14 24-52 118-62 128-12 36-2 32-245 0z"/><path fill="#afafaf" d="M3030 3366l948 0 0 75-22 0-20 5-24 9-28 14-32 21-84 62-98 68-27 20-21 19-120 124-34 41-34 44-22 32-15 28-54 120-45 92-15 36-13 38-2 32-238 0z"/><path fill="#b2b2b2" d="M3030 3366l948 0 0 60-20 0-20 4-26 11-34 18-40 25-184 127-22 17-18 16-110 118-30 37-32 43-32 47-20 35-105 230-22 56-2 16 0 20-231 0z"/><path fill="#b5b5b5" d="M3030 3366l948 0 0 36-20 0-10 4-86 47-42 26-186 127-28 24-44 52-58 62-28 34-30 42-41 62-22 38-95 208-30 72-5 20 0 26-223 0z"/><path fill="#b7b7b7" d="M3030 3366l892 0-1 24-6 10-11 10-94 58-205 140-11 12-42 54-46 50-34 42-34 49-53 85-44 90-62 138-16 44-16 32-3 16-1 26-213 0z"/><path fill="#bababa" d="M3030 3366l864 0 0 20-2 6-6 6-82 52-210 148-52 70-46 51-34 43-31 46-55 92-50 100-57 128-13 41-22 33-1 44-203 0z"/><path fill="#bdbdbd" d="M3030 3366l807 0-1 22-6 10-9 10-71 56-166 126-50 69-46 53-35 46-29 45-56 94-51 99-56 126-15 42-26 36-2 10 1 36-189 0z"/><path fill="#bfbfbf" d="M3030 3366l746 0 0 20-2 10-7 14-13 16-22 24-35 32-122 102-50 68-51 62-34 48-79 130-48 88-45 94-32 78-29 40-6 20-1 34-170 0z"/><path fill="#c2c2c2" d="M3030 3366l704 0 0 22-4 16-8 18-14 20-44 48-80 70-19 20-49 66-50 63-38 55-133 226-73 149-35 49-9 26-2 32-146 0z"/><path fill="#c5c5c5" d="M3030 3366l673 0 0 24-4 18-9 20-14 22-34 40-68 65-20 22-94 125-36 52-62 104-83 134-69 123-13 19-29 34-10 16-8 16-5 16-2 30-113 0z"/><path fill="#c7c7c7" d="M3030 3366l648 0 0 24-4 20-9 22-13 22-29 36-77 80-86 116-42 62-90 148-124 183-26 31-64 62-31 36-10 18 0 20-43 0z"/><path fill="#cacaca" d="M3030 3366l628 0-1 24-3 20-9 22-12 22-26 34-71 79-78 106-44 65-76 126-56 77-80 98-22 24-20 17-28 20-30 16-28 10-24 4-20 0z"/><path fill="#cdcdcd" d="M3030 3366l609 0 0 24-3 20-8 22-13 22-22 30-69 81-68 94-46 69-70 117-44 60-32 36-46 47-30 28-26 20-26 16-28 13-28 8-28 3-22 0z"/><path fill="#cfcfcf" d="M3030 3366l593 0 0 24-4 20-7 20-12 22-21 30-67 82-58 81-48 73-69 114-39 53-28 30-34 31-36 29-32 22-28 15-28 11-28 7-30 3-24 0z"/><path fill="#d2d2d2" d="M3030 3366l578 0-1 24-3 18-7 20-11 22-21 30-66 84-47 67-49 75-69 115-36 48-24 25-28 23-34 24-36 21-30 14-30 10-30 7-30 3-26 0z"/><path fill="#d4d4d4" d="M3030 3366l563 0 0 22-3 18-7 20-10 20-25 36-64 84-37 54-48 74-69 116-34 46-20 20-24 19-28 17-32 16-32 13-32 10-32 7-32 3-34 1z"/><path fill="#d7d7d7" d="M3030 3366l550 0-1 22-2 16-7 18-10 20-27 40-58 78-38 56-45 70-64 109-32 45-16 17-16 13-20 13-22 11-60 21-64 12-32 3-36 0z"/><path fill="#dadada" d="M3030 3366l536 0 0 22-2 12-14 31-37 57-52 72-43 64-102 172-22 30-18 19-20 15-22 11-42 13-54 10-52 5-56 1z"/><path fill="#dcdcdc" d="M3030 3366l522 0 0 22-4 16-46 78-51 70-43 66-104 176-28 35-13 11-13 8-30 9-52 7-66 5-72 1z"/><path fill="#dfdfdf" d="M3030 3366l507 0 0 20-2 8-50 88-47 64-43 68-81 141-18 28-22 28-22 19-30 7-192 3z"/><path fill="#e2e2e2" d="M3030 3366l480 0 0 20-2 8-40 80-51 74-40 66-79 138-28 37-12 12-12 8-12 4-16 1-108-5-80-1z"/><path fill="#e4e4e4" d="M3030 3366l445 0-1 22-3 18-12 32-14 28-47 74-108 186-24 31-12 11-12 8-16 6-18 1-102-7-76-2z"/><path fill="#e7e7e7" d="M3030 3366l404 0 0 28-5 24-10 28-15 32-78 137-32 53-30 41-14 13-12 9-20 8-24 3-164-4z"/><path fill="#eaeaea" d="M3030 3366l358 0-1 34-7 32-12 36-21 44-33 60-32 50-26 32-26 22-26 13-34 7-48 2-92 1z"/><path fill="#ececec" d="M3030 3366l309 0 0 34-5 30-9 32-15 36-20 38-22 33-22 27-24 22-32 19-40 13-54 7-66 2z"/><path fill="#efefef" d="M3030 3366l263 0 0 28-3 24-6 26-9 26-11 26-16 26-16 21-18 19-18 15-18 12-40 17-50 10-58 3z"/><path fill="#f2f2f2" d="M3030 3366l221 0-1 42-9 38-17 37-23 33-16 16-17 13-20 12-20 9-22 8-24 4-52 3z"/><path fill="#f4f4f4" d="M3030 3366l184 0-1 36-7 30-13 30-17 26-14 14-16 13-34 19-38 10-44 2z"/><path fill="#f7f7f7" d="M3030 3366l151 0-1 30-6 26-10 24-15 22-24 22-29 15-30 8-36 1z"/><path fill="#fafafa" d="M3030 3366l120 0 0 26-5 22-9 20-13 18-19 16-22 11-24 5-28 1z"/><path fill="#fcfcfc" d="M3030 3366l90 0 0 22-3 16-7 16-10 14-14 11-16 7-16 4-24 0z"/><path fill="#ffffff" d="M3030 3366l57 0-1 28-4 10-5 8-9 6-10 4-28 1z"/></g></g><g fill="none" stroke="#1f77b4" stroke-width="3.5" stroke-linejoin="round"><path d="M1526.83,1917.11C1534.08,1917.11 1555.82,1917.19 1570.32,1917.11C1584.82,1917.03 1604.55,1917.23 1613.81,1916.62C1623.07,1916.02 1622.27,1915.42 1625.89,1913.48C1629.51,1911.55 1632.33,1908.45 1635.55,1905.03C1638.78,1901.61 1642,1897.38 1645.22,1892.95C1648.44,1888.52 1651.66,1883.69 1654.88,1878.45C1658.1,1873.22 1661.33,1867.18 1664.55,1861.54C1667.77,1855.9 1670.99,1850.26 1674.21,1844.63C1677.43,1838.99 1680.65,1833.35 1683.87,1827.71C1687.1,1822.08 1689.91,1816.84 1693.54,1810.8C1697.16,1804.76 1701.59,1797.92 1705.62,1791.47C1709.65,1785.03 1713.67,1778.19 1717.7,1772.15C1721.73,1766.11 1725.95,1760.47 1729.78,1755.23C1733.61,1750 1738.84,1743.15 1740.65,1740.74"/><path d="M1615.02,2115.22C1615.02,2112.81 1614.01,2104.35 1615.02,2100.73C1616.02,2097.1 1619.04,2096.3 1621.06,2093.48C1623.07,2090.66 1625.08,2088.65 1627.1,2083.81C1629.11,2078.98 1630.52,2071.33 1633.14,2064.49C1635.76,2057.64 1639.58,2049.99 1642.8,2042.74C1646.02,2035.49 1649.24,2028.25 1652.47,2021C1655.69,2013.75 1658.51,2006.9 1662.13,1999.25C1665.75,1991.6 1670.18,1983.15 1674.21,1975.09C1678.24,1967.04 1681.86,1958.99 1686.29,1950.93C1690.72,1942.88 1695.96,1934.83 1700.79,1926.77C1705.62,1918.72 1710.45,1910.26 1715.28,1902.61C1720.12,1894.96 1724.54,1888.12 1729.78,1880.87C1735.01,1873.62 1741.05,1865.97 1746.69,1859.12C1752.33,1852.28 1759.78,1844.02 1763.6,1839.79C1767.43,1835.57 1768.64,1834.76 1769.64,1833.75"/><path d="M1833.67,1770.94C1837.29,1768.32 1847.76,1760.67 1855.41,1755.23C1863.06,1749.8 1871.52,1743.96 1879.57,1738.32C1887.63,1732.68 1896.49,1726.24 1903.73,1721.41C1910.98,1716.58 1916.62,1713.68 1923.06,1709.33C1929.51,1704.98 1939.17,1697.65 1942.39,1695.32"/><path d="M1668.17,2115.22C1668.17,2112.81 1667.16,2103.95 1668.17,2100.73C1669.18,2097.51 1672,2098.31 1674.21,2095.9C1676.43,2093.48 1678.64,2090.66 1681.46,2086.23C1684.28,2081.8 1687.5,2075.36 1691.12,2069.32C1694.75,2063.28 1699.18,2056.43 1703.2,2049.99C1707.23,2043.55 1713.27,2033.88 1715.28,2030.66"/><path d="M1775.68,1954.56C1778.5,1951.94 1786.56,1944.29 1792.6,1938.85C1798.64,1933.42 1805.08,1927.98 1811.93,1921.94C1818.77,1915.9 1826.42,1908.65 1833.67,1902.61C1840.92,1896.57 1847.76,1892.14 1855.41,1885.7C1863.06,1879.26 1871.52,1871.2 1879.57,1863.96C1887.63,1856.71 1895.68,1849.06 1903.73,1842.21C1911.79,1835.37 1919.84,1829.33 1927.9,1822.88C1935.95,1816.44 1944,1811.61 1952.06,1803.55C1960.11,1795.5 1972.19,1779.39 1976.22,1774.56"/><path d="M1805.88,2048.78C1808.5,2045.36 1816.15,2035.29 1821.59,2028.25C1827.03,2021.2 1832.86,2013.75 1838.5,2006.5C1844.14,1999.25 1849.37,1992.01 1855.41,1984.76C1861.45,1977.51 1868.3,1970.26 1874.74,1963.01C1881.18,1955.76 1887.63,1948.52 1894.07,1941.27C1900.51,1934.02 1906.96,1926.37 1913.4,1919.52C1919.84,1912.68 1926.28,1906.64 1932.73,1900.2C1939.17,1893.75 1946.42,1886.1 1952.06,1880.87C1957.69,1875.63 1962.53,1872.01 1966.55,1868.79C1970.58,1865.57 1974.61,1862.75 1976.22,1861.54"/><path d="M1834.64,2115.22C1834.68,2112.81 1833.43,2103.95 1834.88,2100.73C1836.33,2097.51 1839.91,2097.91 1843.33,2095.9C1846.76,2093.88 1851.79,2091.87 1855.41,2088.65C1859.04,2085.43 1862.66,2080.19 1865.08,2076.57C1867.49,2072.94 1869.1,2068.51 1869.91,2066.9"/><path d="M1932.73,1990.8C1935.14,1988.99 1942.39,1984.15 1947.22,1979.93C1952.06,1975.7 1956.89,1970.26 1961.72,1965.43C1966.55,1960.6 1973.8,1953.35 1976.22,1950.93"/><path d="M1898.9,2115.22C1898.98,2112.81 1897.78,2103.95 1899.39,2100.73C1901,2097.51 1904.62,2098.31 1908.57,2095.9C1912.51,2093.48 1918.23,2090.26 1923.06,2086.23C1927.9,2082.2 1932.73,2076.57 1937.56,2071.73C1942.39,2066.9 1947.22,2062.07 1952.06,2057.24C1956.89,2052.41 1962.53,2046.57 1966.55,2042.74C1970.58,2038.92 1974.61,2035.7 1976.22,2034.29"/></g><g fill="#1f77b4" font-size="25.8" text-anchor="middle" dominant-baseline="central"><text transform="translate(1756.36,1711.74) rotate(-53.13)">10<tspan font-size="18.06" dy="-10.4">−6</tspan></text><text transform="translate(1795.01,1798.72) rotate(-44.45)">10<tspan font-size="18.06" dy="-10.4">−9</tspan></text><text transform="translate(1737.03,1975.09) rotate(-51.56)">10<tspan font-size="18.06" dy="-10.4">−12</tspan></text><text transform="translate(1766.02,2083.81) rotate(-52.59)">10<tspan font-size="18.06" dy="-10.4">−15</tspan></text><text transform="translate(1894.07,2025.83) rotate(-50.46)">10<tspan font-size="18.06" dy="-10.4">−18</tspan></text></g><text x="1956.7" y="2093.6" fill="#fff" font-size="32.3" text-anchor="end">Ce II</text></g><rect x="1524.9" y="1692.9" width="454.1" height="420.8" fill="none" stroke="#000" stroke-width="1.72"/><rect x="2005.8" y="1692.9" width="22.2" height="420.8" fill="url(#cbg)" stroke="#000" stroke-width="1.72"/><path d="M1524.9,2113.7v8.6M1666.58,2113.7v8.6M1808.27,2113.7v8.6M1949.95,2113.7v8.6M1524.9,1729.01h-8.6M1524.9,1813.32h-8.6M1524.9,1897.62h-8.6M1524.9,1981.93h-8.6M1524.9,2066.24h-8.6M2028,2053.41h8.6M2028,1992.1h8.6M2028,1930.79h8.6M2028,1869.48h8.6M2028,1808.17h8.6M2028,1746.85h8.6" stroke="#000" stroke-width="1.72" fill="none"/><g font-size="25.8"><text x="1524.9" y="2150.5" text-anchor="middle">2000</text><text x="1666.58" y="2150.5" text-anchor="middle">4000</text><text x="1808.27" y="2150.5" text-anchor="middle">6000</text><text x="1949.95" y="2150.5" text-anchor="middle">8000</text><text x="1508" y="1737.11" text-anchor="end">−1</text><text x="1508" y="1821.42" text-anchor="end">−2</text><text x="1508" y="1905.72" text-anchor="end">−3</text><text x="1508" y="1990.03" text-anchor="end">−4</text><text x="1508" y="2074.34" text-anchor="end">−5</text><text x="2044.9" y="2064.11">10<tspan font-size="18.06" dy="-9.7">−21</tspan></text><text x="2044.9" y="2002.8">10<tspan font-size="18.06" dy="-9.7">−18</tspan></text><text x="2044.9" y="1941.49">10<tspan font-size="18.06" dy="-9.7">−15</tspan></text><text x="2044.9" y="1880.18">10<tspan font-size="18.06" dy="-9.7">−12</tspan></text><text x="2044.9" y="1818.87">10<tspan font-size="18.06" dy="-9.7">−9</tspan></text><text x="2044.9" y="1757.55">10<tspan font-size="18.06" dy="-9.7">−6</tspan></text></g><text transform="translate(2151,1903.3) rotate(-90)" font-size="33" text-anchor="middle"><tspan dy="0">M</tspan><tspan font-size="23.1" dy="5.4">ej,</tspan><tspan font-size="23.1" dy="0" dx="4.6">s</tspan><tspan dy="-5.4" dx="1.5"> (M</tspan><tspan font-size="23.1" dy="5" dx="5.3">⊙</tspan><tspan dy="-5" dx="5.3">)</tspan></text><text x="1751.95" y="2191.9" font-size="33" text-anchor="middle">Temperature (K)</text><text transform="translate(1446.9,1903.3) rotate(-90)" font-size="33" text-anchor="middle"><tspan dy="0">log</tspan><tspan font-size="23.1" dy="6" dx="1.8">10</tspan><tspan dy="-6" dx="1"> [M</tspan><tspan font-size="23.1" dy="5.4">ej</tspan><tspan dy="-5.4" dx="1.5"> (M</tspan><tspan font-size="23.1" dy="5" dx="5.3">⊙</tspan><tspan dy="-5" dx="6.3">) ]</tspan></text></svg></body></html>
